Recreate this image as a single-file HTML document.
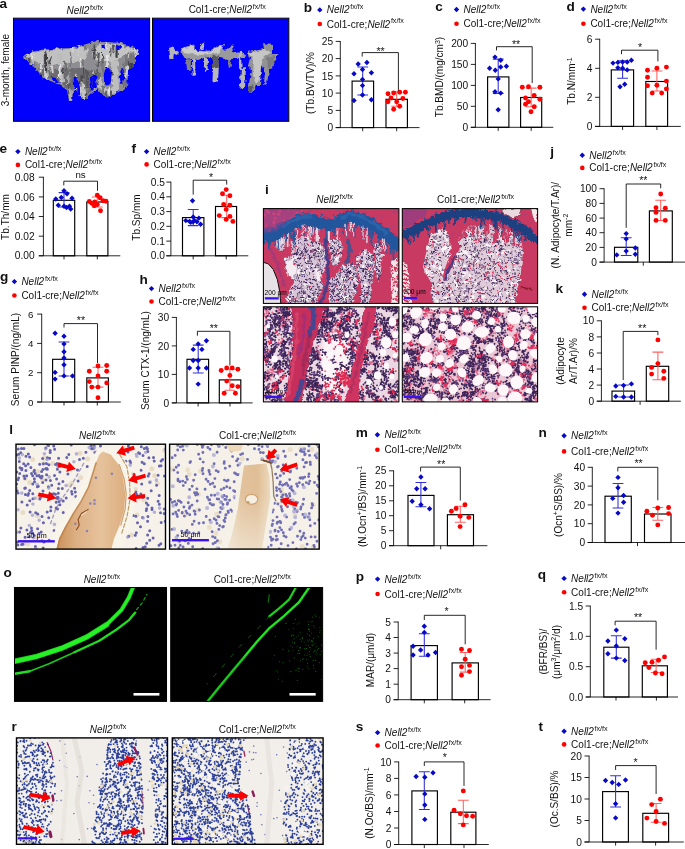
<!DOCTYPE html>
<html lang="en"><head><meta charset="utf-8"><title>Figure</title>
<style>html,body{margin:0;padding:0;background:#fff}svg{display:block}</style>
</head><body>
<svg width="685" height="849" viewBox="0 0 685 849" font-family='"Liberation Sans", Arial, Helvetica, sans-serif' fill="#111">
<defs>
<filter id="rough" x="-5%" y="-5%" width="110%" height="110%"><feTurbulence type="fractalNoise" baseFrequency="0.25" numOctaves="2" seed="3" result="n"/><feDisplacementMap in="SourceGraphic" in2="n" scale="4" xChannelSelector="R" yChannelSelector="G"/><feGaussianBlur stdDeviation="0.35"/></filter>
<clipPath id="cp1"><rect x="13.5" y="18.2" width="136.1" height="103.1"/></clipPath>
<clipPath id="cs2"><path d="M24 55L33 51.6L45 49.6L58 48.4L73 48L82 45L90 43L97 41L107 42L121 43L133 47L138.6 50L136 58L133 66L128 70L127 86L124 90L117 92L113 95L107 97L101 94L97 88L93 92L87 98L81 99L77 90L73 92L72 101L69 101L67 90L61 86L53 82L43 78L37 70L31 65L25 60Z"/></clipPath>
<clipPath id="cp3"><rect x="152.5" y="18.2" width="136.3" height="103.1"/></clipPath>
<filter id="rough3" x="-5%" y="-30%" width="110%" height="160%"><feTurbulence type="fractalNoise" baseFrequency="0.35" numOctaves="2" seed="5" result="n"/><feDisplacementMap in="SourceGraphic" in2="n" scale="7" xChannelSelector="R" yChannelSelector="G"/></filter>
<filter id="rough2" x="-5%" y="-5%" width="110%" height="110%"><feTurbulence type="fractalNoise" baseFrequency="0.18" numOctaves="2" seed="8" result="n"/><feDisplacementMap in="SourceGraphic" in2="n" scale="5" xChannelSelector="R" yChannelSelector="G"/><feGaussianBlur stdDeviation="0.4"/></filter>
<clipPath id="cp4"><rect x="263.4" y="208.6" width="135.5" height="94.8"/></clipPath>
<clipPath id="cp5"><rect x="402.3" y="208.6" width="135.3" height="94.8"/></clipPath>
<clipPath id="cp6"><rect x="263.4" y="306.8" width="135.5" height="95.1"/></clipPath>
<clipPath id="cp7"><rect x="402.3" y="306.8" width="135.3" height="95.1"/></clipPath>
<filter id="soft"><feGaussianBlur stdDeviation="0.6"/></filter>
<filter id="soft2"><feGaussianBlur stdDeviation="1.4"/></filter>
<linearGradient id="bone1" x1="0" y1="0" x2="1" y2="0"><stop offset="0" stop-color="#cb9058"/><stop offset="0.3" stop-color="#ddb084"/><stop offset="0.65" stop-color="#e6c29c"/><stop offset="1" stop-color="#dcae7e"/></linearGradient>
<linearGradient id="fadeb" x1="0" y1="0" x2="0" y2="1"><stop offset="0.35" stop-color="#f5f1e8" stop-opacity="0"/><stop offset="1" stop-color="#f5f1e8" stop-opacity="0.6"/></linearGradient>
<linearGradient id="bone2" x1="0" y1="0" x2="1" y2="0"><stop offset="0" stop-color="#ecd9bc"/><stop offset="0.35" stop-color="#e2c29c"/><stop offset="0.7" stop-color="#e0be96"/><stop offset="1" stop-color="#ecdabd"/></linearGradient>
<clipPath id="cp8"><rect x="16" y="444.2" width="149.5" height="104.9"/></clipPath>
<clipPath id="cp9"><rect x="169.6" y="444.2" width="149.6" height="104.9"/></clipPath>
<clipPath id="cp10"><rect x="14.5" y="587.5" width="152" height="113.9"/></clipPath>
<clipPath id="cp11"><rect x="170.7" y="587.5" width="151.9" height="113.9"/></clipPath>
<clipPath id="cp12"><rect x="16.5" y="737.9" width="151" height="106.4"/></clipPath>
<clipPath id="cp13"><rect x="172.3" y="737.9" width="150.8" height="106.4"/></clipPath>
</defs>
<text x="303.8" y="12.1" font-size="13.6" font-weight="bold">b</text>
<path d="M317.1 9.9L319.8 7.2L322.5 9.9L319.8 12.6Z" fill="#0808c8"/>
<text x="326.8" y="13.4" font-size="10" text-anchor="start"><tspan font-style="italic">Nell2</tspan><tspan font-size="7.1" dy="-4.1" dx="0.7">fx/fx</tspan></text>
<circle cx="319.8" cy="24" r="2.3" fill="#ff0000"/>
<text x="326.8" y="27.5" font-size="10" text-anchor="start">Col1-cre;<tspan font-style="italic">Nell2</tspan><tspan font-size="7.1" dy="-4.1" dx="0.7">fx/fx</tspan></text>
<text transform="translate(314.2 83) rotate(-90)" font-size="10.05" text-anchor="middle">(Tb.BV/TV)/%</text>
<rect x="352.1" y="81.1" width="21.5" height="46.5" fill="#fff" stroke="#000" stroke-width="1.15"/>
<rect x="386" y="99.3" width="21.4" height="28.3" fill="#fff" stroke="#000" stroke-width="1.15"/>
<path d="M340.3 41V127.6M335.7 127.6H419.5M335.7 41.4H340.3M335.7 58.6H340.3M335.7 75.9H340.3M335.7 93.1H340.3M335.7 110.4H340.3M335.7 127.6H340.3M362.7 127.6V131.2M396.7 127.6V131.2" stroke="#000" stroke-width="0.85" fill="none"/>
<text x="333.1" y="45" font-size="10.2" text-anchor="end">25</text>
<text x="333.1" y="62.2" font-size="10.2" text-anchor="end">20</text>
<text x="333.1" y="79.5" font-size="10.2" text-anchor="end">15</text>
<text x="333.1" y="96.7" font-size="10.2" text-anchor="end">10</text>
<text x="333.1" y="114" font-size="10.2" text-anchor="end">5</text>
<text x="333.1" y="131.2" font-size="10.2" text-anchor="end">0</text>
<path d="M362.7 67V95M357.3 67H368.1M357.3 95H368.1" stroke="#3030d8" stroke-width="1.05" fill="none"/>
<path d="M396.7 91.8V106.2M391.3 91.8H402.1M391.3 106.2H402.1" stroke="#ff6060" stroke-width="1.05" fill="none"/>
<path d="M355.5 64L358.2 61.3L360.9 64L358.2 66.7ZM364.2 62.5L366.9 59.8L369.6 62.5L366.9 65.2ZM351.3 73.7L354 71L356.7 73.7L354 76.4ZM359.8 69.5L362.5 66.8L365.2 69.5L362.5 72.2ZM368.7 72.7L371.4 70L374.1 72.7L371.4 75.4ZM359.8 79.4L362.5 76.7L365.2 79.4L362.5 82.1ZM359.8 85.6L362.5 82.9L365.2 85.6L362.5 88.3ZM359.8 95L362.5 92.3L365.2 95L362.5 97.7ZM351.3 100.5L354 97.8L356.7 100.5L354 103.2ZM368.7 99.8L371.4 97.1L374.1 99.8L371.4 102.5Z" fill="#0808c8"/>
<circle cx="388" cy="93.8" r="2.45" fill="#ff0000"/>
<circle cx="393.7" cy="93" r="2.45" fill="#ff0000"/>
<circle cx="399.7" cy="92.3" r="2.45" fill="#ff0000"/>
<circle cx="405.4" cy="92.3" r="2.45" fill="#ff0000"/>
<circle cx="391" cy="98" r="2.45" fill="#ff0000"/>
<circle cx="402.9" cy="98.5" r="2.45" fill="#ff0000"/>
<circle cx="388" cy="101.7" r="2.45" fill="#ff0000"/>
<circle cx="396.7" cy="101.7" r="2.45" fill="#ff0000"/>
<circle cx="399.7" cy="106.2" r="2.45" fill="#ff0000"/>
<circle cx="393.7" cy="109.2" r="2.45" fill="#ff0000"/>
<path d="M362.2 56.6V52.6H398.4V90.6" stroke="#000" stroke-width="0.85" fill="none"/>
<text x="380.6" y="54.8" font-size="10.6" text-anchor="middle">**</text>
<text x="435.3" y="10.6" font-size="13.6" font-weight="bold">c</text>
<path d="M453.8 9.5L456.5 6.8L459.2 9.5L456.5 12.2Z" fill="#0808c8"/>
<text x="463.5" y="13" font-size="10" text-anchor="start"><tspan font-style="italic">Nell2</tspan><tspan font-size="7.1" dy="-4.1" dx="0.7">fx/fx</tspan></text>
<circle cx="456.5" cy="23.8" r="2.3" fill="#ff0000"/>
<text x="463.5" y="27.3" font-size="10" text-anchor="start">Col1-cre;<tspan font-style="italic">Nell2</tspan><tspan font-size="7.1" dy="-4.1" dx="0.7">fx/fx</tspan></text>
<text transform="translate(443.4 77) rotate(-90)" font-size="10.05" text-anchor="middle">Tb.BMD/(mg/cm<tspan font-size="7" dy="-3.8">3</tspan><tspan dy="3.8">)</tspan></text>
<rect x="487.6" y="76.9" width="21.3" height="50.4" fill="#fff" stroke="#000" stroke-width="1.15"/>
<rect x="520.6" y="97.5" width="21.1" height="29.8" fill="#fff" stroke="#000" stroke-width="1.15"/>
<path d="M475.4 43V127.3M470.8 127.3H553.3M470.8 43.4H475.4M470.8 64.4H475.4M470.8 85.4H475.4M470.8 106.3H475.4M470.8 127.3H475.4M498.2 127.3V130.9M531.2 127.3V130.9" stroke="#000" stroke-width="0.85" fill="none"/>
<text x="468.2" y="47" font-size="10.2" text-anchor="end">200</text>
<text x="468.2" y="68" font-size="10.2" text-anchor="end">150</text>
<text x="468.2" y="89" font-size="10.2" text-anchor="end">100</text>
<text x="468.2" y="109.9" font-size="10.2" text-anchor="end">50</text>
<text x="468.2" y="130.9" font-size="10.2" text-anchor="end">0</text>
<path d="M498.2 59.1V93.5M492.8 59.1H503.6M492.8 93.5H503.6" stroke="#3030d8" stroke-width="1.05" fill="none"/>
<path d="M531.2 88.1V106.7M525.8 88.1H536.6M525.8 106.7H536.6" stroke="#ff6060" stroke-width="1.05" fill="none"/>
<path d="M492.3 57.1L495 54.4L497.7 57.1L495 59.8ZM498 60.3L500.7 57.6L503.4 60.3L500.7 63ZM486.9 68.2L489.6 65.5L492.3 68.2L489.6 70.9ZM492.6 70.2L495.3 67.5L498 70.2L495.3 72.9ZM498 67L500.7 64.3L503.4 67L500.7 69.7ZM503.7 66.3L506.4 63.6L509.1 66.3L506.4 69ZM495.5 78.9L498.2 76.2L500.9 78.9L498.2 81.6ZM492.3 91.8L495 89.1L497.7 91.8L495 94.5ZM498 93.1L500.7 90.4L503.4 93.1L500.7 95.8ZM495.5 109.7L498.2 107L500.9 109.7L498.2 112.4Z" fill="#0808c8"/>
<circle cx="522.3" cy="87.3" r="2.45" fill="#ff0000"/>
<circle cx="528.5" cy="86.8" r="2.45" fill="#ff0000"/>
<circle cx="539.9" cy="87.3" r="2.45" fill="#ff0000"/>
<circle cx="525.5" cy="98" r="2.45" fill="#ff0000"/>
<circle cx="534.2" cy="95.5" r="2.45" fill="#ff0000"/>
<circle cx="539.9" cy="99.3" r="2.45" fill="#ff0000"/>
<circle cx="528.5" cy="101.7" r="2.45" fill="#ff0000"/>
<circle cx="525.5" cy="104.2" r="2.45" fill="#ff0000"/>
<circle cx="534.2" cy="106.7" r="2.45" fill="#ff0000"/>
<circle cx="531" cy="111.7" r="2.45" fill="#ff0000"/>
<path d="M496.5 50.4V46.7H532.2V83.1" stroke="#000" stroke-width="0.85" fill="none"/>
<text x="516" y="47.9" font-size="10.6" text-anchor="middle">**</text>
<text x="566.5" y="11.3" font-size="13.6" font-weight="bold">d</text>
<path d="M580.7 9.1L583.4 6.4L586.1 9.1L583.4 11.8Z" fill="#0808c8"/>
<text x="590.4" y="12.6" font-size="10" text-anchor="start"><tspan font-style="italic">Nell2</tspan><tspan font-size="7.1" dy="-4.1" dx="0.7">fx/fx</tspan></text>
<circle cx="583.4" cy="23.7" r="2.3" fill="#ff0000"/>
<text x="590.4" y="27.2" font-size="10" text-anchor="start">Col1-cre;<tspan font-style="italic">Nell2</tspan><tspan font-size="7.1" dy="-4.1" dx="0.7">fx/fx</tspan></text>
<text transform="translate(575.4 81) rotate(-90)" font-size="10.05" text-anchor="middle">Tb.N/mm<tspan font-size="7" dy="-3.8">-1</tspan></text>
<rect x="611.3" y="69.9" width="22.3" height="56.5" fill="#fff" stroke="#000" stroke-width="1.15"/>
<rect x="645.8" y="81.5" width="21.8" height="44.9" fill="#fff" stroke="#000" stroke-width="1.15"/>
<path d="M599.7 38.8V126.4M595.1 126.4H680.8M595.1 39.2H599.7M595.1 68.3H599.7M595.1 97.3H599.7M595.1 126.4H599.7M622.6 126.4V130M656.9 126.4V130" stroke="#000" stroke-width="0.85" fill="none"/>
<text x="592.5" y="42.8" font-size="10.2" text-anchor="end">6</text>
<text x="592.5" y="71.9" font-size="10.2" text-anchor="end">4</text>
<text x="592.5" y="100.9" font-size="10.2" text-anchor="end">2</text>
<text x="592.5" y="130" font-size="10.2" text-anchor="end">0</text>
<path d="M622.6 60.8V78.3M617.2 60.8H628M617.2 78.3H628" stroke="#3030d8" stroke-width="1.05" fill="none"/>
<path d="M656.9 70.9V91M651.5 70.9H662.3M651.5 91H662.3" stroke="#ff6060" stroke-width="1.05" fill="none"/>
<path d="M610.3 63.1L613 60.4L615.7 63.1L613 65.8ZM615.2 62.4L617.9 59.7L620.6 62.4L617.9 65.1ZM619.9 62L622.6 59.3L625.3 62L622.6 64.7ZM624.5 62L627.2 59.3L629.9 62L627.2 64.7ZM628.7 60.3L631.4 57.6L634.1 60.3L631.4 63ZM615.2 67.7L617.9 65L620.6 67.7L617.9 70.4ZM619.9 68.2L622.6 65.5L625.3 68.2L622.6 70.9ZM624.5 69.9L627.2 67.2L629.9 69.9L627.2 72.6ZM622 84.3L624.7 81.6L627.4 84.3L624.7 87ZM617.3 86.8L620 84.1L622.7 86.8L620 89.5Z" fill="#0808c8"/>
<circle cx="647.5" cy="70.3" r="2.45" fill="#ff0000"/>
<circle cx="656.9" cy="68.2" r="2.45" fill="#ff0000"/>
<circle cx="666.4" cy="67.1" r="2.45" fill="#ff0000"/>
<circle cx="647.5" cy="77.3" r="2.45" fill="#ff0000"/>
<circle cx="666.4" cy="81.1" r="2.45" fill="#ff0000"/>
<circle cx="647.5" cy="85.7" r="2.45" fill="#ff0000"/>
<circle cx="656.9" cy="85.3" r="2.45" fill="#ff0000"/>
<circle cx="666.4" cy="88.9" r="2.45" fill="#ff0000"/>
<circle cx="652.2" cy="93.1" r="2.45" fill="#ff0000"/>
<circle cx="661.7" cy="93.1" r="2.45" fill="#ff0000"/>
<path d="M621.5 54.2V50.2H657.9V61.4" stroke="#000" stroke-width="0.85" fill="none"/>
<text x="640.1" y="50.7" font-size="10.6" text-anchor="middle">*</text>
<text x="-0.4" y="153.4" font-size="13.6" font-weight="bold">e</text>
<path d="M15.2 151.6L17.9 148.9L20.6 151.6L17.9 154.3Z" fill="#0808c8"/>
<text x="24.9" y="155.1" font-size="10" text-anchor="start"><tspan font-style="italic">Nell2</tspan><tspan font-size="7.1" dy="-4.1" dx="0.7">fx/fx</tspan></text>
<circle cx="17.9" cy="164.9" r="2.3" fill="#ff0000"/>
<text x="24.9" y="168.4" font-size="10" text-anchor="start">Col1-cre;<tspan font-style="italic">Nell2</tspan><tspan font-size="7.1" dy="-4.1" dx="0.7">fx/fx</tspan></text>
<text transform="translate(8.8 217) rotate(-90)" font-size="10.05" text-anchor="middle">Tb.Th/mm</text>
<rect x="53.3" y="200.3" width="21.4" height="55.5" fill="#fff" stroke="#000" stroke-width="1.15"/>
<rect x="86.8" y="202" width="21.1" height="53.8" fill="#fff" stroke="#000" stroke-width="1.15"/>
<path d="M43.4 176.8V255.8M38.8 255.8H120.3M38.8 177.2H43.4M38.8 196.9H43.4M38.8 216.5H43.4M38.8 236.2H43.4M38.8 255.8H43.4M64 255.8V259.4M97.3 255.8V259.4" stroke="#000" stroke-width="0.85" fill="none"/>
<text x="34.6" y="180.8" font-size="10.2" text-anchor="end">0.08</text>
<text x="34.6" y="200.5" font-size="10.2" text-anchor="end">0.06</text>
<text x="34.6" y="220.1" font-size="10.2" text-anchor="end">0.04</text>
<text x="34.6" y="239.8" font-size="10.2" text-anchor="end">0.02</text>
<text x="34.6" y="259.4" font-size="10.2" text-anchor="end">0.00</text>
<path d="M64 192.6V207M58.6 192.6H69.4M58.6 207H69.4" stroke="#3030d8" stroke-width="1.05" fill="none"/>
<path d="M97.3 197V207M91.9 197H102.7M91.9 207H102.7" stroke="#ff6060" stroke-width="1.05" fill="none"/>
<path d="M61.3 190.8L64 188.1L66.7 190.8L64 193.5ZM64.3 193.8L67 191.1L69.7 193.8L67 196.5ZM53.1 199L55.8 196.3L58.5 199L55.8 201.7ZM58.6 197.5L61.3 194.8L64 197.5L61.3 200.2ZM69.3 198.3L72 195.6L74.7 198.3L72 201ZM55.6 205.2L58.3 202.5L61 205.2L58.3 207.9ZM61.3 206.2L64 203.5L66.7 206.2L64 208.9ZM66.8 206.2L69.5 203.5L72.2 206.2L69.5 208.9ZM63.8 207.5L66.5 204.8L69.2 207.5L66.5 210.2ZM68 209L70.7 206.3L73.4 209L70.7 211.7Z" fill="#0808c8"/>
<circle cx="97.3" cy="195.3" r="2.45" fill="#ff0000"/>
<circle cx="100" cy="197.8" r="2.45" fill="#ff0000"/>
<circle cx="89.3" cy="201.5" r="2.45" fill="#ff0000"/>
<circle cx="94.8" cy="202" r="2.45" fill="#ff0000"/>
<circle cx="103" cy="200.8" r="2.45" fill="#ff0000"/>
<circle cx="106" cy="201.3" r="2.45" fill="#ff0000"/>
<circle cx="91.8" cy="203.2" r="2.45" fill="#ff0000"/>
<circle cx="97.3" cy="204.5" r="2.45" fill="#ff0000"/>
<circle cx="94.3" cy="205.7" r="2.45" fill="#ff0000"/>
<circle cx="100.5" cy="210.7" r="2.45" fill="#ff0000"/>
<path d="M63.8 185.4V181.2H97.5V190.8" stroke="#000" stroke-width="0.85" fill="none"/>
<text x="80.6" y="177.9" font-size="9.7" text-anchor="middle">ns</text>
<text x="131.5" y="153.2" font-size="13.6" font-weight="bold">f</text>
<path d="M143.9 151.6L146.6 148.9L149.3 151.6L146.6 154.3Z" fill="#0808c8"/>
<text x="153.6" y="155.1" font-size="10" text-anchor="start"><tspan font-style="italic">Nell2</tspan><tspan font-size="7.1" dy="-4.1" dx="0.7">fx/fx</tspan></text>
<circle cx="146.6" cy="164.4" r="2.3" fill="#ff0000"/>
<text x="153.6" y="167.9" font-size="10" text-anchor="start">Col1-cre;<tspan font-style="italic">Nell2</tspan><tspan font-size="7.1" dy="-4.1" dx="0.7">fx/fx</tspan></text>
<text transform="translate(140.2 217.5) rotate(-90)" font-size="10.05" text-anchor="middle">Tb.Sp/mm</text>
<rect x="182.5" y="217.6" width="21.4" height="38.2" fill="#fff" stroke="#000" stroke-width="1.15"/>
<rect x="215.5" y="206.5" width="21.1" height="49.3" fill="#fff" stroke="#000" stroke-width="1.15"/>
<path d="M170.9 181.7V255.8M166.3 255.8H248.3M166.3 182.1H170.9M166.3 196.8H170.9M166.3 211.6H170.9M166.3 226.3H170.9M166.3 241.1H170.9M166.3 255.8H170.9M193.2 255.8V259.4M226.2 255.8V259.4" stroke="#000" stroke-width="0.85" fill="none"/>
<text x="164.9" y="185.7" font-size="10.2" text-anchor="end">0.5</text>
<text x="164.9" y="200.4" font-size="10.2" text-anchor="end">0.4</text>
<text x="164.9" y="215.2" font-size="10.2" text-anchor="end">0.3</text>
<text x="164.9" y="229.9" font-size="10.2" text-anchor="end">0.2</text>
<text x="164.9" y="244.7" font-size="10.2" text-anchor="end">0.1</text>
<text x="164.9" y="259.4" font-size="10.2" text-anchor="end">0.0</text>
<path d="M193.2 209.4V225.6M187.8 209.4H198.6M187.8 225.6H198.6" stroke="#3030d8" stroke-width="1.05" fill="none"/>
<path d="M226.7 195.3V217.6M221.3 195.3H232.1M221.3 217.6H232.1" stroke="#ff6060" stroke-width="1.05" fill="none"/>
<path d="M189.8 200.8L192.5 198.1L195.2 200.8L192.5 203.5ZM190.5 216.9L193.2 214.2L195.9 216.9L193.2 219.6ZM196.2 218.1L198.9 215.4L201.6 218.1L198.9 220.8ZM183.1 220.6L185.8 217.9L188.5 220.6L185.8 223.3ZM186.8 221.4L189.5 218.7L192.2 221.4L189.5 224.1ZM190.5 221.8L193.2 219.1L195.9 221.8L193.2 224.5ZM194.2 221.8L196.9 219.1L199.6 221.8L196.9 224.5ZM188 222.3L190.7 219.6L193.4 222.3L190.7 225ZM197.9 224.3L200.6 221.6L203.3 224.3L200.6 227ZM191.7 220.6L194.4 217.9L197.1 220.6L194.4 223.3Z" fill="#0808c8"/>
<circle cx="226.2" cy="189.6" r="2.45" fill="#ff0000"/>
<circle cx="222.5" cy="193.8" r="2.45" fill="#ff0000"/>
<circle cx="229.9" cy="195.8" r="2.45" fill="#ff0000"/>
<circle cx="223.7" cy="204.5" r="2.45" fill="#ff0000"/>
<circle cx="229.9" cy="205.2" r="2.45" fill="#ff0000"/>
<circle cx="226.2" cy="209.4" r="2.45" fill="#ff0000"/>
<circle cx="219.3" cy="215.6" r="2.45" fill="#ff0000"/>
<circle cx="229.9" cy="216.4" r="2.45" fill="#ff0000"/>
<circle cx="226.2" cy="219.4" r="2.45" fill="#ff0000"/>
<circle cx="232.9" cy="221.4" r="2.45" fill="#ff0000"/>
<path d="M193.2 194.6V180.2H226.7V184.6" stroke="#000" stroke-width="0.85" fill="none"/>
<text x="211" y="181.2" font-size="10.6" text-anchor="middle">*</text>
<text x="0" y="281" font-size="13.6" font-weight="bold">g</text>
<path d="M11.7 281.6L14.4 278.9L17.1 281.6L14.4 284.3Z" fill="#0808c8"/>
<text x="21.4" y="285.1" font-size="10" text-anchor="start"><tspan font-style="italic">Nell2</tspan><tspan font-size="7.1" dy="-4.1" dx="0.7">fx/fx</tspan></text>
<circle cx="14.4" cy="295.5" r="2.3" fill="#ff0000"/>
<text x="21.4" y="299" font-size="10" text-anchor="start">Col1-cre;<tspan font-style="italic">Nell2</tspan><tspan font-size="7.1" dy="-4.1" dx="0.7">fx/fx</tspan></text>
<text transform="translate(19 359.5) rotate(-90)" font-size="10.05" text-anchor="middle">Serum PINP/(ng/mL)</text>
<rect x="52.6" y="359.3" width="22.1" height="42.7" fill="#fff" stroke="#000" stroke-width="1.15"/>
<rect x="86.8" y="377.9" width="21.6" height="24.1" fill="#fff" stroke="#000" stroke-width="1.15"/>
<path d="M41.7 313.7V402M37.1 402H120.8M37.1 314.1H41.7M37.1 343.4H41.7M37.1 372.7H41.7M37.1 402H41.7M64 402V405.6M97.3 402V405.6" stroke="#000" stroke-width="0.85" fill="none"/>
<text x="33.3" y="317.7" font-size="9.7" text-anchor="end">6</text>
<text x="33.3" y="347" font-size="9.7" text-anchor="end">4</text>
<text x="33.3" y="376.3" font-size="9.7" text-anchor="end">2</text>
<text x="33.3" y="405.6" font-size="9.7" text-anchor="end">0</text>
<path d="M64 341.9V375.9M58.6 341.9H69.4M58.6 375.9H69.4" stroke="#3030d8" stroke-width="1.05" fill="none"/>
<path d="M98 367.2V387.1M92.6 367.2H103.4M92.6 387.1H103.4" stroke="#ff6060" stroke-width="1.05" fill="none"/>
<path d="M52.4 333.2L55.1 330.5L57.8 333.2L55.1 335.9ZM61.3 336.2L64 333.5L66.7 336.2L64 338.9ZM61.3 343.9L64 341.2L66.7 343.9L64 346.6ZM61.3 351.8L64 349.1L66.7 351.8L64 354.5ZM61.3 358L64 355.3L66.7 358L64 360.7ZM61.3 364.8L64 362.1L66.7 364.8L64 367.5ZM52.4 372.4L55.1 369.7L57.8 372.4L55.1 375.1ZM61.3 375.9L64 373.2L66.7 375.9L64 378.6ZM69.8 375.9L72.5 373.2L75.2 375.9L72.5 378.6ZM52.4 379.1L55.1 376.4L57.8 379.1L55.1 381.8Z" fill="#0808c8"/>
<circle cx="98" cy="366" r="2.45" fill="#ff0000"/>
<circle cx="106.7" cy="365.5" r="2.45" fill="#ff0000"/>
<circle cx="89.3" cy="371.2" r="2.45" fill="#ff0000"/>
<circle cx="106.7" cy="371.2" r="2.45" fill="#ff0000"/>
<circle cx="98" cy="375.9" r="2.45" fill="#ff0000"/>
<circle cx="89.3" cy="381.6" r="2.45" fill="#ff0000"/>
<circle cx="106.7" cy="382.9" r="2.45" fill="#ff0000"/>
<circle cx="91.8" cy="387.1" r="2.45" fill="#ff0000"/>
<circle cx="98" cy="387.1" r="2.45" fill="#ff0000"/>
<circle cx="98" cy="397.8" r="2.45" fill="#ff0000"/>
<path d="M64 327.5V323.6H97.5V363" stroke="#000" stroke-width="0.85" fill="none"/>
<text x="80.9" y="323.5" font-size="10.6" text-anchor="middle">**</text>
<text x="139.6" y="284.4" font-size="13.6" font-weight="bold">h</text>
<path d="M148.8 288.6L151.5 285.9L154.2 288.6L151.5 291.3Z" fill="#0808c8"/>
<text x="158.5" y="292.1" font-size="10" text-anchor="start"><tspan font-style="italic">Nell2</tspan><tspan font-size="7.1" dy="-4.1" dx="0.7">fx/fx</tspan></text>
<circle cx="151.5" cy="301.5" r="2.3" fill="#ff0000"/>
<text x="158.5" y="305" font-size="10" text-anchor="start">Col1-cre;<tspan font-style="italic">Nell2</tspan><tspan font-size="7.1" dy="-4.1" dx="0.7">fx/fx</tspan></text>
<text transform="translate(148.6 360.5) rotate(-90)" font-size="10.05" text-anchor="middle">Serum CTX-1/(ng/mL)</text>
<rect x="187" y="359.3" width="21.6" height="43.6" fill="#fff" stroke="#000" stroke-width="1.15"/>
<rect x="219.3" y="379.9" width="21.5" height="23" fill="#fff" stroke="#000" stroke-width="1.15"/>
<path d="M176.4 317V402.9M171.8 402.9H252.7M171.8 317.4H176.4M171.8 345.9H176.4M171.8 374.4H176.4M171.8 402.9H176.4M198.1 402.9V406.5M230 402.9V406.5" stroke="#000" stroke-width="0.85" fill="none"/>
<text x="169.2" y="321" font-size="10.2" text-anchor="end">30</text>
<text x="169.2" y="349.5" font-size="10.2" text-anchor="end">20</text>
<text x="169.2" y="378" font-size="10.2" text-anchor="end">10</text>
<text x="169.2" y="406.5" font-size="10.2" text-anchor="end">0</text>
<path d="M198.2 345.1V372.9M192.8 345.1H203.6M192.8 372.9H203.6" stroke="#3030d8" stroke-width="1.05" fill="none"/>
<path d="M229.9 369.2V390.3M224.5 369.2H235.3M224.5 390.3H235.3" stroke="#ff6060" stroke-width="1.05" fill="none"/>
<path d="M203.7 340.7L206.4 338L209.1 340.7L206.4 343.4ZM195.5 343.9L198.2 341.2L200.9 343.9L198.2 346.6ZM190.5 349.4L193.2 346.7L195.9 349.4L193.2 352.1ZM199.2 349.4L201.9 346.7L204.6 349.4L201.9 352.1ZM195.5 360.5L198.2 357.8L200.9 360.5L198.2 363.2ZM190.5 360.5L193.2 357.8L195.9 360.5L193.2 363.2ZM186.8 368L189.5 365.3L192.2 368L189.5 370.7ZM195.5 368L198.2 365.3L200.9 368L198.2 370.7ZM203.7 368L206.4 365.3L209.1 368L206.4 370.7ZM195.5 384.1L198.2 381.4L200.9 384.1L198.2 386.8Z" fill="#0808c8"/>
<circle cx="221.2" cy="370.5" r="2.45" fill="#ff0000"/>
<circle cx="226.7" cy="368" r="2.45" fill="#ff0000"/>
<circle cx="232.2" cy="368" r="2.45" fill="#ff0000"/>
<circle cx="237.9" cy="369.2" r="2.45" fill="#ff0000"/>
<circle cx="229.9" cy="375.4" r="2.45" fill="#ff0000"/>
<circle cx="226.7" cy="381.1" r="2.45" fill="#ff0000"/>
<circle cx="232.2" cy="385.8" r="2.45" fill="#ff0000"/>
<circle cx="237.9" cy="386.6" r="2.45" fill="#ff0000"/>
<circle cx="224.2" cy="393.3" r="2.45" fill="#ff0000"/>
<circle cx="235.4" cy="393.3" r="2.45" fill="#ff0000"/>
<path d="M197.4 335.7V331.3H229.9V365.5" stroke="#000" stroke-width="0.85" fill="none"/>
<text x="213.8" y="331.5" font-size="10.6" text-anchor="middle">**</text>
<text x="550.2" y="155.9" font-size="13.6" font-weight="bold">j</text>
<path d="M579.6 155.2L582.3 152.5L585 155.2L582.3 157.9Z" fill="#0808c8"/>
<text x="589.3" y="158.7" font-size="10" text-anchor="start"><tspan font-style="italic">Nell2</tspan><tspan font-size="7.1" dy="-4.1" dx="0.7">fx/fx</tspan></text>
<circle cx="582.3" cy="167.9" r="2.3" fill="#ff0000"/>
<text x="589.3" y="171.4" font-size="10" text-anchor="start">Col1-cre;<tspan font-style="italic">Nell2</tspan><tspan font-size="7.1" dy="-4.1" dx="0.7">fx/fx</tspan></text>
<text transform="translate(559.2 225.2) rotate(-90)" font-size="10.05" text-anchor="middle">(N. Adipocyte/T.Ar)/</text>
<text transform="translate(572 225.2) rotate(-90)" font-size="10.05" text-anchor="middle">mm<tspan font-size="7" dy="-3.8">-2</tspan></text>
<rect x="614.5" y="247.3" width="23.3" height="14.8" fill="#fff" stroke="#000" stroke-width="1.15"/>
<rect x="649.4" y="210.9" width="22.9" height="51.2" fill="#fff" stroke="#000" stroke-width="1.15"/>
<path d="M604.1 188.3V262.1M599.5 262.1H686M599.5 188.7H604.1M599.5 203.4H604.1M599.5 218.1H604.1M599.5 232.7H604.1M599.5 247.4H604.1M599.5 262.1H604.1M643.3 262.1V265.7" stroke="#000" stroke-width="0.85" fill="none"/>
<text x="596.9" y="192.3" font-size="10.2" text-anchor="end">100</text>
<text x="596.9" y="207" font-size="10.2" text-anchor="end">80</text>
<text x="596.9" y="221.7" font-size="10.2" text-anchor="end">60</text>
<text x="596.9" y="236.3" font-size="10.2" text-anchor="end">40</text>
<text x="596.9" y="251" font-size="10.2" text-anchor="end">20</text>
<text x="596.9" y="265.7" font-size="10.2" text-anchor="end">0</text>
<path d="M626.2 237.8V255.4M620.8 237.8H631.6M620.8 255.4H631.6" stroke="#3030d8" stroke-width="1.05" fill="none"/>
<path d="M660.7 200.3V220.4M655.3 200.3H666.1M655.3 220.4H666.1" stroke="#ff6060" stroke-width="1.05" fill="none"/>
<path d="M623.5 233.6L626.2 230.9L628.9 233.6L626.2 236.3ZM623.5 238.9L626.2 236.2L628.9 238.9L626.2 241.6ZM632.6 248L635.3 245.3L638 248L635.3 250.7ZM614.1 254.9L616.8 252.2L619.5 254.9L616.8 257.6ZM623.5 251.1L626.2 248.4L628.9 251.1L626.2 253.8ZM632.6 254.3L635.3 251.6L638 254.3L635.3 257Z" fill="#0808c8"/>
<circle cx="660.7" cy="194" r="2.45" fill="#ff0000"/>
<circle cx="656" cy="207.7" r="2.45" fill="#ff0000"/>
<circle cx="665.3" cy="208.2" r="2.45" fill="#ff0000"/>
<circle cx="656" cy="212.4" r="2.45" fill="#ff0000"/>
<circle cx="656" cy="220.4" r="2.45" fill="#ff0000"/>
<circle cx="665.3" cy="220.4" r="2.45" fill="#ff0000"/>
<path d="M626.2 227.8V184H660.7V188.3" stroke="#000" stroke-width="0.85" fill="none"/>
<text x="643.3" y="184.4" font-size="10.6" text-anchor="middle">**</text>
<text x="555.6" y="293.3" font-size="13.6" font-weight="bold">k</text>
<path d="M581.8 294.3L584.5 291.6L587.2 294.3L584.5 297Z" fill="#0808c8"/>
<text x="591.5" y="297.8" font-size="10" text-anchor="start"><tspan font-style="italic">Nell2</tspan><tspan font-size="7.1" dy="-4.1" dx="0.7">fx/fx</tspan></text>
<circle cx="584.5" cy="307.7" r="2.3" fill="#ff0000"/>
<text x="591.5" y="311.2" font-size="10" text-anchor="start">Col1-cre;<tspan font-style="italic">Nell2</tspan><tspan font-size="7.1" dy="-4.1" dx="0.7">fx/fx</tspan></text>
<text transform="translate(564.4 361) rotate(-90)" font-size="10.05" text-anchor="middle">(Adipocyte</text>
<text transform="translate(577.2 361) rotate(-90)" font-size="10.05" text-anchor="middle">Ar/T.Ar)/%</text>
<rect x="612" y="391.1" width="22.6" height="10.1" fill="#fff" stroke="#000" stroke-width="1.15"/>
<rect x="646.3" y="366.3" width="22.4" height="34.9" fill="#fff" stroke="#000" stroke-width="1.15"/>
<path d="M601.4 320.4V401.2M596.8 401.2H680.8M596.8 320.8H601.4M596.8 336.9H601.4M596.8 353H601.4M596.8 369H601.4M596.8 385.1H601.4M596.8 401.2H601.4M640.1 401.2V404.8" stroke="#000" stroke-width="0.85" fill="none"/>
<text x="594.2" y="324.4" font-size="10.2" text-anchor="end">10</text>
<text x="594.2" y="340.5" font-size="10.2" text-anchor="end">8</text>
<text x="594.2" y="356.6" font-size="10.2" text-anchor="end">6</text>
<text x="594.2" y="372.6" font-size="10.2" text-anchor="end">4</text>
<text x="594.2" y="388.7" font-size="10.2" text-anchor="end">2</text>
<text x="594.2" y="404.8" font-size="10.2" text-anchor="end">0</text>
<path d="M623.6 384.9V397M618.2 384.9H629M618.2 397H629" stroke="#3030d8" stroke-width="1.05" fill="none"/>
<path d="M657.9 352.1V379.7M652.5 352.1H663.3M652.5 379.7H663.3" stroke="#ff6060" stroke-width="1.05" fill="none"/>
<path d="M613.1 386L615.8 383.3L618.5 386L615.8 388.7ZM620.9 385.4L623.6 382.7L626.3 385.4L623.6 388.1ZM628.7 383.9L631.4 381.2L634.1 383.9L631.4 386.6ZM613.1 396.4L615.8 393.7L618.5 396.4L615.8 399.1ZM620.9 397L623.6 394.3L626.3 397L623.6 399.7ZM628.7 397L631.4 394.3L634.1 397L631.4 399.7Z" fill="#0808c8"/>
<circle cx="657.9" cy="339.9" r="2.45" fill="#ff0000"/>
<circle cx="657.9" cy="363.6" r="2.45" fill="#ff0000"/>
<circle cx="651.6" cy="367.4" r="2.45" fill="#ff0000"/>
<circle cx="663.8" cy="371.2" r="2.45" fill="#ff0000"/>
<circle cx="651.6" cy="374.1" r="2.45" fill="#ff0000"/>
<circle cx="663.8" cy="378.4" r="2.45" fill="#ff0000"/>
<path d="M623.2 380.1V331.4H657.9V335.2" stroke="#000" stroke-width="0.85" fill="none"/>
<text x="642.2" y="331.9" font-size="10.6" text-anchor="middle">**</text>
<text x="355.8" y="436.5" font-size="13.6" font-weight="bold">m</text>
<path d="M374.7 434.8L377.4 432.1L380.1 434.8L377.4 437.5Z" fill="#0808c8"/>
<text x="384.4" y="438.3" font-size="10" text-anchor="start"><tspan font-style="italic">Nell2</tspan><tspan font-size="7.1" dy="-4.1" dx="0.7">fx/fx</tspan></text>
<circle cx="377.4" cy="449.7" r="2.3" fill="#ff0000"/>
<text x="384.4" y="453.2" font-size="10" text-anchor="start">Col1-cre;<tspan font-style="italic">Nell2</tspan><tspan font-size="7.1" dy="-4.1" dx="0.7">fx/fx</tspan></text>
<text transform="translate(366 506.5) rotate(-90)" font-size="10.05" text-anchor="middle">(N.Ocn<tspan font-size="7" dy="-3.8">+</tspan><tspan dy="3.8">/BS)/mm</tspan><tspan font-size="7" dy="-3.8">-1</tspan></text>
<rect x="408" y="495.4" width="26" height="50.3" fill="#fff" stroke="#000" stroke-width="1.15"/>
<rect x="447.4" y="514.7" width="26.1" height="31" fill="#fff" stroke="#000" stroke-width="1.15"/>
<path d="M393.6 470.4V545.7M389 545.7H487.4M389 470.8H393.6M389 485.8H393.6M389 500.8H393.6M389 515.7H393.6M389 530.7H393.6M389 545.7H393.6M440.7 545.7V549.3" stroke="#000" stroke-width="0.85" fill="none"/>
<text x="386.4" y="474.4" font-size="10.2" text-anchor="end">25</text>
<text x="386.4" y="489.4" font-size="10.2" text-anchor="end">20</text>
<text x="386.4" y="504.4" font-size="10.2" text-anchor="end">15</text>
<text x="386.4" y="519.3" font-size="10.2" text-anchor="end">10</text>
<text x="386.4" y="534.3" font-size="10.2" text-anchor="end">5</text>
<text x="386.4" y="549.3" font-size="10.2" text-anchor="end">0</text>
<path d="M420.9 482.5V506.8M415.5 482.5H426.3M415.5 506.8H426.3" stroke="#3030d8" stroke-width="1.05" fill="none"/>
<path d="M460.3 506.3V522.2M454.9 506.3H465.7M454.9 522.2H465.7" stroke="#ff6060" stroke-width="1.05" fill="none"/>
<path d="M418.2 477L420.9 474.3L423.6 477L420.9 479.7ZM414 488.7L416.7 486L419.4 488.7L416.7 491.4ZM422.4 488.7L425.1 486L427.8 488.7L425.1 491.4ZM409.5 501.3L412.2 498.6L414.9 501.3L412.2 504ZM418.2 504.8L420.9 502.1L423.6 504.8L420.9 507.5ZM426.9 508.8L429.6 506.1L432.3 508.8L429.6 511.5Z" fill="#0808c8"/>
<circle cx="465" cy="504.8" r="2.45" fill="#ff0000"/>
<circle cx="456.1" cy="508.5" r="2.45" fill="#ff0000"/>
<circle cx="451.4" cy="511.2" r="2.45" fill="#ff0000"/>
<circle cx="460.1" cy="516.2" r="2.45" fill="#ff0000"/>
<circle cx="468.8" cy="517.4" r="2.45" fill="#ff0000"/>
<circle cx="460.1" cy="526.6" r="2.45" fill="#ff0000"/>
<path d="M420.6 471.5V467.1H460.3V500.6" stroke="#000" stroke-width="0.85" fill="none"/>
<text x="441.2" y="467.8" font-size="10.6" text-anchor="middle">**</text>
<text x="538.6" y="436.5" font-size="13.6" font-weight="bold">n</text>
<path d="M561.4 435.8L564.1 433.1L566.8 435.8L564.1 438.5Z" fill="#0808c8"/>
<text x="571.1" y="439.3" font-size="10" text-anchor="start"><tspan font-style="italic">Nell2</tspan><tspan font-size="7.1" dy="-4.1" dx="0.7">fx/fx</tspan></text>
<circle cx="564.1" cy="451.4" r="2.3" fill="#ff0000"/>
<text x="571.1" y="454.9" font-size="10" text-anchor="start">Col1-cre;<tspan font-style="italic">Nell2</tspan><tspan font-size="7.1" dy="-4.1" dx="0.7">fx/fx</tspan></text>
<text transform="translate(561.8 505) rotate(-90)" font-size="10.05" text-anchor="middle">(Ocn<tspan font-size="7" dy="-3.8">+</tspan><tspan dy="3.8">S/BS)/%</tspan></text>
<rect x="605" y="496.2" width="26.3" height="46.3" fill="#fff" stroke="#000" stroke-width="1.15"/>
<rect x="644.5" y="514" width="26.5" height="28.5" fill="#fff" stroke="#000" stroke-width="1.15"/>
<path d="M592.3 466.9V542.5M587.7 542.5H686M587.7 467.3H592.3M587.7 486.1H592.3M587.7 504.9H592.3M587.7 523.7H592.3M587.7 542.5H592.3M637.5 542.5V546.1" stroke="#000" stroke-width="0.85" fill="none"/>
<text x="585.1" y="470.9" font-size="10.2" text-anchor="end">40</text>
<text x="585.1" y="489.7" font-size="10.2" text-anchor="end">30</text>
<text x="585.1" y="508.5" font-size="10.2" text-anchor="end">20</text>
<text x="585.1" y="527.3" font-size="10.2" text-anchor="end">10</text>
<text x="585.1" y="546.1" font-size="10.2" text-anchor="end">0</text>
<path d="M618 483.5V508M612.6 483.5H623.4M612.6 508H623.4" stroke="#3030d8" stroke-width="1.05" fill="none"/>
<path d="M657.8 507.5V520.3M652.4 507.5H663.2M652.4 520.3H663.2" stroke="#ff6060" stroke-width="1.05" fill="none"/>
<path d="M615.3 477.4L618 474.7L620.7 477.4L618 480.1ZM615.3 487.8L618 485.1L620.7 487.8L618 490.5ZM620.9 495.5L623.6 492.8L626.3 495.5L623.6 498.2ZM610 498.4L612.7 495.7L615.4 498.4L612.7 501.1ZM620.9 502.2L623.6 499.5L626.3 502.2L623.6 504.9ZM615.3 513.1L618 510.4L620.7 513.1L618 515.8Z" fill="#0808c8"/>
<circle cx="657.8" cy="508" r="2.45" fill="#ff0000"/>
<circle cx="668.6" cy="507.5" r="2.45" fill="#ff0000"/>
<circle cx="646.9" cy="511.2" r="2.45" fill="#ff0000"/>
<circle cx="668.6" cy="513.6" r="2.45" fill="#ff0000"/>
<circle cx="652.5" cy="515.2" r="2.45" fill="#ff0000"/>
<circle cx="657.8" cy="524.9" r="2.45" fill="#ff0000"/>
<path d="M617.8 471.4V467.3H657.8V500.3" stroke="#000" stroke-width="0.85" fill="none"/>
<text x="638.5" y="467" font-size="10.6" text-anchor="middle">**</text>
<text x="355.8" y="581" font-size="13.6" font-weight="bold">p</text>
<path d="M374.9 579.1L377.6 576.4L380.3 579.1L377.6 581.8Z" fill="#0808c8"/>
<text x="384.6" y="582.6" font-size="10" text-anchor="start"><tspan font-style="italic">Nell2</tspan><tspan font-size="7.1" dy="-4.1" dx="0.7">fx/fx</tspan></text>
<circle cx="377.6" cy="594" r="2.3" fill="#ff0000"/>
<text x="384.6" y="597.5" font-size="10" text-anchor="start">Col1-cre;<tspan font-style="italic">Nell2</tspan><tspan font-size="7.1" dy="-4.1" dx="0.7">fx/fx</tspan></text>
<text transform="translate(373.5 660) rotate(-90)" font-size="10.05" text-anchor="middle">MAR/(μm/d)</text>
<rect x="411.1" y="645.6" width="26.3" height="54.1" fill="#fff" stroke="#000" stroke-width="1.15"/>
<rect x="452.1" y="662.9" width="26.3" height="36.8" fill="#fff" stroke="#000" stroke-width="1.15"/>
<path d="M398.2 621.6V699.7M393.6 699.7H490.6M393.6 622H398.2M393.6 637.5H398.2M393.6 653.1H398.2M393.6 668.6H398.2M393.6 684.2H398.2M393.6 699.7H398.2M424.3 699.7V703.3M464.7 699.7V703.3" stroke="#000" stroke-width="0.85" fill="none"/>
<text x="391" y="625.6" font-size="10.2" text-anchor="end">5</text>
<text x="391" y="641.1" font-size="10.2" text-anchor="end">4</text>
<text x="391" y="656.7" font-size="10.2" text-anchor="end">3</text>
<text x="391" y="672.2" font-size="10.2" text-anchor="end">2</text>
<text x="391" y="687.8" font-size="10.2" text-anchor="end">1</text>
<text x="391" y="703.3" font-size="10.2" text-anchor="end">0</text>
<path d="M424.3 633.7V656.2M418.9 633.7H429.7M418.9 656.2H429.7" stroke="#3030d8" stroke-width="1.05" fill="none"/>
<path d="M465.2 652.5V672.1M459.8 652.5H470.6M459.8 672.1H470.6" stroke="#ff6060" stroke-width="1.05" fill="none"/>
<path d="M421.6 626.2L424.3 623.5L427 626.2L424.3 628.9ZM421.6 632.4L424.3 629.7L427 632.4L424.3 635.1ZM410.4 646.3L413.1 643.6L415.8 646.3L413.1 649ZM417.9 650L420.6 647.3L423.3 650L420.6 652.7ZM432.8 652.5L435.5 649.8L438.2 652.5L435.5 655.2ZM410.4 655L413.1 652.3L415.8 655L413.1 657.7ZM425.3 655L428 652.3L430.7 655L428 657.7Z" fill="#0808c8"/>
<circle cx="461.5" cy="649.3" r="2.45" fill="#ff0000"/>
<circle cx="469.5" cy="650.5" r="2.45" fill="#ff0000"/>
<circle cx="465.2" cy="659.2" r="2.45" fill="#ff0000"/>
<circle cx="461.5" cy="666.7" r="2.45" fill="#ff0000"/>
<circle cx="469.5" cy="665.4" r="2.45" fill="#ff0000"/>
<circle cx="469.5" cy="671.6" r="2.45" fill="#ff0000"/>
<circle cx="461.5" cy="675.3" r="2.45" fill="#ff0000"/>
<path d="M424.3 620V615.3H465.2V644.3" stroke="#000" stroke-width="0.85" fill="none"/>
<text x="446.6" y="615.2" font-size="10.6" text-anchor="middle">*</text>
<text x="537.8" y="579.2" font-size="13.6" font-weight="bold">q</text>
<path d="M561.4 578.4L564.1 575.7L566.8 578.4L564.1 581.1Z" fill="#0808c8"/>
<text x="571.1" y="581.9" font-size="10" text-anchor="start"><tspan font-style="italic">Nell2</tspan><tspan font-size="7.1" dy="-4.1" dx="0.7">fx/fx</tspan></text>
<circle cx="564.1" cy="592.3" r="2.3" fill="#ff0000"/>
<text x="571.1" y="595.8" font-size="10" text-anchor="start">Col1-cre;<tspan font-style="italic">Nell2</tspan><tspan font-size="7.1" dy="-4.1" dx="0.7">fx/fx</tspan></text>
<text transform="translate(546.8 651.6) rotate(-90)" font-size="10.05" text-anchor="middle">(BFR/BS)/</text>
<text transform="translate(559.6 652) rotate(-90)" font-size="10.05" text-anchor="middle">(μm<tspan font-size="7" dy="-3.8">3</tspan><tspan dy="3.8">/μm</tspan><tspan font-size="7" dy="-3.8">2</tspan><tspan dy="3.8">/d)</tspan></text>
<rect x="603.8" y="647.2" width="25.1" height="49.8" fill="#fff" stroke="#000" stroke-width="1.15"/>
<rect x="642.3" y="665.8" width="25.1" height="31.2" fill="#fff" stroke="#000" stroke-width="1.15"/>
<path d="M590.3 605.6V697M585.7 697H678M585.7 606H590.3M585.7 636.3H590.3M585.7 666.7H590.3M585.7 697H590.3M616 697V700.6M656.4 697V700.6" stroke="#000" stroke-width="0.85" fill="none"/>
<text x="583.1" y="609.6" font-size="10.2" text-anchor="end">1.5</text>
<text x="583.1" y="639.9" font-size="10.2" text-anchor="end">1.0</text>
<text x="583.1" y="670.3" font-size="10.2" text-anchor="end">0.5</text>
<text x="583.1" y="700.6" font-size="10.2" text-anchor="end">0.0</text>
<path d="M616.3 635.7V658.1M610.9 635.7H621.7M610.9 658.1H621.7" stroke="#3030d8" stroke-width="1.05" fill="none"/>
<path d="M656.1 659.3V672.5M650.7 659.3H661.5M650.7 672.5H661.5" stroke="#ff6060" stroke-width="1.05" fill="none"/>
<path d="M613.6 630.1L616.3 627.4L619 630.1L616.3 632.8ZM605.2 641L607.9 638.3L610.6 641L607.9 643.7ZM622.1 638.8L624.8 636.1L627.5 638.8L624.8 641.5ZM613.6 646L616.3 643.3L619 646L616.3 648.7ZM605.2 653.7L607.9 651L610.6 653.7L607.9 656.4ZM613.6 658.1L616.3 655.4L619 658.1L616.3 660.8ZM622.1 660.5L624.8 657.8L627.5 660.5L624.8 663.2Z" fill="#0808c8"/>
<circle cx="664.5" cy="656.9" r="2.45" fill="#ff0000"/>
<circle cx="658.5" cy="660.2" r="2.45" fill="#ff0000"/>
<circle cx="645.2" cy="662.7" r="2.45" fill="#ff0000"/>
<circle cx="652" cy="662.2" r="2.45" fill="#ff0000"/>
<circle cx="648.9" cy="667.5" r="2.45" fill="#ff0000"/>
<circle cx="655.4" cy="673" r="2.45" fill="#ff0000"/>
<circle cx="662.1" cy="673.7" r="2.45" fill="#ff0000"/>
<path d="M615.1 625.3V621.2H656.1V649.7" stroke="#000" stroke-width="0.85" fill="none"/>
<text x="638" y="620.9" font-size="10.6" text-anchor="middle">**</text>
<text x="355.8" y="731.3" font-size="13.6" font-weight="bold">s</text>
<path d="M374.9 732.6L377.6 729.9L380.3 732.6L377.6 735.3Z" fill="#0808c8"/>
<text x="384.6" y="736.1" font-size="10" text-anchor="start"><tspan font-style="italic">Nell2</tspan><tspan font-size="7.1" dy="-4.1" dx="0.7">fx/fx</tspan></text>
<circle cx="377.6" cy="745.5" r="2.3" fill="#ff0000"/>
<text x="384.6" y="749" font-size="10" text-anchor="start">Col1-cre;<tspan font-style="italic">Nell2</tspan><tspan font-size="7.1" dy="-4.1" dx="0.7">fx/fx</tspan></text>
<text transform="translate(373 803) rotate(-90)" font-size="10.05" text-anchor="middle">(N.Oc/BS)/mm<tspan font-size="7" dy="-3.8">-1</tspan></text>
<rect x="411.9" y="790.9" width="25.5" height="53.6" fill="#fff" stroke="#000" stroke-width="1.15"/>
<rect x="450.8" y="812.2" width="25.1" height="32.3" fill="#fff" stroke="#000" stroke-width="1.15"/>
<path d="M398.7 761.5V844.5M394.1 844.5H488.8M394.1 761.9H398.7M394.1 778.4H398.7M394.1 794.9H398.7M394.1 811.5H398.7M394.1 828H398.7M394.1 844.5H398.7M424.3 844.5V848.1M464 844.5V848.1" stroke="#000" stroke-width="0.85" fill="none"/>
<text x="391.5" y="765.5" font-size="10.2" text-anchor="end">10</text>
<text x="391.5" y="782" font-size="10.2" text-anchor="end">8</text>
<text x="391.5" y="798.5" font-size="10.2" text-anchor="end">6</text>
<text x="391.5" y="815.1" font-size="10.2" text-anchor="end">4</text>
<text x="391.5" y="831.6" font-size="10.2" text-anchor="end">2</text>
<text x="391.5" y="848.1" font-size="10.2" text-anchor="end">0</text>
<path d="M424.3 771.8V809.5M418.9 771.8H429.7M418.9 809.5H429.7" stroke="#3030d8" stroke-width="1.05" fill="none"/>
<path d="M463.3 800.3V823.6M457.9 800.3H468.7M457.9 823.6H468.7" stroke="#ff6060" stroke-width="1.05" fill="none"/>
<path d="M430.3 772.8L433 770.1L435.7 772.8L433 775.5ZM413.4 776.5L416.1 773.8L418.8 776.5L416.1 779.2ZM422.1 777.2L424.8 774.5L427.5 777.2L424.8 779.9ZM422.1 793.9L424.8 791.2L427.5 793.9L424.8 796.6ZM422.1 805L424.8 802.3L427.5 805L424.8 807.7ZM422.1 819.4L424.8 816.7L427.5 819.4L424.8 822.1Z" fill="#0808c8"/>
<circle cx="463.3" cy="790.9" r="2.45" fill="#ff0000"/>
<circle cx="454.1" cy="810.2" r="2.45" fill="#ff0000"/>
<circle cx="460.3" cy="813.7" r="2.45" fill="#ff0000"/>
<circle cx="466.5" cy="815.7" r="2.45" fill="#ff0000"/>
<circle cx="472.7" cy="816.2" r="2.45" fill="#ff0000"/>
<circle cx="463.3" cy="824.9" r="2.45" fill="#ff0000"/>
<path d="M424.3 766V761.9H464V785.9" stroke="#000" stroke-width="0.85" fill="none"/>
<text x="444.9" y="761.2" font-size="10.6" text-anchor="middle">*</text>
<text x="538.6" y="731.2" font-size="13.6" font-weight="bold">t</text>
<path d="M561.4 731.2L564.1 728.5L566.8 731.2L564.1 733.9Z" fill="#0808c8"/>
<text x="571.1" y="734.7" font-size="10" text-anchor="start"><tspan font-style="italic">Nell2</tspan><tspan font-size="7.1" dy="-4.1" dx="0.7">fx/fx</tspan></text>
<circle cx="564.1" cy="744.4" r="2.3" fill="#ff0000"/>
<text x="571.1" y="747.9" font-size="10" text-anchor="start">Col1-cre;<tspan font-style="italic">Nell2</tspan><tspan font-size="7.1" dy="-4.1" dx="0.7">fx/fx</tspan></text>
<text transform="translate(557.5 799) rotate(-90)" font-size="10.05" text-anchor="middle">(Oc.S/BS)/%</text>
<rect x="602.6" y="791.6" width="25.8" height="50.4" fill="#fff" stroke="#000" stroke-width="1.15"/>
<rect x="642.8" y="813.3" width="25.8" height="28.7" fill="#fff" stroke="#000" stroke-width="1.15"/>
<path d="M589.1 755.6V842M584.5 842H683.8M584.5 756H589.1M584.5 777.5H589.1M584.5 799H589.1M584.5 820.5H589.1M584.5 842H589.1M615.6 842V845.6M655.6 842V845.6" stroke="#000" stroke-width="0.85" fill="none"/>
<text x="581.9" y="759.6" font-size="10.2" text-anchor="end">20</text>
<text x="581.9" y="781.1" font-size="10.2" text-anchor="end">15</text>
<text x="581.9" y="802.6" font-size="10.2" text-anchor="end">10</text>
<text x="581.9" y="824.1" font-size="10.2" text-anchor="end">5</text>
<text x="581.9" y="845.6" font-size="10.2" text-anchor="end">0</text>
<path d="M615.6 775.7V807M610.2 775.7H621M610.2 807H621" stroke="#3030d8" stroke-width="1.05" fill="none"/>
<path d="M656.1 803.4V822.2M650.7 803.4H661.5M650.7 822.2H661.5" stroke="#ff6060" stroke-width="1.05" fill="none"/>
<path d="M602.8 780.5L605.5 777.8L608.2 780.5L605.5 783.2ZM609.5 782.5L612.2 779.8L614.9 782.5L612.2 785.2ZM616 784.4L618.7 781.7L621.4 784.4L618.7 787.1ZM622.8 780L625.5 777.3L628.2 780L625.5 782.7ZM612.9 803.7L615.6 801L618.3 803.7L615.6 806.4ZM612.9 817.9L615.6 815.2L618.3 817.9L615.6 820.6Z" fill="#0808c8"/>
<circle cx="660.4" cy="799.3" r="2.45" fill="#ff0000"/>
<circle cx="651.7" cy="804.6" r="2.45" fill="#ff0000"/>
<circle cx="656.1" cy="811.4" r="2.45" fill="#ff0000"/>
<circle cx="646.9" cy="818.1" r="2.45" fill="#ff0000"/>
<circle cx="656.1" cy="821.5" r="2.45" fill="#ff0000"/>
<circle cx="664.5" cy="823.4" r="2.45" fill="#ff0000"/>
<path d="M615.6 770V765.6H656.1V794" stroke="#000" stroke-width="0.85" fill="none"/>
<text x="635.6" y="765.5" font-size="10.6" text-anchor="middle">*</text>
<text x="-0.6" y="7.6" font-size="13.6" font-weight="bold">a</text>
<text x="84.8" y="13.6" font-size="10" text-anchor="middle"><tspan font-style="italic">Nell2</tspan><tspan font-size="7.1" dy="-4.1" dx="0.7">fx/fx</tspan></text>
<text x="227.2" y="13.4" font-size="10" text-anchor="middle">Col1-cre;<tspan font-style="italic">Nell2</tspan><tspan font-size="7.1" dy="-4.1" dx="0.7">fx/fx</tspan></text>
<text transform="translate(9.3 70.1) rotate(-90)" font-size="10" text-anchor="middle">3-month, female</text>
<g clip-path="url(#cp1)"><rect x="13.5" y="18.2" width="136.1" height="103.1" fill="#0000fc"/>
<g filter="url(#rough)">
<path d="M24 55L33 51.6L45 49.6L58 48.4L73 48L82 45L90 43L97 41L107 42L121 43L133 47L138.6 50L136 58L133 66L128 70L127 86L124 90L117 92L113 95L107 97L101 94L97 88L93 92L87 98L81 99L77 90L73 92L72 101L69 101L67 90L61 86L53 82L43 78L37 70L31 65L25 60Z" fill="#8e8e92" />
<path d="M37 68L61 70L79 68L93 70L101 74L99 88L93 90L87 96L81 97L77 88L72 90L67 88L61 84L53 80L43 76Z" fill="#6c6c70" />
<path d="M125 52L135.4 54L133 66L128 70L127 86L123 88L122 70L124 60Z" fill="#77777a" />
<path d="M25 55.6L33 52.4L45 50.4L58 49.4L73 49L82 46.4L89 50L85 60L73 62L61 65L49 64L39 63L32 60Z" fill="#c0c0c0" />
<path d="M92 52L99 45L107 43.6L121 44.4L132.2 48L135 51L125 54L117 60L109 62L99 62L93 58Z" fill="#c4c4c4" />
<path d="M109 62L118 60L119 90L114 93.6L109 95L113 84L112.4 70Z" fill="#bebebe" />
<path d="M97 86L102 90L107 95L113 93.6L111 90L105 87L101 78L98 78Z" fill="#bdbdbd" />
<path d="M68 88L71.4 90L72.2 100.4L69.4 100.4Z" fill="#b5b5b5" />
<path d="M82 90L88 88L87.4 97L82 98Z" fill="#b0b0b0" />
<path d="M43 56L47 55L50 76L45 77Z" fill="#b8b8b8" />
<path d="M58 54L62 53.6L64 82L60 82.4Z" fill="#bcbcbc" />
<g clip-path="url(#cs2)" stroke-linecap="round">
<path d="M75.8 74.6l-0.9 15.1" stroke="#d0d0d0" stroke-width="1.6"/>
<path d="M82.7 78.8l-1.1 13.5" stroke="#d8d8d8" stroke-width="1"/>
<path d="M85.7 94.4l1.4 11.6" stroke="#4a4a4e" stroke-width="1.9"/>
<path d="M98.9 77.9l-1.3 5.9" stroke="#55555a" stroke-width="0.8"/>
<path d="M45.8 55.5l0.3 4.4" stroke="#c8c8c8" stroke-width="1.6"/>
<path d="M46.4 55l-0.1 7.5" stroke="#55555a" stroke-width="0.8"/>
<path d="M55.9 100.9l-0.6 15.9" stroke="#d8d8d8" stroke-width="2.3"/>
<path d="M50.3 58.3l-1.2 4.8" stroke="#4a4a4e" stroke-width="2.2"/>
<path d="M57.3 45l-0.9 4.2" stroke="#d0d0d0" stroke-width="2"/>
<path d="M128.3 69.2l0.2 15.8" stroke="#55555a" stroke-width="1.5"/>
<path d="M46.7 81.5l1.4 8" stroke="#3c3c40" stroke-width="1.4"/>
<path d="M110.9 48.1l-0.1 7" stroke="#3c3c40" stroke-width="1"/>
<path d="M79.8 81.9l-0.2 6.3" stroke="#77777a" stroke-width="1.7"/>
<path d="M68 64.7l1.5 15.9" stroke="#d8d8d8" stroke-width="0.8"/>
<path d="M26.2 52.2l-1.4 16" stroke="#55555a" stroke-width="1.9"/>
<path d="M40.8 67.5l-0.3 4.1" stroke="#d8d8d8" stroke-width="1.9"/>
<path d="M32.5 53.5l-0.4 11.6" stroke="#e4e4e4" stroke-width="0.8"/>
<path d="M75.9 98.5l-1 9.8" stroke="#4a4a4e" stroke-width="1.8"/>
<path d="M41.7 95.5l-1 13.8" stroke="#d0d0d0" stroke-width="1.2"/>
<path d="M96.1 74.2l0.3 12.2" stroke="#c8c8c8" stroke-width="1.5"/>
<path d="M72.3 47.2l0.7 4.5" stroke="#d0d0d0" stroke-width="2.5"/>
<path d="M68.9 66.2l1.3 14.9" stroke="#77777a" stroke-width="1.7"/>
<path d="M136 48.6l-0.7 9.8" stroke="#55555a" stroke-width="2"/>
<path d="M129.1 53.2l-0.8 4.2" stroke="#c8c8c8" stroke-width="1.3"/>
<path d="M29.3 57.9l-0.4 10.4" stroke="#55555a" stroke-width="2.6"/>
<path d="M126.1 99.8l0.3 11.9" stroke="#77777a" stroke-width="2"/>
<path d="M129.8 69.5l-1.4 8.3" stroke="#3c3c40" stroke-width="1.4"/>
<path d="M96.9 69.9l-1.3 12.8" stroke="#55555a" stroke-width="1.4"/>
<path d="M86.6 85.2l0.9 14.8" stroke="#77777a" stroke-width="2.1"/>
<path d="M128.9 62.1l1.3 12.2" stroke="#4a4a4e" stroke-width="2.4"/>
<path d="M27.5 71l0.2 4.2" stroke="#4a4a4e" stroke-width="2"/>
<path d="M93.8 45.8l0.7 11.7" stroke="#4a4a4e" stroke-width="2.6"/>
<path d="M68.5 85.1l0.1 11" stroke="#55555a" stroke-width="1.6"/>
<path d="M83 59.6l-0 5.1" stroke="#55555a" stroke-width="0.8"/>
<path d="M94.4 96.2l-1.1 7.1" stroke="#d8d8d8" stroke-width="0.8"/>
<path d="M94.1 72.1l-0 13" stroke="#c8c8c8" stroke-width="1.4"/>
<path d="M51.7 65.3l1.1 7" stroke="#d0d0d0" stroke-width="1.9"/>
<path d="M68.1 76l-0.4 7.8" stroke="#c8c8c8" stroke-width="1"/>
<path d="M126.6 43.4l-1.2 4.8" stroke="#77777a" stroke-width="2.6"/>
<path d="M78 96.5l0.5 14" stroke="#c8c8c8" stroke-width="1.5"/>
<path d="M106.1 91.5l-0.7 11.5" stroke="#3c3c40" stroke-width="1.4"/>
<path d="M93.6 81.7l0.4 7.4" stroke="#3c3c40" stroke-width="1.4"/>
<path d="M70.4 52.4l0.9 13.2" stroke="#77777a" stroke-width="1.3"/>
<path d="M136.8 47.9l1.4 5.3" stroke="#e4e4e4" stroke-width="1.8"/>
<path d="M102.4 53l0.8 9.7" stroke="#3c3c40" stroke-width="1.1"/>
<path d="M85.3 43.2l-0.3 6.7" stroke="#77777a" stroke-width="2.2"/>
<path d="M114.8 95.4l-1.1 5" stroke="#4a4a4e" stroke-width="2.5"/>
<path d="M76 78.5l-0.1 14.9" stroke="#e4e4e4" stroke-width="1.5"/>
<path d="M98.6 53.3l-0.9 12.7" stroke="#55555a" stroke-width="2.3"/>
<path d="M127.1 99.8l-0.7 15.7" stroke="#e4e4e4" stroke-width="1.8"/>
<path d="M106.3 41.9l0.2 10.1" stroke="#e4e4e4" stroke-width="0.9"/>
<path d="M112 70.2l-0.2 4.3" stroke="#55555a" stroke-width="2.3"/>
<path d="M28 73l-1.1 12.2" stroke="#c8c8c8" stroke-width="2.4"/>
<path d="M83.2 84.4l0.2 14.1" stroke="#c8c8c8" stroke-width="2"/>
<path d="M103 86.5l0.1 9.3" stroke="#77777a" stroke-width="1.8"/>
<path d="M120.7 74.6l-0.6 7.7" stroke="#d0d0d0" stroke-width="1.5"/>
<path d="M40.2 73.7l0.1 7.3" stroke="#4a4a4e" stroke-width="1.7"/>
<path d="M81.7 77.3l0.1 4.3" stroke="#4a4a4e" stroke-width="2.5"/>
<path d="M137.4 48.3l-0.3 5.1" stroke="#c8c8c8" stroke-width="1.1"/>
<path d="M133.7 96.4l-0.5 7.2" stroke="#77777a" stroke-width="1.7"/>
<path d="M127.2 97.1l-0.9 15" stroke="#55555a" stroke-width="1.7"/>
<path d="M94.8 96.5l-1.4 5.6" stroke="#3c3c40" stroke-width="2.2"/>
<path d="M41.8 41.7l0.4 7.4" stroke="#d0d0d0" stroke-width="2.1"/>
<path d="M36 84.9l0.7 5.5" stroke="#d8d8d8" stroke-width="1.7"/>
<path d="M104.4 93.7l0.1 4.3" stroke="#77777a" stroke-width="1.9"/>
<path d="M123 73l-0.8 6.6" stroke="#77777a" stroke-width="1.2"/>
<path d="M108.9 89.6l1.2 14.8" stroke="#e4e4e4" stroke-width="1.4"/>
<path d="M46.3 87.7l-1.1 6.3" stroke="#d0d0d0" stroke-width="1"/>
<path d="M34.1 64.3l-0.9 9.2" stroke="#77777a" stroke-width="2.5"/>
<path d="M96 88.9l1.2 5.2" stroke="#e4e4e4" stroke-width="1.8"/>
<path d="M135 47.9l0.9 10.1" stroke="#d0d0d0" stroke-width="2.2"/>
<path d="M79.2 42.5l-1.1 13.1" stroke="#c8c8c8" stroke-width="1.9"/>
<path d="M45.1 53.2l0.2 14.1" stroke="#55555a" stroke-width="2.6"/>
<path d="M39.4 81.9l-0.1 4.9" stroke="#4a4a4e" stroke-width="1"/>
<path d="M83.1 66.8l1 11.2" stroke="#3c3c40" stroke-width="0.8"/>
<path d="M44.8 68.2l0.3 12.9" stroke="#d0d0d0" stroke-width="1.5"/>
<path d="M34.9 88.5l0.2 7.9" stroke="#4a4a4e" stroke-width="1"/>
<path d="M45.9 76.1l1.2 8.1" stroke="#d8d8d8" stroke-width="2.2"/>
<path d="M109.3 87.7l1.1 13.8" stroke="#e4e4e4" stroke-width="1.5"/>
<path d="M103.6 87l-1.3 13.2" stroke="#77777a" stroke-width="1.5"/>
<path d="M63.2 69.1l-0.8 4.1" stroke="#3c3c40" stroke-width="1.4"/>
<path d="M132.3 81l0.1 8.1" stroke="#77777a" stroke-width="2"/>
<path d="M68.6 101l1.4 11.7" stroke="#4a4a4e" stroke-width="2.1"/>
<path d="M26.6 77.9l0 12.9" stroke="#4a4a4e" stroke-width="1.3"/>
<path d="M111.2 79.9l1.2 4.1" stroke="#d8d8d8" stroke-width="1.3"/>
<path d="M87 71.5l0.4 15.6" stroke="#55555a" stroke-width="1.8"/>
<path d="M116.8 45.6l-0.3 11.2" stroke="#3c3c40" stroke-width="2.2"/>
<path d="M131.6 64.2l-0.2 15.6" stroke="#3c3c40" stroke-width="2.3"/>
<path d="M80.7 58.1l-0.1 8.8" stroke="#d8d8d8" stroke-width="1.4"/>
<path d="M54.9 96.8l-1.5 12" stroke="#3c3c40" stroke-width="2.1"/>
<path d="M52.1 43.6l-1.3 5.9" stroke="#4a4a4e" stroke-width="2.2"/>
<path d="M60.1 64.9l-1.3 11" stroke="#e4e4e4" stroke-width="2.1"/>
<path d="M127.8 66.8l-1.4 9.7" stroke="#d0d0d0" stroke-width="2.6"/>
<path d="M35.3 89.6l0.3 14.9" stroke="#d0d0d0" stroke-width="1.1"/>
<path d="M37.2 78.5l-0.4 9.5" stroke="#3c3c40" stroke-width="1.2"/>
<path d="M41.7 62.8l0.4 5.7" stroke="#d8d8d8" stroke-width="1.6"/>
<path d="M102.2 62.8l1.4 12.9" stroke="#77777a" stroke-width="2.3"/>
<path d="M108.1 55.3l-0.7 5.4" stroke="#e4e4e4" stroke-width="2.4"/>
<path d="M93.9 84.5l0.8 12.4" stroke="#d8d8d8" stroke-width="1.1"/>
<path d="M45.8 55.9l0.4 15.8" stroke="#3c3c40" stroke-width="2.4"/>
<path d="M25.1 56.6l0.1 4.3" stroke="#d0d0d0" stroke-width="0.9"/>
<path d="M32.3 46.2l-0 12.1" stroke="#e4e4e4" stroke-width="1.8"/>
<path d="M64.6 61.3l0.9 9.9" stroke="#55555a" stroke-width="1"/>
<path d="M75.3 90.3l-0.2 14.1" stroke="#c8c8c8" stroke-width="2.2"/>
<path d="M53.6 89.6l-0.6 8.4" stroke="#e4e4e4" stroke-width="2"/>
<path d="M111 90.6l-0.1 6.2" stroke="#55555a" stroke-width="2"/>
<path d="M61.1 73.6l-0.6 9.2" stroke="#c8c8c8" stroke-width="1.8"/>
<path d="M112.9 45.6l0.6 6.6" stroke="#55555a" stroke-width="2"/>
<path d="M80.7 86.8l-0.4 7.9" stroke="#d0d0d0" stroke-width="2.4"/>
<path d="M107.2 63l-0.2 5.4" stroke="#d8d8d8" stroke-width="2.1"/>
</g>
<ellipse cx="107.6" cy="77" rx="3.8" ry="9.5" fill="#0000fc"/>
<ellipse cx="122" cy="76.4" rx="2.2" ry="7.5" fill="#0000fc"/>
<path d="M92 76L96 75L97 87L93 90Z" fill="#0000fc" />
<path d="M73.6 77L76.6 75.6L77.4 88L74.4 90Z" fill="#0000fc" />
<path d="M51 77L56 78L60 83L53 80.4Z" fill="#0000fc" />
<path d="M101 45L106 44.4L105.4 48.4L102 49Z" fill="#0000fc" />
<path d="M77 82.4L79.6 81.6L80.2 95L77.8 96Z" fill="#0000fc" />
<path d="M89.2 78L92 77.2L92.6 89.6L90 90.4Z" fill="#0000fc" />
<path d="M116 45.6L121 45.6L120.6 49L116.6 49Z" fill="#0000fc" />
</g>
</g>
<rect x="13.5" y="18.2" width="136.1" height="103.1" fill="none" stroke="#000" stroke-width="1.05"/>
<g clip-path="url(#cp3)"><rect x="152.5" y="18.2" width="136.3" height="103.1" fill="#0000fc"/>
<g filter="url(#rough)">
<path d="M169 48L173 46.4L175 50L179 52L177 55L174 54L173 60L170.4 58L169.6 52Z" fill="#b6b6b6" />
<path d="M181 48L194 44.4L195 47L192 50L204 51L212 50L220 44L224 44L222 50L228 49L232 44L234 47L232 52L240 53L246 55L245 58L236 58L228 60L220 58L212 57L204 58L198 60L192 59L186 60L182 54Z" fill="#9a9a9c" />
<path d="M182 49L193.6 45.6L193 49.6L204 52L212 51.2L220 45.6L222.4 46L220 52L212 54L200 55L190 54L184 53Z" fill="#cacaca" />
<path d="M186 60L191 59.6L190.6 70L187 69.6Z" fill="#808084" />
<path d="M192 59L195 59L195.6 75.6L192.6 76Z" fill="#b6b6b6" />
<path d="M204 58L208 58L207.6 70L205 71Z" fill="#b6b6b6" />
<path d="M212.6 56L219 55.6L218.6 68L213 69Z" fill="#5c5c60" />
<path d="M213 68.4L218.8 67.6L218 81.6L212.4 82.4Z" fill="#b8b8b8" />
<path d="M228 60L231 60L230.6 68L228.4 67.6Z" fill="#808084" />
<path d="M238.6 52L241.2 52L241.6 70L239.2 70Z" fill="#b6b6b6" />
<path d="M241 68L246 67L245 88L239.6 88.4Z" fill="#b6b6b6" />
<path d="M200 44L204.4 42.8L203.6 50L200.8 50Z" fill="#b6b6b6" />
<path d="M248 52L264 49L263 43L272 45L272 53L278.4 53L276 60L272 63L274 67L269 70L267 84L264 85L265 68L261 66L260 86L256 86L252 93L248 92L250 78L252 70L248 66L250 58Z" fill="#929295" />
<path d="M249 53L264 50L271.6 52.4L264 56L261 66L259.6 80L256 84L253 75L254 60Z" fill="#c6c6c6" />
<path d="M248.6 87L253 84L252 92.4L248.4 91.6Z" fill="#5c5c60" />
<path d="M266 58L274.4 55L273 66L269 69.6Z" fill="#7c7c80" />
</g>
</g>
<rect x="152.5" y="18.2" width="136.3" height="103.1" fill="none" stroke="#000" stroke-width="1.05"/>
<text x="265" y="193.6" font-size="13.6" font-weight="bold">i</text>
<text x="334.5" y="203.2" font-size="10" text-anchor="middle"><tspan font-style="italic">Nell2</tspan><tspan font-size="7.1" dy="-4.1" dx="0.7">fx/fx</tspan></text>
<text x="475.6" y="203.2" font-size="10" text-anchor="middle">Col1-cre;<tspan font-style="italic">Nell2</tspan><tspan font-size="7.1" dy="-4.1" dx="0.7">fx/fx</tspan></text>
<g clip-path="url(#cp4)"><rect x="263.4" y="208.6" width="135.5" height="94.8" fill="#c93a62"/>
<g filter="url(#rough2)">
<path d="M263.1 208.2L300.9 208.2L298.8 218.4L284.5 226.6L263.1 232.7Z" fill="#a8427e" />
<path d="M307.4 212.1h0M352.2 210h0M336.4 217.9h0M270.9 221.7h0M268.1 219.7h0M272.6 210.4h0M321.2 230.3h0M280 214h0M349 233.6h0M342.1 218.7h0M396.7 209.3h0M380.6 215.8h0M282.8 211.2h0M305.3 230h0M287.8 223.7h0M350.5 218.1h0M338 209.7h0M271.2 213.6h0M356.2 219.5h0M306 223.8h0M325.1 216.1h0M371.8 226.9h0M296.4 223.5h0M335 231.6h0M362.9 215.8h0M397.3 211.2h0M320.3 228.4h0M283.8 221.2h0M268.4 226h0M367.7 223.5h0M382.9 216.5h0M358.3 224h0M342.4 220.3h0M378.1 233.5h0M328 225.9h0M271.3 226.9h0M351.7 234.8h0M375.6 215.7h0M315.9 226.1h0M266.1 220.5h0M286 211.2h0M271.1 228.7h0M280.7 214.7h0M316.6 231.5h0M274 220.1h0M338.3 231.9h0M375.2 231.3h0M301.1 219.2h0M312.2 231.9h0M394.2 212.1h0M287.1 214.3h0M295 221.1h0M343.7 215.1h0M263.6 219.3h0M313.6 223.3h0M393.6 226.6h0M333.6 224.7h0M355.6 209.5h0M386.2 229.1h0M382.8 229.5h0M316.8 218.8h0M277.2 225.1h0M271.5 209.8h0M291.6 212.4h0M309.6 209.4h0M263 212.1h0M276.9 217.8h0M266.5 231.6h0M347.1 212h0M297.6 217.4h0" stroke="#9a3f86" stroke-width="3" stroke-linecap="round" fill="none" opacity="0.5"/>
<path d="M280.1 211.3h0M302.9 234.8h0M284.9 221.1h0M267 210.8h0M279.1 215.1h0M302 212.4h0M264.1 233.7h0M287.8 212h0M288.5 208.7h0M287.8 234.4h0M303.6 226.8h0M275.3 217.9h0M270.9 228.8h0M288 229h0M278.5 214h0M301.1 234.6h0M303.1 229.8h0M301.5 228h0M273.7 222h0M279.7 208.8h0M264.3 215.5h0M275.2 226.7h0M308 220.1h0M307 234.7h0M307.9 217.8h0M273.4 214.1h0M272.2 213.5h0M292.3 232.3h0M302.5 220.9h0M293.7 229.6h0M267 225.8h0M305.8 229.1h0M298.3 220.9h0M271.4 229.3h0M278.6 229.6h0M308.7 218.7h0M281.9 233.6h0M297.1 212.6h0M269 212.1h0M305.5 229.8h0" stroke="#d8477a" stroke-width="2.5" stroke-linecap="round" fill="none" opacity="0.8"/>
<path d="M290.7 240.9L303.9 236.8L313.1 240.9L321.3 243.9L326.4 253.1L325.4 267.4L321.3 277.7L323.4 287.9L319.3 296.1L315.2 304.2L286.6 304.2L288.6 292L293.7 281.7L285.5 269.5L284.5 259.3L292.7 255.2L290.7 247Z" fill="#d8c6d8" />
<path d="M290.6 292.5h0M299.2 273.8h0M306.6 299.8h0M302.7 295.6h0M319.1 251h0M295.1 256.5h0M294.6 276.3h0M295.4 265h0M290 298.2h0M299.3 267.7h0M309 297.8h0M302.1 298.7h0M305.5 272.7h0M306.5 238h0M303 249.1h0M291.7 268.7h0M314.9 274.3h0M298.2 271.7h0M307.8 289.7h0M289 274.6h0M294.9 255.5h0M316.9 271h0M308.1 288h0M322.8 266.7h0M310.2 270.9h0M306 283.5h0M303.5 272.8h0M304.6 300.3h0M313.8 295.9h0M324 254.3h0M308 300.4h0M319.7 246h0M289.6 266.6h0M317.4 297.3h0M312.2 246.4h0M293.7 301h0M301.2 269.6h0M291.3 265.9h0M306.1 259.7h0M292.7 258.3h0M307.7 266.5h0M285.3 259.1h0M310.7 271.3h0M287.2 303.2h0M295.9 245.5h0M302.2 298.3h0M318.8 254.2h0M290.8 298.8h0M308.4 284h0M313.4 265.5h0M287.6 300.1h0M311.1 290.9h0" stroke="#fbf6f8" stroke-width="3.2" stroke-linecap="round" fill="none" opacity="1"/>
<path d="M303.5 259.7h0M307.7 299.3h0M295.7 245.5h0M306.6 252.9h0M297.6 257.4h0M316.3 256.3h0M305.5 248.8h0M315.2 274h0M292.5 268.8h0M318.8 265.9h0M305.3 293.1h0M301 271h0M313.3 303h0M298.9 292.9h0M314.1 279.7h0M301.5 260.2h0M295.2 247.8h0M321 282h0M296.3 253.1h0M296.8 267.8h0M291.1 266.9h0M295.6 301.7h0M294.8 301.9h0M297.5 260.8h0M304.4 270.7h0M292.9 270.8h0M288.3 263.7h0M297.3 252.5h0M309.1 272.5h0M316 281.1h0M314.5 296.1h0M300.8 258.8h0M314.9 280.2h0M315.3 291.6h0M290.4 272.1h0M305.7 293.1h0M318.2 292.5h0M309 297h0M313.1 283.5h0M290.1 261.1h0M288.9 293.2h0M307.9 279.1h0M310.8 282.7h0M317.9 287.3h0M305.6 272.9h0M312.1 241.2h0M315.4 253.8h0M315.1 250.6h0M315.5 302.6h0M305.2 262.6h0M304.6 282.9h0M316.7 278.4h0M311.5 242h0M315.7 257.3h0M312.7 283.5h0M312.8 256.4h0M306.2 268.1h0M304.1 244.8h0M322 250.2h0M303.4 254.9h0M293.3 300.6h0M293.4 276h0M290.5 272.1h0M318.9 271.1h0M321.7 284.2h0M294.2 297.3h0M304.9 238.5h0M303.4 257.2h0M290.4 260h0M297.8 293.5h0M319.7 244.9h0M322.3 256.3h0M300.1 263.3h0M299.6 265.7h0M296.1 240h0M288.8 293.1h0M296.5 299.9h0M295 254.7h0M305.9 249.6h0M300.2 301.3h0M311 298.4h0M315.2 267.2h0M316.1 280.3h0M296.5 240.1h0M304.3 260h0M297 286.6h0M325.4 254.3h0M312 257.1h0M307.9 263.4h0M291.5 247.7h0M293.2 297.9h0M305.4 251.6h0M303.4 246.2h0M292.6 242.9h0M298.9 242.9h0M294.5 254.2h0M308.4 296.6h0M315.9 264.6h0M301.9 272.1h0M300.3 259.6h0M305.6 279.3h0M320.7 251.4h0M295.9 253.5h0M301.3 266.9h0M322.1 268.7h0M300.9 299.3h0M319.1 294.5h0M325.3 253.5h0M306.4 282.8h0M311.6 288.4h0M303.7 274h0M294.3 298.8h0M311.6 257.3h0M311.2 283.9h0M306.5 276.1h0M300.8 251.9h0M297.2 267.9h0M321.6 268.8h0M294.4 253.4h0M305.4 282.3h0M302.1 254.1h0M312.5 299.2h0M298.7 265.2h0M313.1 250.1h0M317.9 286.6h0M305.7 250.6h0M325.2 257.8h0M318.9 252.4h0M293.8 288.1h0M296.9 301h0M305.3 249.4h0M293.9 264.9h0M312.4 300.8h0M290.7 263.3h0M293.4 302.5h0M287 263.3h0M315.2 304.1h0M323.6 259h0M292.3 299.9h0M312.4 262.3h0M300.2 259.2h0M296.2 260.5h0M324.9 250.8h0M299.5 292.2h0M319 266h0M286.6 268.7h0M300.1 298.8h0M292.6 261.4h0M301.7 291.5h0M323.1 254.1h0M315.8 297.4h0M298.7 255.2h0M295.5 285.1h0M297.8 255.4h0M294.3 268.8h0M300.7 253.7h0M302.5 270.1h0M323.4 249.1h0M318.1 286.6h0M319 288.9h0M310 258.9h0M297.9 261.2h0M292.8 287.6h0M294.9 241.2h0M298.2 302.9h0M295.6 242.5h0M288.6 270.4h0M314.3 266.9h0M294.3 264.9h0M310.5 282.3h0M315.9 293.9h0M312.4 245h0M319.8 256.6h0M308.3 261.9h0M315.4 250.2h0M294.9 253.3h0M290.9 296.4h0M308.8 258.8h0M301.1 303.7h0M305.8 252.4h0M318.4 280.8h0M304.4 292h0M323.5 261.9h0M320.8 267.1h0M295.4 289.2h0M309.5 278.6h0M293.6 261.7h0M295.2 277.2h0M311.8 250.5h0M312.9 249.3h0M297.6 250.5h0M317.8 273.7h0M301.1 273.9h0M311.3 242.9h0M301.7 255.9h0M297.4 301.1h0M297.6 275h0M299.5 264.9h0M299.8 250.1h0M315 250.5h0M302.3 292.1h0M301.5 296.3h0M303.8 247.7h0M311.4 298.1h0M300.1 270.8h0M306.4 299.2h0M289.1 269.9h0M292.8 245.3h0M304.7 240.4h0M323.3 262.9h0M319.1 247.6h0M317.4 251.8h0M301.5 293.9h0M319.3 249.1h0M293.7 263.7h0M306.2 262.7h0M314.9 297.3h0M319.6 244.7h0M309.6 273.9h0M310.8 257.4h0M302.1 276.1h0M302.4 281.2h0M303.2 266.4h0M305 252.7h0M316.5 289.4h0M303.7 248.9h0M304.4 244h0M289.9 265.8h0M288.4 266.6h0M305.9 239.5h0M311.2 242.3h0M315.3 289.2h0M306 240.4h0M305.6 262.3h0M315.2 291.8h0M292.6 303h0M305.1 301.3h0M322.9 247.9h0M287.3 260.5h0M316.2 247.5h0M322.1 255.3h0M318.7 246.5h0M305.6 298.8h0M293.3 254.5h0M305.7 258.3h0M291.3 299.9h0M313 297.2h0M291.6 289.7h0M289.3 272.6h0M311.2 261.1h0M321.1 274.2h0M308.8 296.3h0M288.9 303.8h0M310.9 263.4h0M317.9 254.6h0M299.6 288.4h0M303.1 248.7h0M318.9 253.9h0M311.3 303.2h0M309.1 281.5h0M310.3 265.9h0M306 297.2h0M289 260.9h0M293.9 276.1h0M309.2 250.6h0M310.7 268.8h0M290.2 300h0M294.7 246.9h0M321 289.5h0M301.4 254.6h0M308.1 260.4h0M311.6 266.7h0M294.9 297.7h0M301.5 252.8h0M292.9 277.8h0M305.8 280.1h0M318.6 248.6h0M297.5 257h0M317.3 285h0M315.7 268.2h0M315.6 267.3h0M294 243.9h0M298.6 287.3h0M313.6 293.8h0M314.3 254.7h0M307.7 266.2h0M317.6 272.1h0M295.6 280.1h0M325 251.4h0M295.4 252.7h0M315.7 300.5h0M315.8 258.8h0M321.4 258.9h0M294.5 298h0M310.9 283.5h0M312.4 302.8h0M304.2 293.4h0M313.8 294.6h0M302.8 285.7h0M308.4 257.5h0M293.4 278.8h0M287.8 298.2h0M289 299.4h0M299 246.4h0M313.5 279.5h0M313.7 286.5h0M299.8 291.9h0M320 291.6h0M311.1 292.4h0M311 256.2h0M316.3 250.6h0M297.9 265.4h0M296.4 285.1h0M299.9 258.4h0M320.2 278.5h0M285.8 264.6h0M302.8 288.9h0M299.1 284.3h0M307.1 251.4h0M318.9 248.3h0M305.1 290.5h0M292.3 270.1h0M299.1 292.9h0M295.4 300.4h0M296.4 251.3h0M313.8 270.4h0M313.7 289.9h0M310.8 260.8h0M301.3 263.4h0M293.2 254.5h0M322.3 270.6h0M300.4 296.4h0M294.3 267.9h0M306.8 287.7h0M316.1 280.4h0M299.1 258.8h0M291 293.6h0M312.3 286.8h0M291.6 266.4h0M316.9 275.8h0M289.8 267.9h0M321.6 252.8h0M292.6 257.1h0M314 293.7h0M291 247.3h0M294.9 258.8h0M306.4 247.6h0M298.3 249.6h0M288.8 301.7h0M288.8 262.7h0M315.2 266.1h0M292.7 279.8h0M300.8 239.1h0M301.2 290.1h0M313.6 270.5h0M311 268h0M301.5 286.8h0M322.6 265.8h0M308.6 287.3h0M302.2 252.2h0M314.8 296.1h0M317 284h0M320.2 282.6h0M311.4 267.4h0M297.6 279.2h0M288.6 265.1h0M317.3 284.9h0M310.9 253.7h0M302.3 267.5h0M310.6 264.4h0M312.8 299.5h0M317.1 263h0M305 302.5h0M291.3 289.5h0M307.2 285.2h0M306 279.9h0M319.3 272h0M301.7 300.7h0M293.3 282.9h0M301 288.2h0M289.7 303.2h0M299.4 240.6h0M296 263.7h0M302.1 283.9h0M299.3 254.7h0M293.9 286.8h0M293.7 290.8h0M300.9 251.1h0M318.4 279.6h0M304.2 274.7h0M294 301.8h0M299.3 279.9h0M318.8 291.8h0M304.1 256.6h0M307.5 245.2h0M319.5 260.7h0M320.2 254.8h0M300.3 253.9h0M302.4 249.3h0M296.3 253.3h0M297.2 269.1h0M302.5 279.8h0M312.1 261.2h0M290.4 292.9h0M312 253.6h0M294.3 289.1h0M299 247.1h0M291.6 296.9h0M310 289.5h0M312.5 297.1h0M317.5 293.4h0M306.8 286.8h0M302.9 296.3h0M307.8 254.6h0M294.3 246.2h0M305.2 240.7h0M304.1 246.5h0M305.1 270.4h0M307.1 295h0M304.1 274.7h0M312.4 293.5h0M300.2 265h0M311.2 279.7h0M313.1 299.6h0M298.4 303h0M305.9 269.5h0M314.6 279h0M298.7 294.9h0M299.9 268.8h0M306.5 288.8h0M293.4 266.1h0M302.2 274.2h0M319.2 256.5h0M319.2 264h0M305.6 255.1h0M305.7 302.5h0M311.9 290.2h0M298.4 258.2h0M297.1 276.3h0M311.1 289.7h0M321.6 273.6h0M312.1 290h0M310.4 279.1h0M313.7 277h0M313.1 251.1h0M312.5 267.7h0M316.5 243.6h0M317 298.4h0M312 261.7h0M319 289.8h0M308.1 254.2h0M297.2 265.2h0M297.9 265.8h0M311.4 299.8h0M318.5 275.6h0M323 266.9h0M285.1 262.9h0M309.3 300h0M301.8 243.7h0M311.5 251.1h0M289.6 302h0M288.2 295.4h0M314.7 253.1h0M315.3 249.4h0M314.4 294.5h0M315.1 242.5h0M310.9 284.6h0M303.8 299.7h0M295.2 301.8h0M297.6 286h0M291.5 294.9h0M304.9 240.8h0M299.9 275.6h0M302.9 282.4h0M290.6 290.6h0M299.7 280.3h0M310.9 265h0M300.7 289.8h0M308.3 256.5h0M287.1 302.5h0M314 292.6h0M298.4 277.6h0M309.7 257.6h0M302.5 296.7h0M300.3 283h0M309.7 297.2h0M318.4 255.9h0M302.2 276.4h0M318.7 296.6h0M318.5 295.3h0M308.5 255.3h0M320.2 291.2h0M313.2 298.4h0M299.1 242.5h0M307.7 290.6h0M292.9 287.4h0M323.6 252.6h0M310 282.5h0M304 250.7h0M295.2 287.4h0M317.7 267.8h0M316.9 252.5h0M308.8 297.3h0M321.6 272h0M304.5 276.5h0M292.4 249.8h0M299.7 274.9h0M301.4 271.7h0M317.5 247.3h0M309.5 260h0M306.3 238.2h0M320.8 269.6h0M308.3 254.4h0M317.2 265.5h0M292.9 249h0M307.9 295.5h0M303.7 300.7h0M309.6 263.6h0M289.5 301.5h0M295.3 274.9h0M311.4 301.3h0M312.6 263.3h0M303.3 247.6h0M295.2 260.5h0M317.5 284.6h0" stroke="#3c2458" stroke-width="1.3" stroke-linecap="round" fill="none" opacity="1"/>
<path d="M311.6 303.2h0M316.2 300.1h0M312.9 256.9h0M309.3 287.9h0M288.9 258.6h0M295.3 245.2h0M304.7 248.2h0M294.5 246.4h0M314.6 249.9h0M293.8 299.8h0M290.4 267h0M288.6 299.4h0M319.8 279.2h0M303.5 259.7h0M319 269h0M310.8 246.4h0M293.8 240.6h0M314.4 274.1h0M290.6 295.5h0M295.7 264.6h0M319.7 259.3h0M291.6 269.9h0M297.9 297.7h0M289.3 302.8h0M312.5 251h0M304.5 256.1h0M295.3 250.4h0M299.8 303.6h0M315 256.6h0M318.3 259.8h0M319.4 272.3h0M292.3 266.1h0M322.7 251.5h0M308.5 246.1h0M292.1 288.7h0" stroke="#e02c55" stroke-width="1.7" stroke-linecap="round" fill="none" opacity="1"/>
<path d="M329.5 240.9L340.7 238.8L342.8 251.1L339.7 261.3L334.6 267.4L330.5 261.3L329.5 251.1Z" fill="#d8c6d8" />
<path d="M338.9 244.5h0M330.5 241.3h0M337.6 253h0M333.1 244.7h0M337.6 259.1h0M340.3 255.5h0M332.2 240.7h0M339.2 250.5h0" stroke="#fbf6f8" stroke-width="3.2" stroke-linecap="round" fill="none" opacity="1"/>
<path d="M339.1 240.4h0M340.3 248.4h0M341.6 252.5h0M341.1 246.4h0M332 262.6h0M334.4 243.5h0M334.4 255.9h0M335.4 253.6h0M331.1 259.3h0M333.8 259.2h0M334.6 260.3h0M342.2 253h0M336.3 254h0M331.9 241.8h0M332.8 262.2h0M329.9 241.6h0M338.8 244.4h0M337.1 253.8h0M338.8 241.8h0M330.1 242.4h0M336 253.2h0M333.2 242.3h0M334.9 242.7h0M337.3 263.5h0M331.4 255.2h0M339.4 243.5h0M334.7 250.9h0M340.6 253.9h0M334.7 265.8h0M339.8 248.5h0M332.7 248.4h0M330.2 253.6h0M332.8 250.9h0M337.9 249.3h0M336.5 240.8h0M335.2 253.3h0M329.8 242.8h0M338 246.4h0M338.5 246.7h0M337.7 246h0M336.4 251.2h0M333.5 257.4h0M331.1 255.8h0M333.1 252.2h0M336.6 243.1h0M331.1 242.6h0M333.4 250.5h0M333.3 245.8h0M330.7 254.5h0M340.6 256.3h0M337.1 257.4h0M332.2 259.2h0M335.6 254.5h0M337.6 252.2h0M333.6 245.8h0M332.4 253.5h0M334.6 255.6h0M329.6 248.9h0M340.9 245.7h0M336.9 252.9h0M333.4 260.9h0M331.6 240.7h0M341.1 251.4h0M330.3 249.9h0M335.3 259.9h0M330.9 245.3h0M331.5 248.5h0M334.2 258.2h0M337.7 263.2h0M340.4 253.6h0M339.3 260.1h0M339.6 252.4h0M339.9 259.1h0M339.7 255.6h0M337.1 250.8h0M337.6 249.7h0M335.5 251.9h0M339.1 247.2h0M334.7 254.7h0M334.6 248h0M336.1 251.5h0M331.9 247.5h0M331.4 255.3h0M337.2 241.3h0M341.7 248.1h0M335.2 264.9h0M337 253.1h0" stroke="#3c2458" stroke-width="1.3" stroke-linecap="round" fill="none" opacity="1"/>
<path d="M336.4 253.6h0M338.6 250h0M334.2 255.8h0M334.2 266h0M338.5 253.9h0" stroke="#e02c55" stroke-width="1.7" stroke-linecap="round" fill="none" opacity="1"/>
<path d="M330.5 279.7L341.7 267.4L349.9 261.3L356.1 265.4L358.1 281.7L356.1 294L352 304.2L329.5 304.2L328.5 292Z" fill="#d8c6d8" />
<path d="M340.3 285.4h0M345.5 299.1h0M357 282.2h0M341.5 288.1h0M344.2 296.3h0M343.7 266.1h0M355 290.9h0M354.8 279.4h0M343.6 283h0M347.1 287.2h0M338.9 304h0M340.7 295.1h0M337.6 291h0M353.4 286.5h0M348.3 269.8h0M343.2 285.1h0M336.3 289.1h0M344.2 304.1h0M345.5 279h0M351 265.9h0M343.9 296.6h0M346.6 295.9h0M351.3 275.2h0M349.7 276.5h0M331.4 300.1h0M345.7 276.3h0M341.8 277.9h0M330.1 299.5h0" stroke="#fbf6f8" stroke-width="3.2" stroke-linecap="round" fill="none" opacity="1"/>
<path d="M345.7 302.5h0M341.5 287.9h0M337.8 299.9h0M352.6 274.3h0M346.3 302.5h0M343.2 302.1h0M335.7 278h0M349.8 270.8h0M337.6 298.9h0M342.8 295.3h0M345.1 266.2h0M344.3 277.9h0M332.1 296.8h0M338.9 271.8h0M348.2 276h0M333.1 291.6h0M353.2 266.8h0M341.6 297.2h0M352.3 268.1h0M338.9 292.3h0M339.6 302.4h0M334.6 302.1h0M343.4 271.1h0M349.4 272.5h0M355.1 286.5h0M339.4 271.9h0M346.5 270.4h0M354.3 266.6h0M343.7 284.6h0M336.5 294.4h0M339.9 289.5h0M345.3 274.7h0M333.7 297.8h0M338 289.8h0M331.7 285.4h0M339.2 282.8h0M332.2 292.1h0M336.8 278.6h0M355.4 294.6h0M329.3 290.5h0M348.1 276.4h0M340.7 289.6h0M349.2 272h0M353.6 276.4h0M347.1 269.1h0M331.9 300.5h0M350.2 291.9h0M337.4 277.7h0M347.4 269h0M353.3 285.8h0M349.7 272.2h0M341.4 290.7h0M353.2 294.6h0M353.8 287.4h0M331.8 295.3h0M334.7 300.6h0M350.7 265h0M349.1 278.2h0M350.6 296.9h0M356.5 279.5h0M356 291h0M350.4 296.9h0M347.1 280.7h0M330.1 291.3h0M341.2 283.3h0M356 266.8h0M351 263.2h0M349.3 295.9h0M336.2 284.8h0M344.6 272h0M340.7 270h0M349.4 290.1h0M343.7 280.4h0M356.2 276.4h0M337.3 299.3h0M332.7 285.5h0M338.4 296.3h0M344.7 294h0M333.5 289.9h0M346.2 281.1h0M351.2 297h0M334.3 291.4h0M338.1 281.4h0M331 292.1h0M331.7 282.3h0M341.3 269.5h0M355.7 289h0M347.1 301.5h0M347.8 272.1h0M329.3 294.5h0M353.3 274h0M334 288.7h0M333.5 295h0M353.1 293.2h0M352.9 275.1h0M339.4 285h0M339.4 297h0M345.3 288.3h0M352.8 291.6h0M343.1 282.8h0M345.7 264.8h0M348.9 268.3h0M341.6 302.9h0M341.5 269.5h0M349.9 261.4h0M353.4 298h0M351.8 279.6h0M336.9 289.7h0M343.7 279.4h0M338.5 280.1h0M348.2 296.8h0M355.3 268.4h0M337.2 280.3h0M345.2 276.3h0M338.1 281.1h0M357 287.9h0M352.5 263.9h0M348.5 287.5h0M337.3 285.8h0M356.7 281.9h0M347.6 274.2h0M338.6 299.3h0M348.6 280.5h0M331 289.7h0M339.5 286.2h0M340.8 284.1h0M345.2 278.3h0M354.8 284.8h0M331.8 298.3h0M344.2 272.1h0M343 285.1h0M335.2 285.9h0M331.8 283.3h0M345.9 264.8h0M341.5 298.4h0M344.8 292h0M350.9 266.2h0M331.5 296.9h0M356.9 285.5h0M351.4 267.2h0M351.5 263.8h0M335.5 277.3h0M349.4 279.6h0M354.8 288h0M354.3 285.5h0M333.4 293.3h0M338.6 294.1h0M348.6 296.7h0M350.3 302h0M349.9 263.2h0M346.4 265.6h0M344.7 295.8h0M331.8 301h0M348.5 272.2h0M334.2 280.5h0M353.3 286.3h0M331.7 295.7h0M334 285.1h0M337.1 290.8h0M354.4 284.4h0M348.9 296h0M343.3 298.8h0M352.2 262.8h0M333.9 296.4h0M348.6 278.2h0M342.6 268.1h0M353.5 278.2h0M354.3 287.5h0M334.9 299.7h0M333.5 276.8h0M342.3 286.1h0M340 276.5h0M342.1 303.6h0M348.3 273h0M336.6 282.8h0M336.2 285.7h0M344.1 302.4h0M345.1 294.4h0M354.3 294.5h0M347.2 288.5h0M339.2 273.4h0M352 298.8h0M356.3 290.6h0M337.5 294.1h0M350.4 283.2h0M347.3 276.4h0M344.8 278.7h0M338 303.7h0M342.7 277.1h0M341.9 280.4h0M345.3 274.3h0M337.4 274.6h0M350 285h0M356.2 275.9h0M355.8 286.3h0M345.7 303.7h0M339 294.5h0M341.2 298.6h0M330.5 282.1h0M355.1 273.2h0M349.3 270.7h0M340.3 269.9h0M346.3 298.4h0M347.7 269.8h0M350.2 302.6h0M346.3 264.7h0M352.5 298.9h0M334 284.4h0M354.4 288.8h0M355.8 270.4h0M338.1 293.5h0M347.7 278.7h0M348.6 275.8h0M329.8 288.2h0M338.4 282.5h0M346.2 272.3h0M355.9 285.5h0M346.7 292.4h0M351.2 265.2h0M352.6 279.5h0M344.4 286.6h0M344.9 289.5h0M346.3 275.5h0M350.4 272.4h0M349.5 294.1h0M351.5 274.6h0M351.4 303.3h0M341.9 273.3h0M344 301.7h0M342.6 289.4h0M351.4 276.9h0M350.9 265.2h0M330.2 282.9h0M344.9 269.1h0M356.3 277h0M350.3 300.9h0M351.5 271.7h0M357.6 282.7h0M347.3 276.1h0M352.2 281.1h0M338.1 300.1h0M331.7 292.8h0M330.4 289h0M340.4 298.4h0M330.2 285.5h0M340.6 300.8h0M356.5 288.2h0M336.2 279.9h0M351 288.9h0M337.3 304h0M334.9 285.8h0M333.1 298.4h0M354.2 272.8h0M350.7 296.6h0M336.8 275.5h0M342.9 299.6h0M333.3 290.6h0M346.2 280.8h0M345.6 299.2h0M334.7 299.2h0M339.1 294.8h0M354 269.1h0M331.8 303.1h0M332.9 292.9h0M348.7 265.2h0M338.5 300.7h0M349.7 299.2h0M335.4 295.3h0M348.9 262.9h0M343.4 271.3h0M337.8 299h0M332 282.2h0M332.5 279.7h0M333.8 290.7h0M332.8 293h0M338.9 282.6h0M355.7 276.3h0M334.8 302.8h0M354.6 292.7h0M340.6 285.2h0M348.9 289.3h0M344.6 284.9h0M348.9 303.5h0M354.4 292.1h0M340.3 275h0M340.9 303.1h0M339.9 277.9h0" stroke="#3c2458" stroke-width="1.3" stroke-linecap="round" fill="none" opacity="1"/>
<path d="M346.5 301.1h0M336 287.5h0M339.6 271.6h0M353.4 295h0M349 275.2h0M347.6 284.9h0M337.8 303h0M353.8 283.2h0M346 304h0M335.4 288.3h0M350.5 277.6h0M349.6 278.2h0M344.1 287.6h0M348.5 275.1h0M347.1 284.6h0M335.1 287.6h0M336.3 300.3h0M342.5 292.3h0M343.9 281.8h0" stroke="#e02c55" stroke-width="1.7" stroke-linecap="round" fill="none" opacity="1"/>
<path d="M356.1 255.2L366.3 249L373.4 253.1L374.4 269.5L371.4 285.8L370.4 304.2L360.1 304.2L361.2 285.8L358.1 269.5Z" fill="#d8c6d8" />
<path d="M360.1 256.9h0M365.7 278.2h0M371 262.2h0M364.5 284.4h0M363.1 295h0M371.1 255.8h0M358.9 262.9h0M370.8 277.8h0M364.4 253.9h0M363.3 304.1h0M368.8 273.8h0M364.9 293.1h0M370 257.3h0M368.6 269.3h0M365.6 262.2h0M362.9 267.8h0M357.1 258.9h0M369.3 264.2h0M362 262.4h0M371.4 254.1h0M367.8 296.4h0" stroke="#fbf6f8" stroke-width="3.2" stroke-linecap="round" fill="none" opacity="1"/>
<path d="M359.8 272.4h0M370.6 283.1h0M362.9 251.5h0M364.2 269.3h0M369.2 265.3h0M363.6 284.8h0M371 268.5h0M363.1 281h0M373.1 259.6h0M362.9 285.8h0M362.1 253h0M370 270h0M365.7 276.5h0M364.6 274.6h0M371.5 271.9h0M364.8 298.2h0M364.1 276.2h0M365.5 294.6h0M368.4 289.9h0M363.4 251.3h0M368.6 279.6h0M370.2 291.5h0M358.2 261.2h0M369.9 280.2h0M369.1 275.7h0M363.7 281.3h0M372.1 257.1h0M362.2 277.6h0M361.1 263.5h0M361.8 263.1h0M371.9 279.7h0M365.5 272.2h0M371.8 263.2h0M365.9 269.7h0M364.6 276h0M366.8 269.2h0M370.8 260.1h0M365.9 271.6h0M366.4 266.9h0M361.1 293h0M361.4 288.3h0M370.8 281.7h0M364.4 300.6h0M364.2 297.5h0M367.8 251.8h0M371.9 253h0M367 259h0M370.8 276.5h0M368.5 286.3h0M361.5 260.7h0M371.5 257.1h0M372.9 260.5h0M357.9 254.3h0M370.5 301.5h0M363.7 285.4h0M360.8 299h0M368.7 257.6h0M361.5 261.9h0M366.8 266.6h0M366.4 257.5h0M372.8 266.9h0M371.5 257.4h0M363.3 250.9h0M363 284.4h0M360.2 279.2h0M369.5 272.8h0M368.5 255.4h0M371.3 255.8h0M361.4 268.2h0M369.9 276.4h0M373.2 254.2h0M365 296.7h0M367.1 278.9h0M357.7 256.8h0M361 298.3h0M371.6 261.6h0M367.1 302.4h0M362.4 301.2h0M368.1 251.8h0M362.2 273.9h0M361.5 252.9h0M366.3 254.3h0M366.2 292.5h0M367 274.5h0M362.5 269.7h0M368.3 258.1h0M362.2 295.5h0M372.1 275.6h0M358.8 254.2h0M372.2 255.5h0M365.2 278.6h0M365.4 269.3h0M359.7 271.3h0M359.8 256.1h0M365.3 298.2h0M365 292.7h0M366.5 287.1h0M358.9 263.6h0M365.6 265.2h0M372.4 253.7h0M366.7 262h0M367 292.3h0M369.1 252.5h0M360.6 282.1h0M367.4 287.2h0M371 267.9h0M371 274.5h0M373.4 271.8h0M363.5 253.9h0M368.5 257.4h0M362.4 256.8h0M359.7 261.2h0M362.1 302.9h0M364.9 276.5h0M370.4 299.2h0M369.9 284.2h0M362.5 258h0M369.8 256.5h0M366.9 273.1h0M372.1 265.5h0M373.5 255.4h0M360.7 295.3h0M360.3 260h0M364.5 262.1h0M365.1 299.2h0M368.7 288.2h0M363.3 292.3h0M370.7 286.7h0M363.5 253.9h0M368.1 295.2h0M362.3 281.9h0M356.4 255.2h0M371 272.2h0M367.2 274.3h0M362.2 260.8h0M362.6 295.7h0M367.4 265.2h0M357.7 264h0M369 273.4h0M368.2 293.6h0M359.4 264h0M373.7 269h0M367.3 298.4h0M363.3 276.6h0M371.3 258h0M364.4 293.7h0M360.7 268.5h0M371.9 277.4h0M363 300.3h0M364.2 301.9h0M362.7 285.5h0M367.7 269.8h0M365.7 286.4h0M372.7 276.5h0M362.7 302.9h0M368.6 279.8h0M364.3 290.5h0M362 256.6h0M366.7 251.6h0M363.3 290.3h0M367.9 264.5h0M370.1 265.1h0M366.1 272.3h0M370.9 286.4h0M363.1 302.2h0M369.1 287.2h0M361.2 258h0M366.6 294.6h0M370.7 268.2h0M372.2 258h0M369.6 258.5h0M361.8 252h0M361.5 270.2h0M359.5 266.1h0M373.4 259.9h0M362 273.2h0M358 263.4h0M363.3 270.3h0M373.8 263.8h0M364.3 295.2h0M367.8 292h0M361.8 257.4h0M370 275h0M366.3 286.1h0M369.9 264.2h0M362.7 299.7h0M365.8 265h0M367.6 263.4h0M370.2 251.3h0M371.3 280.3h0M362.6 300.9h0M360.9 262.5h0M369.9 286.5h0M363.6 293.6h0M358.1 266h0M367.9 302.4h0M367.7 287.2h0M370.3 270.8h0M362.3 270.7h0M370.9 268.3h0M365.8 277.8h0M368.4 298.8h0M358.5 267.7h0M365.3 296.1h0M368.3 280.9h0M363.5 280.7h0M361.1 295.7h0M370.6 295.3h0M369.9 276.7h0M369.7 294.4h0M368 297.5h0M369 282.8h0" stroke="#3c2458" stroke-width="1.3" stroke-linecap="round" fill="none" opacity="1"/>
<path d="M361.1 252.8h0M367.2 294.5h0M361.1 260.8h0M360.2 254.2h0M368.5 302.8h0M370.8 268.9h0M368.9 253h0M371.5 267h0M358.6 264.2h0M366.3 293.6h0M358.1 261.4h0M367.6 267.8h0M362.1 280.4h0M370.9 278.7h0" stroke="#e02c55" stroke-width="1.7" stroke-linecap="round" fill="none" opacity="1"/>
<path d="M371.4 243.9L380.6 242.9L382.6 257.2L380.6 273.6L377.5 281.7L375.5 269.5L375.5 255.2Z" fill="#d8c6d8" />
<path d="M376.1 245.4h0M378.5 271.1h0M378 258.5h0M377.1 265.8h0M382.2 255.7h0M376.8 248.1h0M376.5 269.4h0M379.3 260.6h0" stroke="#fbf6f8" stroke-width="3.2" stroke-linecap="round" fill="none" opacity="1"/>
<path d="M375.2 250.3h0M375.9 253.9h0M377.2 260h0M377.7 270.1h0M379.5 270.9h0M379.5 267.4h0M380.4 260.6h0M372.5 247.1h0M376.7 274.8h0M372.8 247.1h0M377.7 262.6h0M379.6 257.8h0M376.6 244.6h0M381.4 263.7h0M378.4 277.3h0M376.8 267.7h0M381.6 257.8h0M376.5 265.7h0M378.5 270.4h0M376.3 245.5h0M379.5 245h0M376.7 258.5h0M378.9 270.6h0M379.2 261.2h0M378.1 245.4h0M378.5 271.7h0M371.8 244.8h0M381.7 253.1h0M379.9 246.9h0M377.6 274.8h0M377 267h0M378.1 274h0M372.3 245h0M377.5 254.2h0M379.8 243.9h0M376.5 247.7h0M378.7 251h0M376.2 247.2h0M375.3 246.6h0M379.6 275.9h0M380.9 246.9h0M375.5 254.7h0M380 248.7h0M380 243.2h0M379.2 266.2h0M377.2 260.6h0M376 266.6h0M378.7 278.5h0M379.6 273.8h0M379.4 244.1h0M379 275.9h0M376.3 270.4h0M379.8 253.6h0M380.3 263.6h0M375.5 263.8h0M377.4 268.2h0M377.4 279.3h0M379.1 269.7h0M379.8 272.2h0M378 268.4h0M378.1 269.9h0M374.8 245.4h0M375.4 248.4h0M373.4 246.8h0M379.1 260.2h0M379.6 246.6h0M381.9 256.2h0M380.7 244.1h0M380.7 251.7h0M378.9 253.7h0M378.8 265.7h0M378.8 249.9h0M373 246.7h0M382.4 257.8h0M378.7 265h0M373.9 245.4h0M377.3 247.2h0M380 251.6h0M375.7 257.1h0M378.6 261.2h0M378.8 275.4h0M374 244.1h0M376.3 247.4h0M376.6 270.5h0M376.8 249.7h0M372.7 245.6h0M379.7 264.8h0" stroke="#3c2458" stroke-width="1.3" stroke-linecap="round" fill="none" opacity="1"/>
<path d="M381 247.2h0M374.1 249.5h0M381.1 251.2h0M381.8 260.8h0M379.6 245.8h0" stroke="#e02c55" stroke-width="1.7" stroke-linecap="round" fill="none" opacity="1"/>
<path d="M277.4 239.9L284.5 237.8L285.5 248L280.4 251.1L276.3 247Z" fill="#d8c6d8" />
<path d="M280.5 242h0" stroke="#fbf6f8" stroke-width="3.2" stroke-linecap="round" fill="none" opacity="1"/>
<path d="M278.2 246.6h0M279.7 239.4h0M282.4 244.6h0M283.2 244.9h0M278.5 244.4h0M281.9 246.5h0M285 247.6h0M284.2 242.7h0M284.7 240.2h0M278.4 245.8h0M280.4 239.7h0M278.1 247.8h0M281.7 250.3h0M280 246.8h0M278.5 244.1h0" stroke="#3c2458" stroke-width="1.3" stroke-linecap="round" fill="none" opacity="1"/>
<path d="M281.1 250.4h0" stroke="#e02c55" stroke-width="1.7" stroke-linecap="round" fill="none" opacity="1"/>
<path d="M285.5 261.3L292.7 259.3L295.8 269.5L292.7 279.7L287.6 273.6Z" fill="#f3ecf1" />
<path d="M315.2 273.6L320.3 271.5L321.3 279.7L317.2 281.7Z" fill="#f3ecf1" />
<path d="M262 237.6L272.3 236L282.5 231.1L290.7 225.3L302.9 219.2L311.1 220L319.3 222.9L329.5 225.3L339.7 221.3L349.9 215.9L360.1 218.8L370.4 224.5L380.6 231.1L388.8 237.2L395.9 244.3" fill="none" stroke="#24579c" stroke-width="12" stroke-linejoin="round" stroke-linecap="round" filter="url(#rough3)"/>
<path d="M282.5 227L290.7 221.9L302.9 215.9L311.1 217.2" fill="none" stroke="#2d66ac" stroke-width="3" stroke-linejoin="round" stroke-linecap="round" opacity="0.8"/>
<path d="M341.7 218.4L349.9 213.1L362.2 216.8L374.4 223.9L386.7 233.1" fill="none" stroke="#2d66ac" stroke-width="3" stroke-linejoin="round" stroke-linecap="round" opacity="0.8"/>
<path d="M263.1 230.7L274.3 228.6L282.5 224.1" fill="none" stroke="#5a4a98" stroke-width="5" stroke-linejoin="round" stroke-linecap="round" opacity="0.7"/>
<path d="M345.8 221.1L346.4 235.6" fill="none" stroke="#24579c" stroke-width="2.3" stroke-linejoin="round" stroke-linecap="round" opacity="0.85"/>
<path d="M360.4 222L361.5 229.4" fill="none" stroke="#24579c" stroke-width="1.7" stroke-linejoin="round" stroke-linecap="round" opacity="0.85"/>
<path d="M385.8 238L386.1 253.5" fill="none" stroke="#24579c" stroke-width="1.2" stroke-linejoin="round" stroke-linecap="round" opacity="0.85"/>
<path d="M326.7 227.7L326 239.9" fill="none" stroke="#24579c" stroke-width="1.8" stroke-linejoin="round" stroke-linecap="round" opacity="0.85"/>
<path d="M269.8 239.4L269.1 249.2" fill="none" stroke="#24579c" stroke-width="2.3" stroke-linejoin="round" stroke-linecap="round" opacity="0.85"/>
<path d="M363.6 223.8L362.8 238.3" fill="none" stroke="#24579c" stroke-width="1.2" stroke-linejoin="round" stroke-linecap="round" opacity="0.85"/>
<path d="M345.2 221.5L344.2 228.7" fill="none" stroke="#24579c" stroke-width="2.2" stroke-linejoin="round" stroke-linecap="round" opacity="0.85"/>
<path d="M294.3 226.6L293.6 242.8" fill="none" stroke="#24579c" stroke-width="2.2" stroke-linejoin="round" stroke-linecap="round" opacity="0.85"/>
<path d="M304.2 222.4L305.4 234.5" fill="none" stroke="#24579c" stroke-width="1.9" stroke-linejoin="round" stroke-linecap="round" opacity="0.85"/>
<path d="M293.7 226.9L294.8 240.4" fill="none" stroke="#24579c" stroke-width="2.4" stroke-linejoin="round" stroke-linecap="round" opacity="0.85"/>
<path d="M379.6 233.5L379.1 244" fill="none" stroke="#24579c" stroke-width="1.2" stroke-linejoin="round" stroke-linecap="round" opacity="0.85"/>
<path d="M286.3 231.4L285.3 241.4" fill="none" stroke="#24579c" stroke-width="1.8" stroke-linejoin="round" stroke-linecap="round" opacity="0.85"/>
<path d="M268.6 239.6L269 249.9" fill="none" stroke="#24579c" stroke-width="1.4" stroke-linejoin="round" stroke-linecap="round" opacity="0.85"/>
<path d="M370.2 227.5L370.2 237.6" fill="none" stroke="#24579c" stroke-width="1.7" stroke-linejoin="round" stroke-linecap="round" opacity="0.85"/>
<path d="M356 220.7L354.9 236.8" fill="none" stroke="#24579c" stroke-width="1" stroke-linejoin="round" stroke-linecap="round" opacity="0.85"/>
<path d="M361.7 222.7L362.5 230" fill="none" stroke="#24579c" stroke-width="2.1" stroke-linejoin="round" stroke-linecap="round" opacity="0.85"/>
<path d="M313.8 224.1L314 231.3" fill="none" stroke="#24579c" stroke-width="1.1" stroke-linejoin="round" stroke-linecap="round" opacity="0.85"/>
<path d="M290.7 228.4L291.8 237.3" fill="none" stroke="#24579c" stroke-width="2.1" stroke-linejoin="round" stroke-linecap="round" opacity="0.85"/>
<path d="M384.1 236.7L385.2 247.1" fill="none" stroke="#24579c" stroke-width="1.5" stroke-linejoin="round" stroke-linecap="round" opacity="0.85"/>
<path d="M333.6 226.8L334.3 234.9" fill="none" stroke="#24579c" stroke-width="2" stroke-linejoin="round" stroke-linecap="round" opacity="0.85"/>
<path d="M367.6 226L368.4 233.5" fill="none" stroke="#24579c" stroke-width="2.3" stroke-linejoin="round" stroke-linecap="round" opacity="0.85"/>
<path d="M279.5 235.5L279.2 248.3" fill="none" stroke="#24579c" stroke-width="2.3" stroke-linejoin="round" stroke-linecap="round" opacity="0.85"/>
<path d="M310.6 223L311.6 235.2" fill="none" stroke="#24579c" stroke-width="1.4" stroke-linejoin="round" stroke-linecap="round" opacity="0.85"/>
<path d="M307.7 222.8L306.9 230.6" fill="none" stroke="#24579c" stroke-width="1.2" stroke-linejoin="round" stroke-linecap="round" opacity="0.85"/>
<path d="M354.1 220.2L355.3 228.8" fill="none" stroke="#24579c" stroke-width="1.1" stroke-linejoin="round" stroke-linecap="round" opacity="0.85"/>
<path d="M391.2 242.7L391.3 253.6" fill="none" stroke="#24579c" stroke-width="1.3" stroke-linejoin="round" stroke-linecap="round" opacity="0.85"/>
<path d="M342.2 223L343 234.4" fill="none" stroke="#24579c" stroke-width="1.6" stroke-linejoin="round" stroke-linecap="round" opacity="0.85"/>
<path d="M275.1 237.7L276.1 245.1" fill="none" stroke="#24579c" stroke-width="1.7" stroke-linejoin="round" stroke-linecap="round" opacity="0.85"/>
<path d="M372.7 229.1L371.8 243" fill="none" stroke="#24579c" stroke-width="2.3" stroke-linejoin="round" stroke-linecap="round" opacity="0.85"/>
<path d="M346.8 220.6L347.5 228.8" fill="none" stroke="#24579c" stroke-width="1.6" stroke-linejoin="round" stroke-linecap="round" opacity="0.85"/>
<path d="M286.8 231.1L287.6 241" fill="none" stroke="#24579c" stroke-width="1.6" stroke-linejoin="round" stroke-linecap="round" opacity="0.85"/>
<path d="M392.8 244.3L393.6 260.4" fill="none" stroke="#24579c" stroke-width="1.6" stroke-linejoin="round" stroke-linecap="round" opacity="0.85"/>
<path d="M329 228.3L329.6 239.9" fill="none" stroke="#24579c" stroke-width="1.4" stroke-linejoin="round" stroke-linecap="round" opacity="0.85"/>
<path d="M318.5 225.7L317.6 236.3" fill="none" stroke="#24579c" stroke-width="2.4" stroke-linejoin="round" stroke-linecap="round" opacity="0.85"/>
<path d="M382.4 238.9L382.6 248.7" fill="none" stroke="#ead8e4" stroke-width="1.2" stroke-linejoin="round" stroke-linecap="round" opacity="0.9"/>
<path d="M288 233.7L287.6 245.8" fill="none" stroke="#ead8e4" stroke-width="1.7" stroke-linejoin="round" stroke-linecap="round" opacity="0.9"/>
<path d="M317.5 228.8L318.1 240.9" fill="none" stroke="#ead8e4" stroke-width="1.5" stroke-linejoin="round" stroke-linecap="round" opacity="0.9"/>
<path d="M350.3 222.6L350.8 231.3" fill="none" stroke="#ead8e4" stroke-width="1.5" stroke-linejoin="round" stroke-linecap="round" opacity="0.9"/>
<path d="M308.8 226.3L308.8 238.4" fill="none" stroke="#ead8e4" stroke-width="1.5" stroke-linejoin="round" stroke-linecap="round" opacity="0.9"/>
<path d="M310.2 226.5L311.1 237.5" fill="none" stroke="#ead8e4" stroke-width="1.4" stroke-linejoin="round" stroke-linecap="round" opacity="0.9"/>
<path d="M279.6 239L279.7 246.7" fill="none" stroke="#ead8e4" stroke-width="1.5" stroke-linejoin="round" stroke-linecap="round" opacity="0.9"/>
<path d="M328.5 231.7L329.2 242.7" fill="none" stroke="#ead8e4" stroke-width="1.6" stroke-linejoin="round" stroke-linecap="round" opacity="0.9"/>
<path d="M316.1 228.3L316.4 240.1" fill="none" stroke="#ead8e4" stroke-width="1.6" stroke-linejoin="round" stroke-linecap="round" opacity="0.9"/>
<path d="M316.3 228.4L317 241.2" fill="none" stroke="#ead8e4" stroke-width="1.5" stroke-linejoin="round" stroke-linecap="round" opacity="0.9"/>
<path d="M384.1 240.3L385.1 250.2" fill="none" stroke="#ead8e4" stroke-width="1.4" stroke-linejoin="round" stroke-linecap="round" opacity="0.9"/>
<path d="M296.4 229L297.1 242.4" fill="none" stroke="#ead8e4" stroke-width="1.3" stroke-linejoin="round" stroke-linecap="round" opacity="0.9"/>
<path d="M353.3 223.4L353.7 235.1" fill="none" stroke="#ead8e4" stroke-width="1.1" stroke-linejoin="round" stroke-linecap="round" opacity="0.9"/>
<path d="M362.9 226.9L363.1 238.1" fill="none" stroke="#ead8e4" stroke-width="1.3" stroke-linejoin="round" stroke-linecap="round" opacity="0.9"/>
<path d="M346 224.5L346.5 235.5" fill="none" stroke="#ead8e4" stroke-width="1.5" stroke-linejoin="round" stroke-linecap="round" opacity="0.9"/>
<path d="M281.4 238.1L280.7 247.5" fill="none" stroke="#ead8e4" stroke-width="1.5" stroke-linejoin="round" stroke-linecap="round" opacity="0.9"/>
<path d="M302.1 226.2L302.5 237" fill="none" stroke="#ead8e4" stroke-width="0.9" stroke-linejoin="round" stroke-linecap="round" opacity="0.9"/>
<path d="M329.5 231.9L328.9 238" fill="none" stroke="#ead8e4" stroke-width="1" stroke-linejoin="round" stroke-linecap="round" opacity="0.9"/>
<path d="M312.8 227.2L312.1 234.5" fill="none" stroke="#ead8e4" stroke-width="0.9" stroke-linejoin="round" stroke-linecap="round" opacity="0.9"/>
<path d="M328.8 231.7L328.6 242.4" fill="none" stroke="#ead8e4" stroke-width="1.4" stroke-linejoin="round" stroke-linecap="round" opacity="0.9"/>
<path d="M304.2 225.9L305 231.6" fill="none" stroke="#ead8e4" stroke-width="1.3" stroke-linejoin="round" stroke-linecap="round" opacity="0.9"/>
<path d="M308.6 226.3L308.4 233" fill="none" stroke="#ead8e4" stroke-width="1.6" stroke-linejoin="round" stroke-linecap="round" opacity="0.9"/>
<path d="M318.9 229.3L317.9 240" fill="none" stroke="#ead8e4" stroke-width="1" stroke-linejoin="round" stroke-linecap="round" opacity="0.9"/>
<path d="M337.5 228.7L337.1 239.2" fill="none" stroke="#ead8e4" stroke-width="1.8" stroke-linejoin="round" stroke-linecap="round" opacity="0.9"/>
<path d="M367.1 229.2L366.9 241.6" fill="none" stroke="#ead8e4" stroke-width="1.5" stroke-linejoin="round" stroke-linecap="round" opacity="0.9"/>
<path d="M318.4 229.1L317.7 239.7" fill="none" stroke="#ead8e4" stroke-width="1.4" stroke-linejoin="round" stroke-linecap="round" opacity="0.9"/>
<path d="M325.4 240.9L327.4 261.3L328.5 281.7L323.4 296.1L319.3 304.2" fill="none" stroke="#2b3f90" stroke-width="3.2" stroke-linejoin="round" stroke-linecap="round" opacity="0.8"/>
<path d="M347.9 240.9L349.9 251.1L346.9 261.3" fill="none" stroke="#24579c" stroke-width="4" stroke-linejoin="round" stroke-linecap="round" opacity="0.8"/>
<path d="M270.2 247L278.4 267.4L284.5 285.8" fill="none" stroke="#8a3a88" stroke-width="3" stroke-linejoin="round" stroke-linecap="round" opacity="0.5"/>
<path d="M390.8 261.3L397.3 259.3L397.3 304.2L392.8 304.2L390.8 285.8Z" fill="#f1e6ea" />
<path d="M394 303.9h0M394.9 269h0M396.3 268.3h0M397.3 279.8h0M392.9 277.6h0M393 289.3h0M390.9 276.1h0M392.5 279.7h0M394.5 291.3h0M391.7 270.1h0M391.8 265.4h0M394.2 285.4h0M396.6 261.8h0M392.3 266.8h0M394.6 279.6h0M393.5 299.2h0M395.1 297.9h0M397.1 271.4h0M397 277.6h0M392.7 272.3h0M397.1 298.4h0M393.5 283.1h0M396.4 295.6h0M395.1 282.3h0M391.6 270.2h0M395.1 285.6h0M396 299.7h0M397.1 267.9h0M394.5 267.4h0M395.3 270.8h0" stroke="#d8264e" stroke-width="1.8" stroke-linecap="round" fill="none" opacity="1"/>
</g>
<path d="M262 261.9L268.2 263.8L273.3 269.5L277.4 279.7L279.8 292L280.8 304.2L262 304.2Z" fill="#e6e2e6" stroke="#111" stroke-width="1"/>
<rect x="264.9" y="297.2" width="13.8" height="2.3" fill="#3a12f0"/>
<text x="264.6" y="294.8" font-size="6.6" fill="#000">200 μm</text>
</g>
<rect x="263.4" y="208.6" width="135.5" height="94.8" fill="none" stroke="#000" stroke-width="1.05"/>
<g clip-path="url(#cp5)"><rect x="402.3" y="208.6" width="135.3" height="94.8" fill="#c93a62"/>
<g filter="url(#rough2)">
<path d="M401 208.2L426.6 208.2L424.5 216.3L412.3 224.5L401 228.6Z" fill="#a03c7c" />
<path d="M434.4 217.9h0M473.8 226.3h0M412.1 228h0M487.5 220.7h0M494.1 229.6h0M403.3 220.8h0M494.9 227.1h0M490.7 212.9h0M533.3 229.2h0M433.9 219.6h0M533.2 213.6h0M458 234h0M525.3 214.3h0M502.7 217.7h0M492.9 228.7h0M419.5 214h0M431.4 215.2h0M406.9 211.7h0M457.6 219.4h0M412.7 223.7h0M531.1 223.6h0M450.7 227h0M461.9 212.7h0M468 208.5h0M494.6 212.3h0M452.6 234h0M507 230.6h0M490 225.1h0M498.6 234.1h0M428.9 228.7h0M443.2 214.9h0M514.6 224.2h0M518.4 231.6h0M482.7 213.4h0M404.1 222.4h0M501.4 215.4h0M411.6 208.1h0M425.7 226.8h0M402.5 214.2h0M438.3 227.2h0M537.2 208.5h0M417.6 233.2h0M534.9 212h0M447.9 222.1h0M445.9 219.3h0M467.6 215h0M409.5 210.3h0M424.3 210.5h0M487.5 226.8h0M438 229.4h0" stroke="#9a3f86" stroke-width="3" stroke-linecap="round" fill="none" opacity="0.5"/>
<path d="M459.3 230.7L471.5 226.2L492 224.9L510.4 230.7L520.6 236.8L523 251.1L521 271.5L516.9 292L514.9 304.6L432.7 304.6L430.7 281.7L422.5 267.4L426.6 251.1L430.7 234.7L443.9 228.6L450.1 240.9L455.2 253.1Z" fill="#e0cbd9" />
<path d="M495.8 252.2h0M471.9 239.9h0M515.9 269.6h0M492.1 255.6h0M494.6 243.2h0M502.6 288.9h0M432 271.7h0M441.7 281.3h0M503.3 288h0M445.7 232.4h0M489.2 270h0M436.4 240.3h0M481.1 233.5h0M486.2 244.1h0M448.5 258.7h0M476.1 282.7h0M444.7 248.1h0M486.8 280h0M484.3 296.8h0M443.1 249.7h0M489.1 245.7h0M438.3 243h0M500 290.8h0M494.5 301.3h0M502.4 249.6h0M454.2 282.4h0M428.1 273.5h0M474.1 237h0M516.2 294.9h0M468.9 240.7h0M434.5 265.3h0M474.9 253.9h0M494.5 267.1h0M500.5 233.4h0M429.5 255.8h0M471.1 245.1h0M489.7 242.6h0M454.5 262.9h0M494.1 286.3h0M459.9 260.5h0M484.7 233.3h0M468.3 275.7h0M435.4 262.1h0M484.8 248.8h0M500 259.8h0M431.1 256.3h0M427.6 247.9h0M499.7 235.7h0M439 267.3h0M506.2 238.4h0M439.9 285.9h0M465.3 251.9h0M434.9 244.3h0M448.6 284h0M512.1 297h0M470 301.2h0M483.2 247.9h0M469.3 282h0M496.3 235.3h0M442 301.3h0M433.2 289.8h0M448.1 262.3h0M508.4 250.5h0M439.9 284.3h0M464.6 290.4h0M509.3 270.8h0M483.5 296.6h0M518.2 251h0M507.8 290.2h0M449.2 254.1h0M460.2 253.1h0M460.5 233.7h0M445.3 297.4h0M463.8 275.6h0M511.7 285.2h0M447.1 298.2h0M503.3 303.9h0M495.7 285.1h0M504.2 245.1h0M488.4 255.3h0M506.9 235.6h0M476.7 251.7h0M505 252.5h0M507.3 292.5h0M510.9 236h0M516.8 284.3h0M490.5 276.9h0M477.6 261.3h0M456.6 287.3h0M501.1 294.3h0M444 252.1h0M502.6 243h0M497 240.8h0M468.9 257h0M503.2 301h0M453.6 275.3h0M512.4 262.4h0M512.9 283.4h0M453.8 294.6h0M480.1 233.4h0M481.6 291h0M474.6 263.5h0M464.4 295.1h0M489.4 241.5h0M458.9 253.9h0M518.9 280.4h0M435 297.8h0M426 272h0M466 282.1h0M465.6 232.3h0M475.1 290.3h0M501.8 253.4h0M444.8 284.3h0M503.1 242.4h0M511.3 304h0M466.1 255.3h0M493.9 299h0M442.8 249h0M455.6 283.3h0M441.3 268.5h0M472.8 278.2h0M436.9 301.2h0M502.4 239.5h0M514 268.9h0M498.9 294.2h0M458.9 298.6h0M473 296.6h0M513 301h0M473.8 299.3h0M478.8 236.4h0M485.9 289h0M465.1 272.9h0M448.5 246.9h0M464.7 265.8h0M469.6 232.3h0M494.6 284.6h0M446.3 245.3h0M474.4 238.9h0M483.1 297h0M442.8 271.6h0M495 284.7h0M494.1 281.6h0M449.9 291.8h0M517.4 260.2h0M502.6 278.9h0M436.8 261.6h0M486.7 304.4h0M456.3 286h0M447.1 240.8h0M438.7 257.6h0M484.6 249.1h0M438.8 242.4h0M431 240.3h0M454.2 265.1h0M440.9 263.2h0M466.7 302.5h0M471.4 300.2h0M469.9 240.7h0M482 236.5h0M439.5 230.8h0M493 302h0M463 253.2h0M465.2 253h0M491.9 256.2h0" stroke="#fbf6f8" stroke-width="3.2" stroke-linecap="round" fill="none" opacity="1"/>
<path d="M437.8 293.8h0M507.9 283h0M458.1 275.1h0M515 256.9h0M466 248.7h0M478.2 277.8h0M496.4 300.6h0M437.1 254.1h0M508.1 288h0M481.8 278.9h0M456.7 300.2h0M477.7 257h0M440.8 234.1h0M512.7 288.7h0M470.7 264.4h0M459 296.3h0M457.7 267.3h0M515.9 275.9h0M470.4 251.4h0M461.4 273.5h0M501.5 245.7h0M459.7 255.8h0M459 297.7h0M476.7 246.9h0M455.9 290.4h0M438.6 279.9h0M437.3 243.1h0M428.3 246h0M496.2 282.3h0M514 300.4h0M477.9 298.4h0M466.1 240.3h0M497.7 293.4h0M461.3 232.4h0M510.3 285h0M482.5 302.8h0M493.7 275.2h0M433.8 237.8h0M440.7 273.5h0M490.1 302.2h0M458.7 303h0M466.2 256.1h0M448 243.5h0M493.5 238.9h0M440.6 237.1h0M457.8 283.7h0M428.4 267.2h0M490.9 227.6h0M466.7 288h0M480.4 260.9h0M511.1 272.8h0M456.4 256.5h0M514.5 269.6h0M436.8 238.9h0M461 280h0M501.5 266h0M464.1 278.3h0M479.8 283h0M463.6 301.4h0M484.3 250.1h0M460.3 246.4h0M513.4 288.1h0M501.7 290.4h0M454.5 285.3h0M448.9 273.6h0M438.4 293.3h0M471.6 246.9h0M516 285.3h0M437.5 285.6h0M480.1 297.2h0M481.5 259h0M500.6 233.1h0M510.1 260.1h0M495.5 245.4h0M495.9 276.6h0M432.3 264.3h0M495.1 242h0M488.3 247.1h0M459.7 298.3h0M465.4 270.5h0M503.8 285.4h0M468.4 293.8h0M462.8 300.7h0M470 234.4h0M497.8 236.5h0M490.8 229.2h0M496.9 235.4h0M486.5 254.9h0M447.5 289.9h0M425.8 263h0M469.2 262.3h0M494.7 283.1h0M457 299.3h0M441.1 235.8h0M504.4 234.5h0M441.2 264.8h0M516 262.7h0M501.5 244.9h0M514.2 242.6h0M513.6 273.8h0M485.9 267.4h0M508.4 260.3h0M432.4 297.8h0M503.5 279.3h0M497.4 243.4h0M469.1 290.5h0M438.6 279.4h0M478.2 257.2h0M439.3 235.9h0M469.8 264.2h0M449.4 254.2h0M478.2 285.7h0M481.7 237.9h0M511.6 254.2h0M436.6 271.3h0M519.7 255.6h0M477.5 249.9h0M434.9 247.6h0M485.8 269.8h0M517.8 279.6h0M458.9 300.6h0M486.2 268.2h0M509.2 278.3h0M458.7 273.1h0M452.7 302.2h0M447 302.5h0M478.1 241.3h0M473.5 234.4h0M506.6 278.3h0M491.3 298.8h0M427.4 258.9h0M519.9 249.9h0M464.3 296.9h0M481.8 290.6h0M440.5 291.3h0M432.7 299.2h0M449.4 295.1h0M474.3 250.7h0M519.7 257.2h0M492.6 230.3h0M506 303.1h0M433.6 284.4h0M459.1 277.7h0M488.2 237.8h0M495.5 268.9h0M458.6 296.7h0M438.4 236.8h0M481.7 288.8h0M438.6 265h0M480.2 269.6h0M464 268.3h0M465 243.8h0M498.6 244.2h0M505.3 244.2h0M431.8 263h0M461.4 251.7h0M499.4 242.7h0M489.9 291.5h0M468 265h0M515.4 273.1h0M440.7 230.5h0M430.7 251.4h0M431.4 276.6h0M465.1 249.5h0M474 299.6h0M447.1 237.3h0M453.2 250.8h0M514 281.2h0M465.6 238.2h0M507.7 276.6h0M438.2 274.8h0M428.4 265.3h0M497.1 282.1h0M473.8 238.3h0M489.8 259.5h0M489 232.2h0M444.9 256.7h0M442.4 231.9h0M491.6 304.1h0M489.9 242.7h0M462.8 279.8h0M465.8 237.3h0M429.6 268.2h0M432.5 265h0M471.6 240.4h0M489.8 264.4h0M503.8 248.2h0M516.4 289.9h0M470.1 236.2h0M471.1 235.1h0M491.4 280.5h0M480.6 302.8h0M503 233.9h0M481.1 282.6h0M457.5 280.4h0M459.4 281.7h0M450.3 302.9h0M431.7 282.8h0M509.4 275.7h0M438.1 294.4h0M494.6 234.1h0M460.7 278.5h0M458 294.6h0M522.7 250.3h0M513.9 287.6h0M509.5 271.8h0M520 276.3h0M517.8 270h0M442.2 266.3h0M471 251.8h0M460.1 265.6h0M481.6 242.7h0M450.4 265h0M473.1 258.3h0M489.3 239.7h0M476 246.9h0M499.9 281h0M501 266.2h0M447.5 298.7h0M473.8 254.8h0M451.7 257h0M493.7 290.2h0M471 283.2h0M443.9 261h0M458.5 249.4h0M458.6 285.1h0M496.2 241.5h0M446 287.5h0M488.3 278.8h0M486.4 280.2h0M519.2 266.8h0M489.9 302h0M503.4 243.2h0M502.5 283.7h0M471.5 254.4h0M449.6 263.8h0M494.1 296.3h0M507.8 294.1h0M466.6 258.5h0M454.1 302.6h0M440.9 237.5h0M450.7 298.4h0M508.2 251.4h0M508.1 295.9h0M465.4 240.3h0M500.2 254.8h0M434.5 296.9h0M466.7 256.6h0M482.3 245.3h0M459.9 285.6h0M456 279.1h0M485.3 240h0M483.9 248.4h0M442.6 293.1h0M513.9 243.5h0M481.4 270.7h0M455.2 276.3h0M483 265.6h0M434.8 241.9h0M453.8 258.1h0M459 296.9h0M434.1 303.6h0M446.7 293.2h0M447 271.7h0M502.6 289.5h0M449.5 286.8h0M470.7 303.6h0M427.9 255.2h0M445.4 274.7h0M500.7 292.1h0M477.6 255.8h0M502.9 233.3h0M448.6 284.9h0M466.8 304.1h0M431.6 261.7h0M459.6 259.4h0M473.5 248h0M493.1 266.1h0M473.8 264.3h0M459.9 293.6h0M443.5 294.9h0M458.5 251.7h0M484.3 269.8h0M518.5 254.4h0M434 277.3h0M476 251h0M455.5 292.3h0M456.5 258.2h0M518.7 253.7h0M462.9 237.8h0M489.1 277.9h0M467.4 257.3h0M445.9 287.9h0M468.5 291.2h0M460.2 283.4h0M519.1 279.3h0M490.4 264.5h0M470 240.7h0M439.9 276.4h0M492.2 245.6h0M487.3 235.8h0M484.1 238.6h0M473.7 250h0M477.8 235.6h0M471.1 274.1h0M436 249.5h0M490.7 268.5h0M484.5 287.1h0M479.9 242.6h0M467 291.1h0M479.5 285h0M459.1 260.7h0M488.1 233.4h0M484 227.6h0M495.7 246.3h0M507.5 239.1h0M505.7 266.4h0M466.7 291.1h0M491.7 267.4h0M509.2 241.1h0M512.8 251.9h0M485.2 234.6h0M438.5 248.3h0M450.5 298.3h0M513.5 294.3h0M522 260h0M502.5 247.3h0M515.6 289.6h0M496.1 243.1h0M478 273.7h0M509.2 236.4h0M492.8 261.9h0M501.5 261.3h0M442.3 301.2h0M450.8 284.3h0M506.1 244.7h0M492.4 256.5h0M445 242.3h0M518.4 254.3h0M473.7 264.9h0M497.4 294.8h0M458.4 241.7h0M457.4 283.3h0M488.6 257.3h0M475.2 237.2h0M514.8 262.5h0M473.4 287.7h0M442.4 282.5h0M458 289.7h0M432 246.9h0M486.4 263.4h0M460.4 271.1h0M444.4 259.8h0M448 291.1h0M478 272.9h0M485.4 234.9h0M500.6 248.2h0M509.2 287.6h0M490.7 289.9h0M466.4 278.6h0M518.3 240h0M432.6 257.8h0M473.7 236.8h0M444.7 294h0M461.5 236.8h0M440.9 271h0M441.6 262.8h0M476.5 260h0M473.1 291.6h0M499.7 270.4h0M476.6 242.3h0M501 249.4h0M495.6 243.1h0M480.1 276.6h0M459.9 263.2h0M429 276.2h0M492 237.2h0M477.9 283.4h0M432.6 291.8h0M471.7 244.9h0M452.7 261.7h0M459.8 287.8h0M495.2 234h0M492.6 287.1h0M463.9 299.1h0M461.9 249.8h0M474 260.1h0M466.4 286.2h0M506 262.9h0M440.4 257.3h0M512.1 257.4h0M488.9 269.5h0M468.9 270.8h0M447.1 269.4h0M509.4 231.3h0M459.6 295.1h0M485.5 275.3h0M507.3 262.4h0M435.7 248.9h0M494.1 283h0M443.1 276.2h0M488.5 277.4h0M424.7 260.1h0M455.2 272.5h0M489.9 247.8h0M502 249.3h0M477.4 289.3h0M434.1 283.2h0M459.6 239.3h0M462.2 264.9h0M464.2 234.7h0M475 248.9h0M519.7 255.5h0M466.3 243.1h0M519.9 250.6h0M487.5 291.3h0M462 285.1h0M426.7 260.7h0M510.4 241.1h0M466.8 285.7h0M474.7 258.8h0M446.4 269.6h0M467.2 297.9h0M452.9 271.7h0M493.9 230h0M452.8 282h0M435.2 262.7h0M444.8 231.4h0M431.6 240.4h0M474.5 235.8h0M505 258.2h0M447.8 244.1h0M497.1 232.7h0M517.5 257.5h0M482.6 293.7h0M492.2 271.8h0M495 247.1h0M472.4 239.8h0M466.4 247.4h0M481.4 248.8h0M450.1 276.1h0M472.3 243.2h0M434 265.5h0M473.1 282.3h0M460.1 257.8h0M512.2 246.8h0M448.3 289.8h0M484 241.2h0M503.9 269.4h0M440.1 245.6h0M484.4 240.4h0M469 281.8h0M432.1 277.6h0M433 262.8h0M487.8 279.7h0M519 256.1h0M465.2 254.8h0M492.5 284h0M487.9 257h0M479.7 266h0M441.4 300.6h0M506.9 244.1h0M497.2 281.9h0M516.9 291.4h0M510.9 246.3h0M501.7 262.8h0M453.9 254.3h0M502.8 292.1h0M507.4 278.3h0M439.6 237.3h0M479.6 241.8h0M438 282.1h0M445 292.5h0M455.6 292.6h0M466.3 255.2h0M519 243.1h0M432.5 281.5h0M481 265.1h0M447.2 247.8h0M520 254.6h0M435 292.5h0M503.9 280.4h0M477.8 289.7h0M438 268h0M449.2 256.7h0M441.7 281.4h0M480.1 287h0M485.7 272.7h0M515.2 289.7h0M479.5 250.9h0M515.8 254.5h0M432.7 251.5h0M493.5 299.2h0M487.4 277.7h0M516.7 286.9h0M467.3 261.7h0M498.9 250.3h0M433.5 274.3h0M503.8 244.7h0M491.2 296.1h0M435.3 235.8h0M472.1 251.6h0M467.3 288.1h0M486 238.8h0M520.2 238.8h0M430.1 261h0M424.3 263.3h0M463.9 301h0M464.1 292.7h0M500.9 271.7h0M446.4 249.2h0M471.9 256.4h0M487.4 265.2h0M455 273.3h0M465 291.6h0M492.6 301.9h0M506.6 271.6h0M480.8 225.9h0M461 245.8h0M484.9 230.2h0M477 254.9h0M472 257.2h0M432.8 283.2h0M503 272.6h0M434.1 272.7h0M510.1 303.6h0M498.7 228.6h0M510.8 277.9h0M450.3 298.3h0M505.5 296.3h0M447.4 270.9h0M460.6 248.5h0M499 274.1h0M455.8 268.2h0M515.8 270.1h0M514.3 270h0M468.7 269h0M495.6 302.1h0M485.2 263h0M486.3 267.4h0M493.4 300.4h0M487.7 288.7h0M446.4 255.3h0M445.2 281.1h0M475.7 273.2h0M455.2 271.7h0M518.2 244.6h0M474.4 255.7h0M457.3 289h0M440.1 269.5h0M500.3 299.5h0M472.1 299.6h0M438.9 292h0M462.4 268.6h0M435.9 249.1h0M492.9 271.2h0M434.7 288.8h0M473.5 236.3h0M505 290.4h0M444.3 299.8h0M504 243.2h0M505.5 232.7h0M499.5 286.6h0M486.2 291.3h0M521.5 251.1h0M506.3 298.3h0M454 279.4h0M491.3 292.6h0M479.5 246.9h0M447.8 268.2h0M436.1 293.4h0M511.9 244.2h0M492.6 278.6h0M434.7 287h0M499.5 249.4h0M432.4 247.4h0M500.1 262.1h0M504.5 237.7h0M433.2 252.8h0M511 237.8h0M431.7 278.2h0M430.9 244.6h0M489.2 294.6h0M463.6 260.8h0M446.8 287.8h0M494.3 287.5h0M475.9 280.7h0M435.3 255.6h0M451.9 247.4h0M496.8 242h0M509.4 275.8h0M470.8 255.2h0M515.2 299.8h0M467.7 270.1h0M509.2 245.4h0M473 286.2h0M438.2 259.4h0M460.9 291.8h0M512.2 254.9h0M434.9 275.7h0M496.9 298.5h0M488.9 249.5h0M474.3 247.9h0M467.3 262.2h0M514.2 297.1h0M515.6 263h0M515.1 276h0M510.2 257.9h0M507.7 290.3h0M460.1 291h0M444 284.9h0M469.6 257.7h0M442.2 288.7h0M496 232h0M520.8 242.6h0M460.2 258h0M480.4 295.9h0M517.5 275.4h0M459.2 233.5h0M429.4 266.3h0M481.1 260.6h0M521.3 257.9h0M457.8 258.3h0M439.8 299.8h0M481.9 268.2h0M465.3 244.9h0M454.2 264.3h0M467.4 303h0M479.1 241.4h0M457.3 287.3h0M511.9 243.8h0M500.9 260.1h0M476.5 267.4h0M489.6 279.9h0M460.7 298.2h0M504.9 249h0M429.2 269h0M488.3 242.8h0M426.9 263.8h0M485.4 247.2h0M467.3 243.5h0M441.2 239.4h0M504.5 261.1h0M494.4 252.6h0M503.6 272.4h0M488.2 256.2h0M479 240.1h0M476 275.8h0M432.6 251.6h0M445.7 292.1h0M509.8 287.3h0M494.8 249h0M445.8 281.1h0M452.5 282.6h0M457.7 285.6h0M480.1 289.9h0M521.6 255.1h0M477.3 255.9h0M499.9 250h0M443.4 287.4h0M477.8 285.2h0M471.7 227.9h0M500 242.3h0M448.5 278h0M499.3 275.7h0M467 283.3h0M489.7 241.4h0M476.3 272.6h0M495.8 240.7h0M453.7 252.3h0M432.1 252.7h0M495.8 271h0M439.9 283.3h0M434.2 284.8h0M437.3 232.6h0M447.8 266h0M449.6 295.4h0M516.8 247.5h0M497.9 280.4h0M478.9 245.3h0M465.7 296.5h0M512.9 246.6h0M443.8 234.2h0M459.4 234.5h0M440.5 244.9h0M480.6 260.5h0M453.2 266.9h0M500.3 282.6h0M457 298.1h0M502 269.7h0M470.3 251.2h0M436 295.5h0M483.7 232.8h0M515.5 295.6h0M446.4 267.6h0M506.4 252.9h0M472.6 278h0M441.8 274.9h0M465.2 303.2h0M441.4 281.6h0M434.3 236.8h0M475.6 238.8h0M502.4 232.6h0M485.1 293.6h0M435.2 242.3h0M499.4 262.4h0M516.2 251.9h0M462.5 301.3h0M457.1 302h0M512.1 240.9h0M477.4 300h0M434.3 292.6h0M500.3 284.7h0M482.9 232.9h0M501.3 282.6h0M454.4 279.5h0M463.8 284.8h0M461.1 289h0M469.9 289.7h0M452.8 268.4h0M425 263.9h0M490.6 258.8h0M493.3 282.9h0M483.4 226.2h0M515.4 259.9h0M482.3 289.9h0M515.3 246.5h0M443.6 236.6h0M512.7 277.9h0M481.1 235.4h0M464 300.4h0M433 301h0M507.1 283.3h0M472.1 264.1h0M437.1 265.8h0M503.1 235.4h0M510.6 258.4h0M449.2 244h0M468.7 276.5h0M479.8 295.9h0M473.9 265.8h0M515.1 263.5h0M510.8 280.5h0M495.9 285.4h0M452.8 283h0M443.2 269.2h0M482.3 286.8h0M439.3 252.4h0M505.4 289.1h0M443.6 233.4h0M495.3 284.3h0M487.6 287.1h0M474.4 269.8h0M515.1 276.6h0M488.4 271.9h0M472.1 285.3h0M480.1 235.2h0M465.3 258.5h0M465.9 269.6h0M458.9 256.1h0M465.4 254.5h0M462.2 260.7h0M482 254.2h0M510.3 299.8h0M451.2 262h0M512.2 291.6h0M446.7 245.2h0M492.7 288.4h0M469.7 255.8h0M446 288.6h0M509.3 293.3h0M434 272.3h0M468.7 236.5h0M489.4 262.7h0M512.1 299.3h0M484.5 232.9h0M481.7 258.5h0M447.6 299h0M495.9 234.6h0M445.5 252.2h0M480.1 250.8h0M466.7 289.8h0M440.8 282.3h0M455.7 300.2h0M518.2 251h0M483.4 233.8h0M463.8 274.6h0M486.6 252.2h0M478.8 238.6h0M453.3 274.2h0M513.1 266h0M448.1 271.6h0M450.2 287.3h0M438.2 245.8h0M466.6 297.3h0M439.1 240.3h0M435.7 242h0M455.9 256.4h0M498.9 257.1h0M470.3 256.5h0M500.3 296.9h0M465.3 298.4h0M447.7 302.9h0M475.3 279.3h0M460.8 246.6h0M436.1 295.5h0M458.6 280.6h0M468.8 266.9h0M443.3 239h0M456.3 279.3h0M494 259.5h0M429.4 245.6h0M443.8 290.5h0M477.8 251h0M447.5 248.1h0M450.6 252.5h0M502 287.8h0M492.7 295.5h0M488.2 234h0M448.4 267h0M505.1 271.6h0M465.7 244.2h0M521.2 245.3h0M507.7 234.3h0M488.1 253.3h0M511.9 248.6h0M432.6 240.8h0M503.5 302.9h0M487.1 279.3h0M450.8 246.7h0M426.8 273.7h0M457.7 239.8h0M466.3 299.1h0M447.4 238.1h0M485.8 277.3h0M473.8 239.3h0M510.4 233.8h0M440 244.2h0M474.1 262.9h0M478.1 282.9h0M512.4 262.3h0M436.9 272.9h0M501.1 235.2h0M452.1 292.8h0M491.8 233.6h0M491.5 288.2h0M463.6 237.3h0M488.7 250.4h0M435.9 238.1h0M463 235h0M461.2 268.9h0M478 257.1h0M502.9 231.9h0M455.6 299.3h0M509.4 298.3h0M499.4 267.6h0M501.7 270.6h0M434.3 245.3h0M432.3 294.7h0M454.9 257.4h0M476.6 233h0M493.5 288.3h0M502.5 295.2h0M499.1 280.2h0M459.8 252.3h0M437.9 291.2h0M468.8 289.7h0M456.6 250.5h0M474.1 284.4h0M511.2 253.1h0M492.2 257.1h0M509.1 285.5h0M478.3 253.8h0M450 295.5h0M503 249.3h0M431 240.5h0M503.9 267.1h0M478.2 267.9h0M463.7 269.4h0M432.8 236h0M490.1 276h0M503.6 280.1h0M500.8 237.1h0M475.9 286.3h0M438.2 267h0M513.1 284.5h0M462.5 263.1h0M450.4 301.5h0M501.2 279.2h0M453.1 283.3h0M471.4 288.6h0M459.1 295.2h0M491.3 260.9h0M479.1 289.1h0M475.7 301.5h0M494.3 263.9h0M507.9 236.8h0M456.4 281.8h0M505.3 254.7h0M430.2 270.4h0M467.5 231.2h0M513.9 291.7h0M478.7 260.4h0M453.5 273h0M457.4 302.7h0M518.6 282.9h0M505.5 230.9h0M434.9 252.5h0M435.2 258.6h0M518.9 242.6h0M475.6 248.9h0M490.2 269.7h0M482.5 248.8h0M496.4 279.9h0M494.3 262.5h0M469.1 247.7h0M426.5 262.1h0M484.4 239.8h0M509 295h0M508.3 290h0M471.6 238.9h0M449.7 283.7h0M457.6 272.6h0M433.8 292.2h0M456.5 297.4h0M440.2 301.9h0M481.8 290.7h0M428.8 268.2h0M496.2 303.4h0M460 304.5h0M476.3 301.2h0M517.6 246h0M478.9 253.7h0M480.6 299.4h0M448.3 290.4h0M517.4 245.2h0M459.4 271.3h0M446.3 281.4h0M488.1 232.5h0M492.5 252.7h0M468.6 288.3h0M476 246.8h0M474.6 303.2h0M495.9 278.3h0M507.2 257.5h0M478.7 292.6h0M442.5 293.4h0M425 267.7h0M480.3 236.6h0M515.2 260h0M441.1 257.7h0M481.9 259.1h0M494.2 235.4h0M448.2 289.3h0M509.1 295.2h0M498.3 272.7h0M465.9 243.8h0M481.6 303.1h0M443.5 230.9h0M492.3 233.5h0M444.9 259.9h0M521.6 250.8h0M454.2 262.8h0M438.8 257h0M492.9 250.8h0M502.6 239.6h0M432.7 274.9h0M468 298.1h0M433.1 284.4h0M489.8 254.5h0M435.4 273.7h0M498.7 262.6h0M470 279.6h0M483.8 258.7h0M441.2 261.9h0M477.8 296.4h0M485.9 283.8h0M447.4 280h0M516.9 259.7h0M488.1 294h0M442.9 252.5h0M453.3 262.9h0M497.4 275.2h0M516 278.3h0M426.2 259.3h0M425.2 266.9h0M486.1 241.1h0M508.6 257.9h0M519 253.5h0M484.8 268.1h0M448.9 287.1h0M454.7 295.2h0M472.8 227.8h0M452.6 273.5h0M503.8 233.6h0M500.8 256.1h0M475.2 258.5h0M466.6 303.9h0M514.9 298.1h0M496.5 280.7h0M506 278.6h0M485.9 249.9h0M449.3 298.3h0M476 226.5h0M456.7 252.7h0M513.3 289.9h0M433.7 282.8h0M503.9 287.9h0M502.1 234.6h0M507.2 291h0M474.4 243.6h0M508.7 234.5h0M521.3 258h0M500 288.8h0M480.9 303.6h0M500.4 298.8h0M498 243h0M466.2 235.1h0M493.1 266.4h0M499.6 251.8h0M464.1 284.3h0M493.1 295.7h0M453.6 292.5h0M496.6 270.6h0M463.5 270.1h0M496 274h0M443.2 282.5h0M505.5 274.3h0M445.3 269.9h0M462.2 246.4h0M437.4 293.9h0M486.1 299.3h0M439.8 246h0M473.7 229.6h0M452.9 268h0M470.9 297.4h0M480.5 275.7h0M481.3 287.5h0M435.2 233.9h0M444.8 277.4h0M448.5 255.4h0M448.6 244.4h0M455.1 258h0M458.7 250.8h0M496.7 264.2h0M513 261.4h0M443.1 290.3h0M512.1 234.7h0M472.9 269.7h0M434.3 250.4h0M484.6 278.6h0M485.7 274.4h0M460.5 230.4h0M509.4 297.1h0M439.8 252.5h0M442.6 293.5h0M504.8 291.3h0M460.8 299.5h0M448.6 270.7h0M490.2 243.6h0M460.9 232.9h0M502.6 239.6h0M436.2 247.1h0M486.9 275.7h0M475.2 293h0M498.1 241.7h0M476.2 238.4h0M446.8 236.6h0M430.2 252.9h0M511.6 277.2h0M431.3 242.4h0M482 267.2h0M479.4 272.9h0M446.6 271.9h0M475.7 252h0M517.6 256.5h0M465 268h0M506.9 303.7h0M499.9 267.9h0M494.6 275.8h0M498.9 242.2h0M479.6 260h0M445.7 287.2h0M444.7 281.5h0M471.7 259h0M493.5 282.7h0M502.9 246h0M489.8 264.4h0M517 260.6h0M469.8 267.4h0M471.1 230.6h0M439.7 260.3h0M457.5 264.8h0M475.8 255.9h0M478.7 302.3h0M450.8 253h0M454.6 284.1h0M472.1 288.4h0M443.2 254.3h0M462.6 255.6h0M519.6 259.9h0M480.4 301.7h0M487 272.3h0M505.8 251.6h0M476.2 271.3h0M460.1 276.2h0M451 298.1h0M459.6 246.9h0M512.4 242.7h0M449.7 263.7h0M443.6 288.4h0M430 258h0M501.2 281.7h0M502.2 234.3h0M512 253.4h0M504.3 262.5h0M512.1 263h0M472.4 228.9h0M439 294.6h0M480.2 293.7h0M437.6 263.2h0M469.6 233.5h0M449 298.4h0M495.2 265.5h0M483.8 293.5h0M518.4 272.3h0M439 244.1h0M436.3 265.8h0M481.1 261.6h0M469.7 236.2h0M494.7 267.8h0M453.5 291.4h0M461.6 260.8h0M448.3 284.2h0M513.5 236h0M473.4 302h0M511.8 260.9h0M433 261.3h0M474.5 287.6h0M441.2 247.2h0M483.9 232.5h0M497.9 258.7h0M515.5 242.7h0M510.7 243.1h0M430.1 255.9h0M520.2 253.2h0M494.6 227.7h0M474.3 267.9h0M432.3 271.2h0M467.3 251h0" stroke="#3c2458" stroke-width="1.25" stroke-linecap="round" fill="none" opacity="1"/>
<path d="M506 280h0M434.6 233.4h0M486.5 302.1h0M435 288.1h0M499.1 262.6h0M434.4 242.1h0M435.5 273.6h0M485.2 293.3h0M520.3 245.8h0M449 294h0M433.7 288.1h0M512.6 269.7h0M483.5 273.9h0M500 266.2h0M433.9 242.7h0M488.1 231.3h0M433.2 244.9h0M502.6 268.5h0M458.4 301.8h0M480.9 244h0M479.3 293.1h0M459.5 259.6h0M480.5 303.6h0M486.7 239.4h0M481 250.5h0M470.1 281.8h0M424.5 265.4h0M454.1 272.7h0M505 262.2h0M485.8 247.9h0M448.2 265.6h0M476 242.7h0M499.4 264.8h0M458.2 245.2h0M506.6 296.8h0M516.8 244.7h0M429.6 275.3h0M490.8 251.8h0M466.9 279.4h0M438.6 254h0M501.6 279.2h0M481.3 233.2h0M444.3 245.4h0M480.1 298.6h0M478.2 298.1h0M469.6 266.2h0M450.8 261.9h0M516.7 263.8h0M442.4 274.6h0M473.7 262.8h0M515.7 285.7h0M492.9 272.5h0M488.1 264.8h0M426.1 260.9h0M506.5 272.9h0M513.5 268.4h0M439 281.3h0M515.5 293.9h0M487.4 289.3h0M431.3 261.9h0M504 252.1h0M436.9 293.9h0M493.3 225.5h0M428.9 269.3h0M518.4 274.2h0M510.6 233.3h0M480.4 239.4h0M469.1 228.6h0M488.5 276.5h0M513.5 286.2h0M477.1 299.6h0M472 231.4h0M493.3 238.7h0M513.2 264.2h0M455.3 277.7h0M493.9 261.6h0M450.2 258.4h0M494.3 243.1h0M438.4 263.5h0M488.6 230.2h0M449.8 302.4h0M449.3 286.5h0M471.4 294.2h0M500.6 228.8h0M493.2 274.4h0M471 277.9h0M475 239.5h0M492.4 235.2h0M453.6 292.8h0M479.6 265.7h0M493.9 264.2h0M461.1 268.9h0M513.8 277h0M438.4 293.1h0M450.9 289.1h0M487.9 273.2h0M497 246.2h0M506.4 268.2h0M498.6 291.9h0M448.1 257.7h0M510.5 279.6h0M471.7 268.4h0M458.5 279.6h0M476.2 264.6h0M448.5 242.7h0M489.9 252.1h0M520 247h0M474.2 233.2h0M472.9 301.2h0M499.1 253.9h0M450.3 299.2h0M508.5 230.4h0M518.1 276.4h0M461.6 258.8h0M483.7 266.9h0M509.7 296.3h0M500.8 276.6h0M488.3 230.9h0M459.1 262.6h0M520.4 240.5h0M486.3 229.8h0M478.9 283.8h0M438.3 285.5h0M502 300.4h0M494.5 268.6h0M505.4 289.2h0M485.7 278.2h0" stroke="#e02c55" stroke-width="1.7" stroke-linecap="round" fill="none" opacity="1"/>
<path d="M488.6 219.4L488.1 232.4" fill="none" stroke="#c93a62" stroke-width="2.2" stroke-linejoin="round" stroke-linecap="round" />
<path d="M459.7 218.5L459.7 240.8" fill="none" stroke="#c93a62" stroke-width="1.3" stroke-linejoin="round" stroke-linecap="round" />
<path d="M494.4 221.2L494.9 232.9" fill="none" stroke="#c93a62" stroke-width="1.7" stroke-linejoin="round" stroke-linecap="round" />
<path d="M503.8 224.3L503.6 244.5" fill="none" stroke="#c93a62" stroke-width="1.4" stroke-linejoin="round" stroke-linecap="round" />
<path d="M474.3 217.8L472.8 235.3" fill="none" stroke="#c93a62" stroke-width="2.3" stroke-linejoin="round" stroke-linecap="round" />
<path d="M496.7 221.8L497.8 237.8" fill="none" stroke="#c93a62" stroke-width="2.1" stroke-linejoin="round" stroke-linecap="round" />
<path d="M465.7 217.6L464.9 237.1" fill="none" stroke="#c93a62" stroke-width="2.1" stroke-linejoin="round" stroke-linecap="round" />
<path d="M486 218.6L484.3 233.2" fill="none" stroke="#c93a62" stroke-width="1.5" stroke-linejoin="round" stroke-linecap="round" />
<path d="M477.1 218L478.3 231.7" fill="none" stroke="#c93a62" stroke-width="2.3" stroke-linejoin="round" stroke-linecap="round" />
<path d="M515 229.9L513.2 245.8" fill="none" stroke="#c93a62" stroke-width="1.8" stroke-linejoin="round" stroke-linecap="round" />
<path d="M460.8 218.4L460.4 240.7" fill="none" stroke="#c93a62" stroke-width="1.3" stroke-linejoin="round" stroke-linecap="round" />
<path d="M497.1 222L495.5 240.3" fill="none" stroke="#c93a62" stroke-width="2.3" stroke-linejoin="round" stroke-linecap="round" />
<path d="M472.1 217.7L470.1 229.9" fill="none" stroke="#c93a62" stroke-width="1.8" stroke-linejoin="round" stroke-linecap="round" />
<path d="M460.4 218.4L458.7 235.8" fill="none" stroke="#c93a62" stroke-width="2.3" stroke-linejoin="round" stroke-linecap="round" />
<path d="M485.9 218.6L485.5 237.7" fill="none" stroke="#c93a62" stroke-width="1.3" stroke-linejoin="round" stroke-linecap="round" />
<path d="M496 221.6L494.7 240.4" fill="none" stroke="#c93a62" stroke-width="2.3" stroke-linejoin="round" stroke-linecap="round" />
<path d="M462.7 218.1L462.9 236.8" fill="none" stroke="#c93a62" stroke-width="1.4" stroke-linejoin="round" stroke-linecap="round" />
<path d="M476.3 218L478.3 241.4" fill="none" stroke="#c93a62" stroke-width="1.3" stroke-linejoin="round" stroke-linecap="round" />
<path d="M504 224.4L505.8 238.5" fill="none" stroke="#c93a62" stroke-width="1.9" stroke-linejoin="round" stroke-linecap="round" />
<path d="M462 218.2L461.4 237.7" fill="none" stroke="#c93a62" stroke-width="1.9" stroke-linejoin="round" stroke-linecap="round" />
<path d="M508.3 226.6L506.7 242.1" fill="none" stroke="#c93a62" stroke-width="2.2" stroke-linejoin="round" stroke-linecap="round" />
<path d="M496.3 221.7L496.1 237.9" fill="none" stroke="#c93a62" stroke-width="2.4" stroke-linejoin="round" stroke-linecap="round" />
<path d="M495.7 221.5L493.7 242.6" fill="none" stroke="#c93a62" stroke-width="1.6" stroke-linejoin="round" stroke-linecap="round" />
<path d="M486.7 218.9L485.6 235.6" fill="none" stroke="#c93a62" stroke-width="1.6" stroke-linejoin="round" stroke-linecap="round" />
<path d="M450.1 240.9L458.2 236.8L459.7 249L451.5 267.4L445.4 281.7L441.9 279.7L446 265.4L451.1 253.1Z" fill="#c93a62" />
<path d="M453.5 257.2L449 269.5L445.4 278.7" fill="none" stroke="#2b3f90" stroke-width="2.4" stroke-linejoin="round" stroke-linecap="round" opacity="0.8"/>
<ellipse cx="433.7" cy="270.5" rx="6" ry="5" fill="none" stroke="#f6eef2" stroke-width="1.3"/>
<path d="M432.7 234.7L440.9 232.7L448 240.9L449 253.1L443.9 261.3" fill="none" stroke="#f6eef2" stroke-width="1.3" stroke-linejoin="round" stroke-linecap="round" />
<path d="M461.3 249L467.4 255.2L473.6 258.2" fill="none" stroke="#f6eef2" stroke-width="1.6" stroke-linejoin="round" stroke-linecap="round" />
<path d="M401 235.2L412.3 230.7L424.5 224.5L436.8 219.4L451.1 214.7L467.4 212.3L485.8 213.5L502.2 218.4L514.4 224.5L526.7 231.7L536.9 239.9" fill="none" stroke="#1d3f80" stroke-width="9" stroke-linejoin="round" stroke-linecap="round" filter="url(#rough3)"/>
<path d="M417.4 229.7L417.6 236" fill="none" stroke="#1d3f80" stroke-width="1.8" stroke-linejoin="round" stroke-linecap="round" opacity="0.9"/>
<path d="M409.3 233.5L409.8 244.8" fill="none" stroke="#1d3f80" stroke-width="1.5" stroke-linejoin="round" stroke-linecap="round" opacity="0.9"/>
<path d="M496 218.2L495.6 229" fill="none" stroke="#1d3f80" stroke-width="1.4" stroke-linejoin="round" stroke-linecap="round" opacity="0.9"/>
<path d="M435.4 221.6L436.2 230" fill="none" stroke="#1d3f80" stroke-width="1.4" stroke-linejoin="round" stroke-linecap="round" opacity="0.9"/>
<path d="M515.1 226.5L514.9 236.8" fill="none" stroke="#1d3f80" stroke-width="1.2" stroke-linejoin="round" stroke-linecap="round" opacity="0.9"/>
<path d="M513 225.4L512.6 231.3" fill="none" stroke="#1d3f80" stroke-width="2" stroke-linejoin="round" stroke-linecap="round" opacity="0.9"/>
<path d="M428 224.7L428.8 237.3" fill="none" stroke="#1d3f80" stroke-width="1.6" stroke-linejoin="round" stroke-linecap="round" opacity="0.9"/>
<path d="M407.6 234.1L406.9 241.2" fill="none" stroke="#1d3f80" stroke-width="1.4" stroke-linejoin="round" stroke-linecap="round" opacity="0.9"/>
<path d="M483.6 215L484.4 223" fill="none" stroke="#1d3f80" stroke-width="1.1" stroke-linejoin="round" stroke-linecap="round" opacity="0.9"/>
<path d="M477.3 214.6L476.7 220.7" fill="none" stroke="#1d3f80" stroke-width="1.6" stroke-linejoin="round" stroke-linecap="round" opacity="0.9"/>
<path d="M494.3 217.7L493.6 226.4" fill="none" stroke="#1d3f80" stroke-width="1.7" stroke-linejoin="round" stroke-linecap="round" opacity="0.9"/>
<path d="M503 220.4L502.8 232.3" fill="none" stroke="#1d3f80" stroke-width="1.2" stroke-linejoin="round" stroke-linecap="round" opacity="0.9"/>
<path d="M496.8 218.4L497.2 230.2" fill="none" stroke="#1d3f80" stroke-width="1.5" stroke-linejoin="round" stroke-linecap="round" opacity="0.9"/>
<path d="M418.7 229.1L418 238.4" fill="none" stroke="#1d3f80" stroke-width="1.2" stroke-linejoin="round" stroke-linecap="round" opacity="0.9"/>
<path d="M485.9 215.1L485.2 226.2" fill="none" stroke="#1d3f80" stroke-width="1.2" stroke-linejoin="round" stroke-linecap="round" opacity="0.9"/>
<path d="M407.8 234.1L407.3 242.9" fill="none" stroke="#1d3f80" stroke-width="1.6" stroke-linejoin="round" stroke-linecap="round" opacity="0.9"/>
<path d="M455.3 215.7L454.8 224.7" fill="none" stroke="#1d3f80" stroke-width="1.9" stroke-linejoin="round" stroke-linecap="round" opacity="0.9"/>
<path d="M474 214.3L474.7 220.1" fill="none" stroke="#1d3f80" stroke-width="2" stroke-linejoin="round" stroke-linecap="round" opacity="0.9"/>
<path d="M518.8 228.7L518.8 237.9" fill="none" stroke="#1d3f80" stroke-width="1.5" stroke-linejoin="round" stroke-linecap="round" opacity="0.9"/>
<path d="M521.4 230.2L520.7 240.3" fill="none" stroke="#1d3f80" stroke-width="1.5" stroke-linejoin="round" stroke-linecap="round" opacity="0.9"/>
<path d="M444.2 218.6L444.6 229.3" fill="none" stroke="#1d3f80" stroke-width="1.1" stroke-linejoin="round" stroke-linecap="round" opacity="0.9"/>
<path d="M494.8 217.8L494.7 226.8" fill="none" stroke="#1d3f80" stroke-width="1.6" stroke-linejoin="round" stroke-linecap="round" opacity="0.9"/>
<path d="M412.8 232L413 240.2" fill="none" stroke="#1d3f80" stroke-width="1.9" stroke-linejoin="round" stroke-linecap="round" opacity="0.9"/>
<path d="M435.4 221.6L435.9 232.4" fill="none" stroke="#1d3f80" stroke-width="1.6" stroke-linejoin="round" stroke-linecap="round" opacity="0.9"/>
<path d="M517.1 227.7L516.4 237.5" fill="none" stroke="#1d3f80" stroke-width="1.6" stroke-linejoin="round" stroke-linecap="round" opacity="0.9"/>
<path d="M492 217L491.9 223" fill="none" stroke="#1d3f80" stroke-width="1.2" stroke-linejoin="round" stroke-linecap="round" opacity="0.9"/>
<path d="M483.2 214.9L482.7 220.9" fill="none" stroke="#1d3f80" stroke-width="1.4" stroke-linejoin="round" stroke-linecap="round" opacity="0.9"/>
<path d="M465.7 214.2L465.8 219.9" fill="none" stroke="#1d3f80" stroke-width="1.8" stroke-linejoin="round" stroke-linecap="round" opacity="0.9"/>
<path d="M448.4 217.2L448.9 222.8" fill="none" stroke="#1d3f80" stroke-width="2" stroke-linejoin="round" stroke-linecap="round" opacity="0.9"/>
<path d="M480.9 214.8L481.7 227.4" fill="none" stroke="#1d3f80" stroke-width="1.8" stroke-linejoin="round" stroke-linecap="round" opacity="0.9"/>
<path d="M419.6 228.6L419.3 235.8" fill="none" stroke="#1d3f80" stroke-width="1.8" stroke-linejoin="round" stroke-linecap="round" opacity="0.9"/>
<path d="M430.5 223.7L430 230" fill="none" stroke="#1d3f80" stroke-width="1.1" stroke-linejoin="round" stroke-linecap="round" opacity="0.9"/>
<path d="M525 232.3L525.8 240.5" fill="none" stroke="#1d3f80" stroke-width="1.7" stroke-linejoin="round" stroke-linecap="round" opacity="0.9"/>
<path d="M465.4 214.2L465.4 222.4" fill="none" stroke="#1d3f80" stroke-width="1.6" stroke-linejoin="round" stroke-linecap="round" opacity="0.9"/>
<path d="M502.2 208.2L520.6 208.2L521 214.7L512.4 218L504.2 214.3Z" fill="#ead9dd" stroke="#7a2a50" stroke-width="0.8"/>
<path d="M530.8 208.2L537.3 208.2L537.3 222.5L533.9 219.4Z" fill="#f3e8ea" />
<path d="M401 261.3L407.2 263.4L411.2 304.6L401 304.6Z" fill="#f0dfe4" />
<path d="M401.6 264.4L408.2 267.6" fill="none" stroke="#d62a50" stroke-width="1.6" stroke-linejoin="round" stroke-linecap="round" />
<path d="M401.6 268.7L408.2 271.9" fill="none" stroke="#d62a50" stroke-width="1.6" stroke-linejoin="round" stroke-linecap="round" />
<path d="M401.6 273L408.2 276.2" fill="none" stroke="#d62a50" stroke-width="1.6" stroke-linejoin="round" stroke-linecap="round" />
<path d="M401.6 277.3L408.2 280.5" fill="none" stroke="#d62a50" stroke-width="1.6" stroke-linejoin="round" stroke-linecap="round" />
<path d="M401.6 281.5L408.2 284.8" fill="none" stroke="#d62a50" stroke-width="1.6" stroke-linejoin="round" stroke-linecap="round" />
<path d="M401.6 285.8L408.2 289.1" fill="none" stroke="#d62a50" stroke-width="1.6" stroke-linejoin="round" stroke-linecap="round" />
<path d="M401.6 290.1L408.2 293.4" fill="none" stroke="#d62a50" stroke-width="1.6" stroke-linejoin="round" stroke-linecap="round" />
<path d="M401.6 294.4L408.2 297.7" fill="none" stroke="#d62a50" stroke-width="1.6" stroke-linejoin="round" stroke-linecap="round" />
<path d="M401.6 298.7L408.2 302" fill="none" stroke="#d62a50" stroke-width="1.6" stroke-linejoin="round" stroke-linecap="round" />
<path d="M522.2 286.9L530.8 289.9" fill="none" stroke="#8a1c2c" stroke-width="1.6" stroke-linejoin="round" stroke-linecap="round" />
</g>
<rect x="403.8" y="296.9" width="13.2" height="2.3" fill="#3a12f0"/>
<text x="403.5" y="294.4" font-size="6.6" fill="#000">200 μm</text>
</g>
<rect x="402.3" y="208.6" width="135.3" height="94.8" fill="none" stroke="#000" stroke-width="1.05"/>
<g clip-path="url(#cp6)"><rect x="263.4" y="306.8" width="135.5" height="95.1" fill="#ecd8e2"/>
<path d="M324 337.2L342.6 330.7L349.2 348.2L348.1 372.3L342.6 392L327.3 396.3L320.7 378.8L321.8 354.7Z" fill="#fbf4f7" filter="url(#soft2)"/>
<path d="M264.2 315.8h0M265.8 317.7h0M264.7 315.7h0M264.5 313.8h0M266.3 318.7h0M262.7 317.5h0M265.6 316.8h0M266.4 397.9h0M262.5 400h0M266.1 397.6h0M263.6 394.9h0M269.5 395.1h0M265 397.3h0M268.9 391.1h0M266.3 375.4h0M268.1 373.5h0M268.2 379.3h0M267.3 377.1h0M266.2 378.1h0M264.9 378.3h0M269.8 372.2h0M396.3 402.5h0M395 399.6h0M396.4 400.6h0M394.3 399.5h0M398.4 402.5h0M399.2 399.8h0M399.5 322.8h0M399.5 322.4h0M399.5 325.5h0M399.9 324.8h0M399.5 326.6h0M398 321.1h0M396.5 325.3h0M368.9 330.8h0M372 332.9h0M373.1 335.1h0M369.1 327.7h0M371.2 331.2h0M371.6 326.9h0M370.8 332.9h0M315.4 333.4h0M314.8 332.6h0M313.4 332.2h0M315.7 336.6h0M314 334.3h0M311.4 334h0M310.5 332.5h0M314.9 357.1h0M316.9 356.5h0M320.5 358.8h0M317.8 351.5h0M317 353.9h0M320 359.7h0M319.5 357.7h0M279.5 344h0M280.8 342.2h0M282.9 339.3h0M282.5 342.1h0M279.1 339.7h0M282.2 343.9h0M283 340.8h0M318.4 385.8h0M316.2 387h0M315.7 387h0M319.4 385.1h0M316.4 382.9h0M313.3 384.5h0M317.8 385.7h0M267.4 352.4h0M269.6 352.3h0M267.7 350.6h0M269.9 350.9h0M264.8 354.3h0M267.9 355h0M269 350.3h0M307.5 317h0M302.2 314h0M305.7 313.1h0M307.9 313.9h0M304.5 317.2h0M305.5 314.7h0M303.6 317.2h0M299.1 372.9h0M293.6 378.9h0M296.4 373.1h0M296.2 376.1h0M297.3 373.7h0M297.9 374.3h0M298.2 374.3h0M340.3 348.8h0M334.6 349.1h0M333.8 348.7h0M339.8 346.1h0M336.5 346.5h0M337.2 349h0M337.2 347.8h0M339.4 394.7h0M343.8 392.3h0M341.3 392.9h0M340.7 391.2h0M338 395.5h0M340.6 389h0M340.7 389h0M327.9 316.3h0M326.5 320.6h0M325.4 321h0M327.2 318.7h0M324.5 320.7h0M322.4 320.3h0M324.4 320.3h0M295.6 333.9h0M296.7 333.2h0M293.6 334.4h0M293.2 331.3h0M296.9 333h0M291.7 330.4h0M292.1 333.4h0M327.6 315.5h0M325.8 310.9h0M331.4 314.1h0M326.1 309.5h0M331 310.3h0M326.2 310.1h0M328.9 314.5h0M374.2 358.8h0M370.8 363.9h0M369.9 362.3h0M373 362.6h0M367.2 362.3h0M371.6 362.3h0M369.6 363.4h0M324.9 320.4h0M329.1 316.6h0M324.9 320.8h0M325.4 317.7h0M328.7 321.8h0M327.7 321.5h0M325.9 316.1h0M314.2 390.2h0M309.3 387.1h0M310.8 389.1h0M311.8 384.7h0M309.7 389.4h0M312.2 389.3h0M310.2 389h0M301.8 386.2h0M304.1 385.3h0M304.8 385.3h0M307.7 384.2h0M302.6 380.7h0M303.1 386.2h0M305.7 382.8h0M388.7 336.4h0M390.3 341.8h0M392.1 340.7h0M391.8 339.3h0M391.3 342.9h0M388.9 339.7h0M392 339h0M328.3 339.4h0M330.5 341.9h0M327.6 334.8h0M332.4 338.6h0M329.8 337.1h0M327.9 340.1h0M330.8 339h0M328.6 337.6h0M328.8 339.6h0M323.9 336.7h0M326.8 336.1h0M323.2 337.3h0M327.9 338.5h0M324.3 333.2h0M299.6 348.3h0M299.2 344.9h0M303.3 351.6h0M299.9 348.5h0M305.8 350.5h0M300.3 346.8h0M304.7 352h0M313 352.3h0M314.7 351.3h0M318.3 346.1h0M318.5 352.3h0M320.3 349.8h0M314.8 353.6h0M318.8 351.7h0M271.8 372.4h0M272.4 373.5h0M272.6 368.4h0M272.9 369.9h0M271.4 369.9h0M274.4 372.1h0M273.1 370.8h0M281.1 343.1h0M281.8 338.5h0M282 342.1h0M282.5 344h0M283.9 342h0M282.4 341.2h0M278.4 342.7h0M295.3 353.3h0M297.2 350.3h0M292.8 355.2h0M294.2 356.8h0M296.3 354.9h0M290.8 353.7h0M293.3 354.3h0M341.3 316.8h0M341.8 311.6h0M341.8 315h0M342.8 314.3h0M340.4 317.3h0M343.8 312.5h0M339.9 313.9h0M292.1 344.2h0M294.5 340.7h0M289.4 338.4h0M289.5 344.1h0M290.1 338.9h0M290.1 341h0M289 338.7h0M308.8 376.3h0M309.3 371.2h0M303.6 372.4h0M306.9 373.1h0M306 375.4h0M306.3 371.8h0M306.7 372h0M295.4 350h0M290.4 352.5h0M288.6 351.8h0M291.6 346.3h0M292 348.3h0M294.3 349.6h0M291.3 350.2h0M359.4 347.6h0M362.6 353.7h0M359.5 350h0M360.7 352.1h0M361.8 352.8h0M361.9 351.4h0M359.4 352.6h0M398 357.4h0M398.7 358.2h0M396.2 359.8h0M399.9 358.8h0M394.8 361.3h0M397.4 356.8h0M393.1 358.3h0M350.9 341.2h0M349.1 338.7h0M351.4 338.7h0M350.7 338.3h0M352.5 338.8h0M349.8 338.4h0M351.3 341.6h0M376.4 371.8h0M375.1 370.1h0M376.1 373.1h0M376.6 372.7h0M375.7 370.2h0M377.6 373.1h0M378.8 371.9h0M304.6 355.4h0M306.5 352.8h0M307.2 351h0M302.1 349.3h0M305.7 352h0M308.2 351h0M303.1 352.5h0M295.3 374h0M297.9 374.1h0M299.3 371.7h0M296 374.8h0M296.6 375.7h0M297.4 376.7h0M293.4 373.3h0M269.4 377.2h0M266.6 381.1h0M269.9 377h0M266.1 380.3h0M270.5 379.4h0M269.4 379.1h0M268.4 377.5h0M283.2 399h0M286 401.7h0M283.9 399.4h0M286 399.2h0M283.8 402.4h0M285.7 398.7h0M283.5 399.6h0M324.6 395.4h0M328.7 392.1h0M328 390.9h0M331.2 391.2h0M329 391.8h0M325.8 389.3h0M326.4 391.8h0M358.5 380.1h0M353.1 381.6h0M353 383h0M355.2 388.6h0M352.2 383.9h0M357 380.8h0M356.3 383.7h0M333 326.1h0M336.7 329.7h0M335.1 331h0M335.8 331.2h0M335.5 329.4h0M337 326.5h0M337.9 327.3h0M382.6 363.8h0M383.4 364.1h0M381.6 364.2h0M379.1 364.1h0M382.6 360.5h0M382.1 363h0M385.7 366.9h0M290.9 382.2h0M291.5 387.3h0M289 387.4h0M288.7 379.8h0M289.5 384.9h0M292.9 386.8h0M288.8 383.6h0M267.9 320.3h0M268.9 327.4h0M264.3 325.8h0M266 323.1h0M262.8 321.7h0M269.3 325.3h0M270.9 324.9h0M295.2 382.5h0M295.4 387.7h0M298.6 384h0M302.8 380.8h0M298.6 379.4h0M301 379.6h0M295.6 382h0M303.7 339.7h0M310.7 337.1h0M301.6 340.1h0M311.2 337h0M307.8 335.2h0M307.5 335.7h0M309.1 334.7h0M293 328.7h0M294.2 326.3h0M293.7 328.2h0M299.2 325.9h0M290.8 322.8h0M295.5 327.3h0M295.6 327.5h0M300.4 359.3h0M296.6 358.7h0M295.8 357.6h0M300.5 360.2h0M299.2 355.5h0M301.9 357h0M301.7 358.8h0M372.6 354.2h0M369.4 353.4h0M371.4 353.2h0M369.5 353.7h0M368 350h0M365.7 355.6h0M373.1 353.5h0M282.6 327.6h0M282.6 323.8h0M285.5 321.9h0M284 325.6h0M280.9 321.7h0M285.1 323.7h0M282.6 326.2h0M268.5 371.8h0M271.7 375.9h0M267.7 370.5h0M267.9 373.5h0M273.8 374.7h0M270.2 369.6h0M269.5 373h0M325.8 318.9h0M328.2 317.7h0M325.7 316.4h0M326.3 316.8h0M326.3 317.7h0M324.7 317.5h0M328.7 314h0M290.5 354.6h0M289.4 359.4h0M288.7 354h0M291.6 355.2h0M290.8 354.3h0M289.9 353.8h0M290.4 354h0M283.1 325.1h0M283.3 323.2h0M283.7 325.1h0M280.3 326.1h0M281.5 325.5h0M277.7 323.5h0M283.1 323.1h0M328 391h0M319.7 392.8h0M320.6 391.6h0M321.6 390.9h0M321.9 391.6h0M323.6 395.3h0M321.5 396.4h0M283.2 371.5h0M281.3 371.3h0M283.8 375.5h0M282 371.1h0M278.3 374.1h0M284 374h0M279.7 367.8h0M400.1 379.3h0M399 384h0M397.5 380.5h0M398.5 384.1h0M400.1 382.8h0M340.7 334.2h0M341.5 332.8h0M341.8 336.2h0M340.4 331.3h0M339.5 333.4h0M344.1 333.8h0M342.8 332.4h0M356.7 341.3h0M358 345.3h0M360 346.1h0M356.4 344.9h0M352.5 344.7h0M357.5 341.6h0M356.3 343.8h0M268 309.1h0M264.3 305.7h0M266.7 307.5h0M264.1 309.6h0M265.6 309.7h0M267.3 309.9h0M272.3 312.5h0M364.2 399h0M364 396.8h0M361.3 399h0M363.4 397.1h0M362.7 398h0M364.9 396.6h0M363.1 395.3h0M371 374.1h0M368.8 371.1h0M372.8 371.7h0M367.2 372.8h0M372.1 371.1h0M370.1 371.8h0M368.9 372.6h0M362.8 361.6h0M364.7 364.5h0M365.6 363.2h0M361 359.4h0M366.4 361.9h0M365.5 364.3h0M363.2 361h0M380.3 323.2h0M376.6 322.8h0M372.9 326.6h0M375.2 324.5h0M376.1 325.1h0M378.4 323.9h0M375.9 324.5h0M348.9 318.7h0M347.1 320.4h0M350.2 321.8h0M345.4 323.8h0M348.1 318.8h0M345.6 320h0M348.5 317.6h0M299.4 346.5h0M301.5 344h0M302 342h0M301.1 339.5h0M304.2 342.4h0M306.5 344.3h0M304.4 344.6h0M266.7 310.2h0M268.5 314h0M266.7 316.1h0M268.2 315.3h0M268.4 311.9h0M266.6 313.5h0M266.4 311.7h0M317.9 350.9h0M318.5 355.9h0M319.5 354.4h0M314.2 354.7h0M319.3 352.6h0M317.1 348.1h0M316.7 350.1h0M332.4 358.3h0M335.9 362.2h0M334.3 356.4h0M331.6 360h0M331.9 360.2h0M331.2 360h0M328.7 361.3h0M381 399.1h0M380 403.2h0M381.8 399.4h0M383.5 397.1h0M383.4 401.6h0M379.9 403.7h0M377.8 403h0M358.7 330.2h0M361.2 330.1h0M364.1 328h0M359.5 333.8h0M357.6 327.8h0M362.5 334.5h0M360.6 327.7h0M331.5 360.1h0M332.2 355.9h0M330.6 359.3h0M327.4 357h0M330.9 355.4h0M332.6 355.5h0M329.8 354.4h0M394.6 324.7h0M392.6 326.4h0M391.2 322.1h0M393.7 327h0M395.2 328.8h0M394.2 329.7h0M395.9 324.7h0M390.5 389.6h0M395.1 387.3h0M392.6 391h0M394 391.9h0M391.5 390.2h0M393 390h0M388.4 389.1h0M387.6 309.2h0M391.7 305.2h0M389.5 311.1h0M387.9 304.6h0M389 308.6h0M391.5 306.1h0M332.5 332.2h0M329.1 328.3h0M329.7 331.9h0M328.6 332.7h0M332.6 329.2h0M331.2 327.5h0M332.3 329.5h0M363.9 367.3h0M359.5 365.1h0M362.4 364.8h0M359.5 365.3h0M365.1 364.3h0M361.5 366h0M361.3 365.4h0M371.9 395.4h0M372.9 393h0M369 393.4h0M370.1 394.1h0M368.5 391.5h0M370.8 392.7h0M367.6 391.5h0M291.8 319h0M292.6 320.8h0M287 321.4h0M288.1 319.5h0M287.3 319.1h0M290.9 318.6h0M289.3 321.4h0M282.4 308.5h0M279.3 310.5h0M281 313.2h0M278.4 307.7h0M278.3 308.7h0M278.8 310.2h0M278.5 312.4h0M379.4 325.4h0M382.3 323.5h0M387.5 326.6h0M383.9 328h0M385.6 320.5h0M382.5 322.9h0M380.6 325.7h0M285.1 393h0M281.6 396.4h0M280.9 394.9h0M281.6 393.4h0M281.7 392.9h0M280.8 393.9h0M279.7 394.3h0M342.2 309.4h0M344.5 311.2h0M343.8 313.3h0M341.6 314.4h0M346.5 309.2h0M341.2 308.9h0M340.4 310.6h0M306.9 355.1h0M304.5 351.6h0M306.1 351.9h0M306.5 353h0M305.9 355.8h0M306.5 358.2h0M307.9 355h0M307.5 379.3h0M308 381.1h0M308.4 380.3h0M310.5 377.9h0M308 381.8h0M310.9 377.7h0M304.5 381.9h0M308.5 340.8h0M307.3 337.2h0M308.2 339.1h0M309.3 341.9h0M308.7 344.3h0M307.7 339.7h0M304.3 341.2h0" stroke="#d9688c" stroke-width="2.0" stroke-linecap="round" fill="none" opacity="1"/>
<path d="M354.9 311.2h0M356.4 313h0M357 314h0M356.4 315.4h0M355.6 317h0M356 312.7h0M357.8 315.7h0M358.5 314.7h0M384.2 319.1h0M384.7 318h0M382.7 320.5h0M387.9 320.5h0M383.7 317.3h0M384 319.1h0M381.4 318.8h0M379.6 318.1h0M315.4 380.9h0M313.1 378.2h0M315.5 380.1h0M314.7 377.8h0M313.8 380.9h0M316.8 380.2h0M316.5 379h0M319.9 375.6h0M286.6 389.6h0M288.7 386h0M285.5 387.8h0M289 389.1h0M290.2 389.1h0M285 390.7h0M288.1 393.6h0M288.5 386.9h0M313.2 311.9h0M313.1 310h0M313.3 309.5h0M314.8 315h0M309.8 313.1h0M313 308.9h0M312.6 311.8h0M313.2 310.2h0M376.8 341.8h0M376.1 344.8h0M376.3 347.1h0M374.2 343h0M380.2 348.3h0M377.2 343.1h0M374.5 343.7h0M375.7 346.5h0M312.5 390h0M312.4 389.6h0M312.6 386.5h0M312.8 387.7h0M312 389.8h0M311.5 386.9h0M313 389.9h0M313.8 389.1h0M316.7 384.6h0M314.4 383.4h0M316.7 387.8h0M311.9 384.1h0M312.2 386.7h0M315.5 385.2h0M312.9 387.6h0M314.3 384.8h0M383.1 372.5h0M383.5 375.3h0M382.8 374.6h0M382.7 374.1h0M383.2 371.9h0M381.1 370.7h0M383.2 372.2h0M380.9 371.9h0M399 336h0M401.8 333.8h0M400.3 335h0M396.1 337.3h0M400.1 333.7h0M400 336.1h0M399.2 337.4h0M302.3 309.2h0M302.9 310.7h0M300.7 310.3h0M302 311.5h0M301.3 310.9h0M303.3 310.3h0M307.4 314.3h0M301.9 309.1h0M274.6 363h0M275.2 365.7h0M270.9 364.3h0M271.1 364.3h0M275.2 364.3h0M269.7 361.9h0M274.1 365.5h0M272.9 367.1h0M324.1 322.5h0M322.8 324.3h0M323.7 320.2h0M323.8 322.4h0M323.5 320h0M324.9 322.6h0M324.1 324h0M324.5 324.2h0M363.9 340.1h0M363.7 334.9h0M364.9 338.4h0M364.9 336.5h0M367.5 337.4h0M367 338.2h0M366.8 337.8h0M365.8 340.7h0M280.7 353.5h0M281.8 350.2h0M282.5 350.6h0M280.3 350.3h0M281.6 351.5h0M281.2 352.3h0M281 349.6h0M278.8 351.4h0M370 325.7h0M367.1 327h0M369.4 322.9h0M369.3 326.8h0M366.9 326.3h0M369.5 326.3h0M366.1 324.9h0M370.1 326.9h0M348.2 394.9h0M349.7 394.3h0M347.6 394.1h0M351.5 396h0M352.3 398h0M350.5 398h0M352.9 395.7h0M351.5 392.6h0M302.9 340.2h0M304 338.6h0M301.6 338.6h0M307 342.1h0M306 338.9h0M306.2 338.6h0M305.3 340.3h0M302.4 340.4h0M379.4 400.6h0M380.7 402h0M379.9 400.6h0M379.7 403.8h0M379.1 401.9h0M381.5 401.1h0M379.8 400.5h0M302.8 386.4h0M306.2 389.6h0M305.1 382.7h0M306.6 386.9h0M304.5 386.9h0M308 386.4h0M306.9 384.7h0M306.6 385.1h0M273 403.8h0M272.6 399.7h0M271.3 403.4h0M274.8 401h0M269.9 403h0M272.6 401.5h0M271.5 400.4h0M365.1 313.3h0M370.9 312.6h0M367.3 314h0M372.3 312.8h0M368.3 313.9h0M366.9 310.8h0M370 311.3h0M372 313.5h0M382.1 323h0M384.2 319.9h0M386.7 322.6h0M381.1 324h0M386.7 320.4h0M384.7 320.8h0M381 323h0M384.2 323h0M316.9 317.5h0M317.3 319.1h0M314 319h0M316.9 317.7h0M315.6 319.3h0M315.7 318.6h0M312 318h0M317.2 317.3h0M311 311.8h0M307.4 315.5h0M308.6 313h0M311.7 312.7h0M310.4 314.4h0M311 313.1h0M310.1 314.9h0M314.4 311.8h0M296 347.5h0M298.6 349.1h0M295.8 349.1h0M298 349.7h0M297.8 350.1h0M296.5 351.2h0M296.1 350.9h0M296.3 349.2h0M365.4 356.7h0M363.3 359.6h0M368.3 360.3h0M366.7 358.4h0M366.5 357.7h0M365.5 356.3h0M366.7 358.9h0M367.9 360.1h0M356.4 354.6h0M355.2 355.8h0M357.3 359.6h0M359.6 358.2h0M360.2 359.3h0M357.3 359.1h0M358.2 359h0M358 357.1h0M372 397.5h0M367 393.6h0M369.4 396.3h0M371 393.7h0M368.9 394.9h0M368.7 393.8h0M372.7 395.1h0M366.1 392.7h0M279 323.3h0M281 320.7h0M279.4 325.7h0M283.1 322.6h0M278.1 322.5h0M275.3 323.3h0M279.9 320h0M280.4 323.9h0M292.2 376.8h0M292.3 378.4h0M291.4 375.5h0M292.9 378.4h0M293.3 374.9h0M291.8 380.5h0M293.8 377.9h0M294.7 374.8h0M309.7 355.7h0M311.9 355.5h0M307.9 357.4h0M311.6 355.7h0M308 355.6h0M312.4 355.5h0M309.9 355.9h0M308.4 356.5h0M273.5 350h0M271.4 348.3h0M273.3 349.4h0M272.7 354.3h0M273.2 350.3h0M274.1 347.3h0M272.8 351.6h0M274.2 348.9h0M389.8 336.4h0M389 336h0M388.6 336.2h0M391 338.6h0M392.9 338.8h0M391 339.7h0M391.3 336.6h0M388.8 333.6h0M354.4 375.7h0M352.7 378.7h0M356.1 374.2h0M353.5 373.1h0M353.1 376.7h0M358.5 376.1h0M353.1 373.3h0M353 373.8h0M382 345.9h0M383 343h0M380.1 341.7h0M383.7 346h0M383.1 344.9h0M384.9 346.1h0M383.6 345.5h0M383.1 347.5h0M323.7 326.1h0M323.5 323.4h0M324.5 325.9h0M332 326.7h0M327.1 326h0M326.6 324.6h0M325 326.4h0M328.6 322.7h0M280.8 396.6h0M278.9 395.9h0M279.3 398.9h0M281.1 398.8h0M279.6 399.3h0M277.7 397.6h0M276.5 401.8h0M281 396h0M311.2 332.4h0M313.3 330.6h0M315.5 334.8h0M308.1 330.4h0M316.6 332.1h0M312.3 330.8h0M314.9 335.6h0M316.3 332.5h0M341.2 322h0M341.2 318.4h0M339.6 323.9h0M337 320.4h0M336.3 321.9h0M337 320.5h0M338 320.2h0M337.6 325.2h0M278 324h0M275.8 324.6h0M277.2 325.2h0M275.3 324.3h0M277.7 325.5h0M274.2 324.4h0M275.4 329.5h0M276.2 323.6h0M280.6 364.7h0M279.9 362.7h0M279.6 364.6h0M280.3 361.5h0M276.8 364.3h0M279.8 366.6h0M280.3 362.2h0M277 365.3h0M282.6 363.3h0M279.3 361.2h0M283 366.5h0M280.8 362.5h0M280 364.3h0M279.7 364h0M283 361.4h0M280.9 365.1h0M262.1 393.7h0M263 395.1h0M262.5 396.3h0M262.5 395.3h0M263.3 392.5h0M264.5 395.6h0M261.3 393.1h0M359.4 369.4h0M357.8 373.4h0M360.3 369.4h0M359.2 372.5h0M359.4 369.7h0M360.1 367.5h0M360.8 370.8h0M359 368.1h0M367.4 353h0M367.6 359.2h0M370.2 355.8h0M365.7 353.5h0M366 355.4h0M364.7 355.2h0M368.2 357.5h0M367.9 359.1h0M264.3 381.7h0M263.7 379h0M262.4 382.9h0M263.2 381h0M261.8 379.5h0M264 385.2h0M263.3 385h0M340.7 324.9h0M339.1 325.2h0M339.7 326.8h0M339.7 327.2h0M341.7 326.4h0M339.4 326.4h0M340.4 326.5h0M342.3 325.5h0M290.8 397.9h0M290.3 394.8h0M292.6 396.2h0M290.5 399.2h0M292.5 397h0M290.6 396.2h0M289.1 395h0M289.9 397.1h0M317.6 353.1h0M314 355.5h0M315.3 356.4h0M316.4 351.6h0M318.2 354.3h0M314.1 353.3h0M316.8 355.1h0M317.6 355h0M271.6 334.8h0M272.3 333.1h0M274.5 333.7h0M269.6 331.8h0M272.9 332.5h0M274 333.5h0M268.9 336.3h0M270.1 331.5h0M283.9 346.4h0M282.2 345.8h0M281 346.4h0M283.6 345.3h0M281.6 345.9h0M283.7 346.3h0M283.7 347.2h0M281.7 349.1h0M266.1 373h0M267.8 373.4h0M267.3 375.7h0M264.1 376.2h0M262.3 375.8h0M265.6 372h0M265.1 376h0M264.5 372.7h0M374.8 333.8h0M379.7 330.5h0M375.6 332h0M375.9 329.4h0M373.8 334.1h0M374.5 332.5h0M374.8 334.8h0M374.8 331.7h0M386.3 332.3h0M387.4 332.7h0M388.5 330.1h0M386.8 330.7h0M384.8 332.2h0M382.7 333h0M384.1 333.1h0M389.3 333.3h0M351.8 340.1h0M351.3 341.5h0M352.4 342.2h0M353.4 343.5h0M353.6 341.7h0M351.5 346.8h0M350.6 342.8h0M353.5 343h0M342.5 324.8h0M343.9 319.5h0M345 321.2h0M344.9 321.8h0M347.1 319.3h0M342.8 316.8h0M344 322.2h0M343.3 319h0M283.1 358.2h0M284.4 353.3h0M282.8 354.6h0M284.1 354.2h0M284.4 354.2h0M285.6 354.5h0M284.8 360.9h0M284.7 353.5h0M270.9 393.4h0M269.8 392.7h0M267.9 396h0M267.5 396.5h0M267.8 392.7h0M267.5 392h0M268.6 394.1h0M271 392.7h0M308 385.5h0M307.7 384.7h0M309 382h0M308.7 387.4h0M312.4 385.8h0M310.8 386.7h0M312.7 385.2h0M307.3 386h0M390.5 391.4h0M394.2 391.1h0M388.9 389.6h0M392.6 390.9h0M390.4 387.9h0M390.7 388.1h0M391.4 392h0M390.4 393.4h0M269.8 375.3h0M264.9 374.7h0M268.8 375.8h0M271.8 374.6h0M267.4 380.2h0M270.5 374.8h0M268.9 378.1h0M274.7 375.2h0M288.5 348.5h0M286.3 355.7h0M287.7 357.1h0M290.4 352.7h0M290.8 353.9h0M290.5 357.1h0M290.2 355.4h0M292.5 353h0M366.1 321.7h0M364.9 324.6h0M368.3 319h0M366.9 323.1h0M366.8 321.8h0M365.5 324.1h0M368.9 320.9h0M367.3 324.4h0M303.8 351.9h0M304.6 352.2h0M303.8 352.7h0M303.3 351.6h0M305.2 354.5h0M305.6 348.5h0M304.6 353.9h0M305.1 354.1h0M353 327.2h0M355.4 326.1h0M355.4 327.3h0M353.2 327.7h0M356.6 326.1h0M357.7 328.5h0M357.1 326.5h0M355.4 327.9h0M395.4 308.3h0M395.6 309.6h0M392.6 307.5h0M393 310h0M391.6 311.3h0M391.7 308.6h0M394.4 305.7h0M393 310.2h0M401.1 388.8h0M399.4 384.9h0M398.5 384.6h0M399.3 387.3h0M399.1 389.4h0M398 388.9h0M400.1 384.6h0M376.6 320.7h0M377.2 317.1h0M377 314.7h0M379.4 317.8h0M376.7 320.5h0M376.7 321.5h0M374.5 319.1h0M378.2 319.2h0M326.1 329.4h0M327.4 332.8h0M330.9 331h0M325.8 330.2h0M329.7 329.5h0M326.4 332.1h0M326.8 329.8h0M330.3 326.5h0M311.4 393.9h0M309.7 393.7h0M309.4 391.9h0M308.6 395.6h0M307.8 395.6h0M307 394.1h0M312.2 394.1h0M312.6 393.1h0M376.2 339h0M377.6 337.5h0M376.1 338.5h0M375.3 342.2h0M376.2 338.3h0M374.6 338.2h0M377.7 340.9h0M374.3 339.1h0M318.3 382.9h0M317.5 384.9h0M320.5 387.4h0M319.2 386.2h0M314.9 385.8h0M317.8 382.4h0M315.6 386.6h0M317.1 384.2h0M298.5 390.7h0M298.3 391.2h0M303.2 394.9h0M299.1 392.4h0M300.8 389.9h0M296.7 392h0M301.2 393.1h0M296.7 385.6h0M310.3 329.3h0M308.2 326.1h0M312.6 328.1h0M310.2 325.5h0M305.1 325.7h0M310.3 327.9h0M309.6 325.9h0M309.7 326.6h0M330.8 378.6h0M325.2 378.1h0M327.9 378.8h0M327.7 379.1h0M328 380.2h0M328.8 377.8h0M328.9 378.2h0M325.8 378.3h0M384.2 336h0M382 334.9h0M387.2 333.1h0M382.2 332.4h0M384.3 330.8h0M386.3 334.9h0M381.5 335.1h0M382.5 332.7h0M307.8 307.8h0M308.6 305h0M308.1 306.8h0M309.4 309.4h0M309.1 309.7h0M308.3 308.2h0M308.5 308.3h0M308.9 307.6h0M270.9 314.8h0M269.3 313.3h0M266.4 317h0M271.4 317.3h0M273.3 314.1h0M267.9 315.9h0M269.1 309.3h0M270.2 316.3h0M315.9 315.6h0M320.7 314.6h0M320.4 320.2h0M318.9 316.2h0M316.7 317.2h0M317.5 319.4h0M318.1 319.5h0M318.5 318.3h0M377.9 307.1h0M377.2 305.8h0M377.3 305.5h0M377.4 308.6h0M375 306.2h0M379.1 307.3h0M377.5 306.1h0M378.7 308.1h0M376.5 372.7h0M374.9 369.1h0M373.5 371.1h0M373.5 374.5h0M372.4 372.5h0M374.3 372.9h0M376.4 371.1h0M375.5 370.2h0M306.2 325.4h0M304.1 322.7h0M305.2 324.6h0M303 324.3h0M302.7 320.1h0M306.6 326.7h0M301.1 328.3h0M304.1 326.8h0M370 352.4h0M373 354.3h0M372.8 356h0M372 354.4h0M372.3 355.1h0M370.5 352.7h0M367.7 351.2h0M370.6 356.6h0M375.8 400.9h0M376.3 400.7h0M375.3 399.7h0M378 401.2h0M375.8 401.8h0M374.2 401.6h0M375.7 399.2h0M375.4 400.1h0M265.9 361h0M268.8 364.2h0M266.6 364.6h0M266.5 364.8h0M266.6 362.1h0M268.2 367h0M270.4 364.9h0M267.6 362.2h0M370.4 315h0M369.8 317.4h0M369.1 320.6h0M367.2 317h0M371 319h0M370 318h0M371.1 315.5h0M370.5 317.4h0M280.1 371.8h0M280.4 368.3h0M280.7 370h0M280.5 370.2h0M282 369.7h0M277.5 369h0M283.9 371.1h0M279.5 367.9h0M372.8 380.9h0M371.9 380.1h0M370.4 380.1h0M373.6 382.9h0M370.1 382.4h0M371.1 384.1h0M371.5 378.6h0M373.1 385.3h0M313.1 339.7h0M310.7 341.8h0M312.3 338.6h0M311.8 336.2h0M308.5 340.8h0M308.6 339.2h0M309.3 341.7h0M310.4 338.7h0M309.6 322.1h0M309 326.1h0M308.1 325.3h0M306.8 323h0M306.4 324.7h0M306.5 321.7h0M306.5 322.7h0M311.8 324h0M331.6 397.6h0M331.2 398.4h0M332.1 397.5h0M331.5 398.5h0M331.5 399.5h0M331.2 400.9h0M333.9 398.1h0M331.5 399.8h0M373.4 388.7h0M370.6 387h0M373.5 386.3h0M376.5 390.3h0M374.8 387.7h0M373.8 388.9h0M377 391.3h0M374.7 389.2h0M350.6 341.6h0M354.9 345.7h0M352.5 342.2h0M352.7 346.2h0M354.7 343.1h0M353 344.8h0M351.1 345.4h0M354.8 344.9h0M279.9 322.6h0M274.8 322.1h0M278.4 321.9h0M275.3 321.1h0M277.4 324.7h0M275.6 320.1h0M273.7 323h0M275 318.1h0M284.4 394.4h0M285.8 392.5h0M288.1 394h0M288.1 393.3h0M287 395.3h0M287 396.5h0M286.9 393.6h0M288.7 392.9h0M318 309.6h0M321.2 313h0M316.5 316h0M319.6 310.7h0M318.1 309.6h0M315.6 311.8h0M318.7 309.9h0M319.5 311.9h0M296.1 375.6h0M297.8 376.3h0M301.5 378.6h0M297.9 374.8h0M292.5 374.4h0M300.3 375.8h0M297.9 376.3h0M295.9 378.5h0M363 323.4h0M360.3 325.8h0M361.5 324.7h0M363.9 325.2h0M363.9 324.9h0M363.6 327.3h0M363.6 320.5h0M362.4 326.8h0M369.2 378.5h0M370.2 378.3h0M371.5 375.9h0M370.3 374.9h0M370.3 376.5h0M372.2 377h0M369.5 379h0M368.5 377h0M273.1 319.6h0M269.5 320.3h0M270.4 320.2h0M272.6 321.6h0M273.5 320.1h0M270.6 322.6h0M271.9 318.1h0M274.3 320.5h0M287.3 306.9h0M289.4 308.8h0M287.1 311.3h0M286.2 309.6h0M286.1 308h0M289.3 308.6h0M287.1 308.8h0M288 309.5h0M283.5 333.7h0M283.9 336.7h0M288.3 338.6h0M287.3 339.5h0M285 334.9h0M286.6 336.8h0M286 334.6h0M286 332.6h0M274.8 314.4h0M276.5 317.3h0M275.9 314.3h0M277 317.8h0M275.5 314.1h0M276.6 316.6h0M275.7 314.5h0M274.3 313.9h0M330.3 328h0M329.7 329.1h0M326.8 336.1h0M330.9 329.3h0M330.4 330.7h0M330 328.8h0M329.3 329.1h0M328.2 328.3h0M288.4 385.3h0M284.5 385.7h0M286.8 386.6h0M288.4 382.7h0M286.8 387.2h0M286.2 383.7h0M287.1 387.1h0M289.3 383.5h0M312.6 331.3h0M312.4 334.3h0M311.6 333.4h0M314.7 334.9h0M309 334h0M310.6 334.7h0M311.3 332.6h0M310.6 330.4h0M359.3 341.6h0M363.8 337.3h0M365 339.9h0M363.5 340.2h0M365.9 341.8h0M363.5 339.6h0M361.2 338.3h0M363 337.5h0M342.4 309.8h0M338.7 309.2h0M340.9 312.3h0M341.9 308.9h0M340.8 307.2h0M340.8 310h0M340.3 310.3h0M342.4 308.2h0M326.2 340.6h0M324.8 339.1h0M326.7 340.5h0M325.7 341h0M327.8 335.4h0M324.5 339.3h0M325.5 339.4h0M325.5 338.8h0M346.5 373h0M347.1 368.1h0M346.5 369.8h0M345.4 367.2h0M348.7 371.8h0M347.9 367.6h0M348.3 369.3h0M344.8 367h0M284.3 309.4h0M283.6 304.1h0M284.9 307.3h0M283.3 305.9h0M285 306.3h0M284.5 310.3h0M287.3 307.6h0M282.9 308.2h0M324.2 320h0M325.4 324.1h0M323.2 321.8h0M323.6 323.4h0M328 324.8h0M323.5 320.5h0M323.8 321.4h0M324.6 322.6h0M389.8 387.2h0M390.1 385.1h0M393.7 386.4h0M393.7 385.3h0M388.3 384.3h0M392.4 386.5h0M388.8 386.2h0M390.5 383.9h0M310.1 339h0M312.3 338.3h0M311.6 338.9h0M312.3 337.1h0M307.8 338.8h0M311.4 340.7h0M311 339.6h0M313.1 339.1h0M300.3 379.2h0M299.9 382.2h0M293.5 381.2h0M298.5 382.4h0M298.3 380.2h0M298.6 380.9h0M299.3 380.2h0M297.3 382.1h0M365.5 316.1h0M366 316.2h0M362.7 318.2h0M365.7 318h0M364.9 315.3h0M362.9 316.4h0M366.2 318.6h0M364.8 316.9h0M287.9 315.7h0M288.6 314.4h0M284.3 315.7h0M289 319.7h0M285.9 315h0M286.3 315.5h0M287 316.3h0M286.6 315.9h0M374.2 325.9h0M374.5 323.7h0M373.8 326.6h0M374.7 324h0M376.4 323.9h0M376.9 325.8h0M376 327h0M374.8 326.5h0M302 387.4h0M300 393.3h0M305.3 388.4h0M301.5 393.4h0M300.5 392.3h0M300.4 387.7h0M301.1 386.5h0M302.5 389h0M302.8 336.9h0M306.2 335.6h0M304 334.8h0M302.9 337.4h0M305.5 335.8h0M304.8 336.7h0M306 335.6h0M305.8 338.4h0M298.5 348h0M299.7 351.9h0M301.3 348.2h0M301.8 349.6h0M300.4 348.5h0M298.7 349h0M299.5 351.2h0M300.8 348.8h0M383 307.2h0M382.5 307.5h0M383.9 309.2h0M385.8 308.4h0M382.4 308.4h0M387.6 308.3h0M385.5 307.2h0M384.1 305.7h0M285.7 327.5h0M288.6 326.3h0M284.4 328.8h0M287.2 331.8h0M286.7 325.7h0M287.7 330.2h0M287 327.6h0M287.4 327.4h0M277.3 388.7h0M277 390.8h0M278.6 388.8h0M276.2 392.3h0M273.4 392.9h0M278.2 389.9h0M275.7 389.2h0M276.6 393.6h0M375.2 357.1h0M379 358.4h0M383.4 357.8h0M380.8 361.1h0M379.7 356.9h0M379.6 354.1h0M378.6 358h0M381.9 352.2h0M288.3 313.3h0M286.3 312.3h0M287.3 314.1h0M288.7 312.6h0M287.4 315.3h0M284.1 317.7h0M286.2 316.7h0M289.6 315.2h0M297.8 348.5h0M300.7 352.3h0M298.8 349.4h0M299.3 351h0M300.4 349.4h0M302.6 350.6h0M297 349.7h0M299.1 346.9h0M336.3 377.1h0M338.5 379.1h0M339 375.8h0M337.6 376.6h0M337.4 376.6h0M336.2 379.4h0M333.6 373.8h0M335.9 379h0M320.6 308.1h0M317.8 306.7h0M318.3 307.6h0M321.5 307.9h0M320.1 307.6h0M324.5 305h0M321.1 305.7h0M367.8 321h0M371.4 320.3h0M368.7 318.7h0M372.4 321.2h0M367.9 320.9h0M374.1 319h0M374.6 316.5h0M371.6 319.9h0M391.6 393.3h0M388.5 392.9h0M395.6 393.3h0M390.1 392.8h0M391.7 392.2h0M391.6 394.5h0M391.8 395h0M391.8 394.2h0M366.7 364.7h0M364.5 362.1h0M361.9 362h0M365.5 362h0M366.2 363.7h0M364.8 364.6h0M365.6 361.7h0M365.4 361.6h0M388.9 391.8h0M392.5 393.5h0M394.2 391.2h0M390.5 391.6h0M393.5 395.5h0M392.1 395.7h0M392.2 394.5h0M393 391.8h0M293.8 391.4h0M295.2 389h0M294.7 388.6h0M295.7 392.2h0M296.9 394.1h0M297.1 391.2h0M295.4 394.4h0M296.7 389.6h0M272.7 344.7h0M273.7 344.6h0M277 347.1h0M271.1 342.9h0M275.4 346.2h0M273.4 348.6h0M274 352.1h0M275 346.9h0M343.6 366.2h0M343.3 366.1h0M342 362.3h0M342.4 365.4h0M340.3 362.8h0M340.1 364.6h0M341.6 366.2h0M341.7 364.7h0M307.8 382.7h0M302.6 380.9h0M305.3 383.7h0M303.1 381.9h0M306.5 384.2h0M309.2 385.2h0M306.3 383.4h0M308.4 384.7h0M305.6 347.6h0M308.6 342.7h0M307.8 343.9h0M308.4 344.9h0M306.6 342.6h0M303.4 345.5h0M306.5 343.3h0M305.8 342.9h0M290.2 314.6h0M289.4 312h0M284.7 312.5h0M287.9 313.3h0M287.1 315.8h0M285.9 312.2h0M285.6 315.9h0M286.8 312.6h0M387.2 345.4h0M386.7 347.3h0M384.1 340.4h0M388 346.5h0M390.7 347.3h0M384.5 346.2h0M383.1 350.5h0M386.8 344.7h0M315 315h0M314 315.2h0M312.7 316.2h0M311.7 313.4h0M312.9 316.5h0M315.2 314.2h0M312.7 314.5h0M315.4 317.8h0M286.7 363.2h0M283.4 363.9h0M285.4 363.5h0M285.2 361.6h0M286.1 361.7h0M283 364.5h0M285.6 365.1h0M284.8 368.4h0M393.2 397.7h0M392.9 395.3h0M397.6 395.7h0M394.9 395.9h0M395.7 394.8h0M395.4 397.6h0M397.3 395.2h0M392.9 396.6h0M262.3 359.9h0M264.6 357.9h0M264.9 360.1h0M261.8 357.2h0M263.8 358.3h0M264.9 359.4h0M265.4 359.3h0M265.5 360.5h0M385.9 371.7h0M385.1 377h0M381.4 374.4h0M386.1 374.6h0M383.5 373.7h0M385.2 375.6h0M383.9 374.3h0M386.5 376.9h0M340.7 309.1h0M340.2 309.4h0M339.7 310.8h0M340.2 309.3h0M338.8 309.1h0M338.6 307.9h0M339.8 308.3h0M339.7 311.7h0M292.5 373.9h0M293.1 371.2h0M291.6 368.9h0M292.2 368h0M293.6 371.6h0M291.2 372.5h0M290.6 373.5h0M291.3 373.3h0M311.5 362h0M309.4 363.6h0M308.3 361.5h0M307.3 362.2h0M312 363.1h0M311.3 363.5h0M308.1 362.8h0M307.5 362.2h0M286.4 342.1h0M284.2 341.3h0M283.7 342.1h0M282.9 341.7h0M284 341.9h0M285.4 343.3h0M284.6 343.7h0M283.9 340.6h0M272.8 385.7h0M276.4 385.2h0M280.8 382.2h0M274.2 384.7h0M277.9 383.8h0M275.9 384.7h0M276.1 384.2h0M277.5 383.6h0M373.1 328.9h0M372.2 328.2h0M373.3 331.9h0M369.2 332.4h0M369.6 333.8h0M372.1 330.8h0M373.8 328h0M370.1 327.6h0M330.3 322.6h0M329 321.3h0M329.7 324.8h0M328 321.3h0M326.9 321.8h0M329.8 323.4h0M327 319.7h0M327 324.9h0M311.2 374.7h0M311.3 370h0M305.8 368.4h0M306.1 370.1h0M308.1 370.8h0M309.9 373.9h0M309.2 371.4h0M308.6 371.2h0M355 355.3h0M350.4 352.7h0M352.3 356.2h0M352.4 355h0M351.3 349.9h0M348.4 354.8h0M352.6 352.3h0M353.9 355.6h0M318.6 332.3h0M319.8 331.8h0M322.6 333.9h0M320.5 335.4h0M322.2 332.7h0M322 334.1h0M321.6 332h0M319.7 336.7h0M377.1 344.9h0M377.4 345.9h0M379.7 343.4h0M377.4 345.2h0M374.2 343.7h0M376.8 349.7h0M376.1 340.7h0M375.8 342.3h0M270.3 328.9h0M267.8 329.2h0M269 328.4h0M270.1 330h0M267.8 329h0M270.9 329h0M271.7 328.9h0M268.9 330.7h0M338.6 377.8h0M337.3 375.8h0M335.7 380.2h0M338.5 378.2h0M335.5 377.2h0M339.8 374.7h0M338.8 375h0M337.3 374.9h0M326.7 308.5h0M325.9 308.5h0M327.3 306.9h0M326.7 307.8h0M324.2 309h0M327.6 312.1h0M327.9 310.8h0M325 308.3h0M336.3 313h0M338.7 312.3h0M339.1 311.2h0M338 312.5h0M336.7 312.4h0M336.8 309.8h0M336.7 312.9h0M337.3 311.6h0M286.7 333.1h0M281.3 334.6h0M286.2 336.8h0M284.4 334.5h0M286.4 336.3h0M284.4 334.3h0M291 335.3h0M287.4 332.5h0M302.2 354.5h0M307.4 356.3h0M305.8 357.5h0M306.8 353.5h0M307.1 357.4h0M305.9 356.2h0M306.9 355.5h0M304.5 354.8h0M350.2 398.1h0M352.2 395.1h0M346.1 399.6h0M348.2 397.8h0M348.8 396.2h0M349.5 395.9h0M347.1 394.8h0M347.6 394.4h0M300.2 380.5h0M301.6 386.2h0M306 379.8h0M300.4 379.3h0M303.9 382.4h0M304.9 382.7h0M303.3 379.7h0M303.6 380.2h0M270.5 355.4h0M267.9 353.3h0M266.1 355.8h0M270.3 353.7h0M270.1 355.9h0M268.8 356.5h0M264.2 356.2h0M265.8 357.6h0M352.1 345.3h0M352.7 347.5h0M353.1 351.5h0M353.2 350.2h0M351.8 347.3h0M352.5 351.5h0M349.5 349.8h0M352.8 349.5h0M353.4 314h0M352.9 316.3h0M351.9 315.7h0M354.1 313.7h0M350.2 317.9h0M352.9 311h0M350.6 317.6h0M351.1 317.3h0M307.1 399.4h0M304.7 401.9h0M310.5 403.4h0M311.4 403.6h0M308.6 401.5h0M307.8 401.9h0M313.9 375.7h0M314.1 372.4h0M315.4 375.3h0M317.2 372.9h0M316.1 374.7h0M317.2 375.1h0M317.4 375h0M317.4 378.9h0M397.4 320.5h0M398 322h0M398.4 320.4h0M395.6 323.1h0M394 324.8h0M398.3 321.5h0M397.1 325.5h0M396.1 321.4h0M286.8 361.7h0M289.4 360.9h0M291 363.5h0M291.5 360.3h0M291.3 363.4h0M289.4 362h0M289.6 361.6h0M287.3 365h0M333 317.7h0M333.7 317.4h0M332.8 314.5h0M334.2 314.6h0M332.3 316.7h0M334.9 313.4h0M332.6 319.1h0M332.8 315.5h0M270 395.9h0M267.9 392.4h0M265.5 392.9h0M267.9 391.1h0M268.1 393h0M266.6 392.1h0M266 395h0M265.8 393.3h0M287.2 387.7h0M291.5 390h0M287 390h0M287.7 389.1h0M291.1 390.3h0M284.8 388.3h0M289.8 385.4h0M288.6 388.5h0M267.5 379.3h0M267.3 376h0M264.4 377.9h0M265.3 377.7h0M268.5 378.1h0M264.8 378.6h0M268.4 376.2h0M265 378.6h0M350.5 393.1h0M354.1 391.6h0M351.7 392.6h0M354 396.5h0M353.6 391.2h0M351.3 392.3h0M352.3 391.4h0M353.2 393.2h0M281.7 311.7h0M285.4 311.8h0M283.8 313.6h0M282.7 315.4h0M283.8 315.8h0M284.2 315.8h0M282.9 312.4h0M283.5 311.8h0M362.9 356.1h0M365.2 355.9h0M364 355h0M367.2 357.1h0M364.9 351.7h0M367.8 353.7h0M366.4 356.2h0M364.5 352.2h0M353.6 337.1h0M357.9 335.6h0M353.8 338.3h0M357.1 333.4h0M357.3 331.8h0M353.5 338.1h0M356.2 336.1h0M355.3 338.6h0M307.2 367.2h0M305.6 369.1h0M305 363.1h0M305.9 370.2h0M304.5 367.9h0M307.2 366.6h0M304.4 366.3h0M302.4 365.6h0M388.7 335.6h0M389.4 333.9h0M389.9 335.9h0M392.4 335.1h0M389.3 335.4h0M386.2 334h0M386.4 333.8h0M390.3 333.6h0M325.5 400.4h0M323 402.1h0M327.9 402.3h0M327.6 399.3h0M325.5 400h0M326.2 397.1h0M323.8 400.1h0M325.8 399.2h0M340.1 328h0M343.4 329.5h0M340.1 329.5h0M340.6 328.4h0M345.7 326.8h0M347.2 327.2h0M344.6 328.4h0M342.7 328h0M326.8 311.4h0M326.2 309.8h0M327 305h0M328.3 308.1h0M327.7 309.7h0M326.8 310.6h0M326.5 308.3h0M326 309.4h0M380.7 318.4h0M380.2 321.5h0M384 319.8h0M381.3 319.7h0M382.2 321.4h0M384.5 319.9h0M381.7 322.8h0M382 315.4h0M310.6 348.4h0M311.8 348.9h0M311.6 343h0M313.3 349.1h0M310.7 347.3h0M313.3 347.6h0M313.6 349.7h0M313.1 348.1h0M355.1 372.1h0M357.6 373.2h0M355.9 371.9h0M351.8 371.5h0M354.7 371.2h0M353.3 374.9h0M353.4 371.3h0M354.6 372.1h0M361.2 353.7h0M364 351.5h0M364.6 353.5h0M361.3 354.9h0M361.9 354.5h0M362.7 358.4h0M363.7 353.7h0M361.6 353.1h0M302.9 348.4h0M305.6 350.9h0M301.6 348.7h0M301.3 352.9h0M301.1 354.6h0M300.7 352h0M300.1 349.4h0M302.6 349.8h0M309.5 351.3h0M309.5 351.4h0M310.9 349.3h0M315 352.8h0M312.7 349.7h0M310.2 351.8h0M309.3 349.8h0M311.2 354.2h0M330.8 336.4h0M334.7 340.2h0M332.6 335.4h0M333.3 335.8h0M335.1 334.9h0M336.9 335.1h0M335.3 336h0M338.4 334.5h0M301.6 320.5h0M303.8 321.1h0M301.8 324.2h0M302.4 321h0M302.8 322.4h0M302.3 320.2h0M303.8 320.9h0M302.4 322.5h0M301.4 328.6h0M302.9 325.8h0M303 329.5h0M299.8 332.4h0M299 331.8h0M302.8 329.4h0M299.4 328.4h0M298.3 332.2h0M320.1 317.2h0M319.2 316.6h0M320.4 311.9h0M318.2 315.4h0M320.4 315.6h0M320.7 314.5h0M321.3 314.7h0M320 315.5h0M300.6 391.1h0M298.8 391.6h0M297.2 391.5h0M296.7 392.1h0M296.9 392.4h0M300.1 396.9h0M298.1 389.7h0M300 391h0M286.3 316.8h0M289 315.1h0M283.9 313.1h0M283.7 315.7h0M284.1 313.5h0M285.6 313.3h0M283.1 315.1h0M283.8 314.3h0M310.7 308.9h0M314.9 310.8h0M315.7 313.8h0M313.7 310.7h0M310.9 310h0M313.9 311.9h0M312.6 310.8h0M310.9 307h0M261.9 343.7h0M262.5 345.7h0M263.5 341.9h0M264 344.3h0M267.2 346.8h0M262.4 344.4h0M265 344.3h0M384.6 379.3h0M386.9 379h0M388.6 377.7h0M384.7 378.2h0M384.6 378.2h0M381.3 379.5h0M384.2 376.1h0M383.9 375.2h0M317.4 307.7h0M320.5 306.6h0M315.9 304.3h0M318.3 308.8h0M315.3 309h0M313.9 306.2h0M315 307.8h0M315.5 309.7h0M330.5 392.4h0M333.1 393.5h0M331.7 394.3h0M329.4 396h0M331.9 395.8h0M328.2 395.4h0M331.7 392.8h0M332.5 393.4h0M355.6 326.8h0M353.1 324h0M357 327.7h0M356.2 328.2h0M355.5 327.6h0M355.1 324.5h0M356.7 327.7h0M355.1 326.7h0M343.9 334.9h0M344.5 336.5h0M346.2 335.2h0M348 334h0M347.4 336.5h0M345.1 336.4h0M347.2 337.2h0M347.9 337.7h0M325.5 393.4h0M325.1 395.2h0M326.9 394.9h0M326.7 395.5h0M325.3 394.2h0M326.3 393.1h0M328.9 395.3h0M321.8 396.2h0M386.1 369.9h0M388.2 371.6h0M384.1 365.2h0M386.3 371.6h0M383.1 371h0M383.2 368.4h0M384.8 373.2h0M386.3 367.5h0M378.4 366.2h0M376.3 363.3h0M375.4 366.3h0M378 365.3h0M377.7 367h0M376.2 363.7h0M381 366.3h0M378 366.2h0M349.6 396.5h0M353.4 397.3h0M351.1 395.9h0M353.3 396.5h0M350.9 398.1h0M350.5 397.3h0M351.7 399.3h0M353.7 395h0M370.1 307.9h0M372.8 306.3h0M370.2 307.5h0M371.8 307.5h0M371.7 309.5h0M366.5 307.7h0M368.6 309.6h0M370.1 311h0M275.7 385.2h0M277.2 385.5h0M273.3 387.2h0M272.1 392.2h0M277 387h0M272.4 386.6h0M276.2 386.5h0M275.1 385.6h0M304.1 351.5h0M312.2 351.6h0M306.3 358.1h0M313.3 352.4h0M311.5 353.1h0M307.5 353.3h0M311.5 354.4h0M307.8 356.6h0M318 390.5h0M321.8 388.1h0M322.4 384.9h0M318.4 387.6h0M322.5 386.6h0M322.1 386.6h0M321.5 388.9h0M320 385.3h0M353.6 363.7h0M349.8 363h0M349.9 364.1h0M348.5 363.8h0M349.2 363.8h0M350.3 361.5h0M352.4 362.6h0M348.9 363.2h0M282.5 309.6h0M280.6 307.6h0M282.8 309.4h0M283.9 308.2h0M281.6 306.3h0M282.9 310.1h0M280.8 306.5h0M280.2 309.1h0M364.3 358.1h0M365.6 359.6h0M367.5 358.1h0M366.9 357.5h0M364.5 359.3h0M366.7 359h0M367.4 355.9h0M364.7 357.9h0M393.4 371.6h0M389.8 374.3h0M390 369.5h0M393.1 372.7h0M391.5 371.4h0M389.2 374.2h0M392 372.6h0M393.6 373.4h0M370.9 316.7h0M370.6 315.9h0M374.2 317.1h0M372.7 315h0M370.5 315.6h0M371.8 316.2h0M375.3 315.9h0M370.3 313.7h0M348.9 367.1h0M347.4 368.7h0M348.4 368.4h0M346.4 365.1h0M348 367.6h0M347 368.3h0M346.4 368.5h0M347.5 369.6h0M368.1 385.1h0M366.5 388h0M368 387.9h0M365 382.9h0M363.5 384.5h0M366.5 385.7h0M368 388h0M367 386.2h0M311.8 368h0M306.8 370.7h0M309.7 370.3h0M307.8 365.6h0M309.8 367.9h0M311.9 372.3h0M309.6 369.8h0M310.4 367.3h0M276.8 387.1h0M274.1 385.9h0M275.2 384.9h0M274.7 383.2h0M272.2 385.4h0M274.3 386.1h0M272.7 383.3h0M274.5 386.6h0M271.2 305.6h0M271.2 308h0M268.8 307.5h0M269.8 308.3h0M270 309.6h0M271.1 307.9h0M270.6 306.5h0M265.9 304.1h0M314.1 356.1h0M317.4 356.7h0M315 359h0M315.6 356.8h0M315.8 355.3h0M316.2 358.2h0M313.5 360.5h0M317 354.9h0M283.7 321.5h0M283.2 325.9h0M284 323.2h0M284.3 327h0M285.3 325.6h0M285.8 324.1h0M284.5 327.2h0M284.5 326.5h0M282.7 350.4h0M285.5 352.6h0M285.7 355.7h0M284.6 355.1h0M283.2 353.5h0M284.6 355.8h0M284.9 351.5h0M284.1 353.5h0M313 358.2h0M306.7 358h0M311.1 359.2h0M314.4 359.7h0M310.7 361.5h0M311.8 359.9h0M315.4 359.4h0M312.8 355.2h0M345.8 321h0M345.4 320.3h0M348.3 317.9h0M347.1 319.3h0M345.9 320.9h0M347.2 317.7h0M345 321.2h0M345.4 320.4h0M292.2 388.2h0M289.7 387.6h0M292.8 388.8h0M288.4 387.1h0M287.6 387.5h0M288.6 389h0M287.3 389h0M287.1 385.9h0M387.7 318.4h0M387.6 319.1h0M384.9 323h0M389.1 317.6h0M388.9 319.1h0M387.9 323h0M387.9 319.1h0M383.6 318.4h0M300.9 369.9h0M299.8 371.2h0M298.2 371.9h0M300.4 368.5h0M300 371.1h0M300.7 369.8h0M299.9 372.6h0M299 370h0M381.3 385.8h0M383.9 383h0M383 382.2h0M380.6 383.1h0M381.9 384.8h0M381.2 382.8h0M381.4 382.8h0M382.3 385.8h0M358.6 348.1h0M358.8 349.7h0M357 347.8h0M358.2 344.6h0M356.2 346h0M358.6 346.7h0M361.4 348.2h0M360.7 347.1h0M345.8 351.1h0M345.9 351.1h0M344.7 353.1h0M346.2 352.2h0M343.8 350.9h0M348 351.7h0M345.9 354.6h0M346.1 352.2h0M318.9 366.6h0M320.5 367.3h0M317.8 371.1h0M322.1 370.2h0M321.9 368.5h0M317.4 372.2h0M319.4 368.8h0M321.6 368.2h0M366.3 369.6h0M365 371.4h0M367.4 375h0M364.5 369.9h0M368 375.1h0M362.4 374.1h0M361.8 373.4h0M366.5 372.8h0M373.8 355.9h0M374.4 358.6h0M374.9 357.9h0M376.6 356h0M372.2 356.3h0M374.1 355.6h0M373.2 355.4h0M375.2 356.7h0M293.3 347.9h0M296.3 350.1h0M294.3 344.2h0M294.6 350.3h0M293.4 350h0M292.9 349.3h0M293.7 345.5h0M294.1 349h0M339.9 309.4h0M341.6 309h0M339.8 307.7h0M339.8 309.3h0M337.7 310h0M343 309.9h0M338.4 307.7h0M340.3 306.1h0M303.3 363.7h0M303.1 364.6h0M301.5 361.8h0M302.7 361.9h0M304.7 361.8h0M300.9 363.3h0M302.7 365.9h0M302.9 363.7h0M348.7 349.4h0M347.2 351.1h0M351.4 348.3h0M351.3 347.1h0M348.8 349.7h0M351.2 349.8h0M349.9 348.8h0M351 349.3h0M358.4 402h0M362 401.6h0M363.3 401.2h0M360.8 402.5h0M355.3 403.4h0M359.6 402.7h0M274.1 351.9h0M271.3 352h0M275.1 349.1h0M272.9 352.5h0M273.3 351.4h0M270.5 353.4h0M272.3 349.6h0M271.5 352.1h0M352.7 346.3h0M353.1 342.7h0M351.9 346.7h0M354 346.4h0M353.3 344.4h0M353.1 347.1h0M354 344.4h0M354 345.9h0M343.9 331.3h0M345.5 330.7h0M349.2 330.5h0M347.6 330.2h0M345.5 329.5h0M348.1 329.7h0M346.9 330.7h0M343.9 330h0M365.5 315.5h0M366.4 316.4h0M366.5 320h0M363.6 316.2h0M365.2 317.2h0M365.9 317h0M365.5 316.9h0M366.4 316.5h0M322.9 323.1h0M323.7 324h0M321.2 321.5h0M321.2 323.8h0M321.3 323.4h0M320.6 322.3h0M320.8 327.4h0M324.6 324.6h0M330.5 316.8h0M330.1 314.7h0M331 315.4h0M332.3 315.8h0M333.2 315.1h0M330.5 315.5h0M331.8 315.2h0M330.8 316h0M354.2 391.3h0M350.8 394.7h0M350.6 392.8h0M351 392.5h0M350.6 392.7h0M350.3 393.6h0M350.1 394.4h0M350.7 393.7h0M354.1 393.1h0M356.7 394.4h0M353.3 396.3h0M350.7 392.8h0M354.5 395.7h0M353.7 394.4h0M350.8 392.1h0M352.9 394.2h0M341.5 347.7h0M340.5 349.2h0M335.5 347.1h0M341.7 348.8h0M338.2 347.3h0M339 349.6h0M339.9 348.3h0M340.3 348.3h0M373.3 315.9h0M373.3 316.4h0M374.1 313.3h0M374 313.5h0M373.4 317.7h0M373.8 315.3h0M376.8 314.5h0M372.5 314.2h0M316.3 317.9h0M319.5 320.1h0M319.9 319.7h0M314.2 318h0M317.9 318.2h0M318.6 319.7h0M316.3 318.9h0M317.6 318h0M326.4 316.2h0M326.1 311h0M323.8 312.9h0M326.5 311.8h0M324 309.9h0M327.5 312.8h0M324.9 310.8h0M322.7 314.3h0M309.9 395.4h0M308.5 397.4h0M313 395.3h0M309.9 397.6h0M312.2 394.5h0M309.3 397.3h0M311.8 397.2h0M310.8 399.1h0M334 338.5h0M335.7 337.2h0M336.4 337.9h0M336.9 337.7h0M335 339.1h0M337.8 337.6h0M336.8 340.6h0M333.8 337.1h0M401 382.7h0M397.5 381.3h0M394.8 384.2h0M400.3 382.5h0M397.2 384.2h0M398 381.2h0M397.1 381.3h0M396 382.3h0M302.1 373.5h0M302.6 371.6h0M304 371.1h0M303.2 372.6h0M304.4 372.9h0M304.5 374.5h0M303.8 373.1h0M302.2 373.9h0M356.3 390.7h0M356.5 388.9h0M354 391.2h0M353.3 390h0M354 389h0M354 389.4h0M352.5 387.1h0M353 388.7h0M293.7 348.9h0M295.2 350.2h0M293 351.3h0M293.6 353.4h0M294.9 348.6h0M292.7 348.5h0M295.1 349.7h0M292.9 348h0M306.1 360.7h0M304.4 360.6h0M301.3 360.6h0M304.6 357.3h0M303.9 355.8h0M301.7 356.9h0M301.6 356.9h0M303 359h0M317.6 386.5h0M319 387.9h0M316.8 385.4h0M317.1 384.6h0M313.7 387.1h0M317 382.9h0M318 387.7h0M314.5 386.3h0M303.5 381.6h0M299.5 385.5h0M299.5 383.1h0M297.9 380.9h0M299.9 382.1h0M299.8 382.6h0M300.4 383.5h0M300.8 382.1h0M317 399.6h0M318.9 400.9h0M315.3 401.8h0M318.1 403.8h0M315.8 402.1h0M315.3 402.9h0M317.9 401.4h0M399.2 324.6h0M398.5 323.8h0M400.1 323h0M396.9 324.7h0M397.7 327.7h0M397.9 324h0M399.3 324.6h0M399.8 326.4h0M300.6 385.4h0M302.7 386.3h0M302.2 386.9h0M300 384.6h0M302.4 384.4h0M301.4 382.7h0M301.6 386.6h0M300 383.9h0M284 360.1h0M285.6 356h0M281.8 354.8h0M283.5 356.2h0M284 355.6h0M281.5 355.5h0M282 355.9h0M283.8 357.7h0M317.6 363.8h0M318.8 366.3h0M319 366.9h0M319.4 365.6h0M318 367.1h0M316.5 365.2h0M316.9 365.3h0M318.5 365.6h0M308.8 336.7h0M309.7 337.3h0M310.7 340.3h0M309.4 336.9h0M309.8 336.4h0M311.7 337.2h0M313.3 336.1h0M310.2 337.3h0M335.5 318.1h0M334.4 315.3h0M334.2 312.4h0M332.4 316.3h0M333 313.6h0M331.5 313.9h0M331.1 313.7h0M332.2 312.5h0M351.6 352.9h0M350.1 354.1h0M352.6 353.7h0M351.6 358h0M353 352.7h0M352.9 352.5h0M353.3 355.8h0M351.6 353.5h0M274.2 369h0M276.5 367.4h0M275.2 368h0M279.6 367.8h0M275 367.1h0M278.2 368.6h0M275.2 368.7h0M275.8 366.5h0M366.2 381.8h0M368.6 376.1h0M367 378.1h0M370.2 377.1h0M367.4 375.7h0M368.5 379.7h0M368.5 380h0M368 377.6h0M289.1 365.3h0M288.5 365.7h0M290 364.9h0M294.5 365.8h0M291.4 366.6h0M290.8 367.9h0M291.7 364.1h0M289.5 368.9h0M356.7 353.3h0M357.3 353.1h0M357.2 355.6h0M358.2 354.8h0M357.6 355.8h0M353.9 357.6h0M356.6 355.1h0M358.3 355.9h0M292.9 374h0M288.5 374h0M291.2 373.2h0M291.2 374.3h0M292 373h0M290.6 374.3h0M291.9 374.2h0M289.7 373.6h0M384.5 385.2h0M386.5 381.4h0M386.2 382.6h0M386.1 384.1h0M384.5 380.2h0M386.7 380.9h0M385.7 383.4h0M388 380.8h0M304.4 330.7h0M307.4 334.7h0M306.9 333.8h0M305.7 332h0M308.5 331.1h0M308.2 334.4h0M306.2 334.4h0M305.7 334h0M277.1 398.4h0M280.1 401.1h0M281.6 401.1h0M279.9 400.6h0M281.1 403.4h0M278 399.6h0M277.6 400.1h0M276.3 400.7h0M375.4 397.4h0M377.9 396.5h0M376.4 396.8h0M376.2 398.4h0M377.4 400.1h0M377.1 397.2h0M378.9 396.7h0M378.3 397.1h0M341.8 321.4h0M342.8 323.1h0M341.9 319.3h0M341 322.6h0M343.4 323.3h0M341.1 324.4h0M343.1 324.5h0M341.2 320.7h0M317.7 387.7h0M320.9 387.9h0M321.3 387.8h0M317.4 391.3h0M316 382.9h0M320.9 386.1h0M315.5 384.2h0M319.8 388h0M311.2 377.9h0M311.2 380.6h0M311.7 380.3h0M311.7 380.5h0M312.5 382.2h0M310 384h0M311.2 382.9h0M307.2 380.3h0M346.7 324.7h0M345.1 322.7h0M346.2 325.9h0M347.2 326.6h0M347.1 324.5h0M348.3 323.5h0M347.3 328.1h0M349.1 324.5h0M391.3 391.3h0M395.5 392.6h0M392.2 395h0M394.7 393.9h0M396.5 394.7h0M395.6 393.5h0M392.7 393h0M393.3 391.5h0M317.5 336.8h0M318.6 334.1h0M314.6 336.2h0M316.9 334.6h0M318 334.6h0M315 334.8h0M315.4 337h0M318.3 336.7h0M350.9 326.2h0M347.7 333.7h0M350.7 328.8h0M349.8 331.8h0M349.7 333.5h0M352 329.7h0M349.4 332.2h0M349.8 327h0M324.9 308.7h0M323.7 307.5h0M327.9 310.9h0M325.2 308.9h0M327 311.6h0M326.9 309.9h0M325.8 306.9h0M324.8 310.9h0M398.8 389.3h0M401.3 387.5h0M397.6 392h0M399 391.1h0M399.6 391.3h0M400.3 391.8h0M401.6 392.2h0M399.6 390.5h0M365.7 340.2h0M365 342.3h0M363.1 340.6h0M362.3 338.7h0M363.3 340.2h0M364 339.8h0M366 339.6h0M363.9 344.5h0M314.2 398.7h0M319.8 395.9h0M317.1 398.7h0M313.8 400.2h0M314.8 399.8h0M315.9 400.2h0M317.2 398.5h0M315.7 399.2h0M324.3 352.6h0M326 352.3h0M325.1 353.2h0M322.7 349.6h0M320.7 350.2h0M325.3 352.5h0M325.3 354.6h0M322.8 352h0M317.4 329.8h0M314.8 329.4h0M313.7 328.8h0M318.1 331.5h0M320.3 329.9h0M318.4 333.5h0M316.6 333h0M317.8 330.2h0M313.2 316.6h0M308.2 317.8h0M310 320h0M313.2 316.7h0M312.5 318.7h0M313.1 319.8h0M316.1 317h0M312.2 321.9h0M321.1 316.4h0M323.7 314.9h0M323.8 317.6h0M324.5 314.1h0M329.7 316.6h0M324.3 316.9h0M325.6 317.1h0M324.5 318.8h0M322.3 325.1h0M326.8 323h0M321.8 325.5h0M324.1 323.9h0M325.3 323h0M325.6 327.1h0M322.5 327.2h0M322 322.7h0M357.2 365.2h0M354.1 365.3h0M353.8 368.3h0M354.4 366.3h0M354.3 366.2h0M351.9 366.4h0M352.5 364.8h0M355.7 366.6h0M370.1 391.2h0M369.2 397h0M366.8 393.5h0M369.5 394.8h0M368.1 389.8h0M372 393.7h0M372.4 394.8h0M367.7 392.7h0M355.8 398.8h0M352.5 400.5h0M351.3 395.7h0M356.4 402.2h0M351.5 398.5h0M354.1 399.9h0M354.7 396.7h0M351.9 402h0M394.8 313.4h0M395.4 312.9h0M395.7 313.1h0M395.9 311.4h0M394.6 310.9h0M393.3 315.1h0M394 313.6h0M394.1 310.9h0M318.6 397.6h0M313.8 396.7h0M318.2 395.1h0M317.1 394.3h0M319.5 396.7h0M316.4 397.6h0M317 397.2h0M318.1 397.6h0M357.8 393.9h0M353.8 391.5h0M357.9 393h0M360.2 391.4h0M358.7 389.3h0M355.4 392.7h0M357.8 392.2h0M355.8 390.7h0M307.1 398h0M308.6 401.2h0M311.3 401.9h0M307 399.7h0M308.5 398.2h0M311.1 400.9h0M310.3 397.1h0M308.4 399.5h0M374.6 344.2h0M373.5 343.8h0M376.6 344.7h0M376.4 343.9h0M374.5 343.4h0M373.9 342.4h0M375.8 346.8h0M371.8 343.7h0M344.4 318.6h0M345.4 318.9h0M347.2 320.8h0M350.1 320.2h0M345.5 315.6h0M346.3 318.3h0M345.5 320.4h0M344.9 320.1h0M355.5 393.9h0M355 388.4h0M358.9 389.6h0M358.6 389.3h0M356.9 392h0M355.5 388h0M360.3 394.7h0M360.6 392.3h0M347.7 327.4h0M346.8 330.9h0M346.6 328.7h0M342.5 327.7h0M343.8 327.4h0M343.1 328.5h0M346.1 325.5h0M345.4 330h0M352.8 395.6h0M354.1 394h0M355.8 393.7h0M356.8 394.2h0M354.8 396.6h0M352.4 395.1h0M353.8 393.6h0M354.2 393.6h0M338.5 403.4h0M334.4 400.8h0M338.4 400.3h0M337.2 401.4h0M334.1 402.4h0M338.9 398.9h0M336.4 402.6h0M336.8 402.1h0M313.3 357.5h0M312.9 355.6h0M314.1 357.3h0M317.1 358.7h0M314.7 354.4h0M317.7 359.4h0M314.8 356.5h0M311.1 359.3h0M335 369.1h0M341.1 368.7h0M335.7 369h0M337.2 369.1h0M340.6 367.7h0M337.4 368.8h0M338 369h0M336.6 368.6h0M274.4 336.6h0M275.4 335.6h0M272.2 334.6h0M275.8 337.3h0M274 336.2h0M273.1 339.4h0M272.1 335.1h0M270.7 335.4h0M324.2 376.8h0M325.3 375.7h0M322.3 374.3h0M322.8 378.7h0M321.7 377.3h0M322.8 380.3h0M319.1 376.1h0M322.1 376.5h0M293.2 320h0M290.9 322.5h0M292.2 323.1h0M295.4 325.2h0M291 324.2h0M293.1 325.2h0M296.3 318.1h0M295.3 323.8h0M274.9 314.2h0M279.2 316h0M278.4 318.2h0M276.5 310.6h0M273.9 314.1h0M276.6 315.4h0M276.8 315.9h0M276 310.9h0M307.2 316.9h0M308.1 319.6h0M308.4 320.2h0M306 319.3h0M306.6 316.3h0M307 318h0M307 317.2h0M307 318.8h0M375.7 368.4h0M376.7 371h0M375.3 371.3h0M375.2 367.9h0M374.4 370.9h0M377.1 370.7h0M375.3 369.3h0M376.1 371.6h0M332.6 323.2h0M331.9 320.5h0M330.8 324h0M333.6 321.6h0M330.4 322.8h0M334.6 321.9h0M334.1 321.2h0M331.1 322.1h0M266.4 345.2h0M263.3 347.8h0M264.5 348.9h0M266.1 344.5h0M263.5 347.9h0M265.4 347.1h0M265.1 349.9h0M265 346.8h0M292 314h0M293.7 318h0M294.8 317.9h0M292.9 315.4h0M292.5 317h0M296.2 314.2h0M294.2 315.4h0M295.4 315.8h0M280.8 318.7h0M280 316.5h0M279.4 319.8h0M280.1 316.8h0M279.1 319.4h0M279.8 318.1h0M280.9 319.1h0M276.8 317.6h0M373.8 357.3h0M374.1 355.3h0M375.1 356.9h0M379.7 357.7h0M373.3 361h0M376.9 361h0M374.7 359.4h0M371.7 358h0M372.5 323.5h0M370.9 325.6h0M372.1 324.2h0M369.7 327h0M371.4 322.4h0M375.4 326.8h0M368.5 323.3h0M370.4 326.3h0M276.1 330.8h0M279.2 327.2h0M275 326.7h0M275.3 324.8h0M277.1 325.3h0M274.9 325.3h0M276 327.1h0M276.9 325h0M276.8 362.6h0M280.7 362.4h0M277.7 361.8h0M279.5 362.7h0M277.6 362.1h0M278 360.7h0M277 361h0M279.7 360.6h0M312 330.1h0M310.3 329.1h0M313.4 330.4h0M313 330h0M308.3 334.2h0M313 329.7h0M314.6 331.4h0M311.6 329.8h0M276.2 362.9h0M278.5 367.2h0M276.6 365.6h0M276.4 365.1h0M277.8 365h0M277.4 365.4h0M276.3 364.1h0M275.8 364.8h0M281.7 317h0M280.5 317.3h0M282.4 318.5h0M282.5 319.3h0M279.9 321h0M277.9 318.6h0M280.4 319.3h0M280 319.1h0M322.6 318.1h0M321.8 319.5h0M321.3 324.8h0M320.2 320h0M322 322.8h0M320.1 318.7h0M319.2 315.8h0M323.5 318.3h0M370.1 334.8h0M369.8 334.4h0M368.2 332.3h0M367.6 332.4h0M366.5 331.1h0M367.9 332.3h0M366.7 329.2h0M365.3 332.5h0M292 369.5h0M291.2 369.8h0M291 364.7h0M288 371.4h0M290.5 367h0M290.6 368.4h0M287.3 365.3h0M288.8 368.1h0M310 352h0M313.4 348.4h0M311.6 349.6h0M311.7 351.5h0M314.6 351.4h0M311.7 351.5h0M313.7 350.8h0M311.3 351.6h0M384 363.5h0M385.3 366.8h0M385.4 365.1h0M386 367.5h0M384.9 365.6h0M385.8 366.5h0M385 367.6h0M385.2 366.4h0M391 338.6h0M387.2 337.6h0M387 340.2h0M387.4 338.4h0M390.3 337.9h0M390.4 338.3h0M394.1 335.6h0M385.6 339.2h0M339.3 386.8h0M337.8 387h0M339.3 385.4h0M340.4 385.1h0M341.3 383.7h0M337.7 382.5h0M336.3 385.3h0M336.2 379.8h0M374.9 395.2h0M371.9 396.1h0M373 399.5h0M373.8 396h0M374.4 394.7h0M375.5 394.9h0M371.5 397.1h0M374 393.4h0M374.8 365.1h0M375 365h0M377.2 363.9h0M374.7 363.5h0M375.1 364.9h0M376.7 361.9h0M375.2 364.9h0M373.4 364.3h0M319.5 333.8h0M319.2 330.4h0M322.1 331.1h0M319.2 331.1h0M320.1 329.5h0M319.1 330.9h0M324.7 331h0M322.4 330.2h0M389.4 357.1h0M388.3 356h0M388 357.5h0M389.7 357.5h0M388.4 356.2h0M388.1 359h0M386.7 359.1h0M388.2 359h0M392.6 308.8h0M395.2 307.2h0M396.3 309.5h0M395.2 307.5h0M395.3 307h0M396.4 306.4h0M394.1 307.5h0M393.8 307.2h0M398.8 319.2h0M401 322h0M399.3 321.5h0M398.6 321.8h0M398.4 319.1h0M398.3 321h0M397.3 320.4h0M313.6 381.5h0M315.8 381.1h0M310.3 382.8h0M315.6 382.6h0M312.6 381.6h0M312.1 383.2h0M314.5 383.5h0M313.8 380.5h0M289.1 388.4h0M288.7 385.3h0M287.5 386h0M289.1 386.8h0M290.2 388.7h0M288.7 385h0M292.3 385.3h0M287.2 384.4h0M298.7 373.2h0M300.5 373h0M299.7 373.2h0M300 370.5h0M301.6 369h0M299.1 370.1h0M300.2 373.1h0M299.8 371.7h0M265.3 387.1h0M264.4 389.7h0M268.6 387.4h0M266.9 386.9h0M266.8 388.6h0M265.2 387.2h0M263.5 385.4h0M264.7 389h0M390.4 304.2h0M386.6 311.2h0M389.1 308.2h0M386.4 310.1h0M390.7 308.4h0M389.9 306.3h0M392 310.4h0M389.2 309h0M284.4 349.1h0M285.4 347.7h0M287.5 347.9h0M285.5 347.6h0M285.4 344.1h0M288.1 348.3h0M284.1 348.6h0M286.5 348.1h0M392.5 395.3h0M394.8 392h0M392.2 394h0M396.9 391h0M396 393.5h0M395 393.4h0M394.9 393.1h0M395.5 392h0M364.2 321.4h0M361.7 323.2h0M364.8 319.8h0M365.2 319.6h0M365.8 321.4h0M364.1 319.8h0M362.7 323.9h0M364.7 320.9h0M356.5 371.9h0M359.9 372.5h0M357 372.8h0M360.5 376.5h0M359.4 371.3h0M357.7 371.1h0M357.6 377.1h0M358.9 374.8h0M355.6 359h0M355 354.4h0M355 357.6h0M347.6 357.6h0M352.7 358.1h0M351.3 358.2h0M349.9 359.3h0M350.9 357h0M391.2 311.3h0M388.5 307.9h0M388.8 309.5h0M388.9 308.2h0M387.9 307.9h0M389.8 307h0M391.1 310.9h0M389.5 309.4h0M316.8 390.1h0M316.6 390.5h0M316.4 389.7h0M319.2 391.7h0M318.2 390.1h0M316.7 390.4h0M315.7 389.8h0M317.2 390.1h0M323.9 319.7h0M324.1 318.9h0M322.6 318.6h0M322.8 318.1h0M322.1 318.2h0M322.3 315.6h0M322.8 316.6h0M321.9 315.9h0M281.1 377h0M278.6 380.2h0M280.4 382.6h0M278.4 380.9h0M278.5 383h0M276.6 382h0M279.7 380.6h0M281.2 381.6h0M332.5 359.1h0M333.2 362.9h0M334 359.6h0M334.9 362.3h0M332.5 360.9h0M331 359.6h0M332.8 358.1h0M334 356.2h0M349.6 376.9h0M349.9 375.2h0M352.1 375h0M348.7 378.9h0M348.6 375.4h0M347.8 375.4h0M351 375.8h0M351.6 373.9h0M385.2 330.1h0M383.4 330.4h0M386.3 330.2h0M385.3 330.3h0M383.6 328.8h0M384.6 326.9h0M387.6 327.4h0M385.2 323.9h0M391.9 328.2h0M391 325.4h0M389.6 321.8h0M393.3 323.2h0M393.5 327.2h0M389.8 326.4h0M392.1 325.2h0M394.4 325.1h0M277 315.4h0M279.4 312.8h0M276.8 317.3h0M275.8 314.1h0M278.1 313.3h0M276.8 311.5h0M277.5 318.6h0M276.1 317.4h0M309.1 363.6h0M307.8 357.9h0M308.9 362.6h0M309 360h0M305.4 365.2h0M312.2 362h0M310.2 364.3h0M308.6 363.2h0M354.1 394.6h0M353.6 394.3h0M355.5 394.1h0M354.5 392.3h0M355.1 395.3h0M350.9 396.9h0M354 395h0M354 393.8h0M304.7 372.4h0M305.7 374.3h0M304.6 375.3h0M303.3 373h0M306 375.9h0M306.9 376.2h0M302.4 375.4h0M304.7 376.7h0M336.1 393.8h0M341.6 391.7h0M340.1 391.5h0M342.4 389.9h0M342.5 391.9h0M335.8 388.5h0M342.3 392.3h0M338.9 390h0M267.9 398.1h0M271.4 396.5h0M269.7 398.8h0M267.9 397.1h0M266.3 398.8h0M270.9 397.3h0M266.9 398.3h0M267.6 396.3h0M268.4 355h0M267.7 360.4h0M270.9 357.2h0M266.5 356.9h0M268 358.7h0M270.8 358h0M267.1 359.7h0M268.2 356.9h0M318.4 339.9h0M320.3 339.1h0M317.2 342.8h0M318.1 340h0M320.8 339.6h0M317 339.4h0M318.7 342.2h0M319.9 341.9h0M272.7 354.2h0M269.4 354.4h0M272.5 355h0M270.7 353.5h0M270.9 353.7h0M269.7 357.5h0M271.8 353.2h0M272.8 353h0M361.2 398h0M359.4 398h0M362.2 397.3h0M362.1 394.6h0M362.7 399.3h0M363.1 395.3h0M362.8 396.6h0M362.6 397.1h0M304.5 381.2h0M308.3 383.8h0M306.3 378.4h0M302.3 379.3h0M304.3 380.1h0M305.6 379.4h0M305 380.4h0M302.9 380.3h0M270.2 351.9h0M271.5 351.2h0M271.3 349.7h0M271.4 346h0M274.9 350.8h0M272.5 350.2h0M275.4 348.1h0M272.2 349.6h0M270.3 325.7h0M272.3 326.2h0M271.1 324.8h0M270.5 327.1h0M272.1 325.1h0M266.2 324.5h0M271 328.5h0M271 324.6h0M362.2 338.4h0M365.5 338.9h0M363.8 335.9h0M362.1 336.9h0M364.6 338.5h0M360.8 339.3h0M364.4 338.6h0M362.1 339.5h0M363.2 325h0M365.2 323.9h0M366 324h0M366.1 324.8h0M364 323.4h0M362.9 324.5h0M365.4 321.4h0M365.9 322.4h0M363.3 370.2h0M362.5 370.8h0M359 372.8h0M358.7 373.8h0M362.9 371.3h0M361.5 371.3h0M363.8 372.2h0M361.9 369.3h0M295 341.3h0M296.4 340.2h0M293.1 339.2h0M292.4 339.9h0M295.4 338.7h0M295.4 336.8h0M295.6 336.8h0M296.2 338h0M286.3 317.1h0M284.4 315.3h0M289.5 314.9h0M286.3 319.5h0M284.4 316.4h0M285.7 314.2h0M287.1 315.3h0M285 315.2h0M341.3 338.5h0M345.4 330.4h0M341.6 336.3h0M340.8 336.9h0M341 334.8h0M343.3 338.8h0M338.8 337.2h0M344.7 335.3h0M297.2 377.1h0M292.6 382.9h0M292.3 383.2h0M292.5 381.3h0M292.6 380.8h0M292.9 379.4h0M291.7 383h0M294 383.9h0M354.5 386.4h0M351.5 384.5h0M355.7 387.1h0M353.4 384.1h0M356.5 383.4h0M350.8 384.6h0M354.4 387.6h0M351.6 385.5h0M351.6 304.1h0M350.3 308.6h0M351.9 308.9h0M347.1 307h0M351.3 305h0M349.6 307.5h0M351.3 305h0M349.9 306.6h0M396.9 306.8h0M396.9 307.9h0M396.9 305.3h0M395.9 306h0M394.8 307.6h0M394.8 309.6h0M397.1 310.7h0M326.5 315.8h0M330.3 312.7h0M329.7 313.8h0M328.9 315.8h0M330.3 313.9h0M329.7 312.6h0M329.5 316.1h0M326.5 314.1h0M327.1 398.9h0M330 396.5h0M330.7 400.9h0M334.7 396.4h0M329.7 394.4h0M334 397.8h0M335.3 399.6h0M331 399.1h0M297.5 353.6h0M296.1 351.3h0M297 352.3h0M302.1 355.6h0M296.8 352h0M295.4 352.2h0M300.1 352.9h0M298.6 354.8h0M384.7 387.2h0M382.5 388.5h0M382 387.4h0M383.9 387h0M384.2 386.3h0M384.3 389.1h0M388.5 384.9h0M381.5 388.2h0M318.1 358.3h0M318.6 359.5h0M319.5 362.4h0M320.5 360h0M319 359h0M322.2 355.2h0M317.5 356.9h0M318.2 357.2h0M323.6 325.8h0M324.8 327.6h0M322 329h0M322.6 327.3h0M322.5 329.3h0M322 325.2h0M326.4 327.8h0M323.7 325.8h0M271.6 338.6h0M276.1 342.7h0M271.5 340.7h0M270.5 340.5h0M272.9 339.9h0M270.7 340.2h0M274.9 340.8h0M275.1 339.8h0M387.6 356.3h0M387.5 357.9h0M385.6 356.8h0M386.1 357.2h0M385.8 357.1h0M384.5 360.3h0M386.1 359.8h0M387.2 357.8h0M351.5 315.5h0M349.3 312.8h0M347.8 315.3h0M346.7 316.3h0M349.5 316.7h0M349 314.2h0M346.9 310.6h0M348.5 316.3h0M344.6 316.7h0M348.8 316.8h0M349.9 321h0M349.6 318.7h0M345.4 318.8h0M346.4 315.6h0M347.4 316.4h0M347.2 321.6h0M397.3 310.7h0M397.3 308.4h0M395.9 310.3h0M396.8 311h0M396.2 308.6h0M399.2 313.5h0M396.9 311.6h0M396.6 312.4h0M273 399.7h0M279.9 403.1h0M274.4 399.2h0M272.6 403.4h0M275.9 401.5h0M276.1 403.2h0M276.1 401.8h0M274.9 403h0M380.9 384.4h0M380.6 384.9h0M381.9 384.8h0M380.1 385.6h0M377 385.3h0M381.6 381.2h0M382.8 385.3h0M380.3 385.2h0M321.8 392.5h0M327.5 397.8h0M325.4 394.6h0M325.3 396.7h0M322.6 395.9h0M326.3 397.2h0M323.6 400.1h0M328.6 398.3h0M283.2 396.3h0M281.6 393.6h0M279.8 396.1h0M279.3 395.2h0M279.6 395.7h0M282.8 395.5h0M279.7 395.1h0M277.9 396h0M300.7 324.9h0M302.3 325h0M302 326.3h0M302.8 327.3h0M299 328.7h0M301.5 326.5h0M301.3 326.4h0M303.6 325.5h0M303 364.6h0M302.8 366.1h0M299 362.9h0M303.6 364.9h0M300.6 366h0M305 367.5h0M296.5 366.3h0M301.1 365.9h0M313.5 309.7h0M315.3 310.8h0M312.2 314.7h0M314.6 311.8h0M313.4 311.7h0M311.8 310.6h0M311.1 312h0M313.6 312h0M391.6 401.4h0M393.7 396h0M394 397.1h0M391.2 395.4h0M394 397.7h0M392.5 396.2h0M391.5 397.7h0M390.2 396.7h0M292 336.1h0M290.3 333.5h0M288 333h0M292.3 333.2h0M289.2 333.3h0M290.7 339.6h0M289.5 337.7h0M293.1 338.5h0M328 315h0M324.7 312.6h0M328.3 313.9h0M327.4 315.9h0M329.6 315h0M327.5 317.1h0M330.9 316.2h0M328.7 309.9h0M384.8 328.4h0M386.5 326.4h0M383.1 324.7h0M386.3 324.4h0M386.7 326.4h0M385.9 325.9h0M388.9 323.5h0M386.7 322.9h0M301.3 375.4h0M305.2 376.4h0M301.3 379.3h0M300.8 377.9h0M301.1 378.1h0M299.8 378.9h0M302.8 378.8h0M303.4 377.5h0M289.9 374.3h0M282.7 375.5h0M287.5 372.2h0M290.3 371.7h0M285.6 368.8h0M286.2 376h0M288.6 371.2h0M285.4 373.3h0M278.7 383.7h0M277.1 384.2h0M277.1 382.9h0M275.9 384.7h0M278 385.9h0M277.6 387.7h0M279.5 383.2h0M275.6 387.1h0M348.6 336.8h0M349.6 335.6h0M348.3 335.1h0M347.1 339.8h0M348.8 337.4h0M351.4 334.1h0M349.8 336.2h0M347.6 338.4h0M345.9 338.2h0M345.9 341.2h0M347.8 339.6h0M344.5 339.2h0M346.3 336.8h0M346.7 337.3h0M342.8 339.4h0M346.5 339.5h0M275 317.5h0M274.5 319.7h0M276.4 318.7h0M276.9 317.5h0M278 317.3h0M274.9 320.4h0M279 321.2h0M274.7 321.3h0M348.6 399.1h0M347.6 398.5h0M347.6 397h0M347.2 396h0M349.2 396.4h0M347.2 395.3h0M349.8 395.1h0M347.5 399.9h0M374.5 375.6h0M373.1 376.7h0M373.5 376.4h0M376.1 379h0M375.9 377h0M374.7 378.3h0M374.4 378.8h0M374.3 379h0M390.9 345h0M390.4 344.1h0M389.9 344.4h0M388.1 348.1h0M388.8 346.4h0M388.2 346.6h0M389.2 344.7h0M390.4 347.4h0M363.2 392.7h0M360 391.9h0M358.5 393.5h0M361.9 390.6h0M358.6 393.9h0M363.5 396.1h0M360.2 393.2h0M361.1 394.8h0M262.2 342.8h0M266.6 341.6h0M265.6 339.6h0M262.8 338.3h0M265.1 343.6h0M264.7 339.8h0M263.9 343.9h0M266.5 343h0M310.2 380.9h0M309.9 377.7h0M307.9 379.2h0M309.2 385.2h0M310.5 380.1h0M304.5 379h0M308.9 380.4h0M308.8 382.3h0M364.5 368.4h0M361.6 370.6h0M364.3 370.4h0M361.9 370.6h0M365.1 368.9h0M363.6 369.9h0M362.3 370.7h0M362.9 369h0M335 318.4h0M332 323.2h0M331.6 326.7h0M335.7 323.8h0M333.5 325.9h0M332.2 324.6h0M334 325.1h0M334.9 320h0M363.5 352.3h0M360.3 353.9h0M364 351.4h0M363.3 354.3h0M363.1 351.1h0M362.9 352h0M362 354.5h0M367.3 350.1h0M386.2 398.7h0M386.5 400.9h0M385.3 398.2h0M385.6 399.7h0M388.6 398.8h0M385.5 399.3h0M385.1 399.2h0M383.5 396.1h0M393.4 337.9h0M396.7 337.8h0M392.3 336h0M393.2 337.1h0M393.6 334.3h0M395 338.1h0M392.6 338.5h0M392.5 337.3h0M264.8 308h0M271.1 307.9h0M262.8 304.9h0M265.8 308.7h0M266.4 308.4h0M263 305.9h0M266.3 309.1h0M267.2 307.6h0M372.9 312.9h0M374.8 311.8h0M372 309.3h0M374.2 308.4h0M372.8 310.3h0M374.8 313.5h0M374.7 311.6h0M373.6 313.6h0M308.9 327.6h0M307.5 326h0M314.7 325.1h0M311.6 324.8h0M307.8 323.8h0M308.4 324.6h0M313 327.1h0M309.9 322.8h0M385.3 325.8h0M385.6 325.6h0M383.7 326.5h0M383.6 327.2h0M385.3 325.4h0M385.2 327.9h0M385.5 328.6h0M383.6 326h0M264.2 355.9h0M262.7 356h0M267.3 356.1h0M267.2 359.6h0M263.1 357.1h0M265 358.8h0M262.9 356.8h0M267 356.2h0M387.2 333h0M386.9 333.2h0M386.1 331h0M386.7 334.3h0M386.4 331h0M387.8 335.2h0M387.3 331.8h0M388.2 333.5h0M285.8 342h0M284.3 345.1h0M282.1 343.6h0M286.6 342h0M285.4 343.3h0M282.7 344.7h0M284.9 341.6h0M281.7 343.7h0M344.7 310.5h0M347.1 308.7h0M344.2 313h0M346.2 310.5h0M344.2 309.8h0M347.5 310h0M348.7 309.2h0M345.2 307.4h0M316.5 319.7h0M319.4 320h0M318 319.7h0M314.5 318.2h0M316.2 319.9h0M314.8 319h0M318.2 320.2h0M315.7 316.4h0M287.8 312h0M293.7 313.3h0M289.9 311.2h0M289.5 313.8h0M293.7 312.6h0M292 313.1h0M292.9 313.3h0M293.1 312.5h0" stroke="#3c2458" stroke-width="1.8" stroke-linecap="round" fill="none" opacity="1"/>
<path d="M359 319.9h0M359.6 318.1h0M357.9 319.7h0M358.2 321.2h0M359.3 323.6h0M294.2 334h0M295.3 333.9h0M294.4 333.3h0M289.9 334.8h0M290.4 334.5h0M355.9 367.9h0M357.3 363.6h0M357.7 366.4h0M358.8 365.1h0M359.8 364.8h0M270.3 336.6h0M269.4 338h0M270 337.2h0M271.8 338.1h0M270.7 338.4h0M381 338h0M379.9 337.2h0M381.6 337.2h0M380.3 338.1h0M379.9 338.5h0M325.7 304.7h0M322.7 306.1h0M324.4 307.4h0M324.7 304.8h0M307.1 321.5h0M307 321h0M305.7 321.3h0M308.2 319.9h0M307.3 322.2h0M328.7 392.9h0M328.6 394.9h0M332.8 394.5h0M331.2 394.9h0M330.8 396.4h0M300.5 335.5h0M301.3 333.1h0M302.1 335h0M299.6 332.3h0M301.8 332.9h0M395.2 348.7h0M396.8 347h0M392.8 349.2h0M394.4 348.2h0M393.1 349h0M327.9 379.9h0M325.3 379h0M328.6 377.7h0M327.6 378h0M327 378h0M351.7 352.1h0M352.4 351.9h0M352.8 351.2h0M353.2 350.1h0M354.2 352.8h0M375.1 344.1h0M374.4 343.8h0M376.9 348h0M375.1 344.6h0M376 343.6h0M281 321h0M279.6 320.3h0M278.4 321.6h0M279.3 321.2h0M278.7 318.6h0M304.2 350h0M303.4 351.1h0M304 352.1h0M304.3 350.3h0M305 349.7h0M312.8 323.8h0M313.9 326.1h0M313.2 323h0M313 324.9h0M314.4 325.1h0M382.6 389.3h0M378.7 388.6h0M378.7 388.5h0M380.5 389.5h0M382.1 390h0M381.3 313.8h0M376.3 312.8h0M378.7 313.5h0M379.2 314.3h0M377.6 316.7h0M339 396.8h0M339 396.7h0M338.7 399.9h0M337.4 397.1h0M337 399.7h0M324.7 396.5h0M324.9 393.3h0M323.2 394.7h0M325.9 395.8h0M325.8 395.3h0M266.6 361.8h0M265.6 359.8h0M265.9 362.3h0M268.2 361.2h0M266.3 364.9h0M322.4 336.7h0M320.8 335.4h0M321.7 336.5h0M320.4 335.2h0M323 336.5h0M283 320.5h0M282.2 318.3h0M283.8 317.8h0M282.3 319.4h0M282.5 317.4h0M360.3 349.6h0M361.4 350.9h0M360.6 349.7h0M361.4 348.7h0M359.7 347.1h0M299 332.5h0M298 335.7h0M299.8 333.8h0M298.2 335.2h0M298.5 337h0M310.7 311h0M310.8 313.3h0M311.7 311.8h0M309.6 311.6h0M307 313h0M274 376.7h0M276.1 376.9h0M276.8 376.8h0M276 378.2h0M277.9 375.5h0M263.1 333.1h0M263.3 334.6h0M262.8 332.8h0M265.7 333.2h0M262.9 334.4h0M396.8 329.9h0M399.3 331.1h0M399.9 330.5h0M398.5 329.5h0M400.1 330.1h0M319.9 373.3h0M318.4 372.1h0M319.8 372h0M318.9 371.8h0M318.1 374.9h0M275 399.5h0M274 396.7h0M275.1 399.5h0M273 397.6h0M276.4 396.9h0M302.7 365.3h0M302.9 364.8h0M303.8 364.6h0M303.3 363.8h0M305.5 367h0M366.5 366.4h0M369.1 364.8h0M367.1 364.2h0M368.2 364.3h0M363.7 364.6h0M354.1 309.2h0M353.8 310.3h0M353.1 311h0M354.7 311.6h0M356.1 310.7h0M344.6 320.6h0M343.7 320.3h0M345.3 320.8h0M344.7 322.8h0M345 319.1h0M311.3 351.2h0M311.4 352.6h0M314.3 354.5h0M312 351.8h0M311.3 351.3h0M284.6 347.6h0M284.9 347.6h0M281.9 348.5h0M279.8 349.8h0M283.1 350.7h0M288.5 326.5h0M287.8 326.9h0M287.3 325.5h0M290 326.5h0M287.6 324.4h0M280.4 329.1h0M278.9 330.2h0M279.6 327.8h0M279.9 330.7h0M279.5 329.3h0M357 383.2h0M355.7 385.2h0M355.7 384.3h0M356 386.6h0M354.9 383.1h0M333.2 402.5h0M334.9 401h0M333.7 398.8h0M334.7 399.9h0M335.4 401.7h0M311.8 322.3h0M308.9 322.9h0M309.3 322.3h0M309.9 321h0M309.9 322.6h0M279.7 354.4h0M281.2 354.4h0M280.5 354.2h0M282 354.1h0M278.1 355.3h0M376.4 360.9h0M377.2 362.6h0M378.2 361.7h0M375.7 360.6h0M374.7 360.6h0M276.3 344.9h0M278 344.5h0M277.7 344.3h0M278.5 344.9h0M275 343.5h0M291.4 307.3h0M292.1 306.6h0M294.3 307.8h0M292.3 308.6h0M292.9 308.5h0M285.2 321.4h0M285.4 322.4h0M286.1 323.6h0M286.7 325.1h0M285.7 323.5h0M274.8 316.5h0M273.6 319.3h0M272.9 317.4h0M276.4 316.7h0M276.8 319h0M297.8 385.2h0M301 387.5h0M298 387.8h0M300.9 390.2h0M296.8 389.6h0M397.3 307.7h0M400.1 306.2h0M397.8 306.3h0M397.5 306.3h0M398.3 305h0M284.3 332.8h0M284.7 333.5h0M282.6 331.6h0M285.8 332.7h0M284.3 331h0M279.4 370.5h0M279.8 369.6h0M278.6 369.5h0M278 371h0M279.2 369.3h0M329 315.1h0M329.6 316.7h0M329.9 314.4h0M329.5 315.2h0M329.3 315h0M289.3 342.6h0M291.8 340.6h0M291 343.7h0M287.7 340.7h0M289.2 344.5h0M265.4 351.7h0M267.1 349.2h0M265.7 352.9h0M267.1 351.6h0M267.6 349.5h0M364.5 333h0M366.2 332.3h0M366 334.5h0M367.5 333.9h0M365.4 332.4h0M376.7 324.7h0M373.2 324h0M377.7 328.9h0M377 324.3h0M375.5 325.1h0M303.8 314h0M304.8 316.2h0M305.2 314.1h0M305.5 314.3h0M304.5 316.7h0M371 390.9h0M368.9 391.1h0M367.8 391.1h0M370.3 393.2h0M366.8 391.1h0M400.9 341.4h0M399.2 344.1h0M400.1 344h0M395.8 343.2h0M399 343.1h0M352.9 343.6h0M349.2 344.7h0M349.9 343.8h0M349.8 344.3h0M346.6 343.5h0M388.8 333.7h0M389.2 332.6h0M389.6 330.5h0M387.9 332.7h0M388.2 333.7h0M302.1 313.1h0M300.4 314.6h0M304.2 314.6h0M302.6 313.9h0M301.5 316.5h0M392.3 328h0M392.5 325.8h0M389.2 328.4h0M391 327.7h0M390.3 326.5h0M397.6 360.9h0M399.6 360.3h0M396.5 357.9h0M395 358.7h0M398.1 359.6h0M277.4 307.4h0M276.6 307.7h0M277.2 304h0M277.1 307.5h0M278.1 305.9h0M370.1 390.1h0M368.7 391.4h0M371.2 390.4h0M369.2 391.5h0M369.7 391.1h0M357.9 369.6h0M356.9 369.1h0M357.4 372.4h0M357.3 369.4h0M358.6 370.9h0M290.6 341.9h0M291.3 338.8h0M288.5 339.5h0M291.2 339.5h0M290.1 338.9h0M262.5 334.8h0M265 336.5h0M265 335.4h0M262.8 336.4h0M264.5 333h0M295.8 384.1h0M296.4 383.1h0M293.9 383.6h0M294 383.1h0M295.6 383.1h0M368.2 316.2h0M367.2 315.8h0M367.7 315.3h0M368.2 317.6h0M368.8 315.7h0M269.7 383.7h0M268.1 388h0M268.3 384.3h0M268.8 384.4h0M267.7 385.9h0M266.3 354.7h0M264.5 352.7h0M268.3 353.4h0M264.3 350.6h0M265.7 351.7h0M327.7 328.2h0M327.8 326.7h0M330.2 325.9h0M330 329.8h0M332.1 327.4h0M318.7 394h0M317.5 394.2h0M316.7 395.9h0M318.1 395.8h0M319.6 393.9h0M282.5 308.6h0M280.6 309.2h0M282.3 307.2h0M282.1 306.6h0M281 309.7h0M320.1 366.7h0M319.2 366h0M318.4 367.1h0M317.9 367.7h0M320.7 366.1h0M337.8 313.9h0M337.5 313.8h0M340.5 312.2h0M339.2 312.9h0M337.7 314h0M313.7 372.6h0M314.8 374.1h0M312.9 374.4h0M314.5 372h0M313.9 375.5h0M292.8 392.9h0M292.4 394.4h0M290.3 394.2h0M292.5 393.1h0M289.8 395h0M375.4 378.2h0M378.2 377.8h0M376.1 379.1h0M378.7 377.5h0M377 379.1h0M378.6 344h0M379.2 344.7h0M380.5 346.5h0M379.3 344.4h0M378.6 346h0M342.5 333.3h0M342.2 335.6h0M345 333.6h0M344.4 333.7h0M343.6 333.3h0M361.2 334.3h0M362 335.6h0M360 335.2h0M362.9 334.4h0M359.4 336.8h0M283 354.1h0M284.1 350h0M282.5 351h0M280.4 352.7h0M279.9 349.9h0M369.8 312h0M369.8 312.2h0M369.7 313.9h0M370.3 315.6h0M368.2 313.3h0M280.9 310.3h0M282 313.1h0M281.6 311.7h0M281 310.7h0M282.1 311.1h0M352.3 379.9h0M354.7 379.1h0M350.7 376.5h0M350.9 377.6h0M349.9 376.6h0M357.4 343.1h0M354.8 343h0M357.2 343h0M355.5 342.6h0M355.1 343.1h0M293.6 377.1h0M293.6 376.9h0M294.2 377.3h0M295.6 376.8h0M296.1 377.2h0M354.9 321.4h0M354.8 319.9h0M355.7 321.4h0M354.6 319.6h0M354.6 322.1h0M318.5 386.2h0M320.2 387.2h0M320.4 388.7h0M318.9 385.8h0M320.6 387.7h0M349.2 313.8h0M352.8 313.9h0M352.1 313h0M351.8 314.4h0M351.6 315h0M396.5 357.3h0M398 360h0M394.8 357.9h0M398.1 359.9h0M394.1 359.6h0M277.2 372.4h0M278.1 372.5h0M276.2 375.5h0M276.1 372h0M277.6 374.2h0M351.7 362.8h0M351.3 360.3h0M351 363.7h0M355.6 363.1h0M352.6 360.4h0M294.9 334.9h0M291.5 335h0M294.6 331.8h0M293.1 333.9h0M291.8 334.9h0M288 360.4h0M287.5 355h0M288.1 358.9h0M287.4 359.1h0M285.9 358.3h0M279.2 398.9h0M278.6 399.1h0M281.7 399.7h0M280.1 400h0M281.9 402.2h0M368.1 314.5h0M368.5 314.5h0M368.9 312.9h0M368.9 315h0M369.8 314.7h0M287.7 328.1h0M287.9 330.3h0M284.9 329.6h0M286.4 329.7h0M288.2 328.5h0M305 349.6h0M301.7 352.8h0M302.5 348.3h0M302 351.3h0M304.1 352.2h0M360.4 367.4h0M359.6 365.9h0M358.5 364.4h0M358.3 369.1h0M360.7 366.4h0M346.5 328.8h0M347.4 327.4h0M348.3 328h0M348.2 327.6h0M348.1 326.7h0M314 349.6h0M317.7 350.6h0M316.2 347.3h0M312 350.7h0M316.2 347.5h0M286.7 399.3h0M285.1 400.1h0M287.3 401.1h0M285.8 401.2h0M287 403h0M265.8 321.4h0M266.8 322.6h0M266.8 323.1h0M268.2 320h0M266.6 320.9h0M304.2 364.5h0M301.9 365.2h0M304.4 365.2h0M303.1 366.6h0M303.5 364.5h0M358.6 373.6h0M357.8 375.6h0M358.8 373.9h0M360.4 376.3h0M360.9 372.8h0M370.2 332.9h0M370 336.3h0M370 335.5h0M369.3 335.1h0M368 334.7h0M324.3 337.6h0M322.9 335.2h0M324.3 337.9h0M325.3 335.3h0M324.9 335.6h0M322.6 399.6h0M322 395.7h0M320.1 395.8h0M320.4 396.2h0M319.1 396h0M286.6 367.2h0M287.8 366.3h0M286.3 365.5h0M288.2 367.8h0M288.2 366.8h0M364.9 349.1h0M362.9 345.7h0M365.2 347.8h0M363.9 348.3h0M364.8 347.7h0M271.5 327h0M271.5 327.1h0M272 327.3h0M273 328h0M272.4 327.3h0M362 398.6h0M358.5 396.4h0M359.8 397.2h0M362.2 396h0M359.6 397.1h0M396.6 385.9h0M398.6 386.3h0M395.5 387.4h0M398.8 382.6h0M397.5 387.6h0M268 332.8h0M267.1 334.8h0M269.3 334.5h0M269.5 333h0M267.4 334h0M360.8 371.8h0M359.6 372.3h0M359.7 372.9h0M361.6 372.9h0M360.7 371.8h0" stroke="#5a3a78" stroke-width="1.8" stroke-linecap="round" fill="none" opacity="1"/>
<path d="M356.6 324h0M356.3 323.3h0M357 322.3h0M355.7 322.6h0M358.8 320.3h0M357.1 320.3h0M348.1 319.6h0M345.6 319.3h0M348.7 320h0M346.3 318.6h0M348.5 318.1h0M347.9 318.9h0M340.3 321.1h0M340.5 322.3h0M338.6 324.4h0M337.3 322.5h0M337.9 322.8h0M335.3 324.7h0M394.4 392.5h0M392.5 391.8h0M393 390.6h0M388.6 391.9h0M391.4 394.6h0M393.1 392.4h0M378 398.8h0M374.8 400h0M377.8 398.9h0M380.5 399.9h0M376.9 403.8h0M379.4 400.9h0M271.1 342.7h0M268.6 341.8h0M271 340.7h0M271.2 342.7h0M269.9 343h0M269.4 344h0M325.6 333.6h0M329.2 336h0M325.6 334h0M329 334.8h0M325.3 335.6h0M329.8 337.4h0M278 387.3h0M275.3 386.5h0M276.3 387h0M274.1 387.6h0M277.1 389.1h0M276.3 383.9h0M328.1 340.8h0M330.2 340.3h0M328.7 343.1h0M330.5 339.5h0M329.3 342.3h0M329.4 342.7h0M338.4 345h0M340 344.8h0M341.3 344.9h0M340 342.5h0M340.8 341.6h0M339.8 344.2h0M278.3 373.1h0M282.5 370.9h0M280.5 371.9h0M280.4 371.1h0M279.9 371.6h0M278.5 369.7h0M377.6 339.6h0M378.9 338.2h0M376 338.2h0M377.4 343.5h0M377.4 341.8h0M377.7 338.7h0M325 309.6h0M327.3 306.9h0M325.9 309h0M321.5 308h0M325.2 308.1h0M344.2 346.4h0M340.7 346.1h0M341.2 346.1h0M346.4 348.3h0M341.2 345.5h0M342.6 345.3h0M362 361.3h0M361.5 361.7h0M360.9 362.7h0M362.3 359.7h0M361.6 364.2h0M360.4 364.1h0M290.1 307.2h0M289.1 307.8h0M291.4 307.4h0M290.1 307.4h0M288.8 308.7h0M291.4 305.1h0M320.1 402.3h0M319.3 398.4h0M316.2 400.7h0M317.7 399.9h0M316.8 399.1h0M354.3 343.2h0M348.3 343.4h0M351.8 340.8h0M347.7 344.4h0M350 344.8h0M349.9 344.4h0M304.1 306h0M307.4 311.1h0M306.4 312.6h0M304.5 309.3h0M303.5 307.4h0M307.3 311.2h0M393 336.8h0M393.5 337.4h0M396.5 335.8h0M395 342.5h0M395.4 337.6h0M395.8 340.7h0M304.7 381.4h0M301.3 384.5h0M301.4 384.2h0M305.1 386.6h0M300.9 384.5h0M306.3 383.5h0M339.5 330.4h0M337.2 330.9h0M339.2 335.1h0M337.5 330.9h0M339.4 331.5h0M338.1 332.4h0M280.5 380.1h0M282.8 378.8h0M280.3 377.5h0M283.5 377.8h0M282.6 377.2h0M284.3 375.7h0M400.7 349.3h0M400.6 348.2h0M399.7 347.1h0M397.8 349.6h0M399.8 350.3h0M398.9 347.5h0M307.4 340.4h0M308.7 339h0M309.9 339.8h0M312.3 338.9h0M311.5 338.8h0M308.5 337.7h0M362.7 389.4h0M361.5 386.4h0M365.8 387.4h0M363.4 389.7h0M361.8 387.1h0M362.3 388.7h0M393.6 321.3h0M394.1 324h0M396.7 323.6h0M395.6 320h0M399.2 322.1h0M396.1 319.9h0M341.7 347.2h0M342.8 344.3h0M341.2 349.1h0M343.9 347.3h0M341 345.7h0M340.7 345.9h0M262.5 334.6h0M263 328.8h0M266.7 332.7h0M264.8 334.4h0M265.9 332.4h0M267.7 330.2h0M352.1 390.8h0M352.7 391h0M355 390.2h0M356.5 388.2h0M354.5 390.2h0M353.1 390.8h0M366.4 352.7h0M365.7 353.2h0M364.5 352.9h0M365.1 356.4h0M363.1 353.6h0M367.1 356.5h0M328.7 369.4h0M324.9 368.7h0M325.3 370.9h0M325.9 368.5h0M328.1 368.3h0M327.2 366.8h0M343.8 351.4h0M344.7 353.2h0M343.8 349.9h0M340.6 355.4h0M343.6 350.5h0M346.3 349.6h0M275.5 382.9h0M275.7 384h0M275 387h0M275.9 382.8h0M272.6 384.1h0M273.9 382.8h0M312.2 329.6h0M310.6 330.6h0M311.9 328h0M312.5 329.5h0M309.9 329.3h0M310.3 330.8h0M304.2 311.8h0M304.9 311.8h0M298.9 311.2h0M301.3 312.1h0M301.6 309.5h0M302 311.3h0M272.4 389.8h0M269.2 386.1h0M272.4 387.9h0M275.6 388.4h0M274.7 389.5h0M272.9 390.8h0M396.6 351.4h0M393 348h0M390 346.5h0M393.6 349.1h0M392.8 348.4h0M394.2 349.1h0M279.2 333.6h0M276.8 332h0M275.6 332.8h0M277.7 335h0M276.6 332.2h0M277.4 331h0M297.8 310.3h0M305.9 308h0M301.9 309.4h0M301.8 309.4h0M300.6 306.1h0M301 309.5h0M393.2 349.3h0M395 349.7h0M398.2 349.5h0M395.7 350.8h0M395.5 349.7h0M394.8 349.1h0M338.6 396.9h0M338.9 399h0M340.5 397.9h0M341.1 400h0M341.1 396.6h0M340.7 398.8h0M321.5 396.2h0M321.1 395.3h0M320.2 397.9h0M320.5 397h0M321.8 396.1h0M318.7 399.1h0M266.4 362.5h0M266.9 359.2h0M266.1 362.6h0M267.9 359.3h0M264.8 359.4h0M264 359.9h0M349.8 314h0M353.3 314h0M348.6 315.2h0M349.5 311.1h0M351.6 312.8h0M348.2 313.2h0M353 346.8h0M356.3 351.1h0M353.9 349.8h0M353.2 348.9h0M352.7 349.2h0M354.6 350.2h0M317.8 324.1h0M315.4 320.3h0M313.1 323.5h0M314.6 324.8h0M312.9 324.5h0M310.6 324.9h0M372.3 325.7h0M373 320.6h0M374.3 324.8h0M373.5 324.5h0M373.2 322.5h0M370.7 325.9h0M303.1 358.5h0M303.5 357.9h0M305.3 357.8h0M304.8 354.4h0M303.8 359.1h0M303 357.5h0M341.7 335.2h0M339.3 337.7h0M340 340.2h0M339.5 336.8h0M339.9 339.1h0M339.5 337.3h0M381 329.6h0M380.5 330.2h0M380.6 328.9h0M376.3 332.3h0M376.5 329.9h0M377.1 330.6h0M319.2 312.8h0M324.6 314.1h0M321.8 314.9h0M320.3 312.3h0M322.3 319.1h0M323.6 318.2h0M281.3 319.7h0M283.6 319.2h0M287.9 316.6h0M283.7 320h0M282.4 317.5h0M281.8 319.4h0M373.9 333.4h0M378.1 333h0M376.4 334.9h0M377.4 332h0M379.4 336.8h0M378 334.8h0M393.1 368.6h0M395.7 371.1h0M391 371.5h0M390.3 372.5h0M392.9 370.3h0M391.7 371.7h0" stroke="#e02a52" stroke-width="1.9" stroke-linecap="round" fill="none" opacity="1"/>
<path d="M324 397.5h0M319.8 395.3h0M322.8 395.4h0M322.3 396.5h0M321.2 392h0M327.5 395.1h0M325.9 400h0M323.3 395.8h0M319.5 400h0M324.3 398.8h0M325.2 399.4h0M348.2 381h0M343.1 379.6h0M340.9 375.7h0M341.2 382.1h0M337.9 377.3h0M341.5 379.7h0M344.4 378.7h0M340.4 378.4h0M340.2 375.1h0M341.9 378.3h0M339.7 375.3h0M343.5 381.8h0M331.9 395.3h0M330.5 399.2h0M332.1 396.8h0M328.3 396.5h0M328.3 399.4h0M331.1 396.6h0M332.4 399.3h0M328.3 395h0M332.1 390.4h0M331.6 399.8h0M325.2 385h0M328.9 384.6h0M324.2 385.9h0M328.5 386.3h0M330.4 382.2h0M327.5 383.6h0M324.1 385.8h0M325.2 382.3h0M325.8 383.8h0M327 383.7h0M326.7 386.6h0M325.7 387.3h0M346.1 374.5h0M348 377.3h0M342.6 372.6h0M347 370.4h0M343.9 372.9h0M340.3 370h0M345 373.8h0M345.1 376.9h0M343.6 376h0M345.6 373.8h0M344.3 375.6h0M344.7 372.6h0M337.3 378.1h0M333.8 379.9h0M332.6 378.4h0M340.9 379.2h0M334.1 379.4h0M335.3 377.7h0M337.1 373.9h0M343.3 375h0M337.3 383.6h0M334.2 385.3h0M339.3 382h0M335.6 380.5h0M347.3 382.3h0M349.2 385.8h0M348.7 382.3h0M350.7 377.8h0M348.3 386.4h0M343.2 379.2h0M344.8 381.3h0M348.7 382.4h0M347.9 384.5h0M346.8 383.8h0M346.4 383.9h0M345.1 376.9h0M345.3 374h0M347.8 375.5h0M346.2 374.6h0M343.5 375.1h0M344.7 370.5h0M345.5 375.2h0M342.2 376.2h0M345.8 380.1h0M347.2 378.5h0M344.7 375h0M348 377.6h0M346.2 378.2h0M345.6 383.9h0M343.2 382.3h0M351.1 382.5h0M348.5 384.2h0M344.1 385.8h0M350 381.6h0M350.5 386.2h0M343.3 382.2h0M346.6 383.7h0M346.5 382.2h0M343.3 382.2h0M345.4 382.1h0M332.7 390.4h0M332 392h0M334.1 396.4h0M335.8 394.3h0M333.9 387.5h0M334.4 390.6h0M333.4 395.1h0M334.2 395.1h0M332.2 397.7h0M333.2 396.3h0M331.6 395.7h0M331.8 395.2h0M337 375.2h0M338.7 373.3h0M335.9 373.3h0M337 370.6h0M339.6 372.9h0M340.7 376.2h0M338.4 374.7h0M342.2 371.6h0M337.4 384.3h0M337.3 384.3h0M340.4 383h0M343.3 383.7h0M340.7 380.5h0M344 382.8h0M344.7 384.5h0M340.9 381.9h0M339.7 388.5h0M338.1 386.9h0M345.2 385.6h0M336.4 387.4h0M347.5 377.4h0M349.6 380.5h0M346.3 377.7h0M350.5 384.1h0M346.4 377.2h0M352.3 378.9h0M351.2 381.8h0M349.8 384.1h0M349.2 380.7h0M352 376.8h0M353.2 375.7h0M347 383.3h0M348.3 378.9h0M344.2 378.3h0M341.7 378.8h0M347.3 377.4h0M342.8 376.7h0M340.1 378.7h0M342 372.8h0M342.5 378.4h0M343.7 382.7h0M342.5 377.1h0M341.8 373.8h0M345.4 374.4h0" stroke="#e02a52" stroke-width="1.9" stroke-linecap="round" fill="none" opacity="1"/>
<ellipse cx="392.5" cy="321.9" rx="3.7" ry="4.3" fill="#fdf9fa"/>
<ellipse cx="386.4" cy="342.7" rx="5" ry="5.8" fill="#fdf9fa"/>
<ellipse cx="395.1" cy="335" rx="3.1" ry="3.5" fill="#fdf9fa"/>
<ellipse cx="383.1" cy="352.6" rx="3.1" ry="3.5" fill="#fdf9fa"/>
<ellipse cx="377.6" cy="375.5" rx="3.7" ry="4.3" fill="#fdf9fa"/>
<ellipse cx="368.9" cy="382.1" rx="2.6" ry="3" fill="#fdf9fa"/>
<ellipse cx="386.4" cy="365.7" rx="2.8" ry="3.3" fill="#fdf9fa"/>
<ellipse cx="395.1" cy="355.8" rx="2.4" ry="2.8" fill="#fdf9fa"/>
<ellipse cx="274.7" cy="359.1" rx="3.1" ry="3.5" fill="#fdf9fa"/>
<ellipse cx="339.3" cy="349.3" rx="3.9" ry="4.5" fill="#fdf9fa"/>
<ellipse cx="327.3" cy="365.7" rx="4.8" ry="5.5" fill="#fdf9fa"/>
<ellipse cx="330.5" cy="355.8" rx="3.3" ry="3.8" fill="#fdf9fa"/>
<ellipse cx="347" cy="335" rx="2.6" ry="3" fill="#fdf9fa"/>
<ellipse cx="276.9" cy="376.6" rx="2" ry="2.3" fill="#fdf9fa"/>
<ellipse cx="268.1" cy="326.3" rx="2" ry="2.3" fill="#fdf9fa"/>
<ellipse cx="391.9" cy="376.6" rx="2.6" ry="3" fill="#fdf9fa"/>
<ellipse cx="380.9" cy="387.6" rx="2.2" ry="2.5" fill="#fdf9fa"/>
<g filter="url(#rough2)">
<path d="M291.1 305.5L324 305.5L320.7 321.9L314.6 339.4L309.1 356.9L306.9 372.3L302.5 402.9L284.6 402.9L287.8 383.2L290 365.7L292.7 348.2L293.5 326.3Z" fill="#c62f5c" />
<path d="M312.4 306.6L314.1 315.3L312.4 326.3L309.7 335" fill="none" stroke="#2f4a9a" stroke-width="5" stroke-linejoin="round" stroke-linecap="round" opacity="0.85"/>
<path d="M301.4 381L299.9 392L294.4 402.9" fill="none" stroke="#2f4a9a" stroke-width="4.5" stroke-linejoin="round" stroke-linecap="round" opacity="0.85"/>
<path d="M309.7 335L305.8 354.7L302.1 374.4" fill="none" stroke="#8e2a55" stroke-width="3.5" stroke-linejoin="round" stroke-linecap="round" opacity="0.55"/>
<path d="M304.3 313.1L303.6 332.8L298.8 356.9" fill="none" stroke="#8a3088" stroke-width="3" stroke-linejoin="round" stroke-linecap="round" opacity="0.55"/>
<path d="M296.6 313.1L296.6 343.8L292.2 372.3L287.8 396.3" fill="none" stroke="#d9486c" stroke-width="3" stroke-linejoin="round" stroke-linecap="round" opacity="0.7"/>
<path d="M364.5 305.5L376.5 305.5L374.3 321.9L368.9 339.4L363.4 356.9L360.1 372.3L357.9 402.9L344.8 402.9L349.2 383.2L353.5 365.7L357.9 348.2L362.3 326.3Z" fill="#cd3660" />
<path d="M368.9 313.1L364.5 335L357.9 363.5L351.3 392" fill="none" stroke="#a52a60" stroke-width="2.5" stroke-linejoin="round" stroke-linecap="round" opacity="0.6"/>
</g>
<rect x="264.9" y="395.7" width="16.8" height="2.3" fill="#3a12f0"/>
<text x="265.5" y="393.4" font-size="6.2" fill="#000">50 μm</text>
</g>
<rect x="263.4" y="306.8" width="135.5" height="95.1" fill="none" stroke="#000" stroke-width="1.05"/>
<g clip-path="url(#cp7)"><rect x="402.3" y="306.8" width="135.3" height="95.1" fill="#ebc8d6"/>
<path d="M461.1 376.6h0M457.6 377h0M460 376.1h0M457.6 376.5h0M458.7 376.1h0M454.1 375.6h0M464 380.4h0M470.1 395h0M472.1 400.3h0M470.6 399.2h0M468.4 398.2h0M468.7 396.4h0M470.6 402.9h0M473.6 398.6h0M523.8 379.2h0M523.6 379.4h0M523.1 381.8h0M527.5 381.5h0M527.2 376.8h0M524.3 380.1h0M521.5 379.2h0M522.3 386.2h0M523.1 384.9h0M523 385.9h0M516.5 387.2h0M524.2 386.1h0M522.5 388.5h0M522.1 386.4h0M498.7 393.2h0M497.4 392.2h0M498.6 394.6h0M496.9 390.2h0M499.2 393.1h0M497.4 392.9h0M501.2 394.1h0M416.7 353.5h0M416.8 349.1h0M416.9 353.9h0M419.8 351.5h0M416.5 351.5h0M418.3 352.5h0M421.2 352h0M457.3 380.6h0M459 379.7h0M461.5 378h0M461.8 378.6h0M460.8 378.6h0M458 375.1h0M458.8 378h0M536.9 400.1h0M534.8 396.1h0M534.9 399.3h0M534.4 396.9h0M535 398.6h0M531 399.2h0M536.1 399.9h0M492.5 318.6h0M495 317.4h0M494.7 318.2h0M494.6 316.3h0M494.1 314.6h0M496 317.7h0M491.7 319.5h0M512.2 350.4h0M511.8 347.4h0M512.6 348.4h0M507.4 349.5h0M514.1 346.9h0M508.9 350h0M512.5 350.8h0M414 349.4h0M412.2 348.9h0M408.1 350.8h0M413.3 350.7h0M410.7 349.2h0M412 352.9h0M412.5 352h0M524.7 360.5h0M526.2 362.1h0M522.9 364.9h0M521.1 361.8h0M521.2 360h0M522.6 362.7h0M525.9 360.5h0M480.9 316.4h0M479.7 314h0M476.7 315.5h0M480.7 317.6h0M479 314.5h0M483.9 316h0M484.4 316.4h0M471.2 313.2h0M468.4 307.7h0M467.3 309.6h0M466.5 311.6h0M468 313.5h0M468.6 312.4h0M465.7 311.7h0M427.5 312.4h0M425.4 311.2h0M427.5 310.9h0M425.7 314.2h0M427.1 315.6h0M424.9 316.5h0M424.7 314.2h0M536.4 398.4h0M539.9 400.2h0M537.8 400.5h0M539.5 396h0M539.7 398.2h0M538.6 398.9h0M537.9 396.7h0M431.6 309.9h0M431 313.2h0M433.1 315.1h0M429.3 312.8h0M431.7 310.1h0M434.9 309.4h0M430 312.5h0M499.3 349.5h0M501.1 348.5h0M497.9 346h0M502.1 346.1h0M501.1 351.2h0M500.5 349.8h0M500.2 349.3h0M420.3 400.1h0M417.2 399.7h0M416.7 399.4h0M415.1 400.5h0M418 400.1h0M419.9 400.8h0M414.4 400.2h0M409.5 392.4h0M408.6 394.1h0M410.4 392.4h0M406.5 389.7h0M406.8 390.8h0M405.5 393.7h0M407.2 395.3h0M492.2 335.8h0M490.4 335.3h0M491.6 328.9h0M491.3 332.2h0M492.1 330.5h0M495 333.2h0M493.2 333.2h0M431.3 315.9h0M428.7 312.6h0M432.6 313h0M432.9 318.2h0M432 318.6h0M436.9 312.2h0M431.7 319.2h0M486 399.9h0M486.7 401.1h0M487.9 401h0M485.5 399.8h0M484.9 397.1h0M485.4 396.7h0M484.8 399.8h0M521.4 372.6h0M521.9 369.8h0M524.5 368.3h0M519.8 372.1h0M518 371.4h0M515.3 371.6h0M518.7 374.9h0M406.7 371.5h0M406.8 369.7h0M402.6 375.1h0M402.9 371.1h0M404 373.1h0M402.7 372.3h0M413.2 360.1h0M416.1 355.7h0M419.2 361.8h0M416.6 359.6h0M417.5 361.1h0M416.5 360.2h0M414.1 359.9h0M493.2 310.3h0M490.5 314.1h0M486.6 315.1h0M486.9 313.4h0M486.8 312.5h0M488.1 312.5h0M485.7 311.5h0M405.5 317.7h0M407.6 317.8h0M406.8 315.9h0M406.5 316h0M407.8 313.8h0M407.9 315.6h0M408.5 316.6h0M408.7 374.9h0M409 374h0M408.5 373.5h0M409.8 369.1h0M408 370.5h0M410.4 371.5h0M407.8 372.5h0M534.3 365.5h0M534.1 365.7h0M537.2 365.5h0M536.2 366h0M532.8 364.6h0M534 363.8h0M530.5 367.2h0M532.6 332.7h0M529.1 334.6h0M530.2 334.9h0M530.4 334.9h0M531.8 329.5h0M535 330.7h0M530.4 336.2h0M499.2 364.8h0M497.8 365.7h0M496.2 366.9h0M496.5 363.9h0M496.1 367.7h0M495.2 366.2h0M494.1 366.2h0M403.4 324.8h0M404.5 325h0M407.7 325.3h0M402.2 327h0M405.3 325.6h0M404.3 329.4h0M404.1 327.1h0M467.9 393.4h0M470.4 394.8h0M472 392h0M468.8 392.4h0M472.6 393.9h0M468 392.8h0M469.2 390.1h0M406.9 384.2h0M408.9 378.5h0M405.2 381.6h0M407.4 382.1h0M406.1 384.1h0M409.3 383h0M407.4 383.5h0M500.4 315.1h0M497.8 314h0M500.8 312.6h0M500.1 314.9h0M498.9 311.7h0M497.1 311.5h0M501.6 317h0M534.1 336.9h0M532.4 336h0M534.5 337.4h0M536.3 334.3h0M534.6 339.5h0M533.7 331.6h0M539.5 332.2h0M459 321.3h0M456.5 323.2h0M460.3 323.2h0M462.2 325.5h0M459.9 326.1h0M456.4 323.5h0M458 322.1h0M470.2 366.3h0M472.1 365.1h0M473.3 364.9h0M471.3 364.9h0M472.8 361.3h0M471.2 365.1h0M468.7 366.3h0M517.8 370.2h0M514.2 375.9h0M516.2 371.6h0M518.6 373.2h0M516.9 370.1h0M515.5 372h0M514.9 371h0M483.5 374.5h0M477.6 374.2h0M477.7 370.8h0M476.5 376.1h0M481.4 374.9h0M476.6 370.9h0M473.8 374.9h0M458.1 307.8h0M458.9 307.3h0M460.5 305.7h0M456.3 306.5h0M456.2 304.6h0M458.4 306.6h0M431.3 384.9h0M433.1 381.2h0M434.5 379.7h0M432.1 382.1h0M430 377.7h0M436.6 381h0M431.8 380.2h0M510.2 348h0M507 347.7h0M509.2 353.2h0M513.6 349.7h0M510.7 347.6h0M511.2 345.6h0M507.9 348.9h0M474.8 395.3h0M478.1 397.2h0M478.8 392.8h0M475.2 393.7h0M480.9 394.6h0M474 394.6h0M477.5 393.5h0M474.3 361h0M472.8 361.1h0M473 360.8h0M475.8 366h0M472 362.9h0M474.9 361.3h0M473.6 358.6h0M510.5 307.2h0M511.4 306.8h0M512.6 308.8h0M513.6 308.6h0M511.9 306.8h0M511.3 309.8h0M512.4 312h0M527.9 307.5h0M527.8 308.7h0M527.1 310.3h0M525.6 307.7h0M524.1 306.4h0M526.2 309.1h0M484.7 340.2h0M485.2 339.8h0M486.5 338.2h0M486.9 336.7h0M487.1 337.7h0M482.8 341.2h0M482.8 339.1h0M404.5 383.3h0M405.2 386.9h0M405.4 390.5h0M402.4 388.9h0M405.2 389.1h0M400.5 391.8h0M407.8 388.7h0M444.4 389.9h0M449 388.7h0M448.6 388.9h0M446.1 387.2h0M444.6 386h0M444.1 390.7h0M445.6 389.1h0M504.7 347.1h0M506.7 354.6h0M507.2 351.2h0M502.8 353.7h0M504.1 350.9h0M506 352.9h0M503.4 349.7h0M508.7 392.2h0M513.5 392.9h0M514.3 390.7h0M510.4 391.9h0M508.9 391.5h0M514.1 392.5h0M507.8 393.4h0M519.4 334.2h0M519 333.9h0M518.3 337h0M517.8 331.7h0M519.4 336.2h0M520.1 333h0M516.6 333.6h0M410.1 377.6h0M413.9 371.6h0M413.7 371.2h0M413.9 373.8h0M410.7 371.5h0M411.7 375.3h0M409.9 377.4h0M404.7 316.3h0M405.4 314h0M402.8 318.6h0M405.8 317.3h0M403.7 313.9h0M403.3 315.2h0M405.2 317.7h0M472.2 307.2h0M473.1 305.8h0M471.5 307.8h0M470.1 304.2h0M471.6 306h0M521.3 387.6h0M522.8 395.3h0M524.2 393.4h0M524.4 396.1h0M521.5 396.1h0M522.7 395.1h0M520.9 392.5h0M493.7 360.1h0M496.3 360.8h0M493.4 359.5h0M497.4 360.1h0M492.5 358.3h0M494.5 355.2h0M494.7 359.8h0M492.7 380.6h0M491.7 383h0M492 379.1h0M498.2 378h0M494.2 379.9h0M490.9 384.3h0M494 380.5h0M420.6 346.6h0M418.2 344h0M420.4 343.9h0M422.2 347.4h0M418.9 350.3h0M420.9 349.7h0M419.1 344.8h0M483.6 311.9h0M479.7 310.9h0M487.1 311.6h0M484.5 310.9h0M482.8 313.6h0M484.5 312.7h0M485.1 312.9h0M448.4 340.6h0M443.9 343h0M444.4 343.3h0M451.6 341.4h0M446.7 346h0M448.7 341.6h0M449.4 344.8h0M487.4 327h0M489.7 325.7h0M495.2 328.5h0M491.5 326.2h0M490.2 327.1h0M495.4 323.5h0M495.8 324.1h0M462.3 395.3h0M462.4 400h0M461.2 397h0M459.2 400.4h0M461.7 398.2h0M462 399.9h0M461.2 400.2h0M442.9 368.4h0M442.6 369.4h0M443.5 371.1h0M443.3 369.2h0M443.5 374.7h0M443.6 371h0M443 369.2h0M456.1 363h0M456.3 360.5h0M454.8 364.4h0M456.2 366.1h0M456.3 362.4h0M455 366.7h0M455.9 359.6h0M476.7 324.4h0M481.4 326.8h0M477.3 328.4h0M478 324.4h0M482.7 321.2h0M479.3 327.2h0M482.2 325.6h0M417.8 363h0M423.6 370.1h0M420.7 364.4h0M422.6 365.6h0M422.7 366.6h0M422.5 366.4h0M423.2 362.8h0M446.4 312.2h0M445 311.7h0M445 312.8h0M440.7 311.4h0M445.8 310.7h0M445.2 310.4h0M443 312h0M447.9 369.2h0M449.2 368h0M449.6 366.3h0M447.1 369.8h0M446.3 367.3h0M445.8 367.1h0M448.5 368.4h0M446 375.2h0M449.3 374h0M449 373.1h0M450.7 377h0M447.2 368.7h0M448.5 378h0M450.9 374h0M495.9 318.6h0M498.3 319.1h0M495.4 316h0M494.5 317.6h0M496.9 314.6h0M496.5 318.7h0M498.2 319.3h0M438.4 353.1h0M440.5 351.3h0M435.9 354.3h0M435.9 358.1h0M438.4 354.2h0M436.8 355.5h0M439.1 353.4h0M526.6 370h0M528.3 369.9h0M528.6 372.7h0M525.7 367.8h0M527 371.3h0M527.5 369h0M529.6 371.7h0M495.9 372.4h0M493.6 369.8h0M494.4 371h0M495 369.4h0M495.4 373.2h0M494.3 370.5h0M496.6 372.5h0M479.7 390.5h0M482.1 390.9h0M479.5 389.9h0M481.1 393.4h0M480.7 392h0M481.7 393.8h0M484.2 390.6h0M469.1 378h0M467 376.7h0M467.1 375.9h0M466.4 375h0M466.7 377.9h0M466.9 373.2h0M468.6 376.9h0M428.8 350.3h0M432.6 354.1h0M432.7 351.9h0M431 352.7h0M434.3 351.2h0M433.3 351.6h0M433.4 356.1h0M471.1 321.9h0M466.4 322.8h0M465.9 316.5h0M469 316.5h0M471.4 314.1h0M470.2 318.9h0M468.5 320.6h0M512.3 389.4h0M509.1 387.4h0M507.5 387.7h0M510.2 387.3h0M508.7 391h0M508.4 390.8h0M503.9 387.6h0M536.4 330.5h0M539.3 331.8h0M539.5 329.6h0M540.6 332.1h0M538.2 335.5h0M538 330.8h0M537.7 332.1h0M514 360.5h0M509.4 359.9h0M510.4 360.1h0M513.3 359.6h0M511.1 356.2h0M508.8 358.9h0M508.2 361.4h0M469 372h0M476.7 372.4h0M472.4 373.4h0M472.1 369.4h0M471.8 372.4h0M471.9 369.5h0M471.6 373.6h0M437.2 350.7h0M434.4 349.8h0M434.1 349.2h0M439.6 347h0M434.9 351h0M435 347.8h0M437.9 345.9h0M466.1 380.2h0M465.5 381.2h0M465.5 381.8h0M468.2 381.8h0M466.2 383h0M464.6 384.1h0M465 383.2h0M474 376h0M478.8 376.3h0M472.9 374.4h0M473.6 375.6h0M473.8 375.6h0M473.6 376.5h0M473.6 374.4h0M516.6 363.7h0M511.6 363.3h0M514.9 363.5h0M518.2 359.9h0M512.8 364.3h0M516.6 360.3h0M512.4 365.3h0M474.9 394h0M478.2 394.1h0M477.3 395.5h0M474.2 394.1h0M476.2 390.5h0M473.6 394.3h0M478.4 393.8h0M442.2 325.6h0M439 322.9h0M440.8 324h0M438.1 325.8h0M437.2 326.2h0M438 321.5h0M440.7 326.7h0M476.6 343.2h0M472.5 345.1h0M476.9 342h0M476.5 343.4h0M475.5 340h0M480.3 340.4h0M473.1 343.3h0M474.1 365.1h0M474.9 369.9h0M475 368h0M477.7 366.5h0M472.5 368h0M473.4 371.5h0M475.2 371.3h0M514.1 372.8h0M510.8 370.9h0M511.4 377.2h0M513.2 367.2h0M513.9 376.5h0M515.4 371h0M517.9 369.7h0M533.3 330.2h0M530.9 330.7h0M532.8 329.3h0M532.3 325.6h0M529.2 330.2h0M528.6 326.5h0M531.3 330.8h0M452.9 324.5h0M450.5 322.6h0M455.5 323.6h0M458 324.1h0M451.3 322.8h0M454.4 325.5h0M455.1 325.7h0M476.7 315.4h0M475.7 319.7h0M475.3 317.7h0M477.3 319.8h0M474.4 319.5h0M475.6 316.3h0M473.7 318.9h0M451.8 351.8h0M449.9 354.1h0M451.3 353.6h0M452.7 351.8h0M451.4 356.8h0M453.9 351.1h0M452.5 352.8h0M412.3 398.5h0M413.5 389.4h0M410.6 395.7h0M415.2 394h0M419.3 391.9h0M414.5 394.4h0M412.4 397.2h0M469.6 401.6h0M468.8 401h0M467.9 402.4h0M472 399.5h0M467.1 401.4h0M466.9 400.6h0M467.7 397.9h0M457.5 331.7h0M460.1 331.4h0M454.6 330h0M456.9 330.3h0M462 333.8h0M454 330.2h0M458.2 330.9h0M408.6 390.6h0M409.6 390h0M410.6 385.8h0M408.3 391.7h0M409.9 389.6h0M409.6 394.3h0M408.9 393.2h0M482.4 374.2h0M484.1 372h0M481.6 369.3h0M484.2 372.2h0M485 374.2h0M484.1 369.7h0M482.5 370.3h0M409.3 371.6h0M407.5 371.6h0M408.2 366.7h0M406.9 367h0M409.9 368.9h0M410.3 367.5h0M408.5 366.5h0M532.3 370.3h0M532.9 370.9h0M534.5 370.8h0M532.4 366.7h0M534.9 370.2h0M531.6 370.1h0M532.1 365.6h0M412.5 375.9h0M413.8 379h0M411.4 377.8h0M414.7 376.5h0M411.3 375.7h0M411.2 375.5h0M415.7 375.9h0M415.1 385h0M410.8 384.7h0M411.5 383.5h0M413.6 384.2h0M410.2 386h0M410.3 386.6h0M409.8 382.4h0M450.5 381.5h0M448.2 382.9h0M452 379.1h0M453.3 379.9h0M448.8 381.5h0M449.9 379.9h0M451.8 384.8h0M424.5 383.7h0M421.8 388.6h0M419.1 384.9h0M421.5 383.6h0M420.4 385.5h0M421.8 386.3h0M419 387.3h0M519.2 370.8h0M518.5 368.4h0M516 369h0M517.4 367.2h0M513.4 371.5h0M520.4 370.2h0M519.3 370h0M408.8 398.8h0M411.1 399.4h0M411.5 396.5h0M411.1 396.7h0M414 397.8h0M412.5 402.3h0M411.6 396.4h0" stroke="#dc6c90" stroke-width="2.0" stroke-linecap="round" fill="none" opacity="1"/>
<path d="M410.8 327.4h0M407.7 329.6h0M407.2 329h0M408.1 327.5h0M407.4 326.5h0M470.3 388.1h0M470.5 386.3h0M470.1 387.9h0M471.6 388.5h0M470.6 388.1h0M438.3 341.4h0M438.5 341.2h0M437.6 339.4h0M438.1 341.7h0M439.9 343.2h0M472.3 385.8h0M469.6 386.2h0M472 384.8h0M470.9 388.6h0M473.2 385.9h0M403.7 326.3h0M405.2 326.1h0M403.3 324h0M404.6 325.3h0M402.9 326h0M416.9 343.7h0M420.2 346.1h0M417.3 344.7h0M420.7 345.9h0M417.9 347.4h0M473.2 375.6h0M472 375.6h0M471.4 376.1h0M472.9 375h0M474.9 375.7h0M519 371.4h0M517.9 372.9h0M518.1 371.7h0M518.4 374.5h0M518.6 373h0M489.4 338.9h0M492.3 340.2h0M491.9 341.6h0M492.1 341.7h0M491.8 340.2h0M491.9 308.3h0M489.5 308h0M492.1 311.3h0M491.6 307.1h0M490.2 306.8h0M500.2 327.5h0M497.9 326.5h0M501 323.2h0M499.7 326.2h0M498.1 325.1h0M421.2 367.8h0M424.5 367.8h0M421 364.4h0M422.1 363.7h0M421.8 366.3h0M482.6 365.8h0M483.9 365.8h0M482.9 363h0M484.4 366.7h0M482.5 365.4h0M442.5 386.3h0M443.2 383.1h0M445.6 382.6h0M445.6 385.9h0M445.3 381h0M512.4 383.5h0M509.3 382.8h0M508.2 385.8h0M510.6 382.6h0M509.7 385.1h0M475.3 338h0M473.6 336.4h0M476.3 335.2h0M477.3 335.9h0M474.8 334.9h0M499.7 345.1h0M499.7 347h0M500.9 347.2h0M504.5 348.9h0M497.3 348.5h0M459.4 389.1h0M457.3 386.3h0M461 388.3h0M456.7 386.1h0M455.7 386.3h0M421.6 333.2h0M422.3 333.9h0M422.6 333.2h0M423.1 333.8h0M423 332.7h0M467.2 353h0M460.6 351.2h0M464.5 353.1h0M463.3 349.6h0M467 349.9h0M423.7 331.3h0M422.5 330.6h0M422.8 330.3h0M422.3 331.4h0M422.2 329.5h0M462.5 317.7h0M464.5 315.8h0M465.5 313.3h0M463.8 314.6h0M462.2 313.5h0M510.2 348.5h0M509.4 346.8h0M511.5 346.3h0M511 349.5h0M508.4 346.6h0M467.3 361.5h0M466.5 363.7h0M466.6 358.3h0M466.1 362.2h0M466.1 364.4h0M496.1 390.6h0M494.7 390.4h0M495.6 391.1h0M493.2 386h0M496.6 389.7h0M525.6 361.6h0M527.9 361.9h0M527.4 362.7h0M525.5 361.1h0M524 363.1h0M493.5 376.1h0M491.2 374.8h0M491.7 376.8h0M489 374.1h0M493.4 376.2h0M444 349h0M443.6 351.1h0M445 352h0M445.1 351.7h0M441.3 349.1h0M411.3 319.4h0M410.7 320.5h0M413 320.1h0M410.5 320.2h0M411.6 322.1h0M440.1 344.2h0M437.8 341h0M441.9 345.5h0M441.3 341.5h0M439.2 344.5h0M408.9 351.1h0M412.3 351.5h0M413.6 354.7h0M413.6 351.7h0M412 350.6h0M455.5 331.3h0M459.2 331.1h0M457.8 331.1h0M458.4 334h0M456.6 333.3h0M487.3 354.1h0M484.9 355.1h0M481.9 353.1h0M488.3 358h0M486.6 356.6h0M426.9 390h0M427.3 392h0M426.6 392.1h0M425.4 391.8h0M424.4 393.4h0M406.5 371.4h0M406.8 373h0M407.9 371.5h0M406 370.1h0M405.2 368.3h0M403.6 343.9h0M405 340.1h0M402.9 343.3h0M404.6 342.7h0M405.1 339.5h0M458.9 331.1h0M459.6 335.1h0M456.3 329.5h0M454.6 329.6h0M459.3 331.5h0M524.1 359.5h0M524.2 358.1h0M523.7 357.8h0M524.1 361.1h0M521.4 363.6h0M519.2 371.3h0M518.5 367.8h0M519.5 372.2h0M520.1 370.8h0M519.7 370.2h0M487 375.2h0M483.9 374.1h0M485.5 377.5h0M483.8 374h0M487.2 374.1h0M411.6 370.2h0M413.1 368.4h0M411.9 368.5h0M412.4 371.1h0M410.1 367.9h0M480.4 335.8h0M479 338.5h0M478.2 340.4h0M478.6 340.4h0M479.1 339.4h0M450.1 392.6h0M449.6 393h0M448.7 394.1h0M449.5 393.1h0M448.7 391.7h0M409.1 307.3h0M408.6 304.8h0M407.8 306.2h0M405.4 308h0M407.4 305.6h0M405.5 326.3h0M406.4 323.5h0M405.8 325.7h0M404 324.2h0M406.2 323h0M456 394.3h0M457.2 394.5h0M458.7 393.6h0M458.1 396.6h0M456.9 392.6h0M482.2 310.1h0M481.9 307.7h0M482.8 309.6h0M483 308.7h0M482.9 311.4h0M488.9 312.4h0M489.8 311.6h0M490.6 314.3h0M488.3 312.3h0M491.3 312.8h0M514.1 364.9h0M512.6 367.4h0M513.6 367.4h0M512.9 365.2h0M512 367.3h0M409 383.3h0M408.7 383.7h0M407.4 381.9h0M405.4 383.2h0M406.6 383.5h0M537.3 347.1h0M536.8 345.6h0M539.8 345.2h0M540.6 347.2h0M539.2 345.8h0M465.2 352h0M463.7 351h0M468.2 353.3h0M464.2 350.2h0M466.1 348.9h0M525.8 395h0M524 394.5h0M524.3 395.2h0M524.8 392.7h0M525.7 393.9h0M413.1 366.1h0M410.7 364.4h0M412.3 364.8h0M413.2 363.4h0M413.2 364.8h0M523 319.6h0M520.3 321.4h0M520.1 318.6h0M520.6 320.9h0M522 321.1h0M407.1 375.9h0M404.7 376.6h0M407.7 373.9h0M406.8 377.5h0M406.6 374.3h0M466.8 308.5h0M467.6 308.5h0M467.7 310.7h0M463.9 306.9h0M466.9 308.3h0M480.7 356.1h0M481.8 353.9h0M482.8 356.7h0M480.5 355.5h0M479.3 358.1h0M473.7 360.6h0M473.6 360.1h0M472 359.6h0M472.7 361.3h0M474.6 361.2h0M533 345.8h0M534.3 343.1h0M533.1 342.8h0M533.5 345.1h0M531.3 346h0M455.9 360h0M455.2 360h0M455.9 360.1h0M457.2 360.8h0M458 361.3h0M536 356.8h0M534.2 360.9h0M534.4 360.5h0M534.7 361.4h0M533.6 359.8h0M485.6 357h0M484.9 357.1h0M480.8 354.1h0M481.4 355.8h0M479.8 357.4h0M478.3 311.8h0M478.8 311.9h0M479.9 313.9h0M480.6 312.1h0M479 313.8h0M468 393.6h0M467.2 392.5h0M465.6 391.5h0M466.6 394.6h0M467.1 392.6h0M436.7 319.7h0M438.4 319.4h0M439.6 323.3h0M435 318.4h0M438.3 318.9h0M471.1 366.3h0M468.7 362.3h0M470.5 364.7h0M469.6 365.4h0M469.8 366.3h0M531.2 340.5h0M534.2 342.4h0M533.1 340.8h0M531.9 341.2h0M534 339.3h0M515 347.8h0M511.9 346.2h0M510.5 351h0M513.5 350.1h0M511.6 347.9h0M412.4 357.5h0M408.8 354.3h0M412.6 357.8h0M410.9 358.7h0M409.6 356.3h0M414.7 401.4h0M415.1 401.6h0M414.8 401.8h0M415.6 403.8h0M418 401.7h0M524.6 376.5h0M523.1 376.8h0M525.3 374.5h0M523 375.2h0M523.2 375.8h0M432 363.5h0M434.8 365.8h0M432.8 363.9h0M431.5 364.2h0M432.7 365.9h0M527.9 373.5h0M525.3 374h0M524 374.5h0M523.3 370.3h0M526.1 369.8h0M478 358.3h0M475.8 356.8h0M475.5 355.5h0M471.6 356.3h0M475.8 355.3h0M408.4 350.9h0M411.6 349.7h0M410.3 350.2h0M408.3 350.4h0M411.1 354h0M507.9 383.7h0M506.6 383.8h0M504.9 387h0M506.5 384.9h0M510 385.4h0M464.3 386h0M463 384.7h0M461.8 383.7h0M458.1 384h0M461.9 384.3h0M464 322h0M462.3 321h0M460.6 322h0M461.2 321h0M461.4 320.5h0M478.1 390.4h0M479.8 389h0M477.9 391.4h0M475.1 390.2h0M476 392.2h0M488.7 325.2h0M491.6 325.3h0M490.8 324.6h0M490.1 326.3h0M490.3 323.7h0M495.5 383.3h0M495.3 383h0M496.8 381.3h0M496.3 383.1h0M494.4 383.3h0M410.7 398.2h0M409.4 396.1h0M407.1 399.1h0M409 399.5h0M407.7 398.1h0M524.6 342.7h0M524 340.1h0M525.4 339.4h0M524.8 341.4h0M526 339.1h0M531.9 395.5h0M531.4 395.7h0M532.3 393.1h0M533.5 391.5h0M534.8 391.4h0M449.6 369.9h0M448.9 370.5h0M450.3 369.1h0M448.4 368.6h0M448.2 369h0M495.5 373.6h0M494.1 374.6h0M497.9 373.1h0M496.2 373.2h0M494.8 376.6h0M427.8 387.7h0M426.8 388.5h0M425.9 389.8h0M429.7 390h0M430.5 385.8h0M433.9 325.8h0M437.1 327.6h0M437.3 327.4h0M434.1 326.4h0M434.5 328.6h0M479 311.1h0M480.9 311.7h0M482.4 309.5h0M479.7 308.7h0M478.6 310h0M514.2 373h0M513.7 377.1h0M510.9 375.6h0M513 373h0M513.1 379h0M517.8 364h0M519 366h0M516.3 360.7h0M515.5 364.6h0M517.8 362.1h0M529.7 381.5h0M529.2 383.5h0M525.6 383.3h0M527.9 384.4h0M529.1 381.4h0M520 345.4h0M521.3 343.7h0M518.9 342.9h0M519.4 345.8h0M518.2 343.9h0M526.2 398.7h0M524.8 395.3h0M527.7 398.5h0M525.2 399.4h0M528.1 400.2h0M469.3 380.5h0M470.2 374h0M470.9 374.9h0M468.5 376.9h0M470.6 378h0M430.1 376.6h0M431.2 376.1h0M430 376.3h0M431.3 374.1h0M431.1 377h0M478.3 361.1h0M478.7 366h0M477 363.4h0M473.5 365.1h0M479.8 362.5h0M516 394.3h0M518.5 390.4h0M519.6 392.6h0M517.2 392.1h0M517.5 389.2h0M435.9 382.2h0M435.2 381h0M435 380.4h0M433.8 381.1h0M436 381.9h0M407.7 311.2h0M408.2 310.1h0M411.6 308.1h0M409.2 310.9h0M408.9 311.3h0M510 383.9h0M515.2 386.6h0M510.8 386.2h0M511.3 386.5h0M511.7 382.9h0M451 395.5h0M453.5 396.4h0M452.4 398.1h0M453.3 396.9h0M451.4 397.5h0M484 317.5h0M481.5 320.2h0M482.1 319.4h0M480.8 322.2h0M481.2 319.9h0M444.6 383.8h0M443 383.2h0M443.9 383.4h0M442.4 383.9h0M443.2 383.6h0M456.1 384.9h0M456.8 383.4h0M455.3 385.2h0M457 382.5h0M454.7 386h0M495.1 326.3h0M497.4 326h0M493.6 328.3h0M498.2 325.7h0M494.1 327.3h0M534.4 396.8h0M536 393.7h0M535.7 395.3h0M533.6 396.4h0M533.6 395.9h0M455.4 345.2h0M454.8 345.4h0M453.2 346.8h0M454.5 345.8h0M454.9 347.8h0M463.2 309.2h0M467.1 307.5h0M465 306.8h0M464.9 307.3h0M464 308.6h0M404.4 385.5h0M405.5 389.2h0M404.6 386.8h0M406.8 386.2h0M405 390.5h0M502.2 333.9h0M497.9 333.3h0M501.7 329.9h0M499.9 335.1h0M501.2 332.3h0M530.6 397.7h0M530.9 399.3h0M529.7 397.1h0M530.7 398h0M529.4 397.3h0M445.2 398.6h0M441.6 397.5h0M441.2 397.7h0M441.3 399.1h0M440.9 396h0M420.7 347.3h0M417.9 350h0M423 351.1h0M421 349.1h0M422.9 350.6h0M484.1 358.8h0M481.5 358.2h0M485.2 357.1h0M486.3 356.7h0M484.3 358.8h0M475.9 307.6h0M477.9 311h0M479 309.8h0M478.9 308.6h0M476 309.7h0M445.1 397.4h0M441.9 395.2h0M442.7 397.4h0M441.9 397h0M442.6 397.2h0M499.8 365h0M497.2 367.7h0M499.6 363.2h0M495 365.4h0M500.2 365h0M504.5 321.7h0M507 317.2h0M504.7 324.3h0M503.9 320.5h0M506.3 323.4h0M525.5 384.5h0M522.5 385.2h0M523.6 386.7h0M524.8 385.7h0M522.1 382.2h0M439.8 392.1h0M441.2 393.6h0M441.9 392.4h0M441.9 392.2h0M442.4 393h0M434.2 378h0M435.1 379.5h0M431.5 379.4h0M433.3 379.9h0M433.7 376.6h0M419.3 393.7h0M418.2 394.9h0M419.3 393.9h0M415.3 397.7h0M417.3 393.2h0M404.7 375.3h0M405.5 371.2h0M407.5 376.7h0M406.1 374h0M407.2 373.2h0M479 357.2h0M478.6 356.6h0M479.7 360.2h0M477.8 357.8h0M482.2 358.3h0M419.4 353.1h0M413.9 353.6h0M417 351h0M415.3 353h0M413.8 351.6h0M446.3 323.3h0M445.1 322h0M444.9 324.3h0M447.9 321.7h0M445.2 321.8h0M485.9 320.8h0M485.8 322.5h0M485.7 322h0M488.2 320.6h0M487.6 320.6h0M529.6 334.7h0M530.4 336.9h0M530.4 337.1h0M529.3 337.1h0M526.8 336h0M452.1 310.4h0M453.9 314.5h0M456.3 311.6h0M451.8 313.3h0M453.3 313h0M485.8 403.6h0M487.9 402.7h0M485.8 401.1h0M448.4 359.6h0M449.1 359h0M448.9 359h0M447.8 360.4h0M448.7 360.6h0M446.3 315.3h0M447.8 314.3h0M444.9 316.6h0M443.2 313.6h0M447.7 317.2h0M519.7 360h0M518 363.5h0M518.5 360h0M518.9 360.9h0M518.3 361.7h0M531.3 401.6h0M530.8 398.6h0M529.8 399.9h0M530.3 401.8h0M477.4 369.5h0M478 367.8h0M477.4 368.2h0M479.4 367.4h0M478.8 368.5h0M488.8 318.6h0M487.7 318.2h0M489.5 318.5h0M488 316.7h0M487.7 318.9h0M412.5 389.8h0M415.4 390.7h0M410.8 390.6h0M413.4 389.9h0M412.9 387.7h0M417.4 376.4h0M417.7 378.8h0M418.7 374.6h0M415.7 378.6h0M420.3 382h0M531.6 400.7h0M531 402.4h0M531.1 400.3h0M533.9 398h0M531.7 400.5h0M455.3 341.8h0M453.9 340.3h0M454.8 341.4h0M455.3 341.3h0M452.6 340.7h0M503.9 320.8h0M504 325.8h0M503.3 326.2h0M503.9 322.4h0M502.5 323.9h0M421.4 400.6h0M422.3 397.8h0M418.4 397.2h0M423.5 396.7h0M420.6 397.5h0M460.6 354.5h0M459.8 351.6h0M459.8 350.6h0M462.5 354.7h0M461.1 356.5h0M459.6 310.3h0M463.2 311.1h0M461.1 311.2h0M463 309.1h0M462.4 311.4h0M426.1 367h0M426.9 366.4h0M425.6 365.5h0M425.8 369.3h0M426.5 366.9h0M532.9 384h0M533.6 388h0M531.2 382.5h0M532.8 386.9h0M533.7 386.8h0M459.8 325.2h0M459.8 322h0M460.9 322.5h0M458.5 320.2h0M460.9 320.2h0M418 398.3h0M418.3 397.7h0M420.8 397.1h0M419.5 399.2h0M421.1 395.5h0M479.7 361.2h0M482.1 360.5h0M480.2 358.3h0M480.4 358.6h0M479.1 358.6h0M428.5 330.2h0M430.3 333.2h0M428.8 330.4h0M428.9 331.7h0M428.3 334h0M449.4 379.4h0M444.4 380.2h0M448.8 376.1h0M445.4 379.8h0M446 379.4h0M417.8 332.2h0M418.6 335.8h0M419.1 335.2h0M416.4 335.6h0M416.7 336.5h0M409.9 353.1h0M414.1 351.7h0M412 350.7h0M414.9 352.6h0M415.3 351h0M412.4 345.4h0M410.8 345.8h0M415.1 344.7h0M412.5 344.9h0M415.5 348.8h0M413 380.5h0M413.6 379h0M414.4 378.2h0M415.3 378.3h0M412.2 380.9h0M421.7 376.7h0M417.8 378.9h0M423.3 380.8h0M421.1 380.4h0M421.3 379h0M491.9 331.4h0M491.4 330.9h0M490.9 333.5h0M492.6 331.1h0M490.6 329.7h0M411.7 392.5h0M413.6 389.8h0M413.8 394.7h0M414 392.7h0M413.2 392.7h0M423.1 395.3h0M423.1 395.9h0M423.1 393.2h0M420.5 396.4h0M422.9 395h0M420.8 331.9h0M420.2 335.6h0M420.8 332.7h0M420.7 333h0M422 331.8h0M409.6 351.5h0M411.8 355.5h0M413.1 353.3h0M409.4 350.8h0M411.5 352.3h0M485.8 371.3h0M486.1 373.2h0M485.5 370.3h0M485 368.7h0M485.1 370.8h0M495.6 316.5h0M496.3 315.8h0M494.5 313.5h0M495.6 310.3h0M495.3 315.3h0M402.4 369.5h0M402.2 367.7h0M404 368.5h0M400.2 367.8h0M401.4 367.4h0M453.6 327.5h0M454.3 331.1h0M452.6 327.2h0M453.2 328.1h0M456 331h0M418.3 397.9h0M419.4 398.9h0M416 398.4h0M418.9 397.9h0M420.4 398.8h0M422.3 351.8h0M422.5 353.2h0M425 353h0M422.1 353.1h0M423.7 350h0M449.8 315.8h0M449.7 315.7h0M448.5 316h0M448 316.6h0M446.2 319.2h0M411.1 317.5h0M410.3 315.4h0M409.9 315.5h0M408.4 316.6h0M410.1 317.4h0M534.4 329.2h0M531.2 329.9h0M535.2 328h0M533.3 329h0M535.7 327.8h0M419.5 331.5h0M421.3 333.3h0M423.1 330.9h0M419.7 334.3h0M421.7 332.2h0M412.9 395.8h0M411.5 397h0M408.2 396.9h0M411.4 394.4h0M407.7 396.4h0M401.3 353.3h0M401.8 352.2h0M401.5 353.8h0M404.2 353.6h0M451.5 348.7h0M452 346.3h0M451.2 348.3h0M450.5 347.6h0M453.6 348.7h0M463.5 400.3h0M462.5 402.1h0M466.9 402h0M466 402.8h0M462 403.9h0M435.3 323.7h0M436.7 329.2h0M435.4 324.3h0M433 327.6h0M435.4 325.8h0M464.4 392.6h0M463.6 394.8h0M462.4 395.6h0M463.9 395.3h0M461.8 396.2h0M408.1 366.8h0M408.3 364.2h0M407.2 365.3h0M408.5 365.3h0M406.1 364.9h0M406.4 377.8h0M403.1 374.9h0M403.2 373.7h0M402.8 372.7h0M406.4 374.4h0M485.7 368.9h0M487.9 370.8h0M488.8 371.6h0M488.1 371.6h0M487.9 368.7h0M406.9 369.8h0M410.8 370.2h0M411.1 369.9h0M409 371.8h0M411.1 369.5h0M495 384.1h0M492.7 382.2h0M493.4 383.8h0M496.8 380.6h0M494.6 378.6h0M408.6 376.3h0M407.3 380.5h0M409.6 377.5h0M407.1 377h0M409.4 376.4h0M421.3 377.4h0M421.5 377.1h0M424.8 378.6h0M424.8 375.4h0M422 377.4h0M433.5 316.7h0M437.5 323.1h0M435.1 322.7h0M436.1 320.9h0M438.1 320.1h0M430.6 324.4h0M428.1 325.1h0M430.2 322.9h0M432.8 326.6h0M429.7 324.8h0M502.2 350.9h0M507.2 353.3h0M504.6 351.8h0M504 350h0M504 352.8h0M426.8 395.6h0M425 394.8h0M425.9 394.9h0M424.5 394.7h0M425.6 393.2h0M533.5 402h0M531.3 397.3h0M530.8 402.9h0M529.7 401.2h0M529.4 401.5h0M425.9 387.8h0M423.8 388.4h0M426 389.3h0M425.6 390.3h0M424.8 388.3h0M454.3 361.7h0M454.9 357.5h0M456.6 359h0M457.7 360.7h0M455.5 359.2h0M405 382h0M401.4 382.7h0M404.8 383.3h0M406.7 382.6h0M402.8 384.4h0M528.8 377.3h0M529.8 376.9h0M531.6 375.6h0M528 374.4h0M530.2 377.1h0M400.7 325.7h0M403.9 323.3h0M402 325.9h0M402.8 324.5h0M403.7 324.2h0M427.4 390.1h0M425.7 388.4h0M426.4 390.9h0M426.2 387.6h0M426.6 388.6h0M518.8 359.3h0M523.3 360.7h0M520.8 363.5h0M518.5 362.2h0M519.8 363.1h0M522.9 307.8h0M521.9 308.6h0M524.4 310.5h0M522 311.4h0M520.6 308.7h0M480.7 354.2h0M477.7 354.3h0M479.2 354.7h0M479.6 355.9h0M479.3 355.5h0M489.3 379.6h0M488.3 381.7h0M489.9 381.2h0M487.5 383.1h0M487 379.1h0M415.3 359.3h0M416.3 359.9h0M416.5 359.7h0M414.1 358.4h0M412.3 361.4h0M452 370.7h0M452.5 372.1h0M448.4 371.9h0M453.6 374h0M454.4 374.2h0M503.7 332.7h0M503 332.4h0M503.8 332.9h0M505.5 336.3h0M501.3 332.4h0M470.6 364.7h0M467.2 363.8h0M469.5 366.8h0M469.6 363.1h0M468.6 363.9h0M410.1 364.7h0M407.5 363h0M406.2 363.2h0M406.9 362.4h0M409.6 362.9h0M491.4 306.9h0M490.3 307.3h0M492.1 308.5h0M490.2 307.1h0M527 354.4h0M526 356.5h0M528.2 352.7h0M528.2 356.8h0M527.3 355.4h0M405.5 371h0M403.5 371.7h0M407.2 370h0M404.8 376.4h0M405.3 370h0M408 343.1h0M408.4 341.5h0M407.3 341.7h0M406.5 341.6h0M406.6 341.3h0M495.7 311.6h0M497.3 309h0M495.2 314.8h0M496.8 314.8h0M496 314.8h0M414.3 338.2h0M414.1 337.8h0M414.4 340.9h0M415.3 337.5h0M413.1 336.5h0M492 375.8h0M491.8 377.9h0M493.5 378.5h0M494 381.1h0M492.5 380.9h0M489.2 315.3h0M488.8 314.8h0M487 316.8h0M491.5 317h0M487.8 319.4h0M414.3 382.1h0M414.6 377.1h0M419.3 379.5h0M416.9 382.3h0M415.6 381.7h0M457 325.3h0M456.8 323.4h0M458.2 327.7h0M456.1 322.6h0M456.6 328h0M418.6 327.8h0M421.6 327h0M422.9 328.6h0M420 330.5h0M420.9 326.3h0M537.5 391.9h0M536.3 393.6h0M538.6 392.5h0M537.9 391h0M539.7 387.8h0M446.1 373.7h0M445.3 378.5h0M446.1 374.9h0M446.9 375.6h0M444.6 373h0M410.1 390.8h0M410.5 391.4h0M409.4 390.2h0M409.5 393.2h0M409.4 387.8h0M497 363.5h0M500.3 364.8h0M497.4 365.2h0M495.6 367.5h0M497.5 366.4h0M496.7 331.7h0M501.6 333.2h0M498 332.6h0M498.8 332.9h0M499.7 335.1h0M472.9 384h0M469.7 383.2h0M472.1 381.9h0M471.3 385.1h0M469.5 385h0M503.8 326.2h0M501.2 323.8h0M504.2 321.9h0M501.1 324.2h0M503.6 323.3h0M413.7 363.9h0M411.9 362.5h0M413.9 365.7h0M414.8 361.1h0M415.3 364.3h0M416.9 372.2h0M420.2 372.7h0M419 372.9h0M419.8 374h0M418.5 374.9h0M513.6 343h0M513.9 342h0M513.1 346h0M513.8 344.2h0M511.1 343.8h0M524.1 351.3h0M524.5 350.7h0M525.8 349.5h0M522 351.9h0M524.3 348.1h0M416.8 354h0M417.3 352.7h0M417.4 353.1h0M418.8 353.9h0M417.4 353.5h0M534.7 361.2h0M533.6 359.8h0M534.6 365.7h0M534.3 361.6h0M535.3 363.9h0M506.6 361.5h0M506.7 358.6h0M502.8 360.1h0M504.3 359.8h0M507.8 359.8h0M479.1 338.1h0M474.2 336.6h0M475.9 334.1h0M474.4 336.3h0M473.5 336h0M491.9 308h0M495.7 311.2h0M494 310h0M493.5 308.2h0M492.2 310.5h0M474 374.3h0M473.2 376.7h0M474.8 375.6h0M472.6 379.2h0M474.4 377.5h0M452.1 327.9h0M453.5 327.9h0M457.1 329.6h0M455.8 326.9h0M454.2 328.8h0M519.2 312.2h0M520.2 314.8h0M521.6 313.5h0M520.2 315.4h0M518.7 315.1h0M481.2 352.2h0M481.7 351.7h0M482.6 351.8h0M481.6 354.6h0M482 353.5h0M491.5 329.6h0M492.3 331.7h0M490.1 330.5h0M490.3 331.6h0M491.3 332.1h0M528.6 319.6h0M527.3 320.8h0M528.2 321.5h0M529.3 322.6h0M530.7 323h0M472.4 377.8h0M472.1 378.4h0M471.8 376.8h0M471.4 377.5h0M473.3 374.5h0M485.3 360.7h0M485.9 358.9h0M483.5 356.5h0M487.3 356.6h0M481 358.1h0M504.9 325.7h0M508 328.9h0M507.1 324.6h0M507.9 329.5h0M505.1 330.4h0M491.4 376.2h0M491.8 375.9h0M493.1 378h0M491.7 376.1h0M492.9 381.1h0M477.3 385.6h0M474.7 383.5h0M475.2 387.6h0M474.7 384.9h0M476.1 386h0M418.4 387.2h0M417.8 385.9h0M417 382.5h0M420.3 383.7h0M415.8 386h0M474 368.8h0M472.1 368.6h0M469 369h0M473.9 366.5h0M468.4 370.6h0M502.5 315.6h0M503.3 318.9h0M502.7 316.7h0M503.9 318.6h0M504.7 318.6h0M440.1 366.4h0M439.2 365.6h0M436.8 366.1h0M438.3 363.4h0M438 365.1h0M470.2 358.7h0M471.6 357.1h0M474.2 358.3h0M471.5 359.3h0M472.7 359.4h0M436 327h0M433.4 326.9h0M434.8 324.1h0M434.4 327.1h0M432.8 325.6h0M478 337.4h0M476.8 337.4h0M478.4 338.5h0M477.4 337.7h0M477.9 337.3h0M519.1 342.7h0M525.6 343.2h0M519.5 342.6h0M517.6 344.2h0M519.8 346.7h0M481.8 314.8h0M480.1 318.7h0M481.6 315.3h0M479.4 318.9h0M481.8 320.8h0M521.7 380.8h0M517.2 377.2h0M522.5 377.1h0M526.7 377.9h0M523.7 376.8h0M488.8 338.5h0M493 335.8h0M492.7 339.4h0M492.5 340h0M489.2 334.7h0M487.7 399.5h0M483.1 400.2h0M485.5 401.4h0M484.4 400.6h0M490.7 328.3h0M487.3 325.1h0M490 327h0M486.8 323.4h0M486.6 326.4h0M464 395.9h0M466.6 396.2h0M467 394.9h0M466.9 395.8h0M467.8 394.6h0M462.3 356.7h0M463.2 352.6h0M462.8 356.5h0M459.6 355h0M461.4 354.5h0M418.6 329.4h0M417.8 328.8h0M416.6 330.9h0M418.7 331.1h0M418.7 328h0M503.8 338.2h0M503.1 340.6h0M501.8 338h0M504 340.4h0M501.4 342.3h0M408.3 351.8h0M406.6 349.9h0M406.4 351.8h0M407.4 348h0M407.3 348.9h0M463.1 320.2h0M463.2 319.7h0M460.5 319.3h0M462 324.1h0M464.9 320.7h0M480 341.9h0M481.3 341.2h0M483.6 340.1h0M483.8 342.4h0M484.1 342h0M532.9 382.4h0M528.6 382h0M528 381.4h0M527.5 380.1h0M528.4 384.4h0M436 339.6h0M438.9 341.8h0M436.7 338.7h0M439.1 339.6h0M438.8 339.5h0M469.3 380.7h0M468.7 383.8h0M466.8 384.5h0M464.9 385.4h0M466 380.2h0M411.3 352.9h0M411.3 352.5h0M411.3 354.1h0M412.9 354h0M410 351.4h0M421.2 397.9h0M422.8 397.2h0M420.8 395.2h0M421.6 399.4h0M420.7 397.6h0M532.9 382.2h0M531.7 382.6h0M533.2 379.6h0M528.8 382.5h0M532.8 382.5h0M473.9 392.7h0M475.7 391.8h0M472.9 393.4h0M476.5 396.6h0M471.3 392.1h0M481.5 368.8h0M483.1 367.7h0M478.7 368.7h0M480.6 371.1h0M481.4 369.1h0M465 312.2h0M469.5 309.8h0M468 310.9h0M466.8 311.9h0M467.4 310h0M465.2 394.9h0M467.2 392.9h0M467.1 393.1h0M464.6 394.3h0M465.1 393.3h0M523.8 353.3h0M520.5 357.7h0M521.9 355.8h0M519.1 355.2h0M523.7 354h0M510.2 394.3h0M506.7 396.7h0M507.7 396.1h0M507.7 393.1h0M508.1 394.9h0M426.5 308.9h0M428.2 308.1h0M431.5 308.5h0M429 310.3h0M428.5 308.8h0M533 394.6h0M535.5 392.2h0M534 392.5h0M532.7 392h0M534.6 391.9h0M401 313.9h0M402.1 314.8h0M401 317h0M402.6 316.4h0M401.6 314.6h0M434.9 379.6h0M438 379.6h0M438 380.8h0M436 382.9h0M438.3 383.9h0M467.5 368h0M465 365.5h0M464 368.1h0M465.8 369.9h0M465.9 373.3h0M466.9 381.1h0M469.2 384.5h0M468.7 385.4h0M464.9 384.4h0M466.8 384.6h0M434.6 377h0M435.8 378.6h0M435.3 379.3h0M436.7 378.6h0M436.6 380.5h0M497.7 353.4h0M497.3 353.9h0M495.5 354.6h0M496.6 354.8h0M497.7 355.6h0M430 321.4h0M431 318.7h0M433.3 321h0M430.4 323.3h0M433.6 319.1h0M425.6 397.3h0M425.5 396.4h0M423 396.8h0M422 398h0M424.9 396.1h0M407.7 316.7h0M406.4 316.7h0M403.3 316.5h0M406.1 320.3h0M404.6 317.1h0M519.8 324.3h0M519.1 328.1h0M521.2 326.4h0M519.8 330.6h0M523.2 322.8h0M474.2 347.5h0M473.5 349.9h0M473.3 350h0M473 345.8h0M473.4 349.6h0M483.9 307h0M482.2 307h0M484.8 306.1h0M483 306.2h0M481.9 308.2h0M403.4 337.3h0M403.7 335.2h0M403.5 334.7h0M401.7 331.5h0M405.3 332.5h0M421.9 377.3h0M423.4 378.5h0M421.3 377.9h0M424.2 378.2h0M421.2 378.1h0M507 371.7h0M506.7 377.3h0M506.9 377.5h0M507.8 377.5h0M507.8 377.5h0M450.9 348h0M453.3 344.8h0M452.2 348.3h0M452.5 345.1h0M452.1 348.5h0M491 315.5h0M490.5 316.2h0M492.4 316h0M486.4 318.4h0M490.7 315.9h0M484 363.3h0M486.5 361.6h0M485.2 362.1h0M484.7 362.3h0M486 362.3h0M413.7 333.7h0M413.1 334.7h0M413.4 336.9h0M414.8 335.3h0M415.3 335.6h0M422.3 308.7h0M420.7 307.6h0M423.3 306.8h0M423 308.4h0M421.5 306.2h0M502.2 355.9h0M501.7 354.1h0M502.6 352.5h0M503.4 354.1h0M503.3 354.7h0M450.4 327.1h0M450 323.5h0M450 328.3h0M453.8 325.4h0M448.9 326.5h0M417.5 372.5h0M416.3 373.6h0M415.8 372.3h0M418.5 372.1h0M418.4 371.4h0M452.9 319.9h0M448.1 317.5h0M448 314.9h0M449.1 316.7h0M450 312.6h0M537.3 314.1h0M537.9 313.1h0M540.3 313h0M537.9 315.5h0M539 312.4h0M480.7 353.6h0M483.9 350h0M483.3 355.3h0M480.6 353.3h0M481.2 354.7h0M521.5 328.4h0M527.6 334.5h0M523.4 329.2h0M523.9 327.8h0M523 328h0M505.2 381.7h0M506.7 380.5h0M503.3 382.4h0M505.9 381.8h0M503.5 384.8h0M444 340.2h0M446 341.5h0M445.4 337.1h0M446.8 339.3h0M443.3 339.3h0M467.4 387.7h0M463.8 387.8h0M466.3 386.8h0M464.4 388.6h0M466 385.4h0M442.4 331.1h0M441.8 332.7h0M443.7 333.2h0M439.5 331.9h0M440.1 330.6h0M485.1 308.8h0M483.7 309.6h0M483.1 310.1h0M487.1 311.3h0M485.6 310h0M412.2 351.5h0M411.9 350.6h0M414.5 351.3h0M413.2 351.5h0M412.2 351.8h0M412.6 366.9h0M413.1 367.7h0M412.6 368h0M413.6 368.8h0M415.9 365.2h0M494.6 343.6h0M496.8 347.1h0M492.5 346.5h0M494.2 344.7h0M492.2 347.7h0M467.7 318.1h0M468.5 318.1h0M471 319.2h0M471.8 318.2h0M468.7 317.9h0M528.6 373.6h0M529.7 375.5h0M528.7 373.3h0M528.4 370.7h0M529.6 377.2h0M513.3 349.2h0M515.4 347.7h0M515.1 349.5h0M515.2 349.2h0M516 350.4h0M404.8 368.8h0M407.3 368h0M405.2 366.1h0M405 371.1h0M405.4 365.6h0M408.4 385.4h0M405.8 382.5h0M407 381.5h0M407.4 379.3h0M406.5 386.6h0M449 327.2h0M448.8 327.5h0M449.2 325.5h0M450.3 327.8h0M448.8 328.1h0M417.4 328h0M421.2 326.4h0M418.9 324.5h0M419.1 325.9h0M421.1 323.4h0M529 371.3h0M528.9 371.4h0M528.4 372.3h0M530.5 373.5h0M527.2 370.9h0M472.2 309.4h0M471.7 312.5h0M472.8 311.8h0M471.2 313.2h0M473.2 311.2h0M471.2 365.8h0M474.1 364.5h0M472.9 366.3h0M472.8 369.7h0M475.8 364.2h0M502 347.8h0M500.2 348.3h0M501.9 350.2h0M501.4 344.4h0M499.7 351.5h0M445.8 381.5h0M445.4 382.4h0M444 379.6h0M446.4 383h0M447.3 383.7h0M476.6 320.2h0M479.3 321h0M477.6 319.2h0M478.7 321h0M477.2 322.2h0M441.6 366.1h0M440.2 366.1h0M440 364.7h0M440.3 366.3h0M439.8 367.2h0M478.9 356.1h0M479.8 356.6h0M475.5 356.1h0M479.3 357.6h0M481.5 358.3h0M486.9 369.2h0M485.1 369.7h0M482.9 372.9h0M484.5 369.2h0M483.8 369.2h0M509 308.6h0M509.6 307h0M510.6 309.4h0M510.5 307.5h0M510.2 305.2h0M437.3 311.7h0M434.5 311.2h0M435.7 308.6h0M437.7 310.9h0M437.9 310.4h0M431.2 320.1h0M430.6 320.9h0M428.8 319.5h0M431.8 319.6h0M431.4 321.1h0M467.9 397.2h0M467.5 393.2h0M472.6 393.9h0M471.3 396.6h0M470.7 397.3h0M471 318.4h0M469.6 319.7h0M469.7 317.8h0M471.7 318.9h0M470.5 319.2h0M447.9 391.3h0M449.4 392.6h0M447.4 394.7h0M445.4 393.4h0M445.9 393.2h0M403.3 313.1h0M401.7 315.5h0M403.9 314.9h0M403.9 314.4h0M404.7 314.5h0M431.5 330.7h0M434.2 331.6h0M434.9 332.6h0M435.1 328.2h0M430.7 329.8h0M532.5 318h0M528.1 315.1h0M530.8 316.5h0M529.7 318h0M532.3 317.9h0M430.8 325.5h0M431 325.9h0M433.6 326.3h0M433.8 328.4h0M431.1 328.5h0M449.5 397.1h0M452.2 398.7h0M450.4 398.5h0M450.7 398.3h0M451 397.6h0M439.5 312.9h0M436.8 308.7h0M439.3 308.4h0M437.6 312.8h0M438.3 310.9h0M479.5 350.9h0M479.4 347.4h0M480.5 351.6h0M481 352.2h0M479.7 348.8h0M437.3 395.2h0M437.6 395.1h0M439.6 393h0M437.5 395.6h0M437.5 395.1h0M469.9 375.4h0M469.1 371.5h0M472 376.7h0M468.9 375.3h0M468.3 374.8h0M506.5 354.1h0M508.5 357h0M509.2 356.1h0M507.3 355.1h0M507.7 355.3h0M416 360.2h0M416.2 357.5h0M419.1 359.5h0M415.4 357.6h0M416.1 361h0M488.8 391h0M483.4 392.9h0M485.7 393.6h0M482.7 392h0M486.4 392.4h0M534.3 319.4h0M535.4 316h0M537.4 317.4h0M534.1 314.2h0M532.7 314.4h0M422.5 364.9h0M422.2 363.8h0M424.9 364.4h0M424.2 366.8h0M421.7 362.3h0M523.9 375h0M522.6 373.9h0M524 372.2h0M522.2 374.7h0M522.8 373.9h0M474.5 349.7h0M474.4 352.9h0M475.1 353h0M475.7 351h0M475.5 350.4h0M500.3 342.6h0M498.1 341.8h0M498.8 340.7h0M499.2 343.7h0M500 341.3h0M481.9 375.5h0M482.8 374h0M483.5 376h0M483.6 377h0M483.7 376.5h0M500.3 349.2h0M499.5 351h0M497.3 350.3h0M497.8 345.8h0M499.7 350.1h0M422.1 383.2h0M425.2 381.1h0M420.4 380.2h0M422.5 383.4h0M422.5 383h0M423 347.1h0M421.1 346.9h0M421.3 348.3h0M420.9 347.7h0M424.3 348.1h0M439.4 319.8h0M436.6 321.2h0M438.3 324h0M439.5 320.9h0M434.4 321.3h0M410 354.2h0M409.7 352.5h0M407.3 350.2h0M405.2 351.4h0M411.2 354.7h0M493 326.2h0M489.5 325.6h0M491.6 326.2h0M492.2 324.6h0M494.5 327.6h0M449.2 341.2h0M450.1 339.5h0M451.1 340.8h0M450.7 340.9h0M453.3 341.4h0M412.4 376.3h0M413.3 374.7h0M410.8 374.1h0M411.9 375h0M413.4 376.9h0M409.8 322.6h0M410.1 322.1h0M410.5 324.8h0M409.5 321.9h0M407.4 318.9h0M407.5 392h0M407.5 390.3h0M408.6 394.5h0M406.1 392.5h0M410.9 394.4h0M465.9 318.3h0M465.6 313.6h0M466.8 319h0M463.9 316.4h0M465.1 317.9h0M527 357.3h0M522.5 357.4h0M526.7 358.4h0M525.4 357.3h0M527.7 357.7h0M486.1 369.5h0M483.6 369.9h0M484 368.9h0M482.7 370.3h0M483.1 368h0M471 306.8h0M470.5 305.5h0M472.9 311.2h0M471.1 307.7h0M469 308h0M418.5 365.5h0M418.1 363.6h0M419 363.7h0M417.7 363.7h0M417.9 363.4h0M534.3 387h0M535.2 385h0M535.6 385.6h0M536 385.6h0M534.8 388.5h0M511.6 306.5h0M508.6 311.8h0M513.6 308.3h0M513.9 310.3h0M513.8 311h0M471 395.6h0M473.1 395.2h0M473.5 399.2h0M472.9 398.6h0M470.9 396.3h0M425.5 401.2h0M423.2 402.6h0M422.1 401.4h0M424 401.5h0M424.1 401.7h0M442.8 365.3h0M442.1 360.4h0M443.7 363.9h0M442.9 363h0M442.4 365h0M471.9 332.1h0M468.6 334.5h0M470.8 334.3h0M469.4 333.7h0M469.2 334.7h0M520.1 335.1h0M520.4 337.6h0M523.1 336.3h0M520.6 336.1h0M519.7 336.4h0M519.4 347.7h0M519.7 349.8h0M519.8 347h0M517.7 350.5h0M518.6 346.3h0M537.2 386.9h0M536.1 382h0M536.2 386.1h0M533.9 385.8h0M537.5 387.8h0M499.1 326.4h0M500.9 327.9h0M501.9 327.2h0M502 325.5h0M502.7 328.4h0M508.1 384.1h0M509.8 383.9h0M507.3 387.6h0M506 384.8h0M509.9 386.6h0M414.3 377.7h0M414.1 378.4h0M412.1 380.6h0M415.8 379.4h0M414.9 379.5h0M483.6 357.8h0M482 355.4h0M482.2 357.9h0M484.3 360h0M482.9 358.7h0M453.3 314.3h0M454.9 314.8h0M455.2 315.4h0M456.9 315.1h0M456.9 313.6h0M454.5 360.7h0M453.1 355.5h0M456.6 358.7h0M457.4 361.8h0M455.2 357.1h0M477.9 328.6h0M477.2 325.1h0M479 324.1h0M478.7 323.5h0M474 325.7h0M513.1 312.2h0M513.5 312.6h0M512.1 310.8h0M511.9 310.7h0M515.2 311.2h0M413.1 320h0M414.5 320h0M413.4 321.9h0M413 319.8h0M414.3 323.8h0M464.8 395.5h0M462.8 392.7h0M464.4 394h0M462.8 392.6h0M462.8 393.7h0M402.5 323.9h0M402.2 324.2h0M404.2 324.9h0M404 325.5h0M404.8 325.6h0M531 384.6h0M531.5 384.8h0M531.3 384.2h0M532.6 387.6h0M530.1 386.2h0M407.3 368.6h0M404.3 369.9h0M406.9 372.8h0M406.5 371.8h0M404.9 371.2h0M484.7 341.8h0M484.7 343.7h0M487 341.5h0M485.6 342.8h0M483.2 341.8h0M415.2 359.7h0M415.3 361.5h0M412.4 360.9h0M415.5 358.3h0M417.7 357.9h0M487.4 339.2h0M488 343.6h0M489.2 340.2h0M492.1 339.5h0M490.2 339h0M532.9 325.9h0M530.2 325.9h0M532.3 330.6h0M531.7 328.1h0M536.5 323.1h0M533.3 391.4h0M534.1 390.7h0M537.8 390.4h0M536.3 391.3h0M537.8 392h0M458.3 356h0M455.9 358.2h0M457.8 359h0M458.8 357.5h0M459.7 357.6h0M423.2 384.5h0M421.5 388.5h0M421.7 389h0M419.6 385h0M419.6 386h0M476.1 337.5h0M476.3 338.9h0M474.9 338.5h0M474.8 337h0M475.4 338.1h0M469.1 361.6h0M471.7 358.6h0M467 359.2h0M468.9 358.2h0M470.1 361h0M446.3 351.2h0M447.3 354.1h0M446.2 349.3h0M447.2 353.1h0M444.1 352.2h0M470.8 342.3h0M473.3 343.1h0M470 342.7h0M473.8 340.9h0M473.3 341.3h0M452.2 323.4h0M450.6 318.7h0M448.6 323.6h0M450.3 322.2h0M448.3 324h0M468 312.7h0M465.6 313.2h0M471 313.5h0M468.1 313.4h0M467 314.6h0M417.9 376.1h0M418.3 378.8h0M418.8 374.5h0M419.5 373.6h0M415.8 375.5h0M453.8 383.2h0M452 383.7h0M452.2 383h0M453.6 383.1h0M453 380.4h0M481.6 323.8h0M475 322.7h0M477.1 325.7h0M476.9 322.3h0M479.5 321.6h0M431.2 348.7h0M433 352h0M431 349.5h0M433.1 352.9h0M431.5 348.8h0M403.7 377.6h0M403.4 376.7h0M403.8 376.9h0M405.5 378.8h0M400.7 376h0M537.5 371.3h0M536.2 371.3h0M535.1 368.4h0M537.4 368.2h0M537.2 368.9h0M512.3 385.1h0M513 386.4h0M515.2 387.5h0M512.3 388.3h0M511 384.8h0M528.7 373.4h0M531 372.4h0M532.1 375.8h0M531.2 374.9h0M529.8 374.5h0M486.2 326.9h0M485.8 326.9h0M486.7 327.9h0M487.9 326.6h0M487.4 327.7h0M508.9 357.6h0M508.6 351.1h0M509 352.8h0M505.2 354.4h0M507.5 351.2h0M468.6 372h0M466.8 370.6h0M466.4 373.3h0M468 375.5h0M468 373.2h0M527.8 385.6h0M525.1 384.6h0M530 387.5h0M525.9 385.9h0M530 383h0M455.5 306.4h0M453.9 307.7h0M448.4 305.3h0M452.1 309h0M450.4 308.4h0M417.8 380h0M417.9 386.5h0M414.7 384.8h0M414.1 384.6h0M413.7 381.6h0M476 346.7h0M472.8 348.3h0M475.5 346.3h0M475.2 345.8h0M476.3 345.5h0M481.6 308.8h0M482.4 307.7h0M484 307.3h0M484.3 305.6h0M484.5 308h0M511.6 365.8h0M512 365.1h0M511.1 363.9h0M512.3 365.5h0M513 364.8h0M482.4 304.7h0M483.5 305.6h0M484.4 306.1h0M484.2 306h0M486 307h0M442.3 314.9h0M445.2 313.9h0M443.3 313.5h0M444.3 317.1h0M447.2 312.3h0M484.1 398.6h0M479.8 399.3h0M481 399.3h0M482.9 399.9h0M481.5 401.4h0M481.3 342.2h0M477.2 342h0M477 343.1h0M479.6 342h0M481.2 341.5h0M447.3 388.4h0M446.1 390.8h0M444.4 392.3h0M447.7 393.5h0M442.7 394h0M457 367.8h0M458.4 371.1h0M457.4 367.5h0M454.8 368.2h0M458.2 370h0M479.9 338.4h0M479.7 339.2h0M478.3 335.5h0M479.1 340.3h0M475.4 339.8h0M469.2 396.1h0M474.5 393.7h0M470.7 393.1h0M471.3 394.6h0M470.3 392h0M498.5 385.2h0M498.2 388.6h0M493 384.6h0M495.7 383.7h0M497.5 383.9h0M479.7 362.7h0M481.7 360.3h0M481.8 363.3h0M483.8 364.6h0M481.6 363.7h0M483.8 358.8h0M481.3 355.9h0M482.7 360.7h0M482 357.1h0M482.3 359.6h0M419.8 383.7h0M416.2 385h0M418.5 384.7h0M421.2 381.8h0M420.2 384.3h0M411.8 352.2h0M411.3 354.4h0M414.9 356.6h0M413.6 357h0M412.5 354.5h0M516.3 369.3h0M520 371.8h0M518.8 367.9h0M515.3 370.4h0M516.7 371h0M406.8 380.4h0M404.2 380.5h0M403.9 380.1h0M406 377h0M408.1 378.7h0M418.8 337.1h0M421.4 337.1h0M417.6 335.9h0M418.1 338.6h0M416.6 335.4h0M451.2 347.1h0M451.9 349.2h0M452.5 349h0M452.4 347.4h0M451.8 346.4h0M459.7 312.2h0M462.3 315.8h0M460.3 313.9h0M459.5 312.9h0M460.7 314.3h0M404.3 391.2h0M400.1 388.8h0M402.8 387.9h0M403.8 390h0M516.5 343.4h0M514.4 342.3h0M516.5 340.5h0M516.3 343.4h0M514.4 341.4h0M473.2 363.2h0M472.7 366.5h0M473.8 365.1h0M472.8 364h0M473.5 365.2h0M513.3 360.9h0M512.5 360.7h0M512.6 362.4h0M511.9 360.4h0M512.2 360.3h0M508.8 346.8h0M512 350.2h0M511.2 350.5h0M511.7 347.4h0M511.7 349.1h0M471.4 371.3h0M474.2 371.1h0M472.7 372.3h0M472.4 370.8h0M474.1 372.2h0M431.7 319.4h0M434 315.7h0M433.3 314.9h0M433.5 314.2h0M435 313.9h0M435.6 392.3h0M436.7 392.5h0M437.6 391.9h0M438.7 391.4h0M435.9 390.9h0M463.9 353.2h0M461.4 350.9h0M461.1 350.9h0M462.7 350.5h0M462.4 353.3h0M449 371.8h0M447.7 372.3h0M448.7 370.9h0M447.8 372.4h0M447.9 372.6h0M488.3 360.2h0M491.2 358.7h0M487.9 359.6h0M491.9 360.6h0M492.6 360.2h0M491.6 339.6h0M492.7 341.5h0M488.8 341.5h0M490.9 341.7h0M490.2 340.4h0M486.5 375.6h0M487.9 374.5h0M486.4 379h0M489.1 377.2h0M487.9 377.3h0M470.9 388.3h0M470.3 384.9h0M474 385.6h0M472.2 389.6h0M470.2 388.4h0M478.4 341h0M478.6 343.2h0M477.2 341h0M478.9 340.4h0M478.8 342.6h0M447.4 397h0M448.4 399.3h0M448.9 398.4h0M449.8 399.5h0M446.8 396.9h0M491.2 314.4h0M490.1 315.1h0M490.6 316.2h0M491.4 313.2h0M488 313.7h0M411.5 381.2h0M413.5 380.1h0M410.8 380.4h0M411.4 380.1h0M411.3 380.6h0M419 329.4h0M418.3 327.2h0M418.9 326.6h0M415.5 324.3h0M417.4 325.3h0M515.4 365.8h0M515.2 365.4h0M516.6 367.8h0M515.5 365.5h0M517.9 365.4h0M485.3 359.1h0M484.6 356.2h0M489.7 357.7h0M488.6 357.3h0M488.8 363.1h0M458.7 374.3h0M454.9 374.9h0M454.8 373.7h0M458.3 372.5h0M458 373.5h0M484.4 366.1h0M485.8 365h0M484.2 365.2h0M485.9 364.4h0M482.6 365.8h0M464.7 394.5h0M465.4 392.4h0M467.2 392.1h0M465.6 391.9h0M464.1 391.8h0M436.4 367h0M433.9 364.6h0M432.7 366.2h0M435 364.9h0M435.9 367.4h0M456.7 347.9h0M457.6 348.3h0M456.5 348h0M456.6 351.3h0M455.1 349.6h0M517.3 372.6h0M520.2 370.3h0M518.1 369.8h0M517.5 366.9h0M517.3 369.4h0M433.1 390.1h0M433.2 387.2h0M435.2 391.6h0M434.8 390h0M433.3 387.4h0M493.5 314.8h0M495.2 316.8h0M496.7 313.8h0M498.2 316h0M496.6 317h0M418.6 372.5h0M418.9 371.8h0M417.5 373.6h0M417 371.6h0M418.1 374.4h0M431 332.8h0M429.7 332.7h0M431.9 334.2h0M433.6 333.2h0M428.6 331.2h0M481.1 319.5h0M481.3 320.7h0M482.8 322.2h0M481.1 323.5h0M479.2 324.1h0M473.1 347.7h0M468.6 344.7h0M471.1 346.2h0M471 348.1h0M472.2 347.3h0M444.3 331.8h0M443.7 328.1h0M444.4 332.4h0M444.1 333.1h0M446.7 330.8h0M406.8 321.8h0M409.1 324.1h0M411.2 321.9h0M409.7 322.6h0M409.7 322.7h0M470.9 394.3h0M472.5 394.6h0M471.6 392.4h0M473.7 391.8h0M472.7 391.8h0M536.8 316.5h0M539 314.2h0M540.1 316.2h0M536.6 313.3h0M535.9 313.4h0M405.2 376.5h0M401.8 377.5h0M403.5 375.8h0M404.7 376.2h0M400.7 377h0M418.1 372.2h0M417.6 372.7h0M420.9 372.4h0M417.8 370.9h0M417.5 371.1h0M499 339.1h0M497.8 336.3h0M496.2 338.1h0M496.2 340h0M500.9 337.3h0M480.9 362.3h0M482.1 359.5h0M481.7 360.4h0M481.6 358.1h0M484.8 358.9h0M451.3 373.2h0M446.2 370.6h0M446.4 374.1h0M449.8 374.2h0M451.6 371.4h0M513.6 307h0M514.7 307.3h0M512.8 305.3h0M513.7 307.8h0M513.7 307.6h0M538.3 392.5h0M538 392.9h0M539.4 392.8h0M540.2 391h0M540.6 394h0M470.2 355.7h0M474.3 359.2h0M471.6 353h0M472.8 354.5h0M475.3 354.7h0M531 339.6h0M530.3 340h0M528.8 338h0M528.5 339.4h0M531.7 341.7h0M527.7 376.3h0M528.6 372.5h0M526.1 374.3h0M525.7 372.1h0M531.9 375.1h0M420.7 335.8h0M419.3 336.6h0M417.9 335.8h0M418.6 334.6h0M418.6 335h0M526.2 402h0M525.4 398.3h0M526.2 399.4h0M526.6 399.8h0M527.5 403.4h0M458.1 323.4h0M455.1 327.1h0M455.9 323.3h0M454.5 323.5h0M456 325.3h0M402.5 354.3h0M404 349.8h0M404.4 355.3h0M404.1 351.2h0M404.2 352.9h0M424.7 392.3h0M426 392.3h0M425.1 393.6h0M427.6 394.2h0M430.1 393.7h0M401.7 402.4h0M404 403.1h0M401.5 401h0M400.9 400.7h0M492.9 307.2h0M491.4 309.8h0M491.7 307.3h0M493 308.6h0M493 308.8h0M472.6 398.4h0M468.9 401.9h0M466.9 398.3h0M468.9 399.3h0M470.5 400.1h0M428.6 332h0M430.9 330.7h0M430.9 331h0M431.6 331.4h0M431.2 330.2h0M530.2 315.4h0M527.9 312.5h0M529.3 314.9h0M528.7 315.1h0M530.6 311.5h0M477.3 388.7h0M475.6 387.9h0M475.9 389.3h0M478 389.5h0M475.1 391.4h0M536.3 360.4h0M538.7 357h0M537.6 364.6h0M539.2 362.1h0M537.6 363.1h0M496.6 309.1h0M496.6 308.2h0M498.2 304.1h0M497.9 307.3h0M513.4 377.2h0M513.1 375.7h0M509.9 376h0M514 374.8h0M510.8 374.6h0M527.5 393.4h0M525.5 394.2h0M528 393.5h0M528.6 392.6h0M525.8 393.4h0M454 382.1h0M454.3 382.8h0M452.5 383.3h0M452.4 384.1h0M455.1 381.9h0M408.1 385h0M409.1 385.5h0M407.2 383.4h0M409.3 384.2h0M406.7 383.7h0M532.4 369.8h0M532.7 369.5h0M535.5 366.9h0M531.7 368.6h0M534.1 369.1h0M428.2 330.7h0M428.4 327.3h0M428.1 328.2h0M427 328.6h0M426.5 329.6h0M411.7 323.9h0M413.6 321.7h0M413.4 325.1h0M410.5 322.7h0M413.3 324.1h0M533.7 398.2h0M533.3 393.3h0M531.3 395.6h0M534.7 392.5h0M533.7 393.6h0M535.6 361.3h0M538.6 361.2h0M535.1 360.7h0M537.8 361.9h0M533.5 362.1h0M459.2 396.4h0M458.1 398h0M457.9 397.2h0M458.3 397.4h0M455.7 396h0M403.5 394.1h0M405 392.8h0M402.7 394.9h0M402.6 391.8h0M404.5 395.2h0M417.2 376.4h0M417.5 377.4h0M416.9 376.9h0M420.5 379.2h0M420.8 377.6h0M471.4 362.4h0M467.9 365.4h0M470.5 362.7h0M471.6 362.7h0M471 363.6h0M417.9 354h0M417.9 351.1h0M415 352.7h0M417.9 354.6h0M417.1 353h0M479.2 319.9h0M479.1 316.6h0M481.3 321.1h0M478.3 316.5h0M478.7 319.2h0M499.2 326.3h0M497.1 324.7h0M497.1 327.3h0M495.7 326.8h0M498.6 325.7h0M523.8 342.7h0M523.9 341.1h0M525.6 341.4h0M524.7 337.7h0M525.4 340.9h0M483 385.6h0M484 388.1h0M485.8 388.2h0M479.9 384.6h0M482.2 387.9h0M495.3 362.8h0M495.1 361.6h0M496.8 364.1h0M495.3 362h0M495.7 360.3h0M404.8 320.2h0M407.3 322h0M406.2 321.5h0M404.1 322.6h0M406.5 321.8h0M487 352.4h0M485.5 350.7h0M485.8 349.9h0M487.6 351.9h0M487.2 353.6h0M523 352.4h0M523.6 350.6h0M522.6 350.4h0M522.8 349.9h0M522.6 350.6h0" stroke="#3c2458" stroke-width="1.75" stroke-linecap="round" fill="none" opacity="1"/>
<path d="M461.1 324.8h0M457.8 324.4h0M462.8 321.6h0M460.4 323.2h0M488.5 313.5h0M487.1 312.8h0M488.5 313.1h0M489.6 311.7h0M488.2 320.4h0M489.9 320.4h0M489 318.6h0M487.7 318.4h0M488.5 378.6h0M488.4 381.1h0M490 381.3h0M490.3 377.3h0M498.9 393.4h0M497.8 394.1h0M498.1 393.5h0M498.8 392.8h0M409.8 382.4h0M410.3 382.5h0M414.5 382.8h0M410.4 381.7h0M408 329.7h0M410.3 328.5h0M410.4 329.4h0M406.3 328.7h0M466.9 351.5h0M465.4 350.5h0M466.1 353.6h0M467.8 351.5h0M517.6 330.2h0M520.1 331.4h0M516.8 329.3h0M519.6 330.2h0M529.4 398.9h0M530.4 395h0M529.5 396.9h0M530.1 396.8h0M441.1 343.1h0M440.8 341.5h0M439.6 341.6h0M440 342.1h0M485.9 366.3h0M486.6 369.5h0M484.6 370.8h0M484.3 369h0M469.5 314.4h0M469.5 313.5h0M469.5 314.4h0M467.4 314.3h0M517.2 311.6h0M518.4 308.3h0M517 306.7h0M517.4 308.6h0M442.1 323.2h0M441.4 323.7h0M442.1 322.7h0M442.4 322.9h0M511.4 368.2h0M518.6 369.3h0M513.9 367.5h0M515.2 369.1h0M499.6 314.2h0M500.3 312.2h0M500.1 311.6h0M498.3 312.3h0M449.4 325.8h0M450.8 325.5h0M450.4 325.7h0M452.8 327.9h0M496.8 308.9h0M498 310.8h0M497.8 308.8h0M499.8 311.1h0M438.4 322.3h0M437.5 321.9h0M438.8 323.2h0M436.9 323.4h0M461.9 350.5h0M459.8 351.1h0M460.8 351.8h0M462.5 349h0M534.3 331.9h0M535.3 330.4h0M536.3 332.1h0M534 333.2h0M415.7 375.3h0M413 376h0M411.1 377.3h0M414.3 377h0M475.9 364.2h0M478.8 363.4h0M475.3 363h0M476.4 363.9h0M460 380.9h0M459.7 380.1h0M462.5 380.8h0M463 379h0M407.6 317.6h0M409.3 318.7h0M403.9 318h0M408.5 317.6h0M437.5 380.7h0M440.8 378.7h0M439.8 379.7h0M439.8 378.6h0M469.6 382.7h0M470.6 383.1h0M471.4 382.1h0M471 380.9h0M403.7 314.6h0M405.1 314.1h0M403.3 311.4h0M403.1 313.1h0M498.1 337.8h0M499.6 338.5h0M496 338h0M499 339.1h0M476.3 319.1h0M478.5 320.1h0M478.2 321.4h0M481.1 319.3h0M409.6 376.7h0M408.8 376.8h0M409.2 376.6h0M408.9 375.1h0M508.4 374.5h0M509.1 373.7h0M504.6 375.8h0M506.7 376.9h0M420.6 319.2h0M424.1 319h0M423.1 317.2h0M422.8 319.2h0M470.5 381.6h0M467.8 382.7h0M470.4 382.5h0M468.5 384.9h0M525.6 322.4h0M525.2 323.6h0M525.7 325.3h0M527.1 322.8h0M440.9 361.5h0M442.5 363.1h0M442.8 363h0M441.3 362.9h0M482.5 367.5h0M479.2 365.7h0M479.7 365.2h0M479.3 367.2h0M408.5 393.8h0M405.8 392.7h0M405 394h0M404.9 392.4h0M529.5 379.8h0M529 378.9h0M530.5 378.7h0M529.1 377.5h0M464.9 333.4h0M464.7 334.3h0M463.8 333.1h0M464.6 332.6h0M498.4 377h0M497.5 375.8h0M498.3 376.2h0M499.1 375.2h0M410.2 352.7h0M408.9 351.7h0M409 353.6h0M410.4 352.7h0M497.7 313.4h0M499.4 313.9h0M497.7 312.4h0M499.4 315.7h0M505.5 332.4h0M507.3 335.2h0M504.8 335.5h0M504.2 335.3h0M538.1 314.1h0M538.1 313.1h0M538.9 311.7h0M538.1 312.1h0M416.6 325.1h0M415.5 326.3h0M417.5 323.6h0M418.4 325.8h0M431.9 378.2h0M429.7 380.3h0M430.8 380.4h0M431 379.6h0M485.6 341.2h0M484.3 341.3h0M484.1 340.9h0M485.5 341h0M476.9 364.5h0M480.8 364.7h0M479 365.5h0M478.4 363.1h0M434.4 336.7h0M432 335.9h0M433.1 338h0M432.9 335.6h0M415 395.9h0M414.9 394.8h0M412.6 396.5h0M414.5 396.2h0M428.5 380.2h0M429.3 383.5h0M430.1 381h0M428 380.5h0M486.9 371h0M487.3 371.3h0M486 372.4h0M488.3 370.2h0M413.4 361.4h0M411 360.5h0M413.6 360.6h0M412.2 360.9h0M483.7 383.4h0M485 385.8h0M485.9 384.1h0M482.5 385h0M456.2 354.2h0M457.5 352.5h0M458.1 352.7h0M460.1 352.8h0M524.8 351.2h0M524.5 354.8h0M525.1 356.6h0M527.8 353.7h0M532.7 389.5h0M533.3 389.1h0M533.9 389.8h0M531.7 389.6h0M513.6 363.1h0M515.1 363.9h0M514 363.7h0M511.1 364.5h0M473.6 312.1h0M472.8 313h0M471.6 312.8h0M473.4 313.5h0M504.2 354h0M503.7 353.8h0M501.8 355.7h0M502.7 355.6h0M432.7 380.7h0M434 382.2h0M435.7 381.1h0M431.8 380.2h0M415.4 376h0M413.6 377.4h0M413.2 376.4h0M412.8 377.3h0M424.1 394.8h0M425.5 398h0M420.4 396.6h0M422.6 394.8h0M439.5 395.8h0M439.4 394.5h0M441.1 393.8h0M439 397.1h0M527 372.7h0M527 373.7h0M527 372.6h0M528.5 373.8h0M469.3 364.2h0M467.8 363.7h0M468.3 365.9h0M469.3 363.7h0M434.4 341.3h0M435 344.6h0M435.9 344.8h0M435.6 345.2h0M436.9 380.5h0M436.6 381.1h0M437.9 377.4h0M437.9 380h0M520.3 337.2h0M522.1 337.6h0M520.1 338.6h0M518.6 334.9h0M492.6 398.7h0M495.2 399.7h0M495 399.5h0M492.8 401.3h0M462.4 353.1h0M461.6 355.3h0M461.2 353.6h0M462.3 354h0M474.7 309.3h0M477.1 308.2h0M475 308.8h0M477.2 311h0M420.9 391.6h0M421.5 391.3h0M421.9 393.4h0M418.3 391.6h0M525.2 375.1h0M525.1 376.4h0M524.7 377h0M525.3 376.1h0M457.4 383.2h0M455.8 383h0M455.5 382.5h0M456.1 380.8h0M484.3 356.4h0M485.4 356.7h0M484.8 357.1h0M482.2 357h0M515.1 361.2h0M515 361.3h0M512.3 362.1h0M513.6 361.5h0M485.3 313.7h0M486.7 313.2h0M485.9 314.3h0M486.3 313.6h0" stroke="#5a3a78" stroke-width="1.8" stroke-linecap="round" fill="none" opacity="1"/>
<path d="M427.6 353h0M427.7 353.7h0M429.9 353.9h0M428.9 353.4h0M431.3 356.2h0M428.4 351.7h0M429.6 354.8h0M427.8 354.2h0M429.2 352.8h0M427.3 308.2h0M423.5 310.1h0M425.3 310.2h0M425.8 313.5h0M426.8 310.8h0M429.1 310h0M425.9 310.3h0M426.8 310h0M424 314h0M530.5 336.5h0M525.5 337.9h0M527.7 333.5h0M531.9 335.3h0M529.3 336.3h0M530.7 335.8h0M531 338.3h0M534.5 334.6h0M530.4 337h0M476.5 321.7h0M476.6 319h0M472.1 322h0M475 319.3h0M476.5 322.2h0M475.3 320.9h0M476.5 321.9h0M475.3 322.2h0M474.4 321.4h0M447.4 350.9h0M450.3 351.8h0M450 349.1h0M449.1 352.3h0M451.6 350.5h0M447.7 348.4h0M449.2 352.6h0M448 354.6h0M448.4 351h0M521 399.1h0M518.2 402.6h0M524.1 402.7h0M520.4 401.1h0M520.8 400.7h0M519.6 403.3h0M522.5 402.6h0M522 401.7h0M520.7 401.3h0M452.5 341.6h0M450.1 340.4h0M452.3 344.3h0M456.9 340.2h0M453.5 342.7h0M456.8 341h0M456.1 342.5h0M455 342.9h0M451.8 340.2h0M431.6 363h0M430.6 367.5h0M429.8 361.1h0M429.7 363.7h0M430.8 361.9h0M430.4 361.1h0M426.5 363.8h0M429.8 363.1h0M432.8 361.6h0M519.5 403.8h0M518.9 400.3h0M517.9 400.3h0M519 399.2h0M519.9 402.1h0M518.4 399.6h0M521.4 402.5h0M532.7 347.6h0M531.2 347.9h0M534.1 348.7h0M534 345.9h0M528.4 347.2h0M532.4 345.9h0M529.8 348.3h0M533.2 345.6h0M529.2 348h0M472.6 309.1h0M472.9 311.2h0M474.7 312.3h0M473.2 313.4h0M470.2 310.5h0M475.4 311.4h0M473.4 308.3h0M470.8 311.4h0M473.2 309.6h0M437.9 338.4h0M440.8 337.2h0M437.5 338.8h0M441.3 339.6h0M440.6 340.2h0M440.8 338.4h0M442.1 339.5h0M440.7 335.8h0M440.9 338.1h0M442.4 382.6h0M437.7 385.1h0M440.9 386.3h0M438.8 385.3h0M438.3 386.3h0M438.8 383.9h0M439.6 386.6h0M441.1 386h0M437.9 383.3h0M530.6 337.2h0M532.8 335.6h0M531.9 335.5h0M530.4 335.5h0M531.2 335.8h0M530.7 335.6h0M532.4 338.6h0M531.4 336.4h0M532.8 337.5h0M479.2 355.4h0M483 355h0M476.5 356.6h0M478.5 355.7h0M479.9 356.7h0M480.3 355.4h0M478.9 355.5h0M481.4 361.1h0M479.2 355.2h0M513.1 340.8h0M512.9 341.5h0M515.6 339.3h0M511.3 340.4h0M513.9 342.8h0M512.6 337.8h0M513.9 342.6h0M516.6 341h0M513.6 341.6h0M508.4 366.4h0M504.7 367h0M506.9 365.8h0M506.2 367h0M506.7 367.6h0M507.1 367.2h0M506.2 368.6h0M504 365.9h0M507.4 365.5h0M433.5 389.4h0M431.8 394.4h0M434.8 389.9h0M434.8 390.1h0M434.3 393.7h0M434.5 394h0M432.5 389.4h0M431.7 396.8h0M433.1 391h0M452.8 368.3h0M451.4 367.9h0M452.5 366.7h0M453.2 367.7h0M450.9 369.5h0M452.1 368h0M451.9 366.4h0M455.7 367.7h0M452.7 368.6h0M420.1 344.3h0M420.9 342.2h0M420.6 338.9h0M420.8 341.3h0M423.5 342.5h0M424.6 347.1h0M422 341.8h0M423 343.3h0M422.5 343.2h0M524.1 365.8h0M523.8 364.4h0M525.7 364.3h0M524.8 365h0M525.8 365.6h0M528.9 365.6h0M524.5 365.1h0M524.5 363.9h0M522.5 365.1h0M502 311.5h0M502.8 313.6h0M498.3 313.6h0M501 312.1h0M501.7 312.5h0M502.2 309.5h0M502.9 313.4h0M502.1 310h0M500.6 310.8h0M451.7 310.5h0M451.4 311h0M451.7 310h0M451.9 308.4h0M449 312.3h0M454.1 312.8h0M451.5 311h0M449.8 310.1h0M450.6 312.5h0M441.6 376.7h0M442.1 378.2h0M441 380.1h0M440.5 378.5h0M443.6 377h0M441.8 377.8h0M441.1 378.2h0M442.4 380.6h0M438 376.9h0M521.1 374.3h0M521.9 375.8h0M520.9 377.9h0M520.8 376.6h0M520.1 378h0M520.7 377.9h0M519.8 377.1h0M524.1 374.2h0M521.3 374.4h0M518.1 340h0M517.1 338.6h0M516.2 336h0M516.6 338.5h0M515.3 335.6h0M515.9 336.8h0M514 339.3h0M516 334.9h0M514.7 335.4h0M499.4 357.9h0M503.4 360.7h0M497.8 360.6h0M497.4 359.3h0M499.1 359.2h0M499.7 358.1h0M500.9 356.9h0M499.7 357.7h0M499.7 360.6h0M535.6 348h0M537.2 351.1h0M536.7 349.4h0M532.9 349h0M537.3 349.4h0M537.9 349.7h0M537.1 350.1h0M538.6 351.3h0M540 348.4h0M421.9 357.4h0M421.5 358.1h0M419.6 358.7h0M419.1 356.7h0M418.1 359.4h0M419.8 355.6h0M422.7 358.4h0M417.7 357.9h0M417.6 359h0M454.9 341.2h0M454.8 344.3h0M455.2 342.4h0M454.7 341.4h0M456.3 339.4h0M453.7 342.2h0M454.8 339.1h0M453.2 339.1h0M452.6 341.3h0M461.5 377.9h0M462.9 374.3h0M460.9 375.7h0M463.9 374.6h0M460.9 377.6h0M463.9 376.5h0M466.8 376.4h0M461.8 375.4h0M463.1 376.9h0M409.9 373.1h0M409.8 370.3h0M409 370.9h0M407.3 373.1h0M407.2 370.4h0M412.9 368.7h0M407.7 367.4h0M409.4 369h0M410.4 369.2h0M493.3 369h0M491.2 369h0M492.4 369.5h0M490.9 367.7h0M492.3 369.9h0M492.1 370.7h0M495.1 366.8h0M492.9 368.9h0M490.6 369.7h0M453.5 386.9h0M447.9 392h0M451.4 388.8h0M450.7 388h0M453.5 389.6h0M449.9 387.2h0M451.1 387.4h0M451.8 390.8h0M451.4 386.9h0M454.1 342.3h0M452.2 340.8h0M448.3 341.4h0M452.4 347.6h0M451.2 342.3h0M451.4 339.4h0M450.2 343.5h0M452.9 342.4h0M454.6 341h0M483.8 403.5h0M482.1 399h0M483.9 400.2h0M484.8 402h0M486.4 401h0M487.8 399.7h0M488.7 402.3h0M486.1 399.8h0M483.1 401h0M410.6 340.6h0M411.3 342.3h0M408.5 342.2h0M413.1 344.3h0M410.1 343.2h0M410.2 344.3h0M410.9 344.3h0M410.4 340.8h0M409.8 344.7h0M533.2 374.7h0M531.3 377h0M533.6 375.1h0M532.4 375.6h0M531.5 377.5h0M530.2 375.6h0M532.2 375h0M532.2 377.7h0M529.2 375.6h0M524.5 368.7h0M522.4 367h0M523.2 370.8h0M524.5 369.2h0M523.1 369.2h0M523.7 367.9h0M523.4 367.9h0M523 365.9h0M521.9 365.8h0M441.2 368.7h0M441.5 366.4h0M439.8 365.7h0M441.4 368.4h0M439.2 367.8h0M439 366.9h0M439.7 366.3h0M440 366h0M439.4 364.2h0M467.2 311.1h0M464.8 312.1h0M466 313.6h0M468 313.1h0M464.5 312.2h0M465 311.1h0M463.9 314.4h0M466 311.9h0M466.1 311.8h0M444.8 385.6h0M446.6 384.1h0M444.4 384.3h0M445.5 386.3h0M446.4 385.8h0M446.3 383.9h0M443.3 387.5h0M445.4 385.2h0M444.4 385.2h0M536.4 357.6h0M537.3 354.1h0M533.4 355.1h0M534 355.5h0M536.2 355.4h0M534.2 357.9h0M535.9 355.3h0M537.4 356.3h0M535.3 355.4h0M524 334h0M523.9 335.1h0M521.2 334.8h0M519.4 334.9h0M519.8 334.9h0M520.7 333.4h0M523.9 334.6h0M523.1 337h0M524.1 336.9h0M508.1 325.9h0M511.5 328.2h0M511.5 330.8h0M509.1 329.2h0M510.5 325.4h0M509.5 328h0M512.8 326.6h0M508.8 328.8h0M510.2 330.2h0M492.9 320h0M494.2 320.1h0M494.1 317.8h0M497.3 318h0M496.4 320.3h0M493.8 318.4h0M495.6 317.7h0M498.9 321.4h0M491.7 317.4h0M524.1 388h0M525.1 385.7h0M527.8 386.5h0M523.5 387.8h0M524.5 387.3h0M522.4 389h0M523.7 386.6h0M528 387.5h0M523.3 387.7h0M514.4 320.3h0M512.6 317.2h0M512.6 320h0M513.6 319.4h0M514.3 323.5h0M512.8 321.8h0M514.3 322.5h0M513.9 320.6h0M515.9 322h0M503.3 343.3h0M506.2 345.2h0M501.4 340h0M502.5 343.7h0M504.5 344h0M504.3 343.1h0M504.2 344.9h0M502.8 341.6h0M503.9 342.3h0M512.5 364.2h0M511.5 365.3h0M510.7 364h0M511.5 364.3h0M513.5 364.2h0M513.4 362.3h0M508.8 364.4h0M511.8 362.2h0M512.7 363h0M540.1 344.2h0M539.1 342.2h0M538.2 340.1h0M537.8 342.9h0M538.6 340.4h0M540.1 340h0M538.1 343.4h0M537 339.2h0M537.3 346.3h0M452.5 367.7h0M449.1 368.7h0M451.9 371h0M451.4 369.5h0M449.4 369.6h0M450.3 368.3h0M450.7 369.9h0M448.4 370.5h0M451.2 367.8h0M464.3 341.3h0M467 343.7h0M467.6 345.4h0M466.4 341.9h0M463.4 343.1h0M469.2 342.6h0M466.6 343.3h0M466.8 346.8h0M464.7 342.9h0M496.4 381.9h0M500.1 383.4h0M501.1 381.5h0M498.2 384.7h0M497.4 383.3h0M497.3 382.4h0M497.3 381.8h0M498.4 383.8h0M497 382.4h0M516.8 394.3h0M518.3 392.5h0M516.8 389.4h0M516.6 393.5h0M515.7 392.6h0M516.3 391.1h0M518.4 391.6h0M514.6 390.3h0M520.9 392.9h0" stroke="#e3305a" stroke-width="2.1" stroke-linecap="round" fill="none" opacity="1"/>
<ellipse cx="424.6" cy="372.2" rx="5.8" ry="5.1" fill="#fdf7f9" transform="rotate(159 424.6 372.2)"/>
<ellipse cx="467.6" cy="326.7" rx="6.4" ry="5.3" fill="#fdf7f9" transform="rotate(152 467.6 326.7)"/>
<ellipse cx="512.7" cy="355.2" rx="5.3" ry="4.4" fill="#fdf7f9" transform="rotate(79 512.7 355.2)"/>
<ellipse cx="434.3" cy="306.3" rx="4.8" ry="3.6" fill="#fdf7f9" transform="rotate(171 434.3 306.3)"/>
<ellipse cx="503.2" cy="390" rx="5.7" ry="5.6" fill="#fdf7f9" transform="rotate(101 503.2 390)"/>
<ellipse cx="406.7" cy="337.6" rx="5.3" ry="5" fill="#fdf7f9" transform="rotate(179 406.7 337.6)"/>
<ellipse cx="514" cy="318" rx="6.9" ry="6.2" fill="#fdf7f9" transform="rotate(25 514 318)"/>
<ellipse cx="464.1" cy="359" rx="4.7" ry="4.4" fill="#fdf7f9" transform="rotate(135 464.1 359)"/>
<ellipse cx="430.6" cy="399" rx="6.8" ry="5.8" fill="#fdf7f9" transform="rotate(180 430.6 399)"/>
<ellipse cx="523.6" cy="345.3" rx="4.8" ry="3.8" fill="#fdf7f9" transform="rotate(121 523.6 345.3)"/>
<ellipse cx="463.8" cy="343" rx="7.2" ry="6.9" fill="#fdf7f9" transform="rotate(164 463.8 343)"/>
<ellipse cx="455" cy="308.6" rx="3.8" ry="3.1" fill="#fdf7f9" transform="rotate(83 455 308.6)"/>
<ellipse cx="425.3" cy="339.4" rx="6.9" ry="6.5" fill="#fdf7f9" transform="rotate(118 425.3 339.4)"/>
<ellipse cx="449.5" cy="363.3" rx="4.6" ry="4.1" fill="#fdf7f9" transform="rotate(137 449.5 363.3)"/>
<ellipse cx="416.1" cy="312.3" rx="6.5" ry="5.3" fill="#fdf7f9" transform="rotate(131 416.1 312.3)"/>
<ellipse cx="508.5" cy="342" rx="6" ry="5.6" fill="#fdf7f9" transform="rotate(94 508.5 342)"/>
<ellipse cx="441.7" cy="346.3" rx="4" ry="3.7" fill="#fdf7f9" transform="rotate(81 441.7 346.3)"/>
<ellipse cx="536.7" cy="377.6" rx="5.2" ry="5.2" fill="#fdf7f9" transform="rotate(117 536.7 377.6)"/>
<ellipse cx="501.8" cy="308.7" rx="4.2" ry="4.1" fill="#fdf7f9" transform="rotate(142 501.8 308.7)"/>
<ellipse cx="516.8" cy="382.3" rx="6.7" ry="6.5" fill="#fdf7f9" transform="rotate(105 516.8 382.3)"/>
<ellipse cx="532.7" cy="308.3" rx="5.7" ry="5.2" fill="#fdf7f9" transform="rotate(58 532.7 308.3)"/>
<ellipse cx="490.2" cy="387.8" rx="5.6" ry="4.4" fill="#fdf7f9" transform="rotate(9 490.2 387.8)"/>
<ellipse cx="526.1" cy="318.8" rx="3.8" ry="3.7" fill="#fdf7f9" transform="rotate(67 526.1 318.8)"/>
<ellipse cx="424.8" cy="323.7" rx="4.8" ry="3.7" fill="#fdf7f9" transform="rotate(101 424.8 323.7)"/>
<ellipse cx="499.3" cy="358.8" rx="3.6" ry="3" fill="#fdf7f9" transform="rotate(57 499.3 358.8)"/>
<ellipse cx="436.6" cy="372.9" rx="4.6" ry="4" fill="#fdf7f9" transform="rotate(161 436.6 372.9)"/>
<ellipse cx="525.4" cy="334.3" rx="5.3" ry="5" fill="#fdf7f9" transform="rotate(180 525.4 334.3)"/>
<ellipse cx="445.6" cy="401.3" rx="3.8" ry="3.6" fill="#fdf7f9" transform="rotate(62 445.6 401.3)"/>
<ellipse cx="490.3" cy="348.5" rx="5.4" ry="4.5" fill="#fdf7f9" transform="rotate(141 490.3 348.5)"/>
<ellipse cx="505.9" cy="370.1" rx="6.7" ry="6.6" fill="#fdf7f9" transform="rotate(97 505.9 370.1)"/>
<ellipse cx="515" cy="398.5" rx="7.2" ry="7" fill="#fdf7f9" transform="rotate(148 515 398.5)"/>
<ellipse cx="455.6" cy="320" rx="5.5" ry="5.4" fill="#fdf7f9" transform="rotate(7 455.6 320)"/>
<ellipse cx="436.8" cy="387.2" rx="4" ry="3.1" fill="#fdf7f9" transform="rotate(142 436.8 387.2)"/>
<ellipse cx="498" cy="329.1" rx="3.4" ry="3.1" fill="#fdf7f9" transform="rotate(70 498 329.1)"/>
<ellipse cx="476.6" cy="315.1" rx="4.6" ry="4.3" fill="#fdf7f9" transform="rotate(27 476.6 315.1)"/>
<ellipse cx="528.7" cy="390.8" rx="3.5" ry="2.7" fill="#fdf7f9" transform="rotate(7 528.7 390.8)"/>
<ellipse cx="450.4" cy="334.6" rx="5.8" ry="5.7" fill="#fdf7f9" transform="rotate(170 450.4 334.6)"/>
<ellipse cx="491.5" cy="321.2" rx="3.8" ry="3.4" fill="#fdf7f9" transform="rotate(111 491.5 321.2)"/>
<ellipse cx="478" cy="380.5" rx="6.2" ry="4.8" fill="#fdf7f9" transform="rotate(138 478 380.5)"/>
<ellipse cx="426.4" cy="357.8" rx="6.5" ry="5.8" fill="#fdf7f9" transform="rotate(140 426.4 357.8)"/>
<ellipse cx="502.1" cy="401.4" rx="4.8" ry="4.6" fill="#fdf7f9" transform="rotate(143 502.1 401.4)"/>
<ellipse cx="442.5" cy="326.9" rx="4.2" ry="4" fill="#fdf7f9" transform="rotate(152 442.5 326.9)"/>
<ellipse cx="522.6" cy="368.9" rx="3.5" ry="2.8" fill="#fdf7f9" transform="rotate(112 522.6 368.9)"/>
<ellipse cx="493" cy="369" rx="4.9" ry="4.1" fill="#fdf7f9" transform="rotate(69 493 369)"/>
<ellipse cx="453.3" cy="389.1" rx="5" ry="4.4" fill="#fdf7f9" transform="rotate(121 453.3 389.1)"/>
<ellipse cx="538.6" cy="337.5" rx="4.8" ry="4.8" fill="#fdf7f9" transform="rotate(121 538.6 337.5)"/>
<ellipse cx="535.8" cy="322.1" rx="4.9" ry="4.2" fill="#fdf7f9" transform="rotate(57 535.8 322.1)"/>
<ellipse cx="536" cy="353.9" rx="6.1" ry="4.9" fill="#fdf7f9" transform="rotate(27 536 353.9)"/>
<ellipse cx="481.8" cy="331.9" rx="7.2" ry="5.4" fill="#fdf7f9" transform="rotate(173 481.8 331.9)"/>
<ellipse cx="405.4" cy="357.8" rx="3.9" ry="3.7" fill="#fdf7f9" transform="rotate(125 405.4 357.8)"/>
<ellipse cx="461.8" cy="372.7" rx="5.2" ry="4.2" fill="#fdf7f9" transform="rotate(46 461.8 372.7)"/>
<ellipse cx="477.5" cy="401.5" rx="5.2" ry="4" fill="#fdf7f9" transform="rotate(34 477.5 401.5)"/>
<ellipse cx="439.9" cy="358.8" rx="4.1" ry="3.8" fill="#fdf7f9" transform="rotate(4 439.9 358.8)"/>
<ellipse cx="443.3" cy="317.4" rx="4.2" ry="3.6" fill="#fdf7f9" transform="rotate(93 443.3 317.4)"/>
<ellipse cx="402.1" cy="308.6" rx="6.3" ry="5.5" fill="#fdf7f9" transform="rotate(91 402.1 308.6)"/>
<ellipse cx="414.4" cy="329.9" rx="4.7" ry="3.9" fill="#fdf7f9" transform="rotate(177 414.4 329.9)"/>
<rect x="403.8" y="395.7" width="17" height="2.3" fill="#3a12f0"/>
<text x="404.5" y="393.4" font-size="6.2" fill="#000">50 μm</text>
</g>
<rect x="402.3" y="306.8" width="135.3" height="95.1" fill="none" stroke="#000" stroke-width="1.05"/>
<text x="9.2" y="434" font-size="13.6" font-weight="bold">l</text>
<text x="97.3" y="439" font-size="10" text-anchor="middle"><tspan font-style="italic">Nell2</tspan><tspan font-size="7.1" dy="-4.1" dx="0.7">fx/fx</tspan></text>
<text x="257.5" y="439" font-size="10" text-anchor="middle">Col1-cre;<tspan font-style="italic">Nell2</tspan><tspan font-size="7.1" dy="-4.1" dx="0.7">fx/fx</tspan></text>
<g clip-path="url(#cp8)"><rect x="16" y="444.2" width="149.5" height="104.9" fill="#f6f2ea"/>
<g filter="url(#soft)">
<path d="M42.7 479.7h0M132.8 474.7h0M164.6 450.4h0M25.2 478.6h0M27.5 543.9h0M69.6 484.9h0M143.8 500.1h0M57.5 499.3h0M87.5 459h0M37.9 497.4h0M135.4 489.5h0M24.8 542.3h0M36.6 537h0M22.8 512.4h0M37.8 471.5h0M44.5 458.1h0M123.8 448.3h0M154.6 475.7h0M80.7 477.5h0M80.1 453.2h0M32.8 459.6h0M43.5 463.4h0M151.8 468.7h0M52.7 463.4h0M37.6 515.8h0M137.1 515.1h0M29.7 482.4h0M157.4 483.4h0M131.7 534.9h0M71.8 483.2h0" stroke="#e9dcc6" stroke-width="5" stroke-linecap="round" fill="none" opacity="1"/>
<path d="M47.4 457.7h0M159 545.2h0M146.7 543.3h0M141.3 446.8h0M35.4 546.6h0M146.6 508.8h0M79.5 459.5h0M34.2 535.5h0M59.9 504.7h0M47.2 512.1h0M28 495.3h0M46.4 463.6h0M50.7 510.7h0M20.8 452.8h0M32.8 493.8h0M156.6 485.2h0M91.6 448.7h0M148 505h0M67.9 474h0M44 542.1h0M141.7 483.9h0M45.9 447.7h0M125.9 461.3h0M100.5 446h0M19.3 461.4h0M164.2 513.4h0M94.1 445.6h0M159.2 495.5h0M144.3 448.6h0M140.9 494.1h0M48.4 486.8h0M27.2 505.1h0M48.7 517.8h0M42 516.6h0M158.1 475.2h0M149.7 530.8h0M160.8 543.8h0M135.9 491.9h0M146.6 447.5h0M18 492.9h0M30.5 532.5h0M29.2 536.7h0M49.6 458.3h0M68.8 454.4h0M29.8 500.8h0M147.6 535.1h0M43.4 522.8h0M136.7 494.5h0M144.3 463.8h0M66.2 498.1h0M74.6 488.2h0M49.4 494.9h0M17.8 545.1h0M59.1 501.5h0M159.4 465.9h0M25.6 465.7h0M38.9 533.5h0M93.3 448.6h0M56.6 497.8h0M42.1 476.3h0M151.2 490.8h0M50.9 506.9h0M32.9 498.7h0M152 507.9h0M43.4 463.7h0M25.4 487.9h0M58.3 493.2h0M146.4 502.9h0M57.5 509.1h0M72.1 493.9h0M41.2 532.1h0M40.1 477h0M143 547.5h0M21.6 544.4h0M46 447.9h0M129.9 461.1h0M128.4 444.9h0M34.5 481.7h0M28.6 493.6h0M142.1 462.2h0M153.1 538.1h0M41.4 477.9h0M48.9 464.8h0M139.7 453.4h0M142.7 497.5h0M37 475.7h0M128.4 445.9h0M128 451.9h0M46.8 468.5h0M149.8 482.3h0M147.6 521.3h0M56.2 502.3h0M17.3 542.1h0M152 509.5h0M26.9 530.1h0M148.2 476.1h0M147.8 451.6h0M141.1 470.2h0M135.9 516.2h0M136.1 548.5h0M159.3 504.3h0M75.8 496.5h0M142.5 517.4h0M17.1 490.7h0M161 465.8h0M85.9 452.3h0M54.1 530.6h0M20.9 528h0M135.3 535.3h0M71.6 491.4h0M158.1 501.3h0M16.7 472h0M31.8 530.6h0M94.8 452.2h0M140.5 526.8h0M66.8 457.6h0M52 494h0M18.2 448.9h0M83.3 458.2h0M148.9 457.7h0M63.2 501.1h0M164.3 508.9h0M62.3 488.4h0M63.2 512.6h0M147.9 516.5h0M43.2 548.1h0M143 455.5h0M25.4 494.4h0M56.2 508h0M75.3 492h0M149.1 473.8h0M57.1 463.5h0M32.8 533.3h0M153.5 457.4h0M145.2 546.8h0M164.4 476.1h0M25.9 470.4h0M91.1 445.8h0M53.9 493.8h0M34.4 478.8h0M29.6 457h0M31.4 528.1h0M147.4 448.7h0M136.3 532.7h0M138.6 452.7h0M23 544.3h0M49.1 540.2h0M128.7 449.1h0M30.1 512h0M37.8 514.1h0M87.2 466.4h0M146.3 510.4h0M25.1 537.2h0M57.5 498.4h0M47.9 444.7h0M147.7 498.3h0M133.2 515.5h0M33.9 471.4h0M62.9 481.4h0M165.2 521.2h0M154.2 460.9h0M136.2 477.8h0M37.6 528.8h0M78.1 480.9h0M149.7 540.3h0M130.6 462.6h0M71.2 444.9h0M46 479.9h0M42.5 494.2h0M35.7 512.7h0M77.5 470.1h0M19.6 532.1h0M128.7 536.3h0M59.9 471.9h0M160.5 512.7h0M58.4 488.6h0M162.6 459.4h0M161.2 522.6h0M137.5 522.8h0M42.9 469.5h0M21.9 502h0M28.1 464h0M42 540.7h0M134 474.2h0M161.1 460.9h0" stroke="#6664ae" stroke-width="3.0" stroke-linecap="round" fill="none" opacity="1"/>
<path d="M37 484.2h0M136.4 454.5h0M135.4 479.5h0M22.3 454.6h0M130.2 465.1h0M57.8 466.4h0M143.2 518h0M39.2 520.3h0M21.8 493.1h0M54.4 524.4h0M45.5 448.7h0M17.4 532.2h0M150.2 482.1h0M154.4 512.3h0M89.2 447.6h0M66.1 485.5h0M49.1 476.9h0M127.7 537.1h0M34.8 498.3h0M73.9 461.8h0M159.6 508.1h0M32.9 504h0M36 548.7h0M44.4 453.8h0M29.3 525.5h0M18 509.8h0M95.9 452h0M145.7 452.3h0M33.5 537.8h0M156.4 480.1h0M47.2 459.5h0M48.8 488.1h0M16 488.1h0M19.4 458.1h0M136.9 456.2h0M60.8 499.4h0M94.5 447.4h0M32.5 515.2h0M76.5 453.9h0M165.4 449.2h0" stroke="#9896c8" stroke-width="3.6" stroke-linecap="round" fill="none" opacity="0.7"/>
<path d="M23.9 448.4h0M40.3 497.8h0M50.2 450.5h0M39.7 464.2h0M59 483.7h0M42.6 458.5h0M35.2 473.6h0M32.7 475.7h0M20 467.7h0M59.4 466.5h0M38.3 486.2h0M51.7 485.3h0M32.8 483.9h0M24.8 478.6h0M16.7 454.9h0M23.7 463.8h0M48.5 445.4h0M54.6 449.3h0M57.8 497.2h0M43 491.1h0M57.4 469.2h0M53.7 446.1h0M50.4 480.4h0M50.2 452.5h0M19.7 473.4h0M42.7 482.6h0M23.9 475.9h0M58.6 458.3h0M52.1 497.8h0M45.6 468.8h0M34.4 470.3h0M21.5 448.4h0M28.3 453.9h0M55.6 464.4h0M54.5 475.6h0M55.5 494.2h0M47.3 469.2h0M26.7 475.7h0M29.7 490.4h0M17.9 479.7h0M30.9 467.6h0M39.9 499h0M59.7 464.1h0M58.1 497.5h0M39.1 475.6h0M24.7 488.2h0M37.4 486.7h0M56.6 479h0M46.6 474.8h0M21.8 469.8h0M18.7 454.3h0M59.1 465.4h0M21.9 468.5h0M18.6 478.1h0M26 456.3h0M44 495.8h0M16.6 484.1h0M41.6 471.4h0M34.5 444.8h0M31.5 473.4h0" stroke="#6664ae" stroke-width="3.0" stroke-linecap="round" fill="none" opacity="1"/>
<path d="M101.7 447.6L115.2 449.9L127.5 463.4L133.2 479.1L134.7 498.2L132.7 516.2L127.5 531.9L121.9 552.2L47.7 552.2L51.1 538.7L57.8 525.2L66.8 511.7L75.8 498.2L82.6 484.7L88.2 471.2L92.7 457.7L97.2 449.9Z" fill="#f8f4ea" />
<path d="M102.8 451.4L110.7 454.4L118.5 464.5L123 478L125.3 493.7L124.2 509.4L119.7 525.2L114 538.7L110.7 552.2L55.6 552.2L59 538.7L64.6 527.4L72.5 513.9L81.4 500.5L88.2 487L92.7 473.5L96.1 462.2L99.4 454.4Z" fill="url(#bone1)" />
<path d="M96.1 462.7L88.6 487L81.4 500.9L72.9 514.4L65.3 527.9L59.9 538.7L56.7 551.7" fill="none" stroke="#bd7f45" stroke-width="1.6" stroke-linejoin="round" stroke-linecap="round" opacity="0.8"/>
<path d="M119.2 464.5L124.2 479.1L126.2 493.7L125.1 509.4L120.8 525.2" fill="none" stroke="#c48a50" stroke-width="1.2" stroke-linejoin="round" stroke-linecap="round" opacity="0.8"/>
<path d="M88.2 509.4L81.4 513.5L78.1 519.6L79.2 525.2L76.5 529.7" fill="none" stroke="#8a4a20" stroke-width="1.1" stroke-linejoin="round" stroke-linecap="round" />
<path d="M86.4 511.7L81.4 515.3" fill="none" stroke="#fbf3e6" stroke-width="0.9" stroke-linejoin="round" stroke-linecap="round" />
<path d="M87 531h0M94.5 503.8h0M111.9 473.7h0M94.5 500.2h0M90.3 503.5h0M75.4 523.7h0M95.9 477.7h0" stroke="#7a78b8" stroke-width="2.6" stroke-linecap="round" fill="none" opacity="0.85"/>
<path d="M83.7 463.4L76.9 475.7L70.2 487L62.3 498.2L55.6 509.4L50 525.2" fill="none" stroke="#8a86b6" stroke-width="1.4" stroke-linejoin="round" stroke-linecap="round" stroke-dasharray="3 3" opacity="0.8"/>
<path d="M119.7 454.4L126.9 466.7L129.6 482.5L130.2 498.2L127.1 516.2L121.5 534.2" fill="none" stroke="#a8864a" stroke-width="1.2" stroke-linejoin="round" stroke-linecap="round" stroke-dasharray="4 2" opacity="0.8"/>
</g>
<path d="M57.4 466.4L67.1 468.8L66.3 472.1L75.8 469L68.9 461.8L68.1 465L58.3 462.6Z" fill="#f80000" />
<path d="M37.9 496.3L47.5 498.3L46.9 501.6L56.3 498.2L49.1 491.3L48.4 494.5L38.7 492.5Z" fill="#f80000" />
<path d="M133.7 445.8L123.8 448.8L122.8 445.6L116.3 453.2L126 455.8L125 452.6L134.9 449.5Z" fill="#f80000" />
<path d="M145 473.8L135.8 476.5L134.9 473.2L128.2 480.7L137.8 483.4L136.9 480.2L146.1 477.6Z" fill="#f80000" />
<path d="M144.8 494L135.7 495.2L135.3 491.9L127.5 498.2L136.6 502.4L136.2 499.1L145.3 497.9Z" fill="#f80000" />
<rect x="17.9" y="540.1" width="36.9" height="2.4" fill="#3a12f0"/>
<text x="26.5" y="537.6" font-size="7.2" fill="#000">50 μm</text>
</g>
<rect x="16" y="444.2" width="149.5" height="104.9" fill="none" stroke="#000" stroke-width="1.4"/>
<g clip-path="url(#cp9)"><rect x="169.6" y="444.2" width="149.6" height="104.9" fill="#f5f1e8"/>
<g filter="url(#soft)">
<path d="M300.8 448.7h0M198.4 494.3h0M318.8 458.7h0M209.5 527.2h0M219.9 541.7h0M172.4 469.2h0M215.9 533.2h0M184.9 514.9h0M302.3 546.4h0M290.2 449.5h0M187.8 469.7h0M279.6 504.5h0M189.1 474.2h0M179.5 541.4h0M282.4 493.7h0M313.4 546.8h0M200.5 470.9h0M198.2 510.1h0M285.4 499.8h0M216.7 514.3h0M311.6 449.4h0M242.3 458.8h0M281.4 489.5h0M295.1 514.4h0M313.1 505h0" stroke="#eadfc9" stroke-width="5" stroke-linecap="round" fill="none" opacity="1"/>
<path d="M289.7 479.6h0M185.1 540.9h0M179.1 541.1h0M309.2 513.6h0M311.6 507.9h0M281.2 506.7h0M202.9 452.5h0M280.8 491.6h0M188.3 502.8h0M209.2 471.7h0M300.7 509.1h0M281.5 529.9h0M234.9 491.5h0M234.2 481.7h0M286.1 537h0M214.2 518.8h0M201.8 445h0M272.1 525.6h0M218.9 548.6h0M277.2 477.9h0M283.3 532.7h0M190.6 539.8h0M234.6 473h0M226.1 499.6h0M178.6 510.4h0M277 517.1h0M172.2 457.8h0M172.3 502.4h0M248.2 444.6h0M175 545.2h0M302.1 451.5h0M271.6 540.2h0M187 530.5h0M217.4 540.8h0M288 545.6h0M282.6 485.2h0M178.3 500.8h0M220.8 507.8h0M279.7 484.2h0M271.6 539h0M224.9 499.4h0M210 474.2h0M228.3 512.6h0M192.7 546.8h0M231.3 447.1h0M227.3 504.2h0M183.1 547h0M173.9 470.1h0M220.1 512.3h0M195.6 495.1h0M210.1 503.4h0M281.8 509.5h0M182.1 513.1h0M309.8 481.1h0M296.8 468.3h0M266.9 444.8h0M293 491h0M225.3 468.3h0M273.2 510h0M177.7 472.6h0M309 473.9h0M213.5 504.8h0M316.6 457.7h0M203.2 462.1h0M236.1 474h0M270.5 537.1h0M180.3 446.9h0M186.4 476.7h0M189.6 489.5h0M224 520.5h0M314.3 546.7h0M232.5 511.7h0M189.4 508.2h0M301.8 537h0M190.6 461.6h0M304.5 517.4h0M283.7 451.3h0M262.1 446.6h0M279.8 527.6h0M217.8 444.5h0M279.2 548.9h0M218.8 529.4h0M314.5 482.5h0M202.7 548.7h0M233.6 490.6h0M216.1 520.2h0M316.6 493.4h0M297.5 486.2h0M314.8 523.4h0M275 531h0M307.1 544.2h0M170.6 499.5h0M222.8 444.2h0M318.2 476.5h0M309 445.9h0M223.4 526.4h0M242.6 453.8h0M294 524h0M289.9 496.1h0M279.7 521.4h0M219.7 525.6h0M225.8 514.9h0M310.3 525.8h0M226.6 481.1h0M174.7 501.4h0M308.5 450.9h0M302.9 504.2h0M318.8 520h0M277.1 523.2h0M232.6 456.6h0M297.5 536.2h0M277.5 467h0M224.1 495.5h0M305.5 462.8h0M285 484.2h0M280.3 475.7h0M286.6 496h0M211.5 444.7h0M303.6 499.3h0M302.8 484.7h0M317.3 485.2h0M278.3 531.5h0M223.9 488.2h0M224.4 480.1h0M178.7 548h0M287.9 502.9h0M284 535.9h0M226.7 496.6h0M202.3 470.5h0M297.1 511.6h0M197.3 444.6h0M223 504.5h0M197.2 501h0M218.2 471.7h0M280.3 482h0M280.7 522.8h0M225.8 447.5h0M295.7 502.1h0M170.9 545.8h0M305.3 538.1h0M258.8 445.2h0M189.3 532.8h0M216.1 470.6h0M175.2 455.4h0M209.7 499.7h0M310.2 462.2h0M212.8 483.3h0M269.8 460h0M176.2 505h0M277.9 458.2h0M176.8 514.4h0M179.4 541.3h0M272.9 461h0M230.9 450h0M182.7 481.1h0M300.9 539.6h0M282.3 511.1h0M214.6 486.8h0M271.2 545.3h0M221.2 489.6h0M229.7 466.2h0M222.7 527h0M197.7 494.3h0M212.1 504.9h0M285.3 456.3h0M202.7 468.4h0M214.9 478.6h0M303.1 535.9h0M288 485.5h0M238 465.3h0M183.3 485.6h0M198.8 532.8h0M214.7 495.3h0M177.4 516.6h0M277.5 522.3h0M208.9 470.5h0M259 449.4h0M309.8 519.8h0M181.2 502.4h0M285.3 456.5h0M184.4 516.1h0M300.1 477.9h0M275.1 530.1h0M207.4 497.2h0M172 529.4h0M236.6 460.9h0M297.5 502.6h0M280.4 521.8h0M178 479.2h0M194.1 510.9h0M202.4 447.2h0M190 462.5h0M239.1 445.5h0M183.3 450.1h0M192.2 486.2h0M194.5 492.8h0M194.1 521.3h0M300.6 478.2h0M180.3 545.4h0M182.2 512.4h0M282.8 494.9h0M302.9 459.7h0M277.4 539.4h0M303.8 533.3h0M234.9 497.9h0M296.6 484h0M207.8 447.5h0M200.1 458.9h0M308.6 476.6h0M185.4 482.5h0M213.1 543.7h0M210 449.2h0M304.1 452.1h0M287.5 506.7h0M212.1 531.7h0M308.8 483.7h0M273 520.6h0M267.6 446.6h0M272.5 524.1h0M198.6 454.2h0M179.7 501.3h0M185.5 533.1h0M279.4 489.1h0M196.9 488.9h0M303 478.2h0M173.1 513.9h0M272.4 512.1h0M289.8 529.4h0M188.3 543.4h0M269.3 454.1h0M194.8 511.5h0M215.4 542.5h0M211.3 495.2h0M215.1 537.8h0M277.8 503.9h0M311.1 536.9h0M281.7 501.4h0M176.2 467.3h0M266.9 456.5h0M295.4 522.6h0M317 541.3h0M260.5 452.5h0M304.5 449h0M187.1 513.3h0M199 523.2h0M272.3 461.5h0M305.5 548.9h0M267.9 547.2h0M289.5 493.8h0M292.9 542.6h0M273.7 453h0M225.3 518h0M224.3 461.7h0M237.9 459h0M240.6 454.6h0M278.3 466.5h0M309.6 455.4h0M199.4 510h0M197.3 494.2h0M294.7 509h0M206.1 479.2h0M301.1 449.8h0M233.9 444.5h0M185.5 532.5h0M237.7 474.8h0M237.2 449.7h0M181.8 531.1h0M283.2 464.9h0M217.1 452.2h0M217.2 498.9h0M282.2 497.3h0M296.4 548.9h0M254.5 448.7h0M189.7 514.8h0M189.1 538.5h0M177.7 450h0M318.6 486.9h0M187.3 479.4h0M224.8 521.6h0M286.6 517.1h0M196.6 492.6h0M306.6 462.5h0M221.8 508.8h0M318.5 446.9h0M183.9 507h0M217 523.4h0M276.5 487.8h0M192.3 524.4h0M274.4 503.3h0M281.2 543.7h0M206.2 516.5h0M290.3 472.1h0M304.7 477.1h0M312.6 505.3h0M315.1 537h0M286.6 483.1h0M290 487.9h0M304.1 466.9h0M247.5 459.4h0M195.2 474.7h0M176.7 504h0M288.9 501.5h0M271.8 453.2h0M218.9 446.4h0M193.5 533.3h0M189.9 506.7h0M226.1 514.8h0M300 531.2h0M313.9 545.5h0M283.7 473.4h0M218.7 499.1h0M296.1 454.6h0M302.9 514.5h0M226.7 486.8h0M276.7 490.6h0M276.4 536.1h0M182.6 446.2h0M310.4 464.5h0M291.4 486.7h0M203.2 445.5h0M177.7 445.4h0M212.6 536.6h0M281.8 471.1h0M229.9 487.9h0M275.6 474.1h0M222.7 497h0M205.1 489.2h0M281.5 497.1h0M178 480.8h0M227.6 502.9h0M224.1 463.4h0M300.5 451.1h0M305.2 454.2h0M230.9 509.9h0M301.8 477.7h0M178.6 465.2h0M301 507h0M282.4 485.1h0M218 516.6h0M193.6 480.2h0M273 539.3h0M186 511.3h0M218.9 516.9h0M214.1 463.8h0M209.9 520.1h0M276.2 540h0M231.5 451.1h0M290.6 471.1h0M277 495.5h0M236 447.4h0M203.5 522.7h0M290.3 500.2h0M316.7 444.5h0M229.6 500.2h0M177.7 535.6h0M192 505.1h0M210.2 484.2h0M239.2 474.6h0M195.2 514.2h0M263.3 452.7h0M315.2 455.4h0M203 473.7h0M224.1 495.6h0M304.7 454.8h0M208.1 481.5h0M285.8 494.5h0M179.9 481.7h0M291.8 489.8h0M228.1 511.2h0M175.7 512.2h0M272.2 456h0M208.8 499.8h0M221.3 502.2h0M228.1 480.3h0M307.9 516.9h0M319 479.3h0M299.3 482.7h0M271.3 462.8h0M306.3 482.6h0M312.1 503.6h0" stroke="#706eb4" stroke-width="2.9" stroke-linecap="round" fill="none" opacity="1"/>
<path d="M220.6 502h0M308.9 516.9h0M292.9 503.6h0M262.1 458.9h0M294 511.4h0M283.7 499.5h0M217.5 548.2h0M285.1 515.4h0M295.2 517.2h0M305.1 514.6h0M234.6 496.7h0M176.4 537.5h0M293.9 506.6h0M172.8 486.2h0M207.1 508h0M222.6 507.9h0M303.9 487.3h0M186.8 445.6h0M294.6 493.3h0M235.6 447.3h0M185 444.3h0M303.6 449.2h0M217.7 493.8h0M316.9 454h0M213.9 455h0M212.9 466.6h0M174.1 528.9h0M210.8 522.3h0M291.3 527.7h0M173.3 505.7h0M296.9 510.5h0M292.7 500.2h0M222.2 496.2h0M240.1 463.8h0M270.2 531.7h0M267.4 445.3h0M189.2 497.2h0M219 446h0M274.9 461.7h0M277.7 455.9h0" stroke="#a09ed0" stroke-width="4.0" stroke-linecap="round" fill="none" opacity="0.7"/>
<path d="M224.2 443.1L243.3 443.1L241.1 450.5L230.9 452.1Z" fill="#ecd7b8" />
<path d="M241.1 463.4L269.2 461.1L273.7 475.7L274.8 498.2L270.3 520.7L266.9 552.2L218.6 552.2L226.5 531.9L233.2 509.4L237.2 487Z" fill="#f6f1e6" />
<path d="M244 465.6L266.5 463.4L269.6 475.7L270.3 498.2L266.5 520.7L261.3 552.2L226.9 552.2L232.7 531.9L237.7 509.4L240.8 487Z" fill="url(#bone2)" />
<path d="M244 465.6L266.5 463.4L269.6 475.7L270.3 498.2L266.5 520.7L261.3 552.2L226.9 552.2L232.7 531.9L237.7 509.4L240.8 487Z" fill="url(#fadeb)" />
<ellipse cx="251.6" cy="499.3" rx="6.2" ry="5" fill="#f6efe2" stroke="#cfa272" stroke-width="1.2"/>
<ellipse cx="248" cy="502.3" rx="1.6" ry="1.2" fill="#c8a070"/>
<path d="M261.3 460L270.3 462.2L271.9 469L273.2 482.5L273.7 496L275.9 500.9" fill="none" stroke="#8a6a4a" stroke-width="1.3" stroke-linejoin="round" stroke-linecap="round" opacity="0.85"/>
<path d="M263.5 460.4L270.3 462.7" fill="none" stroke="#7a4a2a" stroke-width="1.8" stroke-linejoin="round" stroke-linecap="round" />
</g>
<path d="M274.5 448.5L271 452.1L268.6 449.8L266.5 459.5L276.2 457.2L273.8 454.8L277.3 451.2Z" fill="#f80000" />
<path d="M296.7 462.6L287.2 465.7L286.2 462.5L279.7 470.1L289.4 472.6L288.4 469.4L297.9 466.3Z" fill="#f80000" />
<path d="M297.9 503.1L288.4 500.1L289.4 496.9L279.7 499.3L286.2 507L287.2 503.8L296.7 506.8Z" fill="#f80000" />
<rect x="172" y="539" width="36.9" height="2.4" fill="#3a12f0"/>
<text x="180.4" y="536.6" font-size="7.2" fill="#000">50 μm</text>
</g>
<rect x="169.6" y="444.2" width="149.6" height="104.9" fill="none" stroke="#000" stroke-width="1.4"/>
<text x="3.6" y="577.4" font-size="13.6" font-weight="bold">o</text>
<text x="101.9" y="582.9" font-size="10" text-anchor="middle"><tspan font-style="italic">Nell2</tspan><tspan font-size="7.1" dy="-4.1" dx="0.7">fx/fx</tspan></text>
<text x="252.2" y="582.9" font-size="10" text-anchor="middle">Col1-cre;<tspan font-style="italic">Nell2</tspan><tspan font-size="7.1" dy="-4.1" dx="0.7">fx/fx</tspan></text>
<g clip-path="url(#cp10)"><rect x="14.5" y="587.5" width="152" height="113.9" fill="#000"/>
<g filter="url(#soft)">
<path d="M12.4 661.8L37.2 656.3L62 648.1L86.8 637L106.7 624.6L121.6 609.7L129 597.3L134 584.9" fill="none" stroke="#17b617" stroke-width="4.2" stroke-linejoin="round" stroke-linecap="round" />
<path d="M12.4 661.8L37.2 656.3L62 648.1L86.8 637L106.7 624.6" fill="none" stroke="#1cc81c" stroke-width="5.4" stroke-linejoin="round" stroke-linecap="round" />
<path d="M12.4 661.8L37.2 656.3L62 648.1L86.8 637L106.7 624.6L121.6 609.7L129 597.3L134 584.9" fill="none" stroke="#28f028" stroke-width="2.8" stroke-linejoin="round" stroke-linecap="round" />
<path d="M12.4 661.8L37.2 656.3L62 648.1L86.8 637L106.7 624.6" fill="none" stroke="#28f028" stroke-width="3.8" stroke-linejoin="round" stroke-linecap="round" />
<path d="M14.9 673.7L29.8 671.2" fill="none" stroke="#22dd22" stroke-width="2.6" stroke-linejoin="round" stroke-linecap="round" />
<path d="M29.8 671.2L49.6 663.5L74.4 652.3" fill="none" stroke="#1fc81f" stroke-width="1.6" stroke-linejoin="round" stroke-linecap="round" />
<path d="M74.4 652.3L99.3 640.7L116.6 629.5L129 620.1L135.2 612.6" fill="none" stroke="#22dc22" stroke-width="2.3" stroke-linejoin="round" stroke-linecap="round" />
<path d="M136.5 609.7L142.7 602.2L146.9 594.3" fill="none" stroke="#18a018" stroke-width="1.2" stroke-linejoin="round" stroke-linecap="round" stroke-dasharray="3 3"/>
</g>
<rect x="133.5" y="693" width="25.9" height="2.6" fill="#fff"/>
</g>
<rect x="14.5" y="587.5" width="152" height="113.9" fill="none" stroke="#000" stroke-width="1.05"/>
<g clip-path="url(#cp11)"><rect x="170.7" y="587.5" width="151.9" height="113.9" fill="#000"/>
<g filter="url(#soft)">
<path d="M310.1 586.1L299 602.2L284.1 615.9L269.2 628.3L256.8 641.9L244.4 656.8L232 671.7L219.6 686.6L207.1 702" fill="none" stroke="#15a815" stroke-width="2.6" stroke-linejoin="round" stroke-linecap="round" />
<path d="M310.1 586.1L299 602.2L284.1 615.9L269.2 628.3L256.8 641.9L244.4 656.8" fill="none" stroke="#24e824" stroke-width="1.7" stroke-linejoin="round" stroke-linecap="round" />
<path d="M244.4 656.8L232 671.7L219.6 686.6L207.1 702" fill="none" stroke="#1fd21f" stroke-width="1.3" stroke-linejoin="round" stroke-linecap="round" />
<path d="M296.5 586.1L289 599.7L279.1 608.4L269.2 616.4" fill="none" stroke="#1fd01f" stroke-width="2.2" stroke-linejoin="round" stroke-linecap="round" />
<path d="M269.2 616.4L259.3 627L239.4 646.9L224.5 664.3L207.1 684.1" fill="none" stroke="#0b5c0b" stroke-width="1" stroke-linejoin="round" stroke-linecap="round" stroke-dasharray="4 9"/>
<path d="M269.2 594.8L268.2 602.2" fill="none" stroke="#0e700e" stroke-width="1.2" stroke-linejoin="round" stroke-linecap="round" />
<path d="M307 655.5h0M299.5 653.4h0M320.2 654.5h0M307.4 633.8h0M294.7 643.5h0M309.7 654.7h0M319.2 617.2h0M309.4 635.3h0M298.7 671.2h0M311 641.5h0M288.9 629.7h0M297.1 646.5h0M300 648.2h0M294.4 642.2h0M291 645.9h0M293.5 635.4h0M313.1 660.4h0M308.1 641.8h0M302.9 669.5h0M293 650h0M316.2 646.7h0M297.8 653.4h0M298.4 635.8h0M291.2 671.2h0M298.2 668.4h0M312.1 642h0M316.3 652h0M308.4 621.3h0M307.5 663.5h0M313.7 665.4h0M318.6 648.6h0M276.2 670.7h0M286.4 623.3h0M303.8 658.6h0M298.8 650.4h0M278.4 679.1h0M305.4 649.1h0M315.1 650h0M309.4 629.6h0M304.7 655h0M321.9 644.6h0M307.8 653.2h0M314.9 650.7h0M302.6 637.4h0M319.5 662.8h0M308.7 628h0M307.2 666h0M321.6 651.4h0M314.9 627.8h0M317.6 649.7h0M306.9 659.6h0M309.4 651.6h0M321.5 645.8h0M312.6 617.1h0M299.8 647.2h0M295.1 670.2h0M312.9 621.5h0M313.6 625.9h0M293.6 623.5h0M312 644.9h0M304.2 642h0M312.7 641.1h0M314.8 651.1h0M293.6 628.7h0M306.6 648.4h0M308.5 645.5h0M311.7 640.4h0M316 616.6h0M320 630.5h0M313.6 638.3h0M300.1 632.2h0M288.5 650.9h0M310.3 647.7h0M292.1 634.8h0M319.9 627.7h0M315.5 660.4h0M308.4 624.4h0M309.3 639.9h0M292.4 642h0M309.4 631.3h0M308.2 668.3h0M312.9 645.1h0M322 664h0M319.8 632.2h0M279.5 661.7h0M307.3 640.1h0M313.6 638.5h0M297.3 680.4h0M282.9 662.5h0M321.4 679.8h0M310.2 656.4h0M292.9 647.5h0M275.3 636.4h0M306 645h0M299.3 668.5h0M282.9 649.4h0M300.5 647.6h0M290.6 671.8h0M297.3 624h0M274.3 655.3h0M311.1 621.9h0M298.7 650.5h0M308.3 629.4h0M302.2 638.4h0M313.6 652h0M309.8 636h0M318.1 636.5h0M294.1 638.9h0M301.6 641.2h0M277.8 672h0M315.7 671.4h0M300.6 660.8h0M309.4 647.4h0M314.9 614.8h0M314.8 643.7h0M291.4 635.9h0M275 627.2h0M322.5 665h0M295.3 619.4h0M285.7 623.2h0M289.7 660.9h0M302.5 659.4h0M296.7 670h0M294.2 657.9h0M311.4 633h0M304.3 648.5h0M313.9 668.1h0M299.2 622.8h0M282.3 681.3h0M300.2 639.3h0M296.2 637.1h0M316.1 654.7h0" stroke="#0d620d" stroke-width="1.1" stroke-linecap="round"/>
</g>
<rect x="289.5" y="693" width="26.2" height="2.6" fill="#fff"/>
</g>
<rect x="170.7" y="587.5" width="151.9" height="113.9" fill="none" stroke="#000" stroke-width="1.05"/>
<text x="11.4" y="730.8" font-size="13.6" font-weight="bold">r</text>
<text x="108" y="733" font-size="10" text-anchor="middle"><tspan font-style="italic">Nell2</tspan><tspan font-size="7.1" dy="-4.1" dx="0.7">fx/fx</tspan></text>
<text x="257.3" y="733" font-size="10" text-anchor="middle">Col1-cre;<tspan font-style="italic">Nell2</tspan><tspan font-size="7.1" dy="-4.1" dx="0.7">fx/fx</tspan></text>
<g clip-path="url(#cp12)"><rect x="16.5" y="737.9" width="151" height="106.4" fill="#f1eeea"/>
<path d="M14.9 736.3L45.9 736.3L53.3 758.6L55.8 783.4L53.3 808.3L49.6 828.1L44.7 845.5L14.9 845.5Z" fill="#f3f1ee" />
<path d="M50.6 756.4h0M44.4 777.6h0M43.6 812.5h0M31.6 839.7h0M32.8 787.3h0M44.2 752.8h0M51.6 772.6h0M20 800.8h0M24.7 784.3h0M23.1 815.4h0M45.1 811.2h0M20.4 741.4h0M38.8 745.2h0M44.2 796h0M41.7 826.6h0M35.7 768h0M17.4 813.1h0M42.1 805.4h0M35.8 786h0M52.5 777.4h0M20.6 840.2h0M46.1 834.1h0M55.2 784h0M21.3 790.1h0M35 778.6h0M47.1 763.6h0M26.5 826.9h0M24.5 815.4h0M26.1 781h0M34.1 763.2h0M15.9 784.4h0M45.2 796h0M42.8 764.8h0M31.3 743.4h0M31 818.3h0M27.8 756.5h0M36.9 834.1h0M41.3 748.3h0M32.6 761.3h0M48.1 782h0M33 832.1h0M27 785.3h0M37 807.1h0M28.6 805h0M32.1 827h0M37.7 815.6h0M38.4 812.4h0M30.9 752.4h0M29.8 771.8h0M15.5 820.3h0M36.4 788.7h0M43.7 743.6h0M20 814.6h0M16.6 831.2h0M35.7 841.9h0M50.1 780.8h0M29 783.7h0M46.4 786.7h0M44.4 844.5h0M45.5 792.4h0M45.3 790.2h0M38.7 782.2h0M38.1 797.3h0M19.1 798h0M52.9 762.8h0M46.6 764.1h0M44.1 767.1h0M39.3 820.9h0M16.2 828h0M36.3 763h0M27.5 796.8h0M45.2 755.7h0M17.8 761.5h0M40.9 780.3h0M46.1 815.7h0M29.9 800.7h0M20.9 802.8h0M41.4 762.1h0M42.2 751.4h0M52.6 809.3h0M23.7 816.3h0M40 777.6h0M43.3 819.3h0M42.7 760.1h0M32.7 837.5h0M22.7 762.9h0M34.9 752.1h0M24.6 816.2h0M15.7 803.1h0M31.6 813.8h0M25.5 788.5h0M23.6 738h0M50.3 776.3h0M27 838.3h0M30 795.4h0M20.6 781.2h0M24.3 742h0M20.2 807.3h0M37.2 776.6h0M44 760.3h0M39.8 781.9h0M20.6 821h0M22.4 823.7h0M46.1 784h0M33.5 758.7h0M20.6 812.3h0M30.1 797.7h0M30 765.4h0M21.6 819.5h0M32.6 753h0M50.6 753.1h0M24.3 753.5h0M37.8 821.2h0M16.2 837.3h0M43.6 827h0M32.2 784h0M18.7 765h0M50.5 767.4h0M32.2 827.3h0M27.6 763h0M15.7 794.5h0M37.4 759.4h0M25.5 805.4h0M22 822.1h0M50.6 782.2h0M20.2 798.6h0M27 747.8h0M43.9 797.4h0M26 763.3h0M44.5 836.4h0M29.3 800.2h0M23.9 787.1h0M38.7 769.6h0M39.7 795.5h0M16.7 749.3h0M31.8 752.4h0M37.3 801.1h0M40.5 833h0M39.8 820.5h0M19.6 831.6h0M53 800.9h0M48.8 796.3h0M32.7 753.8h0M34.6 814.2h0M47.4 833.9h0M36.1 839.5h0M30.1 738.3h0M32.3 795.3h0M46.5 761.8h0M15.9 815.2h0M22.7 829.3h0M38.1 751.1h0M36.2 820.6h0M24 840.6h0M17.2 752.5h0M39.2 810.2h0M39.5 837.1h0M23.1 741.3h0M36.9 774.7h0M31.1 779.5h0M51 767.4h0M43.2 798.3h0M26.5 835.9h0M25.4 769.1h0M22.8 812.8h0M43.3 776.2h0M19.7 801.3h0M28.7 796.4h0M41.7 736.4h0M16.8 825.7h0M24 782.8h0M49 770h0M39.5 842.4h0M44.4 836.1h0M29.3 840.6h0M51.9 766.3h0M46.5 836.5h0M23.6 779h0M46.4 798.9h0M52.5 783.6h0M33.2 754.6h0M26.1 831.8h0M25.6 834.2h0M47.8 798.6h0M27.2 736.5h0M19.7 826.7h0M26.4 838.6h0M32.9 776.5h0M42.7 767.5h0M19.3 756.3h0M25.7 757.3h0M38.3 770.6h0M23.7 832.1h0M30 736.6h0M15.3 796.5h0M16.1 797.1h0M15.9 787.5h0M40.2 795.2h0M23.7 827.8h0M29.9 795.6h0M31.8 822.2h0M21.8 761h0M33.4 795.7h0M15 778.6h0M36.1 801.8h0M49.2 772h0M39.8 840.3h0M28.7 807.3h0M44.8 810.6h0M42.5 778.3h0M44.2 774.7h0M24.4 747.2h0M37.5 754.9h0M26.4 768.8h0M30.1 781.8h0M54.8 793.8h0M37.4 780h0M37.3 825.2h0M36.3 792.2h0M29.3 756.5h0M23.6 746h0M26.5 740.7h0M31.9 798.9h0M19.6 818.8h0M33.4 804.4h0M32.5 823h0M42.7 749.5h0M37.4 765.2h0M45.5 776.8h0M24.1 740h0M25.2 837.9h0M17 781.1h0M32.6 810.6h0M27.9 745.5h0M23.7 736.8h0M25.9 804h0M25.9 833.4h0M38.9 779.9h0M17.8 742.4h0M23.8 803.6h0M17.3 791.2h0M26.7 781.4h0M39.9 816.6h0M42.7 783.7h0M28.7 804.7h0M33.7 837.7h0M36.6 800.2h0M42.2 789h0M35 808.7h0M39.4 845.3h0M27.4 790.3h0M37.6 769.5h0M22.2 781.7h0M32.3 783.5h0M25.4 788.8h0M38.4 747.4h0M41.9 813.8h0M22.9 763.5h0M16.5 787.8h0M42.5 781.3h0M39 802.4h0M16.7 742.2h0M35.7 837.3h0M43.8 785h0M25.5 750.7h0M41.3 819.8h0M31 745.6h0M26.2 813.5h0M46.5 780h0M51.2 778.8h0M15.9 758.6h0M51.3 813.3h0M18.4 767.6h0M31.1 788.8h0M15.9 836.9h0M36.6 765.1h0M16.2 798.7h0M42.1 742.5h0M27.6 799.8h0M31.9 760h0M17.7 830.8h0M42.2 768.9h0M34.1 831.6h0M20.8 805h0M24.4 835.1h0M30.6 791.7h0M28.1 774.6h0M34.9 808.4h0M52.1 783.3h0M26.5 775.6h0M43.2 754.2h0M25.4 757.4h0M19.3 835.5h0M35.5 817.8h0M43 784.5h0M36.2 750.2h0M24.8 773.8h0M29.5 808.3h0M24.8 762.2h0M50.7 821.7h0M22.9 789.6h0M49 824.3h0M24.2 789h0M39 737.5h0M24.9 817.3h0M42.2 785.1h0M38.3 793.9h0M29 745.6h0M45.3 820.6h0M32.7 820.3h0M48.8 811.8h0M16.5 839.1h0M33.4 821.2h0M45.1 747.1h0M38.9 746h0M44.8 773.3h0M30.3 766.1h0M48 806.3h0M27.1 817.2h0M22.5 823.9h0M39.6 819.9h0M40.1 843.9h0M43.3 786.9h0M39.1 798.2h0M26.6 769.7h0M47.6 825.6h0M35.6 779.4h0M43.8 807.2h0M30.6 766.7h0M16.7 821.5h0M32.4 779.3h0M17.1 790.4h0M51.7 766.6h0M45.3 819.2h0M41.9 801.4h0M25.1 809.9h0M38.8 841.9h0M36 775h0M52 804.5h0M28.9 807.2h0M21.1 756.9h0M51.1 786.9h0M47.7 759.7h0M34.2 762.2h0M47.7 801.5h0M31 778.3h0M23.5 759.3h0M43.2 770.4h0M19.2 778.4h0M33.4 844.2h0M30.7 780.3h0M33.7 779.8h0M24.1 753h0M34.2 806.2h0M19.2 788.3h0M22 802h0M29 809h0M46.9 780.5h0M30.6 744.9h0M23.6 804.2h0M47.9 751.4h0M29.9 795.2h0M42.4 772.2h0M29.9 815.1h0M34.7 784h0M37.9 749h0M34.2 768.4h0M21.7 793.6h0M43.6 793.7h0M35.3 809.4h0M32.2 843.5h0M23.7 737.2h0M38.2 812.2h0M30.5 779.9h0M28.9 762.8h0M47.3 830.5h0M26.3 797.9h0M33.7 750.7h0M44.9 794.4h0M51.9 764.9h0M19.4 824.7h0M19.3 811.3h0M22.1 813.3h0M17.1 745.9h0M50.4 792.6h0M33.3 842.4h0M47 760.9h0M43.8 778.4h0M33.9 770.5h0M24.2 769.3h0M26.1 756.9h0M50.7 777.7h0M37.8 824.9h0M42.7 753.4h0M49.3 772.3h0M48.9 806.4h0M16.2 777.5h0M43.5 795.7h0M28.9 835.4h0M15 823.5h0M18.5 790.8h0M32.9 744.1h0M40.9 822.3h0M24 763.1h0M46.4 794h0M15.6 769.8h0M53.5 766.4h0M26.7 785.5h0M30.7 809h0M16 743.4h0M30.1 805.5h0M20.6 741h0M49.8 756.6h0M17.1 745.6h0M18.1 767.5h0M38.6 808h0M26.6 792.6h0M28.5 799.6h0M19.4 804.4h0M14.9 837h0M23.5 796.8h0M22.6 784.8h0M25.7 806.3h0M46.8 828.5h0M54.8 786h0M37.4 774.7h0M26.7 791.8h0M45.5 771.5h0M39.4 765.3h0M44.3 790.5h0M27.6 785.2h0M15.1 747h0M31.2 809.4h0M16.4 838h0M23.3 841.4h0M32.6 800.3h0M39.6 746h0M35.6 818.1h0M47.2 816.5h0M42.7 750.3h0M31.6 791.9h0M16.6 819.9h0M19.1 797.9h0M25.8 754.1h0M44.9 802.5h0M38 831.6h0M17.5 777.6h0M23.9 801.4h0M31 836.8h0M24.4 765.7h0M32.5 777.1h0M44.9 752.5h0M44.4 761.1h0M47.9 744.4h0M15.9 753.7h0M26.8 823.7h0M38.6 763.3h0M43 781.6h0M20.7 829.2h0M44.3 762.9h0M32.4 810.8h0M30.1 764.4h0M36.4 840.1h0M18.8 763.8h0M34.7 843.8h0M41.2 751.4h0M23.4 751.1h0M35.4 844.8h0M54.4 776.4h0M51.7 811.5h0M17.9 834.7h0M26.1 843.1h0M20.3 834.5h0M35.9 792.6h0M22.4 789.6h0M46 797h0M45.1 801.8h0M51 773h0M33.8 825h0M25.4 776.9h0M49.5 807.1h0M34.9 738h0M46.2 781.6h0M24.6 778.4h0M20.5 828.1h0M42.5 753.9h0M32.2 845h0M14.9 773.7h0M21 754.9h0M26.1 803.9h0M17.6 831h0M32.5 755.2h0M19 793.6h0M29.2 791h0M19.3 775.1h0M35.6 745.5h0M35.4 828.1h0M39 750.4h0M40.7 745.3h0M20.7 737.3h0M36.6 755.7h0M26.3 749.5h0M42.5 824.3h0M33.3 799.9h0M28.5 825.7h0M43 744.8h0M43.7 751.7h0M34.6 756.3h0M34.7 807.8h0M44.9 771.8h0M17.1 785.5h0M52.3 796.6h0M40.2 819.9h0M41 839.9h0M47.9 751.8h0M25.7 813.9h0M38.7 830.4h0M46.6 772.5h0M21.9 808.1h0M19.4 790.3h0" stroke="#2c409a" stroke-width="1.9" stroke-linecap="round" fill="none" opacity="1"/>
<path d="M26.2 780.1h0M41.7 805.5h0M40.2 742.9h0M51.5 813.2h0M52 803.2h0M41.4 833.3h0M45.4 805.6h0M16.5 738.9h0M44.2 828.8h0M30.7 759.3h0M33 828.1h0M45.8 750.5h0M23.1 759h0M45.4 763.7h0M51.3 781.2h0M22.8 781.6h0M20.6 832.3h0M15.8 781.8h0M30.4 740.5h0M24 844.3h0" stroke="#e8dcc0" stroke-width="3" stroke-linecap="round" fill="none" opacity="1"/>
<path d="M111.7 736.3L135.2 736.3L140.2 758.6L142.7 790.9L142.7 820.7L141.4 845.5L90.6 845.5L93.1 828.1L96.8 808.3L99.3 788.4L104.2 763.6L107.9 746.2Z" fill="#f3f1ee" />
<path d="M135.3 782.2h0M136.1 835.5h0M135.3 815.6h0M120.1 792.1h0M127.9 802h0M137.4 818.7h0M113.6 828.9h0M105.5 779h0M120.6 842.2h0M103.2 828.8h0M124.8 836.7h0M106.2 808.7h0M136.9 832.8h0M127 828h0M123.6 796.6h0M100.6 792.9h0M141.5 839.6h0M103 828.2h0M100.1 819.9h0M120.9 766.3h0M130 743.6h0M125.9 764.4h0M140.5 772.2h0M125.4 739.4h0M139.5 805.5h0M138.2 817.5h0M110.4 758.2h0M137 808.8h0M108.8 744.1h0M124.4 742.8h0M99.5 817.9h0M104.5 844h0M105.1 823.6h0M128.9 806.6h0M122.1 751.6h0M133.8 837h0M118.2 756.7h0M105.2 793.7h0M131.2 769.9h0M132.8 819.7h0M101.5 840.5h0M124 739.8h0M141.7 812.5h0M100.2 833.5h0M121.7 805.8h0M131.9 737.8h0M120.9 751.3h0M131.4 785.6h0M131.3 836h0M109.6 823h0M107.9 838.7h0M108.1 804.7h0M103.9 815.2h0M105.3 782.4h0M128.2 826.7h0M101.6 820.1h0M125.7 814.6h0M132.7 761.8h0M116.4 736.8h0M108.9 801.9h0M104.1 823.1h0M101.6 784.6h0M126.2 760.5h0M125.2 780h0M124.6 826.1h0M126 830.5h0M125.3 821.3h0M134.2 801.3h0M118.3 753.9h0M105.8 797.7h0M133.7 765.7h0M137.2 827.4h0M100.6 800.7h0M132.6 830.8h0M135.6 744.3h0M110.1 774h0M127.1 794.2h0M107.7 752.7h0M96.6 814h0M102.2 793.6h0M104.5 789.7h0M116.7 765.1h0M132.8 751.4h0M118.6 824.8h0M120.3 774.2h0M138.9 821.6h0M115.8 785.5h0M134.4 804h0M119.2 792.5h0M137 774.9h0M141.5 796.9h0M132.1 785.9h0M117.7 760.9h0M137 782.2h0M111.7 817.3h0M135.8 845.2h0M115.6 782.6h0M133.6 782.7h0M101.1 788.5h0M106.5 764.4h0M130.8 774.4h0M123.2 769.4h0M96.5 821.6h0M130.9 813.3h0M122.4 755.3h0M116.7 827.3h0M131.4 800.8h0M123.5 754.9h0M93.4 828.7h0M111.4 812.7h0M126.9 830.9h0M139 765.9h0M107.8 747.5h0M140.7 799.1h0M116.2 742.6h0M138.1 763h0M130.7 758.6h0M118.4 767.3h0M120.4 814.4h0M117.4 779.9h0M113.9 776.5h0M128.5 805.5h0M126.4 806h0M117.3 757.8h0M138.2 794.5h0M114.4 764.8h0M110.2 843.4h0M111.7 824.1h0M104.7 761.9h0M106.4 779.6h0M124.1 780.8h0M135.4 753.2h0M135.1 784h0M131.9 779.4h0M104 834h0M123.7 815.2h0M117.8 813.9h0M140.4 817.2h0M141.1 774.4h0M106.1 832.7h0M134 833.3h0M113.3 781.5h0M139.9 758.4h0M106.3 781.9h0M110.5 786.5h0M117.1 742.2h0M115.7 835.1h0M124.6 839.6h0M135.4 790.2h0M120.6 828.3h0M107.9 750.7h0M130.1 795.1h0M115 750.2h0M119.4 798.9h0M127.6 834.8h0M94.5 827h0M107.3 781.7h0M108.5 824.5h0M113.6 744.1h0M115.3 752.5h0M110.4 785.5h0M137.6 795.7h0M141.6 795.5h0M140.3 811.8h0M110.8 741.8h0M98.3 822.8h0M125.1 768.8h0M99.1 806.2h0M139 763.4h0M142.5 794.6h0M127.7 837.6h0M102.3 781.9h0M103 808.7h0M112.4 754.8h0M136.9 803.4h0M106.5 780.2h0M112.8 771.3h0M107.8 747.5h0M122.7 758.1h0M117.2 812h0M116.5 817.2h0M131.2 785.2h0M126.7 776.4h0M100 833.6h0M115.2 828.8h0M134.6 763.4h0M102.3 833.1h0M102.9 801.6h0M139.4 787.1h0M112.7 840.8h0M135.5 837.5h0M127.4 760.8h0M138.7 795.6h0M136.6 840.9h0M102.9 842.2h0M104.7 845h0M139.5 774.8h0M115.7 826.2h0M132.5 834.3h0M109.5 761.7h0M117.3 838.3h0M122.5 831.5h0M100.8 791.7h0M138.4 798.6h0M131.9 824.5h0M113.6 811.6h0M126.6 784.3h0M117.7 824.7h0M136.5 844h0M109.7 810.1h0M119.3 829.3h0M103.1 787.3h0M103.9 824h0M127.6 737h0M121.4 820.9h0M108.5 745h0M121.1 803.4h0M113 765.9h0M108.6 761.7h0M132.9 778h0M127.8 796.2h0M125.5 830.5h0M138.4 753.1h0M128 836.3h0M121.4 752.2h0M110.2 752h0M105.1 799h0M116.7 755.1h0M105 834.1h0M123.4 802h0M107.4 768.9h0M130.3 737.9h0M124.6 840.7h0M123.7 741.5h0M124.5 810h0M105.6 810.8h0M138.2 787.4h0M111.2 811.1h0M136.1 811.3h0M138.9 821.6h0M140.4 763.6h0M125.6 759.2h0M139.9 768.5h0M106.7 837.5h0M141.7 819h0M108.9 826.2h0M103.1 830.1h0M113.9 829.2h0M116 776.9h0M114.3 840.1h0M141.2 838h0M134 753.1h0M127.7 844.2h0M131.9 755.8h0M94.7 843.3h0M131.8 743.8h0M100.3 808.2h0M115.8 795.5h0M134.7 736.7h0M109.1 744.2h0M119.4 754.3h0M107.8 842.1h0M124.4 809.3h0M122.1 758.3h0M126.3 842.2h0M95.2 827.9h0M108.5 758.3h0M124.7 829.2h0M116.7 758.6h0M117 844.4h0M121.2 839.7h0M115 797.3h0M127 830.1h0M141 772.7h0M99.8 836.4h0M122.1 832.7h0M98.2 822.5h0M112.2 808.1h0M139.4 783.2h0M120.7 781.2h0M110.5 765.2h0M128.2 823.5h0M126.3 784.4h0M112 756.9h0M103.2 845.2h0M121.2 780.4h0M118.5 790.1h0M105.9 781.9h0M113 834.4h0M137 767.8h0M114.3 760.5h0M115.7 737.6h0M114.6 786.5h0M116.6 788h0M107.5 774.3h0M102 794.4h0M127.6 737.9h0M116.5 805.9h0M137.2 811.7h0M134.2 808.6h0M102.3 825.1h0M130 789.4h0M137.9 775.3h0M118.8 823.3h0M99.3 790.4h0M112.8 749.5h0M139.1 791.6h0M135.1 766h0M114.7 763.3h0M121.3 813.5h0M120.4 800.1h0M106.7 840.3h0M125.3 842.5h0M134.7 763.2h0M139.7 786.2h0M120.3 807h0M122.7 832.3h0M137.4 770.8h0M137.1 770.8h0M126.2 753.5h0M123.8 769.1h0M142.4 808.9h0M110.8 841.3h0M96.6 817.8h0M124.4 738.2h0M114.5 749h0M123.7 795.6h0M97.1 838.3h0M120.5 803.8h0M101.1 790.4h0M110.9 819.3h0M117.8 811.3h0M107 758.9h0M110.3 823.3h0M103.1 773.5h0M129.4 758.9h0M92.6 842.4h0M138.2 770.8h0M105.3 786.5h0M101.5 822.2h0M136.7 814h0M111.4 828h0M139.4 756.4h0M125.4 755.1h0M142 823.2h0M111.9 817.2h0M117.3 744.5h0M114.4 829.4h0M120.6 765.3h0M101.6 797.2h0M117.1 834.9h0M99.5 787.2h0M113.9 777.4h0M118.9 757.5h0M107.3 793.8h0M139.6 789h0M117.6 773.9h0M122.7 774.6h0M128.9 805.3h0M118 802.4h0M119.6 761.3h0M108.5 814.7h0M111.3 794h0M102.5 805h0M115.5 736.6h0M129.9 824h0M127.2 787.3h0M104.4 813.1h0M112.4 771.6h0M127.6 820.3h0M123.8 750.4h0M136.8 837.6h0M123.4 764.8h0M119.9 820h0M108.5 807.2h0M121.9 835.5h0M131 809.4h0M119 833.5h0M122 811.5h0M119.6 760.6h0M137.2 772.7h0M100.6 799.3h0M107.4 844.8h0M122.8 747.3h0M116.3 793.9h0M107 809.8h0M113.8 825.8h0M126 764.5h0M133.8 739.5h0M140.2 794.8h0M134.4 844.4h0M95.3 834.6h0M131.9 778.3h0M137 820h0M116.5 767h0M118.8 793.6h0M100.3 794.2h0M125.4 752.8h0M117.8 750.9h0M136.5 759.4h0M139.1 836.6h0M140.8 767.1h0M126.1 743.9h0M141.2 811.9h0M139.4 822.4h0M107.6 824.7h0M110.9 744.5h0M138.5 808.1h0M142.5 806.2h0M122.9 750.2h0M115.4 834.2h0M119.7 806h0M114.5 775.4h0M142.4 812.5h0M133.9 759.2h0M134.8 777.9h0M135.1 762.3h0M106.2 793.8h0M128.4 822.5h0M141.8 807.8h0M108.8 787.5h0M121.1 801h0M138.4 798.2h0M140.7 788.5h0M113.8 739.5h0M107.5 789h0M136.6 836.2h0M115.9 742.1h0M106.1 794.6h0M112.7 798.5h0M122.4 757h0M120.1 838.3h0M137 803.6h0M117.7 818.2h0M114.2 813.5h0M110 796.9h0M128.8 800.2h0M122 778.2h0M108.8 807.8h0M113.8 784.4h0M110.3 768h0M123.2 832.2h0M100.7 807.2h0M118.3 805.9h0M125.1 780h0M117.7 805h0M138.9 808.1h0M124.6 774.6h0M132 750.4h0M136.7 789.8h0M114.2 811.9h0M118.9 845h0M121.6 761h0M102.4 845.3h0M118.1 768.3h0M109.6 760.9h0M141.5 816.5h0M109.3 748.2h0M141.4 833.5h0M95.5 831.2h0M119.3 843.8h0M113.5 783.8h0M103 832.5h0M102.2 832.7h0M108 824.4h0M127.8 838.2h0M120.5 775.6h0M107.1 826.1h0M117 753.6h0M126.7 758.9h0M129.3 754.8h0M136.3 770.4h0M106.9 842.3h0M110.1 779.3h0M129.8 744.4h0M95.1 831.3h0M107.6 755.4h0M100.1 817.5h0M141.5 779.8h0M127.7 786.7h0M108.2 763.6h0M131.9 746.2h0M110.7 816.5h0M92.3 841.5h0M122.6 807.5h0M134.5 842.8h0M121.7 746.7h0M134.4 828.5h0M117.3 818.1h0M118.4 769h0M138 835h0M128.4 792.2h0M124.3 772.6h0M115 796.1h0M112.5 784.8h0M135 844.3h0M128.9 830h0M102.2 790.9h0M130.4 816.4h0M138.3 821.3h0M115.7 772.3h0M135.9 835.2h0M118.6 820.8h0M128.4 793h0M113.6 840.4h0M132.1 798.7h0M130.7 796.4h0M107.3 750.2h0M120.9 831.2h0M99.7 834.4h0M119.4 789.3h0M108.1 749.3h0M104.5 839.1h0M134.3 840.2h0M116.5 790.8h0M120.9 844.8h0M93 842.4h0M101.1 812.1h0M123.6 758.8h0M114.6 782.5h0M141.2 795.5h0M111.4 792.4h0M98.1 817h0M126.6 747.6h0M110.3 749.7h0M127.1 737.9h0M135.9 743.4h0M134.1 757.3h0M118.1 814h0M139.5 831.8h0M98.5 814.4h0M113 754.6h0M114.6 838.7h0M118.8 832.6h0M115.3 763.5h0M134.9 748.1h0M126.5 768.4h0M134.9 753.4h0M138.4 752.4h0M124.9 794.6h0M121.7 837.3h0M102.4 844.8h0M120.3 824.6h0M103.6 845.2h0M128.1 787.7h0M101.9 832.2h0M119.8 844.3h0M136.6 818h0M128.2 754.6h0M133.8 814.3h0M130.4 820.1h0M126.8 776.5h0M102.4 784.4h0M104.2 816.7h0M134.1 817.5h0M107.4 799.6h0M107 796.2h0M118.2 753h0M134.6 825h0M131.1 746.3h0M102.8 818.1h0M132.7 803.7h0M139.2 782.8h0M102.4 788.1h0M106.3 777.9h0M131.3 771.6h0M127.7 801.1h0M135.8 807h0M134.9 806.1h0M112.7 757.9h0M130 768.4h0M125.2 807.9h0M107.7 763.9h0M124.2 805.3h0M101.7 813.9h0M136.8 837.7h0M139.9 844.9h0M129.2 798.4h0M118.2 794.7h0M139.7 841.8h0M113.3 758.3h0M118.6 782.5h0M132.7 837h0M122.9 745.2h0M118.4 750.3h0M118.5 825.7h0M125.6 787.4h0M98.8 838h0M136 789.6h0M111.5 779.7h0M110.3 766.3h0M97.9 807.3h0M117.6 783.3h0M129.7 791.2h0M119.7 809h0M123.6 817.7h0M109.2 820h0M120.9 764.1h0M134.7 840.1h0M133.1 826.1h0M121.3 763.1h0M106 830.4h0M104.8 789.2h0M119.2 738.2h0M132.1 822h0M132.3 800.3h0M136 816.8h0M95.6 820.3h0M127.8 740.9h0M139.7 768.2h0M114.8 793.6h0M119.5 798.5h0M94 829.5h0M117.8 747h0M116.8 757h0M113.1 814.8h0M129.8 753.9h0M105.6 842h0M123.3 756.6h0M122.3 763.4h0M125.9 841.8h0M128.7 835.4h0M107.4 757.3h0M133.1 747.7h0M123.5 752h0M124.6 750.4h0M100.8 844.3h0M104.5 785.5h0M125 845.4h0M119.2 749h0M125.4 810.9h0M121 778.3h0M133.3 743.2h0M119 795.7h0M138.4 821.4h0M103 778.1h0M121.6 777.8h0M93.8 844.7h0M114.2 751.6h0M138 751.6h0M119.9 839.5h0M130.6 800.9h0M105.4 809.9h0M132.6 758.9h0M102.5 781.2h0M121.7 833.4h0M121.4 765.4h0M128.4 752.7h0M120.6 799.4h0M114.8 796.8h0M121.1 780.4h0M116.6 836.2h0M114.9 817.5h0M98.9 838.3h0M106.2 769.5h0M131.4 795.9h0M137.1 803.7h0M124.1 782.9h0M134.1 785.4h0M132.1 742.6h0M100 804.8h0M126.1 787.1h0M124.6 782.1h0M121.3 740.5h0M112 842.6h0M120.5 773.5h0M123 842.9h0M114.8 781.7h0M133.4 829.2h0M102.4 809.3h0M106.1 774.9h0M132.4 775.9h0M138.2 789.4h0M135.8 750.4h0M111.6 740h0M135.3 833.4h0M115.9 787h0M141.1 778.5h0M138.5 823.9h0M118 815.9h0M134.1 809.3h0M136 788.2h0M112.8 806.7h0M126 844.7h0M116.8 740.4h0M126.6 750.8h0M110 804h0M129.9 845h0M134.2 757.2h0M119.7 802.5h0M119.4 801.5h0M110.5 762.3h0M125.3 831.6h0M126.1 808.1h0M140.5 764h0M120.5 826.6h0M124.6 736.4h0M117.2 825.5h0M101.1 779.3h0M141.8 785.9h0M118.9 801.5h0M134.9 786h0M137.4 813.3h0M111.5 803.4h0M115.9 741.3h0M106.2 828.4h0M114 751.8h0M132.6 753.5h0M118.7 766h0M124.3 749h0M116.3 828.9h0M94.3 827.6h0M125.5 762.7h0M137.5 755.2h0M116 816h0M121.9 743.5h0M139.8 834.4h0M123.6 757.9h0M137.1 836.6h0M131.3 821.1h0M131.1 827.1h0M110.4 815.1h0M113.8 843.8h0M131.5 785.7h0M127.4 800.2h0M122.7 737.2h0M127.2 836.3h0M123.3 819.1h0M123.7 752.2h0M103.9 799.8h0M129.9 782.1h0M126.8 772.8h0M107 754.7h0M112.1 799.6h0M96.3 837.8h0M108.6 838.7h0M126.6 777.6h0M133.2 809.1h0M113.6 808.4h0M126.1 772.2h0M100.7 807.6h0M120.2 741.5h0M111.2 768.6h0M129.7 816.9h0M142.3 802.5h0M103.8 791h0M132.9 820.6h0M123.8 765.3h0M106.4 823.3h0M139.8 836.3h0M134.8 828.6h0M115.2 742.4h0M106 829.7h0M103.2 791.8h0M134.9 738h0M128.5 795.6h0M132 747.4h0M140.7 799.3h0M123.7 759.5h0M127.7 756.1h0M106.6 773.9h0M135.8 798h0M96.7 812.6h0M128.1 798.3h0M140.3 788.2h0M124.4 742.4h0M106.3 769.1h0M113 792.1h0M96.5 811.7h0M121.1 738.9h0M107.7 824.7h0M128.7 777.3h0M99.3 818.2h0M135.9 745.2h0M112.4 796.1h0M126.7 758.4h0M133.4 802.8h0M132.2 839.8h0M126.2 809.5h0M106.1 766.1h0M110 824.8h0M121.6 766.7h0M137.6 792.7h0M141.6 807.6h0M128.9 773.9h0M142.2 788.7h0M125.7 780.4h0M117.8 755.6h0M109.8 781.4h0M129.3 753.6h0M100.9 806.6h0M115.2 832.6h0M133.9 818.7h0M109 792.7h0M136 757.3h0M105.4 797.2h0M126.9 807.1h0M106.7 773.6h0M110.2 768.1h0M101.4 790.2h0M118.1 772.1h0M96.2 831.5h0M106 784.5h0M126.5 764.6h0M110.3 834.6h0M123.6 784.9h0M101.6 822.1h0M139.1 762.5h0M134.9 777.1h0M115.5 739.1h0M101.1 826.5h0M140.1 771.1h0M132.4 769.2h0M120.8 757.5h0M137.9 792.6h0M121.3 823h0M117.9 789.8h0M127.7 788.1h0M120.6 768.9h0M141.2 800.8h0" stroke="#2c409a" stroke-width="1.9" stroke-linecap="round" fill="none" opacity="1"/>
<path d="M121 792.1h0M94.3 824.3h0M141.8 817.7h0M140.2 777.9h0M123.4 811.1h0M132.1 814.5h0M133.3 773.1h0M132 801.5h0M140.7 771.7h0M122.9 830.3h0M130.2 812.4h0M107.1 807.5h0M105 796.2h0M128 839.7h0M135.3 800.7h0M138.5 814.4h0M102 785.4h0M105.4 830.4h0M137.3 757h0M110.6 831.7h0M139.9 816.5h0M109.5 805h0M130.5 773.4h0M115.3 746h0M98.7 823.2h0M106.7 813h0M112.9 813.9h0M125.4 764.3h0M101.2 786.9h0M116.4 833.5h0M126.9 783.8h0M113.5 801.8h0" stroke="#e8dcc0" stroke-width="3" stroke-linecap="round" fill="none" opacity="1"/>
<path d="M148.9 736.3L167.7 736.3L167.7 845.5L152.6 845.5L155.1 815.7L151.9 783.4L150.1 758.6Z" fill="#f3f1ee" />
<path d="M151.3 768.9h0M160.3 838.9h0M160.2 759.2h0M167.1 823.2h0M153.1 776.5h0M162.4 821.1h0M159.5 762.8h0M163.5 751.6h0M157.1 795.4h0M151.7 758.3h0M160.4 755.2h0M151.8 760.4h0M166.6 834.3h0M156.6 739.7h0M154.3 774.3h0M166.8 751.5h0M154.8 771.1h0M159.9 840h0M156.7 741.1h0M155.9 829.4h0M157 742.9h0M153.6 761.1h0M155.5 771h0M161.5 814.8h0M164.4 831.9h0M163.8 755.6h0M162 744.5h0M161.6 760.5h0M164.7 828.4h0M157.7 815.5h0M166.7 833.8h0M161.1 803.5h0M155.6 810.9h0M150.5 746.3h0M161.5 782.8h0M154.4 795.2h0M158.1 756.4h0M167.6 819.1h0M165.7 769h0M166.1 835.7h0M166.6 755.7h0M151.8 745.4h0M155.6 815.8h0M167 768.7h0M156.5 817.2h0M154.6 828.7h0M167.7 760.6h0M157.8 752.2h0M159.4 779.2h0M167.2 815.7h0M167.6 824.8h0M164.4 778.1h0M161.4 748.6h0M155.4 836.9h0M167.4 755.2h0M158.2 780.5h0M160.6 801.1h0M153.8 832.4h0M157.4 821h0M162.5 843.3h0M158.6 800.6h0M163.4 761.4h0M162 818.2h0M164 758.2h0M165.4 806.2h0M166.7 797h0M165.2 742.5h0M161.5 778.4h0M160.1 762.1h0M155.1 762.6h0M158.9 766.6h0M159.1 767.1h0M153.8 839.9h0M156.5 764.9h0M162.4 834.7h0M155.9 816.4h0M155.1 844.8h0M154.5 740.3h0M160.7 767.6h0M156.7 780.9h0M155.7 757h0M159.2 809h0M153.8 788.2h0M156.5 799.8h0M156.6 791.8h0M156.9 772.4h0M164.9 768.4h0M163.8 782.6h0M154.2 758.3h0M167.6 838.6h0M157.8 824.5h0M161.5 769.4h0M160.1 760.3h0M163.5 841.9h0M157.9 842.2h0M157.4 738.2h0M157.6 774.8h0M166.2 793.3h0M167 754h0M156.1 737.9h0M157.1 836.8h0M153.3 736.8h0M162.1 812.3h0M165.2 838.5h0M164.4 796h0M162.1 749.8h0M161 775h0M155.2 770.5h0M163.3 737.3h0M158.6 738.8h0M159.2 754.5h0M167 771.1h0M158.8 764.9h0M165.9 737.2h0M154.6 760.9h0M163 776.9h0M165.1 772.1h0M150.5 752.9h0M158.7 799h0M152.9 755.9h0M158.7 784.9h0M158 809.5h0M151.5 737.6h0M162.1 753h0M155.1 769.9h0M166.3 781.3h0M162.4 745.7h0M161 785.1h0M165.3 826.1h0M161.4 845.2h0M167 832.7h0M158.4 746.4h0M160.7 780.6h0M157.8 805.6h0M162 813.6h0M156.7 755.1h0M165.3 740.7h0M152.8 757.1h0M160.1 804.2h0M159.7 811.3h0M154 778.3h0M160.5 825h0M158.6 748.3h0M156.5 744.9h0M167.6 739.9h0M155.7 842.8h0M153.6 770.1h0M167.5 836.9h0M156.2 809.5h0M163.9 775h0M161.9 841.6h0M157.2 781.2h0M156.1 802.6h0M166.9 739.7h0M165.3 795.9h0M166.7 761.2h0M152.6 778.2h0M157.4 757.9h0M166.3 818.3h0M154.3 761h0M154.2 779.5h0M161.2 821h0M166.8 745.1h0M152.6 777.8h0M166.8 786.2h0M162.4 826.8h0M157.6 777.5h0M163.5 806.2h0M167.6 765.8h0M166.9 789.4h0M165.3 806.3h0M159.5 829.7h0M158.1 825.8h0M157.6 814.4h0M158.7 829h0M161.9 778.2h0M158.7 778.8h0M165.3 769.5h0M152.3 763h0M161.8 763.1h0M156.8 834h0M167 760.6h0M166.7 742.7h0M167.7 771.3h0M166.9 739.7h0M161.9 837.2h0M164.3 798.8h0M151.8 762.2h0M166.7 830.9h0M153.1 773.8h0M160.4 769.4h0M156.5 787.6h0M165.3 817.7h0M163.5 738.1h0M164.2 822.8h0M162.7 831.2h0M159.1 833.4h0M164.4 822.9h0M157.1 816.9h0M156.4 771.1h0M163.3 812.3h0M155.7 814.3h0M153.8 791h0M152.4 773.8h0M156.8 745.9h0M154.8 774.7h0M155.1 791.6h0M165.8 829.1h0M154.5 751h0M163.2 817h0M166 780.1h0M152.1 746.2h0M156.4 820.2h0M150.4 759.7h0M159.3 807.3h0M166.7 771.3h0M153.3 743h0M152.4 740.1h0M159 786.2h0M166 789.3h0M150.5 752.2h0M162.1 843.3h0M163 761.9h0M155.4 784h0M157.1 767.1h0M151.8 739.2h0M165.5 842.8h0M167.3 777.8h0M161.8 758.9h0M151 736.6h0" stroke="#2c409a" stroke-width="1.9" stroke-linecap="round" fill="none" opacity="1"/>
<path d="M155.2 823.4h0M158.8 761.8h0M158 795.3h0M152.6 785.2h0M166.4 785.2h0M167.6 815.2h0M161.9 784.7h0M152.5 786.7h0M151.7 781.5h0" stroke="#e8dcc0" stroke-width="3" stroke-linecap="round" fill="none" opacity="1"/>
<path d="M93.9 803.7h0M59.6 760.5h0M148.1 789.9h0M61.1 800.4h0M89 802.7h0M136.3 741h0M73.9 813.5h0M80 757h0M93.5 795.2h0M77.2 776.8h0M97 764.6h0M64.9 744.2h0M151.1 826.2h0M60 740.9h0M91.6 828.2h0M64.5 766.2h0M89.9 790.7h0M61.5 790.8h0M61.6 839.4h0M66.1 753.3h0M56.9 800.8h0M79.3 785.7h0M87.6 828.8h0M149.4 781.3h0M143.7 797.7h0M66.5 767.6h0M79.3 839.6h0M87.2 776.4h0" stroke="#6a74b6" stroke-width="1.6" stroke-linecap="round" fill="none" opacity="1"/>
<path d="M74.4 738.8L81.9 771L76.9 803.3L84.4 843" fill="none" stroke="#e2dcd6" stroke-width="5" stroke-linejoin="round" stroke-linecap="round" opacity="0.7"/>
<path d="M62 738.8L67 783.4L62 843" fill="none" stroke="#e8e2dc" stroke-width="4" stroke-linejoin="round" stroke-linecap="round" opacity="0.7"/>
<path d="M47.1 742.5L50.9 751.2L52.9 759.9" fill="none" stroke="#8a1c58" stroke-width="1.1" stroke-linejoin="round" stroke-linecap="round" />
<path d="M52.6 795.4L53.3 800.3" fill="none" stroke="#8a1c58" stroke-width="2.4" stroke-linejoin="round" stroke-linecap="round" />
<path d="M49.9 832.1L50.9 836.5" fill="none" stroke="#8a1c58" stroke-width="3.2" stroke-linejoin="round" stroke-linecap="round" />
<path d="M134 747.5L137.5 754.2" fill="none" stroke="#8a1c58" stroke-width="2.2" stroke-linejoin="round" stroke-linecap="round" />
<path d="M143.4 828.6L143.9 833.6" fill="none" stroke="#8a1c58" stroke-width="1.8" stroke-linejoin="round" stroke-linecap="round" />
<path d="M141.9 790.9L143.4 808.3" fill="none" stroke="#8a1c58" stroke-width="0.7" stroke-linejoin="round" stroke-linecap="round" />
<path d="M29.4 796.5L42.2 798.8L41.6 802.1L50.9 798.3L43.4 791.6L42.8 794.9L30.1 792.7Z" fill="#f80000" />
<path d="M23.1 828.8L35.9 831.8L35.2 835L44.7 831.8L37.6 824.7L36.8 828L24 825Z" fill="#f80000" />
<path d="M118.6 766.6L128.2 762.5L129.5 765.6L135.2 757.4L125.3 755.9L126.7 758.9L117.1 763Z" fill="#f80000" />
<path d="M121.8 835L132 833.6L132.5 837L140.2 830.6L131.1 826.5L131.5 829.8L121.3 831.1Z" fill="#f80000" />
<rect x="17.9" y="837.2" width="19.3" height="2.2" fill="#3a12f0"/>
<text x="24" y="842.6" font-size="3" fill="#333">50 μm</text>
</g>
<rect x="16.5" y="737.9" width="151" height="106.4" fill="none" stroke="#000" stroke-width="1.4"/>
<g clip-path="url(#cp13)"><rect x="172.3" y="737.9" width="150.8" height="106.4" fill="#f2efea"/>
<path d="M172 778.3h0M238 834.2h0M250.2 816.3h0M212.5 769h0M250.4 824.2h0M233.5 742.4h0M225.4 811.6h0M181.5 771.9h0M208.8 764h0M179.1 752.9h0M209.1 737.7h0M237.8 781.8h0M193.8 763.7h0M197 801.7h0M231.1 783.3h0M231.1 798.8h0M239.4 815.9h0M235.4 738.9h0M200 748.9h0M241 754.2h0M183 812.4h0M185.8 776h0M207.5 805.5h0M214.2 808.8h0M237.8 841.9h0M223.1 782.9h0M212.4 774.2h0M241.3 796h0M229.6 825.7h0M229.5 833.1h0M208.8 812.4h0M240.2 766.8h0M183.6 829.4h0M217.1 841.3h0M221.2 764.5h0M180.3 834.4h0M191.6 754.3h0M215.1 814.6h0M219.1 741.5h0M236.8 810h0M197.7 837h0M212.3 820.1h0M177.7 769.8h0M234.7 811h0M230 812h0M172.3 829.7h0M173.5 762.8h0M195.8 790.9h0M178.1 783.1h0M181.9 772.9h0M199.4 748.7h0M238.7 739.6h0M187.1 833.8h0M204.6 839.6h0M196.2 792.9h0M215.1 780.5h0M238.2 791.7h0M199.8 828.6h0M221.2 818.6h0M213.3 780.4h0M231.5 753.4h0M210.6 758.1h0M243.9 822.1h0M203.9 822.1h0M216.4 807.8h0M190.4 820.6h0M225.5 845.1h0M192.4 780.2h0M236.6 764.5h0M235.5 829.1h0M184.1 815.8h0M194.8 766.1h0M200.1 821.3h0M224.6 778.2h0M228.4 824.9h0M186.7 830.7h0M214.5 805.7h0M210 813.7h0M171.3 779h0M216.3 785.3h0M213.1 827.7h0M179.7 814.9h0M194.1 745.4h0M209.5 750.4h0M209.2 754.7h0M208 751.2h0M207.9 802.2h0M227.6 750.4h0M177 783.3h0M223.2 775.7h0M232.3 770.3h0M239.8 838.1h0M239.9 743.1h0M205.9 794.4h0M202.7 756.6h0M220.3 749.3h0M184.3 781.9h0M225.3 836.1h0M219.8 817h0M210.3 823.2h0M244.8 736.4h0M224.7 744.2h0M234.7 783.5h0M181.6 828.3h0M191.1 834.7h0M202.8 797.3h0M208 819.4h0M200.3 792.3h0M189.6 773.1h0M179.4 764.8h0M193.7 811.6h0M182.4 753.1h0M177.3 830.7h0M234.9 802.8h0M181.8 737.6h0M177.7 786.9h0M217.3 827.3h0M176 744.1h0M178.1 776h0M250.1 821.5h0M173.7 800.8h0M185.4 760.9h0M197.5 763.2h0M195.2 760.8h0M199.4 800.8h0M218.1 815.9h0M193.9 739.3h0M218.9 770.5h0M187.9 781h0M231.3 741.1h0M216.5 812.7h0M243.9 819.3h0M174.3 844.1h0M171.3 820.4h0M210.2 837.7h0M177 806.9h0M180 782.7h0M181 769.2h0M174.4 795.2h0M177.8 762.9h0M236.5 768.3h0M219.5 830.7h0M224.4 825.7h0M185.9 844.9h0M189.4 830.6h0M178.9 830.4h0M189 820.4h0M180.8 791h0M219.1 797.3h0M243.8 740.1h0M230.6 829.4h0M214.6 762h0M238.2 783.2h0M192.3 820.7h0M235.3 826.3h0M212.2 737.9h0M172 796.6h0M173.1 804.2h0M181.3 821h0M171.6 811.6h0M189 845.4h0M210.5 792.7h0M173.1 766.8h0M201.4 801.5h0M175.6 835.1h0M236.5 817.7h0M228.7 829.8h0M185.2 781.3h0M187 837.4h0M210.3 826.9h0M191.5 802h0M233.8 773.6h0M192.9 745.6h0M223.7 781.1h0M187.1 771.3h0M197.2 749.9h0M220.7 753.2h0M188.4 775.7h0M188.1 828.5h0M238.2 805h0M217.3 835.1h0M227.3 807h0M178.9 737.1h0M231.8 787.6h0M244.9 842.5h0M191.7 758.1h0M219 738.6h0M178.6 744.4h0M195.4 784.5h0M186.7 811.4h0M234.9 827.2h0M216.7 818.7h0M238.1 815.8h0M197.1 799.1h0M200.6 737.5h0M221.4 748.8h0M208 756.8h0M179.8 833.2h0M198.1 840.9h0M233.1 800.5h0M211.4 807.2h0M239.3 757.1h0M216.2 765.7h0M185.9 760.1h0M237.4 838.2h0M207 755.4h0M185.1 769.8h0M201.7 832.8h0M214.9 789.9h0M223.6 755.6h0M201.7 784.4h0M175.5 769.7h0M218.9 802.1h0M192.7 744.2h0M218.8 753.2h0M170.3 841.5h0M232.5 838.6h0M197.2 820.4h0M242.9 804.9h0M172.8 766.3h0M202 784.1h0M218.9 756.6h0M188.9 738.7h0M204.3 749.1h0M189.9 738.3h0M213.4 799.4h0M173.4 795.9h0M238.6 762.3h0M223.9 815.4h0M217.9 775.3h0M213.7 809.2h0M207.4 816.7h0M234.1 818.3h0M207.1 752.3h0M184.8 768.7h0M218 742.8h0M196.5 752.4h0M215.8 758.2h0M240.4 743.2h0M200.5 817.9h0M250.6 832.2h0M218.1 772.4h0M186.4 811.5h0M175.1 807.2h0M189.6 756.7h0M222.6 778.9h0M174.8 752.5h0M237.5 778.7h0M236.7 803.8h0M170.2 773.7h0M221.3 762.9h0M181.3 845.4h0M197.7 808.2h0M207.7 844.2h0M189.4 739.7h0M225.5 812h0M241.4 748.4h0M185 788.1h0M193.8 750.4h0M182 741h0M206.6 751h0M172.4 746.7h0M230.1 806.8h0M199.4 824.2h0M173.8 781.9h0M182.7 788.7h0M200 743.7h0M241.8 822.6h0M220.1 781.8h0M217.6 790.9h0M218.6 771.3h0M239.7 793h0M190.1 800.2h0M236.5 790.7h0M197.7 795.7h0M229 756.2h0M205.8 793h0M235 755h0M185.6 789.6h0M171.3 783.8h0M180.9 758h0M201.2 834.1h0M222.3 766.9h0M224.5 792h0M170.1 784.3h0M230 824.4h0M213.9 777.8h0M208 825.8h0M207.3 795.6h0M234.9 831.2h0M219.9 793.9h0M178.6 777.4h0M186.2 820.6h0M227.4 751.1h0M219.5 831.7h0M201.3 794.2h0M205.7 842.7h0M242.8 833.8h0M192.3 801.9h0M204.1 759.1h0M177.1 779.2h0M240.5 824.2h0M208.8 780.4h0M181.9 823.4h0M234.8 760.1h0M227.2 833.8h0M200.7 761.6h0M233.7 804.3h0M203.7 736.8h0M197.6 813.2h0M185.9 788.8h0M235.9 774.3h0M180.6 810.1h0M228.6 802.7h0M213.6 785.7h0M190.5 776.5h0M240.5 817.4h0M186 825.5h0M237.5 812h0M222.7 761.6h0M170 831.1h0M198.3 826.2h0M243.1 829.8h0M232.7 815.6h0M240.1 839.1h0M248.6 832.3h0M197.5 836.8h0M177.8 756.4h0M244.1 796h0M175.6 752.7h0M245.5 824.5h0M206.6 807.7h0M173 838.6h0M194.2 758.1h0M211.6 788.5h0M211.7 814.8h0M185.7 823.1h0M197.8 779.9h0M246.7 817h0M232.3 823h0M206.1 774.1h0M214.7 828.9h0M184.8 812.9h0M210.6 839.4h0M230.7 837h0M205.3 786.7h0M191.3 759h0M196.7 759.6h0M223.5 798.4h0M233 818.3h0M222.6 794.1h0M210.8 773.5h0M196.5 772.6h0M213.5 784.8h0M216.8 809.3h0M222 799.8h0M208.5 786.5h0M190.2 843.5h0M176.3 824.3h0M211 774.1h0M196.2 839.6h0M198.6 799.4h0M205.5 808.6h0M217.7 794.4h0M179 739.2h0M225.6 736.5h0M214.3 766.8h0M233.4 771.8h0M174.1 753.6h0M198.3 806.8h0M230.3 827.2h0M173.9 809h0M200.3 802.5h0M184.9 779.7h0M190.8 810.4h0M213 805.8h0M235.3 775.4h0M192.9 807.7h0M196.5 790.6h0M223.8 797h0M188.3 780.7h0M246.8 829.7h0M175.1 755.2h0M190.1 821.4h0M229.2 754.4h0M237.6 830.8h0M239.7 774.3h0M240 764.7h0M203.6 769.5h0M240.2 819.7h0M215.4 795h0M194.9 800.4h0M174 815.2h0M209.6 800.2h0M202.4 837.6h0M188.2 789.5h0M229.1 817.8h0M196.2 749.6h0M229 750h0M240.5 738.4h0M245.3 825.3h0M213.3 833.5h0M236.6 809.7h0M192.1 746.1h0M179.9 746.8h0M227.7 812.9h0M201 830.3h0M237.7 843.3h0M170.7 840.5h0M205.3 823.4h0M187.7 795.4h0M234.3 814.9h0M229.4 746h0M240.1 798h0M223.1 760.6h0M237.5 819.3h0M191.3 837.8h0M205.5 830.2h0M189.8 777.1h0M188.1 740h0M182.1 753h0M214.2 789h0M179 836.4h0M224.3 792.8h0M193.4 781.9h0M213 837h0M204.1 829.5h0M175.8 813.7h0M180.3 766.1h0M177.2 832.5h0M246.4 822.9h0M212.6 748.5h0M214.5 834.4h0M231.7 736.5h0M254.5 839.9h0M220.3 738.7h0M231 804.5h0M170.3 784.8h0M171.4 743.1h0M228 819.9h0M197.8 753.4h0M193.4 761.2h0M217.6 766.1h0M189.6 804.5h0M208.3 745.4h0M203.1 767h0M238.3 762.5h0M224.7 810h0M205.6 741.2h0M215.7 748.1h0M190.5 837.3h0M184.9 840.9h0M183.6 739.7h0M172.6 827.9h0M199.5 773.5h0M224.2 769.5h0M210 807.5h0M193.5 751h0M225.9 807.4h0M170.3 783.6h0M242.4 801.1h0M227.7 842.9h0M187.3 779.4h0M182.6 834.4h0M220.1 831.7h0M226.2 773.4h0M230.7 765.9h0M213.1 804.8h0M236.4 763.1h0M234.5 795.6h0M223.7 746.7h0M215 746.4h0M223.9 822.8h0M202.8 783.6h0M223.4 797.3h0M228.6 774.4h0M174.6 810.2h0M189.1 813.2h0M225.8 830.2h0M175 788.9h0M199.1 773.6h0M192 827.2h0M208.9 796.4h0M180 797h0M224.1 749.8h0M198.9 765.4h0M217.2 745h0M234.2 834.5h0M207.6 777.2h0M223.2 769.7h0M191 836.1h0M225 790.7h0M209.3 823.1h0M233.2 767h0M196.7 781.1h0M174.7 782.1h0M179.8 809h0M198.4 771.9h0M188.6 763.6h0M189.6 833h0M208.9 795.9h0M197.2 840.4h0M221.2 754.9h0M228.2 736.4h0M188.2 783.2h0M247.8 820.8h0M237.2 799.6h0M186.8 807.4h0M219.4 752.8h0M174.8 793.7h0M224.5 747.7h0M245.1 833.2h0M195.7 814.8h0M233.3 783.4h0M194.6 749.1h0M240.7 816.9h0M189.5 808.3h0M213.7 798.3h0M205.6 798.1h0M217.9 771.2h0M201.3 754.1h0M223.9 825.9h0M189.5 800.6h0M203.3 756.1h0M175.3 740.3h0M233.6 750.9h0M194.1 792h0M186.8 799.7h0M210.5 760.7h0M228 806.1h0M236.4 804.4h0M218.9 740.3h0M196.3 783.1h0M173.8 747.1h0M240.5 748.4h0M217.9 762.3h0M215 779.1h0M192.7 786.2h0M193.7 839.4h0M209.3 750.2h0M233.5 754.2h0M233.6 820.9h0M233.9 822.7h0M239.7 802.4h0M246.5 817.6h0M202.6 776.6h0M241.8 837.5h0M202.2 837.1h0M237.9 812.3h0M198.9 766.3h0M194.7 811.2h0M209.6 760.6h0M182.5 824.7h0M186.2 755h0M215.4 742.2h0M204.6 758.5h0M243.5 796.8h0M212.2 787.4h0M171.5 828.4h0M218.3 822.2h0M242.4 840.9h0M247.3 833h0M182.5 844.9h0M206.9 748.2h0M210.3 844.5h0M230.3 786.5h0M196.9 759.4h0M206.7 767.8h0M211.8 798.7h0M204.6 801.1h0M205.4 790.7h0M211.5 828.3h0M246.5 800.1h0M234.8 769.3h0M183.9 770.6h0M181.8 819.9h0M248.4 806.4h0M188.6 750.6h0M236 799h0M182.4 844.7h0M234.4 841.4h0M249.5 839.3h0M183.6 774.2h0M215.9 805.9h0M182.9 766h0M236 841.8h0M210.6 838.1h0M244.8 834.7h0M186.1 778.3h0M226.7 825h0M241.1 749.4h0M227.9 739.1h0M196.5 742h0M213.7 750.1h0M226.4 780.8h0M239.3 771.6h0M176.9 790.9h0M212.9 828.6h0M172.2 756h0M190.9 783.7h0M240.2 808.8h0M190.2 778.6h0M235.6 797h0M179.2 775.6h0M172 786h0M189.7 769.2h0M199 830.7h0M177.1 746.1h0M181.2 783h0M207.2 837.9h0M232.1 765.6h0M181.2 796.1h0M235.4 776h0M251.9 840.6h0M184.8 824.3h0M220.5 778.6h0M214.3 835.2h0M211.1 797.9h0M212.3 739h0M234.9 747.7h0M218.5 764.2h0M228.5 804.6h0M233.9 825.8h0M189.6 789.2h0M187.7 793.5h0M196.9 744.9h0M239.1 786h0M242.1 747.7h0M198.8 749.1h0M221.8 741.8h0M207.6 778.7h0M230.2 762.1h0M213.9 787.7h0M199.3 742.5h0M173.3 836.1h0M181.4 757.4h0M197.3 740h0M199.2 767.1h0M197.9 827.8h0M217.7 845.4h0M196.2 744h0M235.2 815.8h0M239.7 747.2h0M231.7 811.9h0M218.4 803.5h0M209.6 783.2h0M210.6 802.7h0M217.6 778.9h0M184.6 813.2h0M170.5 832.2h0M174.2 754.8h0M233.7 783.7h0M195.5 789.6h0M200.8 839.8h0M190.8 746.6h0M232.8 823.9h0M238.1 779.6h0M228.3 759.3h0M192.8 839.2h0M242.8 839.5h0M217.2 813.8h0M200.9 779.7h0M249.3 817.7h0M205.3 836.5h0M249.3 825.7h0M231 747.8h0M209.2 737.6h0M207 757.5h0M205 809.5h0M227.8 832.6h0M198.5 782.1h0M191.7 828.4h0M237.8 808.8h0M225.4 768.3h0M193.7 819.3h0M177.8 844.6h0M182.3 759h0M235 835.8h0M183.3 838.9h0M213.6 749.9h0M216.7 761.6h0M225.4 804.9h0M241.4 836.8h0M243.8 810h0M232.4 831.1h0M241.6 790.4h0M250.5 841.3h0M186.8 759.4h0M222.5 795.9h0M206.1 790.7h0M187.7 781.9h0M220.7 818.5h0M230.4 747.5h0M187.9 789h0M236.1 766.4h0M233.1 761.3h0M195.9 829.1h0M186.7 828.1h0M217.1 739.1h0M210.2 795.4h0M180.6 777h0M211.5 788h0M233.7 753.2h0M219.9 817.9h0M240.7 741.9h0M233.6 753.1h0M188.8 836.2h0M237.6 815.3h0M206.6 761.6h0M224.4 828.9h0M233 813.9h0M175.3 786.8h0M194.8 794.6h0M227.2 801.8h0M170.2 769.8h0M194.3 782.3h0M194.3 757.3h0M189 789.9h0M246.6 832.9h0M234.4 836.2h0M186.5 805.2h0M200.8 754.6h0M193.5 806.9h0M181.4 747.6h0M242.4 825.3h0M172.6 758.1h0M170.2 794.4h0M219.3 784.4h0M232.3 800.6h0M232.6 747.9h0M179.2 737.4h0M239.4 821h0M202.5 837.7h0M224 792.2h0M173.4 789.2h0M202.4 783.9h0M199.4 829h0M201.5 746.9h0M191.4 827.6h0M214.2 774.6h0M244.9 843.7h0M205.6 751.5h0M197.4 748.5h0M244.7 814h0M197.5 807.2h0M242.5 844.9h0M184.8 786.4h0M225.3 784.7h0M215.2 786.2h0M205 798.9h0M203.8 768.6h0M205.5 821.5h0M183.2 787.9h0M189.8 837.6h0M170.6 774.3h0M190.1 816.6h0M212.9 746.6h0M178.8 741.1h0M194.3 781h0M253 833.4h0M217 809.1h0M223.1 825h0M201.6 807.1h0M188.5 761.1h0M192.8 780.4h0M195.3 801.6h0M173.4 770.8h0M221.7 823.1h0M237.3 783.3h0M223.3 739.1h0M249.1 809h0M237.8 747.9h0M205.4 768.9h0M242 819.3h0M183.5 842.1h0M187.5 750.9h0M217.9 784.1h0M247.6 814.2h0M197.1 752.8h0M230.4 739.7h0M195 745.3h0M199.8 844.7h0M242.3 796.4h0M225.2 805.3h0M237.2 827h0M252.4 839.5h0M199.3 840h0M191.4 748.7h0M225.7 741.4h0M244.9 843.1h0M238.6 764.4h0M215.2 742.2h0M208.1 826.2h0M186.7 753.5h0M200.3 774.7h0M198.5 771.6h0M176 806.4h0M212 803.1h0M197.8 834.9h0M236.2 796.9h0M202.7 829.4h0M207.2 781.8h0M218.5 742.5h0M212.4 745.4h0M248.6 822.7h0M180.4 759.4h0M226.8 795.6h0M204.6 780.8h0M189.2 781h0M174.3 743.6h0M190.1 739.2h0M190.3 758h0M200.3 801h0M240.1 797.4h0M235.1 805.2h0M170.6 776.3h0M181.1 811.2h0M201.1 783.7h0M183.2 842.2h0M193.7 751.6h0M201.7 770.9h0M186.1 812.3h0M206.8 737.6h0M244.2 844.1h0M216.7 820h0M170.4 758.2h0M237.8 812.2h0M180.2 765.5h0M176.4 822.7h0M224.8 774.5h0M218.4 790.9h0M192.3 794.8h0M170.6 814.7h0M207.2 801.1h0M228.5 820.7h0M198.1 818.4h0M200.7 821.3h0M213.4 798.9h0M212.6 774.1h0M175.2 821.3h0M186.8 754.4h0M181.5 821.3h0M230.2 772.1h0M211.7 775.2h0M212.1 740.5h0M194.5 840.9h0M197.3 812.8h0M223 787.1h0M223.1 812.3h0M219.2 822.1h0M195.6 761.4h0M209.3 822.3h0M212.5 736.9h0M209.6 834h0M184.2 798.8h0M194.3 795.5h0M235.3 772.2h0M184.7 785.2h0M195.9 760.1h0M210.4 822.1h0M218 800.5h0M189.1 794.4h0M234 772.6h0M171.6 842.2h0M213.2 841.7h0M222.2 773.5h0M185.1 838.2h0M235.2 799.1h0M171.5 769.2h0M206.1 746.4h0M210.3 787.6h0M187.4 793.7h0M251.4 831.7h0M189.9 788.5h0M176.3 829.2h0M170.9 792.1h0M170.7 769.4h0M234.1 810.4h0M177.3 786.7h0M211.1 754.3h0M181.1 770.3h0M204.1 840.4h0M197.9 833.8h0M171.7 787.3h0M182.8 742.9h0M194.8 812.2h0M221.9 767.7h0M232.2 813.2h0M244 811.7h0M177.6 821.7h0M251.7 832.1h0M226.2 750h0M232.3 837.4h0M188.2 738.9h0M250.1 833.5h0M177.3 786.3h0M243.4 803.4h0M214.6 845.2h0M172.4 776.9h0M183.3 841.3h0M219.9 764.9h0M244.3 836.1h0M211.2 840.1h0M188.4 811.8h0M230.1 826.8h0M202.8 748.7h0M213.2 830.4h0M195.3 832.5h0M192.6 787.6h0M226.6 824.9h0M203.4 819.2h0M238.1 822.5h0M192.8 830.6h0M235.3 801h0M198.6 815.4h0M175.8 817.1h0M205.7 819.4h0M220.3 775.4h0M197.1 791.2h0M181.5 764.6h0M224.5 757.6h0M197.4 755.5h0M193.6 779.6h0M181.6 770h0M252.4 838.6h0M248 839.9h0M230 841.7h0M224.7 781h0M184.4 807.5h0M252.5 838.7h0M228.5 845.5h0M231.7 829.7h0M244.4 797h0M188.4 826.6h0M237.8 805.7h0M210.2 764.9h0M242 808.9h0M227.3 825.9h0M172.2 823.1h0M174 830.7h0M192.3 794.6h0M212.3 742.8h0M244.6 830.3h0M207.3 822.9h0M182.8 824.4h0M239.1 816h0M172.8 768.8h0M226.6 827.2h0M212.1 811.3h0M208.9 799.9h0M194.3 758.2h0M244.5 796.7h0M197.4 768.5h0M198.8 792.9h0M183.4 785.5h0M199.9 778.5h0M201.3 741.2h0M233.9 839.5h0M202.5 774.4h0M227.8 839.2h0M215.6 806.9h0M179.2 770.4h0M208.8 807.6h0M202.6 816.9h0M215 747.3h0M197.4 799.4h0M240.8 757.3h0M238.4 808.4h0M240.4 743.5h0M214.2 752.1h0M236.2 810.3h0M189.7 844.4h0M188.5 820.8h0M198.9 830.3h0M193.7 829.5h0M200.2 800.6h0M196.9 804h0M175 775.9h0M200.2 800.8h0M238.6 790.2h0M232.7 779.7h0M188.1 772.8h0M202 789.5h0M211.9 822.8h0M237.8 779.9h0M235.8 801.5h0M172.9 826.7h0M245.6 806.2h0M213.3 835.5h0M174.6 792.7h0M187.3 787.3h0M221.4 760.4h0M175.5 790.3h0M228.2 793.6h0M239.8 845.3h0M208.4 799.4h0M188.6 838.9h0M235.7 841.6h0M203 791.1h0M214.5 747.5h0M192 808h0M198.6 791.9h0M205 765.1h0M184.6 770.2h0M174.8 767h0M175.4 832.4h0M225.2 790.5h0M197.5 810.4h0M199.2 827.8h0M214.2 776h0M173.2 760.7h0M232.7 789.7h0M230.3 783.1h0M214.9 807.4h0M237.9 839.1h0M224.6 826.4h0M183.8 758.5h0M209.2 762.8h0M216.6 769.4h0M240.6 840.6h0M204.6 824.3h0M222.8 760.9h0M214.4 750.1h0M196.4 744.4h0M185.4 832.9h0M213.5 830.8h0M209.3 769.9h0M211.8 775.7h0M186.9 760.3h0M213.4 778.7h0M180.3 802.9h0M245.4 795.9h0M198.9 790.8h0M191 741h0M195.9 778.1h0M236.4 781h0M196.8 755.6h0M237.4 754.4h0M218.1 791.5h0M232.8 793.7h0M194.6 839.8h0M211.3 754.2h0M216.5 792.4h0M178.1 740.7h0M212.4 814.6h0M200.7 806.6h0M192.1 815.6h0M238 794.6h0M202.3 737.3h0M202.2 819.7h0M236 783.3h0M208 802.6h0M174.6 793.3h0M242.4 750.1h0M176.6 790.5h0M222.2 777.6h0M205.6 838.4h0M254.9 843.4h0M184.6 771.2h0M192.6 835.4h0M222.7 797.1h0M177.4 823.2h0M194.8 737.6h0M184.4 831.4h0M227.7 784.8h0M190.7 840.7h0M199.3 816.9h0M224.7 778.6h0M192 761.1h0M173 785.5h0M249.6 815.9h0M199.6 769.3h0M238.7 826h0M196.7 763.6h0M192.4 825h0M210.8 809.9h0M227.9 823.6h0M216.3 739h0M226.6 762.7h0M243.1 800.1h0M228.8 811.3h0M242.8 825.5h0M248.5 826.4h0M191.7 817.7h0M200 818.5h0M217.6 799h0M177.9 756.2h0M180.9 747h0M244.2 835.6h0M199.9 786h0M219 812.2h0M177.2 842.5h0M172.5 748.7h0M231.8 772.2h0M224.6 797.3h0M211.1 792.8h0M235.4 800.6h0M195.3 738.9h0M172.4 795.6h0M209 756.3h0M183.2 758.2h0M246.2 797.6h0M205.6 798.4h0M207 790h0M176.2 843.7h0M220 815.4h0M175.1 760.7h0M184.5 757.6h0M203.6 826.9h0M220.6 815h0M212.6 837.3h0M227.6 840.2h0M240 796.5h0M203.9 746.1h0M193.2 746.2h0M175.9 821.2h0M213.1 776.4h0M230.8 771.1h0M186.9 760.4h0M251.6 832.8h0M187.2 837.7h0M172.8 812.5h0M209.2 761.1h0M220.9 760.8h0M215 817.7h0M206 834.8h0M187.9 737.5h0M200.1 744.5h0M195.8 749.5h0M211.1 764.4h0M249.2 823.3h0M200.3 794.9h0M177.2 743h0M240.1 745.9h0M201.4 762.2h0M187.9 760h0M188.8 838.2h0M190.5 807.3h0M190.4 837.9h0M176.7 744.6h0M241.9 841.2h0M205.7 833.2h0M234.9 821.3h0M227.2 761.6h0M174.4 772.6h0M192.9 793.3h0M200.2 780h0M196.8 751.3h0M193.9 809.1h0M194 833.9h0M195.3 807.7h0M246 825.5h0M188 759.6h0M174.1 839.2h0M193.8 779.2h0M235.5 768.1h0M231.7 738.1h0M204.7 739.3h0M240.1 767.5h0M239.6 818.8h0M179.4 769h0M237.9 811h0M205.9 750.8h0M184.3 774.4h0M212.1 807.6h0M244.3 811.8h0M217.5 794h0M222.4 741.9h0M173.7 795.7h0M206.8 830.8h0M189.8 774.3h0M191.5 807.7h0M238.6 747.2h0M202.9 810.6h0M233.2 820.3h0M184 815h0M208.5 833.1h0M186.7 827.9h0M184.4 774.2h0M201.5 832.6h0M184.7 781.5h0M201.5 794.3h0M232.3 739.6h0M189.9 745.3h0M212.1 807h0M237.2 815.5h0M183.8 844.6h0M171.3 757.5h0M223.9 806.7h0M203.3 810.6h0M208.6 770.5h0M196.8 783.1h0M179.2 814.3h0M184.4 799.6h0M249.3 825.1h0M239.9 756.5h0M238.9 737.7h0M189.3 766.3h0M228 843.5h0M188.2 790.7h0M194.5 815.4h0M170.8 835.3h0M195.6 755.7h0M240.6 815.9h0M237.4 832.2h0M208.8 783.2h0M237.8 790.3h0M190.8 803.3h0M207.4 819.5h0M244.5 822.8h0M175.8 796.6h0M208.2 741.3h0M194.6 737.1h0M230.4 759.6h0M185.1 830.8h0M192.9 811.2h0M226.7 805.5h0M176.5 759.9h0M195.7 790.4h0M172.9 813.9h0M236.1 841.8h0M197 811.6h0M250.2 830.2h0M209.5 840.6h0M216.4 797.9h0M219.2 756.7h0M203.5 791.3h0M237.3 797.5h0M199.5 842.3h0M176.7 755.6h0M199.8 843.2h0M209.9 780h0M240.4 761.6h0M238.4 744.6h0M220.8 838.9h0M221.6 762.9h0M188.2 824.2h0M192.7 837.8h0M206.7 747.2h0M232.3 816.9h0M227.3 737.4h0M201.6 789.8h0M206.8 774.6h0M223.5 785.7h0M197.2 789.1h0M216.5 740.7h0M197.3 763.9h0M193.7 775.3h0M193.5 776.3h0M228.5 761.8h0M195.1 815.6h0M225.9 769.7h0M194.2 814.3h0M202.1 824.2h0M227.6 761.7h0M218.3 834.1h0M224.3 831.9h0M199 767.4h0M216.3 775.6h0M214.8 763.9h0M187.7 802.7h0M179.6 761.4h0M177.7 811.6h0M183.4 766.2h0M243.3 793.2h0M209.9 772.1h0M214.2 821.1h0M200.8 751.3h0M185.7 812.8h0M210.9 837.9h0M188.8 814.2h0M203.3 767.1h0M231.3 771.3h0M188.9 785.3h0M206.3 745.5h0M201 750.2h0M182.5 756.3h0M176 796.2h0M225.3 829.1h0M192.3 824.1h0M233.9 742.6h0M186.8 758.3h0M244.5 817.8h0M175.3 762.7h0M183.8 804.8h0M206.7 839.3h0M193.2 791.1h0M204.7 823.1h0M186.4 830.9h0M220.3 779.3h0M235.9 841.5h0M246.3 843.6h0M207.8 820.9h0M208.7 836.8h0M236.8 769.6h0M236.2 749h0M203.6 798.9h0M196.2 737.4h0M219.1 803.3h0M226.6 754.5h0M176 741.2h0M216.5 740.4h0M187.4 790.8h0M202.1 811.1h0M181.4 792.7h0M206.1 757.7h0M247.7 838.1h0M172 812.4h0M195.4 824.3h0M217.3 800.9h0M230.8 793.2h0M240.1 797.1h0M233.1 737.5h0M211.2 835h0M211.6 811.8h0M215.4 838.1h0M176.5 767.1h0M184.2 831.3h0M194.4 763.2h0M221.8 813.8h0M191.8 826.6h0M208.6 790.6h0M201.2 786.1h0M172.8 740.6h0M200 843.2h0M196.5 746.4h0M225.4 768.9h0M180.8 760.2h0M235.6 795.2h0M226.7 816h0M218.9 810.6h0M186.5 756.4h0M207.3 828.1h0M189.1 821.3h0M240.7 816.6h0M179.2 750.4h0M239.1 760.2h0M171.9 800h0M229.6 826.2h0M231.1 801.5h0M200.8 837.5h0M192.8 785.7h0M179.5 799.2h0M228.7 792.6h0M202 741.2h0M224.2 740.9h0M234.9 803.8h0M243.7 808.4h0M235.1 767h0M216.9 778.2h0M242.1 805.3h0M217.3 803.2h0M237.2 844.3h0M186.8 841.2h0M194.2 783.8h0M232.8 825h0M199.2 769.9h0M215.3 788.7h0M204.3 769.1h0M170.9 838.1h0M199.9 836.1h0M223.6 748.3h0M185.2 777.2h0M186.8 747.7h0M235.5 790h0M183 792.6h0M228.2 827.6h0M207.2 759.4h0M173.2 800.7h0M215.1 844.9h0M191.1 742.2h0M215.3 812.2h0M190 766.4h0M186.1 828.5h0M219.1 766.3h0M200.7 764.1h0M171.9 827.1h0M235.7 770.7h0M199.4 837.9h0M192.5 812.9h0M237 770.9h0M184.9 812.3h0M199.5 786.1h0M189.2 803.6h0M190 785.7h0M188.6 805.6h0M225.9 741.6h0M237.4 838.6h0M195.6 822.2h0M196.3 834.5h0M205.1 774h0M185.7 832.6h0M249.7 813.6h0M177 788.6h0M241.6 807.2h0M205.2 789.5h0M190.6 778.9h0M252.1 836.9h0M222.4 813.5h0M197.7 806.6h0M173.8 738.8h0M204.6 817h0M190.6 839.3h0M235.5 751.5h0M236.7 759.5h0M230.9 741.7h0M238.4 774.4h0M228.9 743.9h0M212.7 778.5h0M182.5 782.4h0M238.8 825.2h0M219.8 803.7h0M239.1 789h0M197.7 845.1h0M181.9 840.3h0M233.6 755.5h0M231.5 841.3h0M235.3 836.6h0M229.6 816h0M247.6 837.7h0M201.4 755.3h0M202.4 747.7h0M209 802.2h0M201.6 813.8h0M192.6 739.5h0M197.8 822.1h0M178.8 769.4h0M212.1 829.9h0M220.1 786.6h0M223.5 838.1h0M202 756.7h0M216 751h0M190.8 808.2h0M208.4 755.7h0M170.1 842.5h0M242.1 805.7h0M217.8 788.5h0M252.8 844.5h0M226.2 837.4h0M189.7 790.2h0M218.6 771.7h0M220.4 800h0M204.8 796.3h0M170.2 739.5h0M172.4 832.2h0M244.2 818.9h0M192.2 803.4h0M182.8 795.1h0M214.9 810.3h0M180.3 837.5h0M220.3 845.3h0M177.8 815.6h0M240 844.7h0M190.2 771.9h0M246.3 812.6h0M179.5 802.5h0M195.4 823.6h0M178.9 815.2h0M204.2 753.6h0M191.6 823.6h0M251 841.7h0M173.3 832.7h0M223.6 778.9h0M173.2 814.6h0M215.8 759.9h0M215.7 745h0M250.7 828.7h0M232.7 844.7h0M185.2 789.2h0M251.7 834.9h0M224.8 748.4h0M212.3 796.7h0M216 767.6h0M188.9 769.3h0M191 841.4h0M184.4 758.8h0M172.8 779.1h0M217.6 808.1h0M244.2 836.3h0M171.2 823.8h0M188.7 802.9h0M240.5 749.6h0M216.3 838h0M204.9 806.1h0M235.6 776.1h0M179.2 812h0M171.8 837.6h0M211.2 796.7h0M182.1 794.8h0M207.6 807.6h0M177.9 767.6h0M216.3 820.7h0M226.6 739.2h0M224.4 843.8h0M191.8 791.8h0M212.8 751h0M222.2 828.3h0M185.2 803.7h0M216 759.5h0M236.7 744.3h0M229.6 808.8h0M227.6 820.5h0M193.1 784.4h0M220.6 814.1h0M204.9 775h0M223.4 746.4h0M216.2 780h0M228.5 772.1h0M174.7 812.4h0M197.3 744h0M173.7 840h0M213 751.5h0M175.4 797.2h0M207.1 741.3h0M216.4 791.7h0M219.6 748.2h0M170.4 804.4h0M170.1 791.9h0M203.3 830.8h0M215.2 752.4h0M182.4 825.9h0M189.7 801.3h0M200 769.6h0M201.3 803.9h0M200.8 772.9h0M200.7 829h0M235.1 777.8h0M232.3 809.7h0M170.1 792.2h0M230.5 770.9h0M224.9 829.3h0M232.4 751.9h0M212.7 751.1h0M236.4 794.7h0M174.8 842.7h0M212.2 829.5h0M207.5 810.5h0M212.6 756.1h0M170 819.7h0M248.4 814.3h0M215.5 827.9h0M198.3 766.9h0M237.2 832.9h0M217.7 794h0M222.6 778.8h0M206.3 743.9h0M220.2 824.1h0M200.1 812.9h0M232.6 811.3h0M184.8 785h0M221.5 832.6h0M171.7 747.5h0M186.4 822.8h0M183.4 794.7h0M195.8 812h0M206.4 766.1h0M215.4 833.7h0M243.8 794.7h0M231.2 837.1h0M230.6 803.7h0M235.9 748.7h0M218.8 764.9h0M212.7 745.6h0M194.4 792.7h0M239.6 843.2h0M239.2 778.9h0M180.3 769.9h0M227.8 797.7h0M179.6 760h0M228.7 839h0M208 792.9h0M246.6 817.1h0M227.6 795.5h0M239.9 771.8h0M174.5 824.8h0M228.1 747.2h0M209.1 744.9h0M182.6 824.4h0M230.4 798.5h0M215.3 775.2h0M237.4 843.1h0M177.4 765.2h0M236.1 811.6h0M236.9 751.2h0M204.9 787.7h0M171.9 798.2h0M184 790.8h0M235.6 746.3h0M250.1 817.9h0M201 746.6h0M228.8 783.4h0M222.5 773.3h0M182.6 781h0M188.7 791.5h0M191.3 815.4h0M243.3 810.3h0M194.3 742.2h0M234.2 780h0M222.6 829.9h0M196.4 779.2h0M192.1 738h0M240.7 736.8h0M189.9 786.6h0M205.1 772.5h0M185.1 739.5h0M171.6 752.2h0M187.5 827.4h0M226.8 797.5h0M176.2 770.6h0M251.3 834h0M225.5 763.6h0M224.9 794.5h0M220.2 742.1h0M189.8 767.1h0M214.3 770.2h0M202 790.5h0M218.2 775.4h0M199.6 798.8h0M223.5 817.1h0M223.8 749.5h0M200.3 806.1h0M230.9 835.3h0M232.5 801.6h0M222.2 765.7h0M219.1 776.2h0M198.5 760.5h0M251.8 841.9h0M196.1 792.5h0M175.7 826.7h0M192.8 829.3h0M189.9 792.3h0M229 801.3h0M247.5 816.5h0M211 778.9h0M203.8 785.9h0M240.6 739.5h0M195.9 812.6h0M179.2 823.6h0M200.1 832.8h0M190.2 820.6h0M218.3 820.9h0M246.4 833.5h0M209 803.4h0M222.3 747.5h0M219.1 836.7h0M216.2 756h0M196.3 835.5h0M205.8 745.4h0M194.3 798.8h0M184 789.9h0" stroke="#2c409a" stroke-width="1.9" stroke-linecap="round" fill="none" opacity="1"/>
<path d="M211.3 808.8h0M193.7 756.9h0M209.8 756.1h0M217.9 779.3h0M215.2 766.7h0M181.7 751.1h0M217.8 793h0M222.9 810.5h0M176.4 842.2h0M184.4 823h0M177.2 806.3h0M196.4 841.6h0M181.4 789.9h0M180.7 750.3h0M231.3 822.3h0M183.2 844.7h0M182.8 768.6h0M191.2 764h0M221 737.6h0M238.9 825.4h0M181.3 767.8h0M181.1 838.1h0M221.7 814.4h0M235.6 818.2h0M201.2 787.9h0M222.2 790.9h0M191.3 770.7h0M227.6 744.6h0M240.7 745.8h0M206.3 831.7h0M185.8 792.9h0M187.8 748.6h0M222.3 834.5h0M205.1 836.4h0M197.7 810.4h0M232.5 767.1h0M203.9 752h0M204.1 828.7h0M204.8 799.3h0M220.2 822.4h0M208.3 832.9h0M189.5 844.7h0M170.9 825.2h0M214.3 831.9h0M183.5 746.1h0M235.9 781.5h0M193.6 828.7h0M221.2 759.1h0M219.3 801.8h0M174.1 793.4h0M221.1 756.7h0M217.9 770.9h0M206.9 843.3h0M202.6 787.3h0M191.9 780.7h0M194.3 841.2h0M235.9 833.9h0M227.2 838.9h0M193.2 836h0M236.9 810.6h0M209.5 815.4h0M172.3 805.8h0M175.5 834.4h0M242.9 845.1h0M181.3 783.2h0M175.3 813h0M179.8 748.3h0M187.5 753.9h0M244.5 836.8h0M229.9 812.7h0M206.9 758.5h0M186.4 745.3h0M177.6 767.1h0M217.3 744h0M218.1 790.8h0" stroke="#e6d8b6" stroke-width="3.2" stroke-linecap="round" fill="none" opacity="1"/>
<path d="M196 744.9h0M204.5 829.2h0M233.2 813.8h0M195.8 755h0M235.9 745.6h0M209.5 775.6h0M186.3 741.8h0M195.8 798.8h0M212.8 825.2h0M224.6 841.4h0M189.2 769.5h0M200 752h0M193.9 790.9h0M203.2 768.1h0M236.5 815.9h0M219.8 801.4h0M242.9 791.6h0M235.7 821.9h0M194.8 801.1h0M208.7 754.2h0M202.7 840.5h0M198.8 750.6h0M228.7 787.9h0M222.2 750.2h0M214.8 785.3h0M218.9 788.1h0M217.3 844.3h0M179.7 742.1h0M199.9 749.3h0M172.8 818h0M241.5 736.9h0M185.9 759.4h0M202.5 844.5h0M176.6 778.7h0M215.1 758.3h0M198.8 813.2h0M228.3 823.2h0M229.7 772.8h0M181.6 738.1h0M226.9 823.3h0M230.1 802.2h0M204.9 741.5h0M208.3 748.5h0M195.2 819.9h0M220.1 833.8h0M243.6 815.1h0M233.4 805.4h0M217 749.5h0M212.7 835.1h0M231.1 837.8h0M236.6 743.5h0M204.2 828.6h0M231.6 789.8h0M208.9 779.2h0M201.4 775h0" stroke="#f6f3ee" stroke-width="5" stroke-linecap="round" fill="none" opacity="1"/>
<path d="M302.7 800.8h0M289.3 754.8h0M309.4 799h0M303.5 793.1h0M297.8 845.2h0M295.4 794.4h0M295.4 802h0M295.7 782.5h0M302 803.6h0M315.4 741.8h0M296.4 762.8h0M302.3 835.3h0M322.1 815.3h0M322.3 791h0M308.9 751h0M313.3 765.3h0M306.2 761.6h0M304.4 779.5h0M319.9 793.4h0M315.2 764.4h0M304.1 793.9h0M295.9 781.5h0M296.8 810.6h0M307.4 814.1h0M322 751.2h0M290.2 797h0M302.3 831.6h0M319 800h0M301.8 784.8h0M324.5 748.4h0M303.2 819.7h0M311.1 746.7h0M317.1 837.6h0M314.3 755.1h0M320.7 752h0M312 821.5h0M305.2 743.9h0M284.4 806.9h0M314.9 774.1h0M315.1 777.6h0M302.1 811.3h0M311.9 807h0M288.7 811.6h0M315.8 818.4h0M309.4 801.1h0M293.1 845h0M323.8 764.6h0M310.5 818.4h0M302.8 767.9h0M297.7 753.3h0M316.7 792.9h0M325 759.5h0M324.3 807.2h0M306 748h0M288 805.4h0M292.8 836.9h0M310.1 741.6h0M319.1 810.7h0M291.9 777.2h0M311.3 833.8h0M299.7 824.6h0M322.5 840.3h0M308.9 825.9h0M286 814.1h0M318.8 774.2h0M318.7 774.5h0M318 772.4h0M306.2 804.2h0M297.6 783.4h0M309.8 841.2h0M322.6 750.1h0M312.7 749h0M320.6 813.7h0M304.8 799.4h0M309.2 747.7h0M302.9 835.5h0M284.2 813.9h0M285.9 794.7h0M290.3 744.5h0M323.9 752.2h0M301.4 769.7h0M298.2 760.2h0M299.6 843.3h0M288.7 827h0M316.3 786.5h0M312 796.5h0M324.6 742.1h0M314.8 825.9h0M310.4 842.3h0M285.1 803.2h0M314.3 744.2h0M305.4 825.6h0M311.1 777.9h0M317.3 836.2h0M292.5 763.5h0M317.5 818.7h0M301 844.5h0M324 801.2h0M298.9 746h0M301.1 745.6h0M292.3 830.8h0M314.3 775.5h0M287.3 838.1h0M321 819.7h0M311.6 811h0M294.2 797.2h0M290.6 748.3h0M313.4 784.6h0M296.2 821.6h0M309.8 809.9h0M320.9 756.5h0M301.8 744h0M313.8 818.2h0M285.8 825.5h0M308.4 763.2h0M312.3 838.1h0M319.7 778.5h0M293.9 813.4h0M296.8 828.8h0M294.6 833.8h0M322 795.5h0M284.3 822.4h0M318.9 750.9h0M313.5 746.4h0M296.3 767.8h0M289.4 806.4h0M324.4 791.3h0M322.6 765.3h0M288.2 767.1h0M317.4 771.9h0M297.5 831.4h0M308.5 779.6h0M319.6 751.8h0M291.3 803.7h0M303.6 811h0M317.2 811h0M290.2 815.3h0M292.8 746.7h0M295.4 778.3h0M304.1 749.1h0M309.6 777.8h0M324.6 788.7h0M317.9 824.5h0M308.4 808.7h0M286.4 835.5h0M323.6 836.8h0M296.1 755.4h0M293.6 746.9h0M307.6 831.6h0M297 827.5h0M319.4 799h0M319.3 763.9h0M308.6 806.6h0M293.8 792.8h0M316.2 788.6h0M288.1 844.3h0M319.5 790.1h0M296.5 736.9h0M296 843.3h0M314.7 752.4h0M310.2 745.6h0M303.6 840.3h0M323.6 747h0M301.8 823.8h0M318.4 794.7h0M307.2 795.4h0M311.2 843.1h0M310.7 760.8h0M292.6 789.8h0M311 823h0M294.3 757.1h0M286.6 819.3h0M301.4 824.4h0M324.2 765.4h0M297.6 748.2h0M288.4 757.7h0M316.3 813.8h0M312.3 820.8h0M291.3 842.1h0M305.2 765.2h0M316.8 763.4h0M283.6 819.3h0M288.2 844.5h0M318.3 772.9h0M323.6 800.9h0M305.8 767.3h0M320.8 803.2h0M295.1 770.3h0M295.4 772.1h0M322.4 799.4h0M309.3 817.5h0M285.5 802.2h0M315.9 745.2h0M322.1 790h0M300.1 826.5h0M324.1 740h0M294.4 789.9h0M295.4 814h0M298.1 788.5h0M300.2 821.2h0M305.7 778.4h0M319.6 784.3h0M324.7 750.5h0M286.8 812.4h0M320.3 741.8h0M297.2 815.9h0M313.2 796.9h0M311.8 831.4h0M307.2 777.6h0M291.6 772.7h0M317.3 829.9h0M298.1 761.9h0M324.1 742.2h0M299.2 780.8h0M312.3 740.7h0M311.5 740.5h0M291.5 784.6h0M315.1 757.3h0M310.4 738.9h0M289.4 769.8h0M286.1 824.4h0M307.1 826.8h0M302.5 797.1h0M296.1 806.4h0M318.7 780.7h0M297.4 819.6h0M316.8 835.7h0M299.9 773.3h0M304.1 801.3h0M311.2 826.8h0M309.4 763.8h0M315.5 821h0M318.1 747.1h0M299.7 829.4h0M299.3 753.8h0M284.4 813.2h0M302.2 754.9h0M302.1 816.6h0M311 804h0M306.6 767.3h0M297.8 838.2h0M303.2 767.8h0M302.7 748.9h0M306.9 839.1h0M310.3 736.7h0M318.4 757.8h0M305.3 736.6h0M324.6 780.7h0M324.1 738.8h0M289.5 749h0M298.2 777.9h0M315.2 767.2h0M309.4 788.6h0M316.6 762.5h0M323.1 816.2h0M309.2 798.1h0M310.3 738.8h0M320.4 789.5h0M291.2 775.5h0M313.3 822h0M292 778.3h0M324.5 743.2h0M299.4 840.4h0M313.3 793h0M301.8 743.9h0M314.6 773.4h0M285.9 842h0M286.5 787.5h0M312.1 795.5h0M299.5 817h0M293.2 812.9h0M300.5 841.7h0M318.8 760.6h0M320.5 784.8h0M297.2 752.4h0M290.2 740.3h0M292.1 778.6h0M311.7 835.1h0M311.9 841.5h0M322.7 831.1h0M295 741.1h0M307.8 776.4h0M324.2 739h0M322.7 767.1h0M311.5 815.8h0M303.1 820.7h0M318.3 749.8h0M317.2 843.9h0M317.6 800.9h0M308.1 747h0M306.5 768.7h0M292.7 837.9h0M293.7 757.9h0M319.1 794.7h0M319.8 755.3h0M320.9 782h0M320.2 803h0M297.2 775.1h0M287.5 796.7h0M285.9 835.1h0M293.7 771.2h0M299.1 788.5h0M321.9 744.8h0M297.7 795.4h0M304.6 831.8h0M305.6 809.2h0M311 777h0M301.5 759.3h0M287.6 841.1h0M311.3 749.1h0M318.4 781.1h0M300.3 822.5h0M295.4 810.9h0M315.8 809.3h0M289.8 749.5h0M314.6 802.7h0M298.1 838.6h0M306.2 844.2h0M290.6 826.8h0M324.3 754.8h0M291.3 787.9h0M296.3 800.5h0M297.2 822.4h0M307.4 754.2h0M308 843.8h0M323.4 751.2h0M312.3 745.6h0M319.2 771.8h0M309.4 836.1h0M301.8 771h0M285.2 809.4h0M311.2 810.6h0M294.4 753.3h0M319.1 830.9h0M308.5 771.5h0M296.7 834.8h0M322.7 766.1h0M323.1 768.4h0M319.1 830h0M308.5 794.1h0M301.4 773.9h0M322.4 779.3h0M287.4 800.2h0M298.7 770.9h0M322.7 809h0M302.4 837.1h0M290.6 755.9h0M323.9 748.5h0M314.1 767.6h0M287.3 839.7h0M313.2 771.5h0M291.7 814.5h0M314.6 768.5h0M305.9 769.5h0M315.3 787.8h0M292 795.6h0M288.6 813.7h0M324 761.6h0M290.3 799.5h0M293.1 748.5h0M304.1 756.6h0M311.5 791.4h0M292.2 835.4h0M305.8 822.6h0M316 764.3h0M292.2 767.9h0M304.4 816.8h0M288 765h0M283.5 823.7h0M322 800.9h0M307.5 783.3h0M296.6 777.2h0M303 773.3h0M308.8 752.8h0M299.1 837.8h0M292.1 844.1h0M323.7 836.2h0M324.9 842.9h0M304 825.1h0M290.4 825.7h0M290 830.1h0M315.2 811h0M315.6 772h0M317 837h0M309.7 810.9h0M292.7 780.1h0M312.9 800.5h0M306 751h0M317.5 844.7h0M288.8 843.3h0M294.7 842.8h0M300.3 823.8h0M306.9 806.5h0M321 742.5h0M308.8 840h0M309.7 799.1h0M312.7 822.4h0M295.1 748.8h0M295.8 805h0M291.9 774.8h0M302.5 773.7h0M310.1 838.8h0M305.5 823.7h0M292.6 833.8h0M319 748.4h0M293.3 737.1h0M289.7 826h0M303.5 805.9h0M303.8 748h0M324.3 838.7h0M301.7 841.7h0M311.2 782.1h0M287.8 844.1h0M296.5 816h0M299.1 742.3h0M299.3 739.3h0M307.6 838.3h0M310.9 841h0M306.6 797h0M306.9 738.8h0M296.1 787.3h0M305.6 834.6h0M312.6 773.2h0M324.4 802.8h0M285.9 793.1h0M295.3 780h0M308.6 828h0M313.3 839.8h0M306.9 748.5h0M307.5 832h0M296.8 842.6h0M285.8 803.1h0M292.3 800.4h0M292.9 794.1h0M290.7 837.3h0M321.7 792.3h0M290 796.2h0M291.4 837.3h0M318.4 749.7h0M289 806.4h0M293.6 749.6h0M290.1 740.5h0M319.3 751.3h0M283.9 821.9h0M315.1 794.5h0M324.3 837.1h0M307.3 753.6h0M314.5 737h0M323.1 822.3h0M311.3 749.9h0M316.8 822.1h0M322.6 783.4h0M298.6 831.9h0M300.7 809.7h0M314.6 758.8h0M306.7 824.4h0M324.3 763.5h0M297.1 786.6h0M310.7 817.2h0M300.4 751.2h0M299.9 749.6h0M309.2 743.5h0M294.4 742.2h0M304 836.7h0M311.7 749.6h0M288.6 809.3h0M286.5 801h0M320.1 780h0M296.4 741.8h0M313.6 796.8h0M313 746.9h0M299 771.1h0M305.1 790.8h0M313.3 785.4h0M302.7 755.9h0M299.9 761.5h0M301 807.7h0M303.1 761.1h0M314.6 751.1h0M318 832.8h0M291.4 755.9h0M306.4 740.4h0M304.4 789.8h0M316.1 756.9h0M314.4 744.8h0M304.7 782.3h0M298.5 789h0M297 813.3h0M311 736.6h0M300.8 769h0M310.5 827h0M315.8 834.6h0M321.9 796.1h0M283.6 813.8h0M320 835.8h0M301 749.6h0M303.7 753.2h0M295.3 756h0M318.3 841.7h0M317.7 800.5h0M320 836h0M300.7 777.5h0M295.4 757.2h0M317.2 771.4h0M300 830.3h0M307.9 740.6h0M309 746.8h0M303.9 763.1h0M315.7 798.3h0M301.9 819h0M321 781.8h0M312.3 752.9h0M322.9 744.9h0M310.3 778.6h0M299.6 752.5h0M304.9 844.8h0M315 832.2h0M302 756.2h0M300.1 810.4h0M295.9 767.2h0" stroke="#2c409a" stroke-width="1.9" stroke-linecap="round" fill="none" opacity="1"/>
<path d="M309.7 835.5h0M301.8 820.3h0M319.6 739h0M315.6 784h0M286.4 806h0M324.1 776.8h0M288.4 794.1h0M285.4 842.7h0M309.4 788.4h0M303.2 768.9h0M302.9 810.6h0M284.7 839.1h0M309.3 796.4h0M298.8 762.8h0M312.4 788.7h0M291.5 747.4h0M319.8 824.8h0M323.7 810.6h0M301.1 836.4h0M319.4 795.1h0M316.5 821.1h0M295.2 840.9h0M284.2 819.9h0" stroke="#e6d8b6" stroke-width="3.2" stroke-linecap="round" fill="none" opacity="1"/>
<path d="M306.6 781.8h0M306.8 834.8h0M296.9 743.4h0M320.8 843.3h0M323.6 835.4h0M305.8 747.6h0M321.9 840.4h0M298 755.7h0M292.6 774.1h0M297.4 823.7h0M300.1 754.6h0M307.9 789.3h0M286 787.5h0M295.1 764.2h0M320.7 845.5h0M303.5 833.7h0M300.6 830.6h0" stroke="#f6f3ee" stroke-width="5" stroke-linecap="round" fill="none" opacity="1"/>
<path d="M249.2 770.5h0M260.9 773.5h0M245.5 738.3h0M249.5 751.9h0M265 834.6h0M281 801.1h0M251.7 759.8h0M257 806.3h0M273.8 818.6h0M276.7 754.8h0M261.9 824.8h0M253.5 759.3h0M260.9 814.7h0M257.2 802.8h0M279.3 790.2h0M287.3 753.1h0M282.6 835.6h0M253.6 752.6h0M277 817.8h0M246.2 762.1h0M286.7 771.5h0M253.8 746.1h0M283.6 747h0M255.9 752.7h0" stroke="#6a74b6" stroke-width="1.6" stroke-linecap="round" fill="none" opacity="1"/>
<path d="M266.7 738.8L271.7 783.4L266.7 843" fill="none" stroke="#e6e0da" stroke-width="5" stroke-linejoin="round" stroke-linecap="round" opacity="0.7"/>
<path d="M243.9 751.2L244.9 756.1" fill="none" stroke="#a0285c" stroke-width="1.4" stroke-linejoin="round" stroke-linecap="round" />
<path d="M252.6 791.6L254 795.8" fill="none" stroke="#8a1c58" stroke-width="2.4" stroke-linejoin="round" stroke-linecap="round" />
<path d="M247.3 804.5L249.8 815.7" fill="none" stroke="#6a2a6a" stroke-width="1.2" stroke-linejoin="round" stroke-linecap="round" />
<path d="M228.2 797.8L240.1 797.8L240.1 800.8L248.6 795.8L240.1 790.8L240.1 793.8L228.2 793.8Z" fill="#f80000" />
<rect x="173.6" y="837.7" width="19.2" height="2.2" fill="#3a12f0"/>
</g>
<rect x="172.3" y="737.9" width="150.8" height="106.4" fill="none" stroke="#000" stroke-width="1.4"/>
</svg>
</body></html>
